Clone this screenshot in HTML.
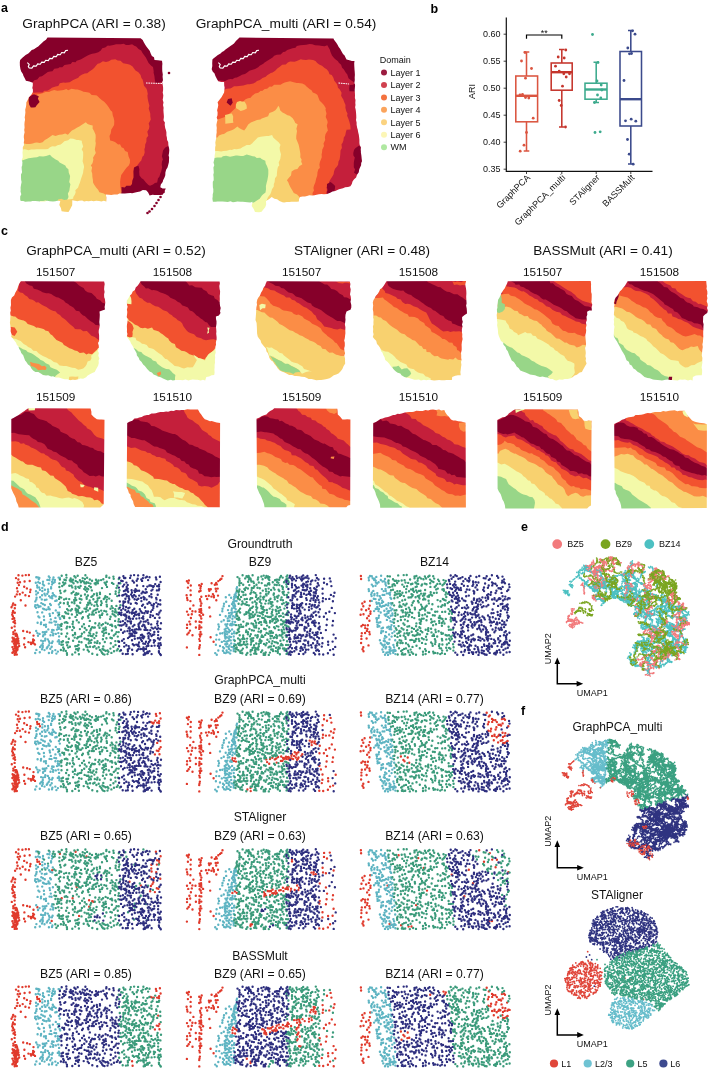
<!DOCTYPE html>
<html lang="en"><head><meta charset="utf-8"><title>Figure</title>
<style>html,body{margin:0;padding:0;background:#fff}svg{display:block}text{font-family:"Liberation Sans", Arial, Helvetica, sans-serif}</style></head>
<body>
<svg width="708" height="1069" viewBox="0 0 708 1069" font-family='"Liberation Sans", Arial, Helvetica, sans-serif'>
<rect width="708" height="1069" fill="#fff"/>
<defs>
<mask id="m1" maskUnits="userSpaceOnUse" x="0" y="0" width="708" height="1069"><polygon points="47.5,37.5 140.6,38.3 142.7,40 143.8,42.3 145.4,44.9 146.2,46.3 148.3,48.9 149.7,50.7 150.7,53.6 151.9,56 154,57.3 154.5,60 157.9,60.2 159.7,60.6 162,60.7 162.4,63.7 162.2,66.1 162.2,69 162.3,71.3 162.8,74.5 162.6,76.8 163,80.2 162.1,82.3 162.8,85.2 163.1,87.4 163.1,90.2 162.7,92.6 163.3,95.3 163.1,97.6 162.7,99.7 163.5,102.4 163,105 163.6,107.7 163.4,109.9 163.6,112.8 163.8,114.9 163.9,117 163.5,120.2 164.9,122.6 164.7,124.7 165.2,128 165.9,130 166.4,132.2 166.4,135.5 166.9,137.5 167.1,140 168.2,142 168.4,145.3 169,147.7 169.3,150 169.1,152.4 168.6,155.4 169.1,157.2 169,160 168.9,162.3 168.2,165.1 167.5,167.5 166.1,169.7 165.4,172.6 165.3,175.3 164.4,177.8 163.1,180.3 162.7,182.1 160.8,184.5 160.3,187.2 162.6,188.4 165.8,188.6 164.2,192 162.7,194.8 160.6,195 157.6,195 154.7,194.9 152.5,194.7 149.6,195.4 148,192.2 146.1,190.3 142.8,190.1 140.1,191.5 137.4,192.1 135.2,192.5 132.2,193.2 130.3,192.9 127.2,193.2 124.9,193.4 122.3,193.6 119.3,193.5 117.5,194.4 114.1,194.6 111.3,194.9 109,194.7 105.8,194.5 106.4,197.5 106.3,201.5 103.7,200.7 101.5,201.5 99,201 96.2,200.8 93.6,201.2 91.4,200.7 88.7,201.2 86.5,201 84.1,201.4 82.2,200.5 79.1,200.8 77.5,201.3 72.3,200.2 72.2,205.3 71.3,207 70,209.5 68.5,212 65,211.7 61.6,211.2 60.9,208 59.3,205.1 60.3,200.9 57.4,200.8 55.4,201.2 53,201.5 49.8,201.2 47.3,200.7 44.8,201.6 43,201.5 40.1,201.4 38.1,201.2 35.4,201 32.4,201.1 30.8,201.4 28.3,201.4 25.2,201.7 23.3,201 20.7,201.1 20.2,199.5 20.2,196.4 21.3,194.2 20.5,191.5 20.7,189.7 20.6,187.5 21,185.1 21.6,182 21.1,179.8 21,177.6 21,174.5 22.1,172.3 21.8,169.9 21.6,167.1 22.2,165.5 22.4,162.1 21.7,160.1 22.7,157.5 22.7,155.2 22.5,152.5 22.8,149.7 22.8,147.3 24,144.9 23.8,142.6 24.2,139.9 23.8,137.3 23.9,135.3 24.6,132.3 24.2,130 24.6,127.6 24.4,124.5 24.6,122.1 25.1,119.6 24.7,117.6 25.1,115.1 25.4,112.6 25.2,109.7 26,106.7 26.3,104.2 26.3,102.5 27.9,99.4 28.9,97.3 31.3,94.7 32.9,92.1 32.9,89.5 32.3,87.9 32.8,85.4 32.8,82.7 29.4,81.4 25.9,80.7 25,78.8 23.4,75.8 22.9,74.1 21.2,71.4 20.4,69 19.9,65.8 19.8,62.5 20.1,59.9 22.1,58 23.9,56.4 25.6,55 28.3,53.5 29.9,52.1 31.7,50.1 34,49.2 36.1,47.7 38.2,46.6 39.7,45 41.9,42.9 43.7,41.3 46,39.8" fill="#fff"/></mask>
<mask id="m2" maskUnits="userSpaceOnUse" x="0" y="0" width="708" height="1069"><polygon points="239.5,37.5 333.5,38.4 334,39.8 336.1,42.6 337.4,44.4 338.7,46.9 340.1,48.7 341.3,51.1 343,53.9 344.6,55.6 345.5,57.6 346.5,59.5 349.5,60.2 351.9,61.1 354.5,61.1 354.2,63.2 354.3,66 354.5,69.6 354.7,71.4 354.9,74.7 354.7,77.5 354.8,80.1 354.4,83 355.1,84.7 354.9,87.7 354.7,90 354.9,92.9 355,95.3 354.9,97.9 355.5,100 355.3,102.9 355.5,105 355.1,107.3 355.7,109.7 356,112.3 356.2,114.8 356.3,117.7 356,120 356.6,122.6 356.6,124.7 357.2,127.9 357.7,129.6 358.3,132.7 358.8,134.7 359.1,137.1 359.4,139.8 359.4,142.9 359.7,145 360.9,147.2 360.7,150.4 360.9,150.2 360.9,152.6 361.4,155.7 361.7,158.7 362,161.2 361.2,163.1 361.1,165.3 359.7,168.2 359.1,169.9 358.8,172.3 357,174.8 356.1,177.4 354.1,179.2 352.5,181.5 351.8,184 350.4,186.3 348,187 345.2,187.3 343,188.2 340,189.1 338.4,189.6 335.3,190.9 332.5,191.6 330.2,192.8 327.1,193.9 324,194.2 321.6,193.9 319,194.2 316.6,194.8 314.5,195.3 312.4,195.5 309.3,195.3 307,195.9 304.9,196.5 302.6,196.4 299.9,197 299,199 298.9,201.6 296.8,201.7 293.7,201.7 291.4,201.7 289.3,202 286.7,202.1 284.1,202.4 282.5,202.2 279.4,200.9 277.1,199.3 274.4,198.7 271.7,197.1 269.3,198.9 266,200.9 266.1,204.8 265.2,207.2 262.9,209.9 261.6,211.8 259.1,212.2 255,212 253.7,209 251.7,206.1 252.6,201.8 250.3,202.4 247.5,202.2 245.1,202 242.8,201.8 240.6,201.7 237.4,201.4 234.9,202.1 232.9,202.2 230.4,201.2 227.8,202 225.4,201.7 222.5,201.6 220.4,201.4 217.6,201.5 215.5,201.8 212.9,201.8 212.4,198.8 212.7,196.4 212.7,194.5 213.3,191.9 213.3,189.1 212.9,187.5 212.8,184.6 212.8,181.8 213.7,180.3 213.6,177 213.3,174.7 213.8,172.7 213.6,170 213.4,167.5 214.3,165.3 213.5,162.5 214.2,159.8 214.6,157.5 214.7,154.9 215.2,152.8 215.1,149.6 215.2,147 215.6,145.4 215.3,142.5 215.8,139.9 216.2,137.9 216.3,135 216.7,132.3 216.6,130.2 216.8,127.9 216.4,125.1 216.8,122.7 217.5,120.1 216.7,117.4 217.5,115.2 217.6,112.6 217.1,110.2 217.9,107.2 218.3,105 217.6,102.3 219.9,99.3 221.5,97.3 222.6,95.2 224.1,92.6 224.4,89.8 224.6,87.5 224.2,85.5 224.1,82 221.2,82.1 218.2,81.3 216.8,78.8 215.4,76 214.4,73.3 212.8,71.7 211.7,69.3 212.3,65.9 212.2,63.3 212.4,59.6 213.7,58.3 216,56.6 217.5,55.3 220.5,53.5 222,51.9 223.9,51 225.8,49.3 228,47.8 230.4,46 232.3,44.8 234,43.4 235.9,41.1 238,39" fill="#fff"/></mask>
<mask id="m3" maskUnits="userSpaceOnUse" x="0" y="0" width="708" height="1069"><polygon points="20.8,281.3 104.1,281.4 104.7,283.9 104.3,286.6 104.1,289.2 104.6,292.1 104.1,294.2 104.2,297.3 104.9,299.1 105.3,302.6 105,304.9 104.6,306.9 105,309.6 102.2,310.6 99.5,311.6 99.8,314.7 99.7,317.1 99.5,319.8 99.3,322.1 99.7,325.5 99.4,327.8 98.8,329.9 98.7,332.3 99.1,335.3 99.1,337.8 99.1,340.9 98,342.9 98.8,345.7 98.8,348.2 98,351 98.9,353.1 98.3,355.7 99.4,358.6 98.6,360.6 98.8,362.9 98.1,365.8 96.4,368.8 94.7,371.9 92.3,373.1 89.9,374.3 87.7,375.4 86.1,377.3 83.1,378.7 80.4,378.6 78.4,379.3 74.9,380 72.4,379.7 70.3,380.2 67.5,379.3 64.9,379.3 62.7,378.7 60.5,378 58.8,377.5 55.9,377.4 53,376.2 51.2,376.4 48.1,375.3 46.1,375.6 43,375.1 41.2,373.7 38.3,372.1 35.4,371.9 33.1,370.5 31.4,368.6 30.1,366 28,364.4 26.2,361.8 25.1,360.4 24,357.6 23.2,355.3 21.2,353.1 20.5,350.7 19.1,348.8 18.4,346.3 16.9,345.1 16.1,342.8 14.5,340.8 12.6,338.2 11.2,337.1 11.6,334.4 10.6,331.2 10.8,328.6 10.4,326.1 9.9,322.8 10.2,320.4 10.3,317.7 10.5,315.4 10.2,312.7 10.8,310.4 10.4,307.8 11,305.1 10.9,302.4 10.9,300.1 11.9,297.6 14.2,295.4 15.4,292.4 16.9,290.1 17.6,288.2 18.3,285.9 19.3,283.6" fill="#fff"/></mask>
<mask id="m4" maskUnits="userSpaceOnUse" x="0" y="0" width="708" height="1069"><polygon points="140.5,281.3 219.6,281.5 219.9,283.4 219.3,286.1 219.6,289 220.1,291.3 220,293.8 219.7,296 219.8,299 219.7,301.3 219.8,303.7 220.1,305.9 220.7,307.9 220,311.3 220.5,312.9 218.9,315.4 215.9,316.6 216,319 216.5,321.3 216.5,323.7 216,327 216.2,329.1 216.4,331.6 216.2,333.7 216.6,337.1 216.6,339.5 215.9,341.9 216,344.8 215.3,347.1 215.4,350 215.7,352.5 214.9,355.3 215.2,357.5 214.9,359.9 215,362.8 214.6,365 214.6,367.7 214.4,369.8 214.6,372.6 214.2,375 211.6,375.3 209.1,376.6 206.3,377.1 205.2,380.4 202.9,379.7 200.7,380.4 197.5,379.8 195.8,379.8 192.7,379.5 190,380.1 188.5,380.5 185.5,379.5 182.8,380.3 180.8,380.1 177.7,380 175.5,380.1 172.8,380.4 170.9,379.7 167.8,380.4 165.3,379.6 163,378.5 160.7,377.2 157.8,376.4 156.2,375.5 153.6,374.4 151.9,372.4 149.9,371.8 148.1,370.1 146.8,368.5 144.9,365.9 143.1,364.4 141.6,362.1 139.5,359.9 138.7,357.7 136.9,355.5 136.6,353.3 135.4,351.1 133.9,348.6 132.4,345.6 131,343.5 130.3,341.5 128.5,339.1 126.8,336.7 127.4,334.1 126.9,331.7 127,329.5 126.8,326.5 127,324.6 127.4,322.2 127.6,319.4 126.7,317.1 127.1,314.3 127.3,312.1 126.9,309.6 127.6,306.8 127,304.7 126.9,302.4 126.9,300.4 128.6,298.1 129.7,295.8 131.6,294.1 132.7,291.6 134.9,289.9 135.7,287.6 137.8,285.4 139.2,283.6" fill="#fff"/></mask>
<mask id="m5" maskUnits="userSpaceOnUse" x="0" y="0" width="708" height="1069"><polygon points="28.3,408.3 90.6,408.5 91.4,411.8 91.4,414.4 93.8,416.9 96.9,419.3 99.2,419.4 101.5,419.6 104.5,419.8 103.7,504.4 101.7,506.3 100.3,507.5 18.7,507.4 17.9,504.4 16.4,501.4 15.8,498.3 14.6,495.4 13.2,492.9 11.9,490.1 11.2,488.3 11.3,419 13.4,418 15.5,416.8 18.3,415.2 20,414.1 22.1,412.6 24.4,411.1 26,409.8" fill="#fff"/></mask>
<mask id="m6" maskUnits="userSpaceOnUse" x="0" y="0" width="708" height="1069"><polygon points="127.2,423 129.3,421.8 132.3,420.7 134.4,418.6 137.3,418.3 139.2,417.6 141.7,417 143.8,415.7 147,415.1 148.7,414.9 151.5,413.5 153.8,413.6 155.8,413.3 158.1,412.6 160.4,412.1 163.7,412 166.1,411.6 168.1,411.7 171,410.7 173.6,410.9 176,410.1 179.5,410.2 181.6,409.9 184.4,410 187.3,409.3 190.3,409.4 192.4,409.4 195.6,409.5 198,409.6 199.6,412.6 201.4,414.8 203,417.2 204.8,419.3 207.1,420 210,421.2 211.7,421 214.9,422 216.7,422.6 220.1,422.9 219.8,507.2 135.1,506.9 133.6,503.9 133.1,501.3 131.8,499 130.6,496.7 130.6,494.8 128.9,492.9 128,490 126.7,487.6" fill="#fff"/></mask>
<mask id="m7" maskUnits="userSpaceOnUse" x="0" y="0" width="708" height="1069"><polygon points="266.8,281.3 349.8,281.5 350.4,283.9 350,286.8 350.7,289.2 350.5,291.5 350,294.2 350.7,296.5 351,299.3 350.5,301.7 351.3,305 351.3,307.5 350.5,309.8 348.5,310.4 346.5,311.5 345.5,314.7 345.3,317.4 345.5,319.7 345.2,322.3 344.9,324.5 345.4,327.3 345.3,329.9 345.4,333.2 345.1,335.6 344.8,338.2 344.2,340.5 344.8,342.8 344.8,346.1 344.2,348.2 344.4,350.7 345.1,353.2 344.3,355.4 345.1,358.8 345,360.8 345.2,363.6 343.5,366.2 342.4,369 340.7,371.3 338.5,373.4 336.2,374.4 333.8,375.3 331.2,377.3 329.6,378.2 326.9,378.9 324.4,379.6 321.2,380 319.1,380 316.4,380.3 313.5,379.5 311.7,378.9 308.6,378.9 306.9,378 304.7,377.1 301.6,376.8 299.3,376.2 296.4,375.9 294.7,376.1 292.1,375.1 289.1,375.1 286.9,373.8 283.9,372.2 282.2,371.7 279.7,370.4 277.6,368.3 276.3,366 274.4,363.9 272.9,361.6 271.2,360.5 269.4,357.9 268.9,355.9 267.8,353.1 266.5,351.6 265.9,348.5 263.9,346.3 262.5,344.6 261.3,343 260.5,340.3 259,338.5 257.7,336.4 257.1,333.6 257,331.3 256.9,327.9 256.8,325.9 256.6,323.1 255.5,320 255.7,317.8 255.9,315.2 256.1,312.7 256.2,309.5 256.4,307.3 257,304.8 256.7,302.5 257.3,299.6 258.4,297.5 260,295.5 261,292.7 262.7,290.1 263.3,288.1 265.2,285.5 265.6,284" fill="#fff"/></mask>
<mask id="m8" maskUnits="userSpaceOnUse" x="0" y="0" width="708" height="1069"><polygon points="386.5,281.3 466.1,281 465.3,284.3 465.5,285.9 466,288.6 466.3,290.9 466.4,293.5 466.2,296.5 466.3,299 466.4,300.6 466.6,303.6 466.1,305.6 466.7,308.5 466.9,311.1 467,313.4 464.6,315.1 462.1,317.1 462.1,319.4 462.8,321.8 462,324.5 462.5,326.4 461.9,329.2 461.9,332.1 462.3,334.2 462.2,336.8 462.6,339.1 461.9,342.1 461.6,344.8 461.7,347.3 461.7,350 461,353 461.2,354.9 461.2,357.9 461.6,360 461,362.1 461.4,364.7 461,367.3 460.7,369.9 460.4,372 460.7,375.3 458,375.3 455.3,375.7 452.2,377 451.9,380 449.3,380 446.5,380.1 444.5,380.2 441.5,380.2 439.1,379.9 436.8,380.3 434.1,380.4 431,380 429.1,379.8 426.2,380.2 423.9,379.8 421,380.5 418.9,379.6 416.2,379.8 414.4,379.7 411.3,378.8 409,378 406.3,377.7 404.4,377 401.5,375.2 400.3,373.5 397.7,372.7 395.9,371.6 394.2,370 392.1,367.7 390.4,365.6 389.2,363.7 387.7,362.1 385.2,360 384.6,357.2 383.3,354.9 382.4,352.5 381.1,351.2 380.2,348.1 378.5,345.6 377,344 376.2,340.8 374.4,339.1 372.8,337 373.6,334.3 373,332.1 373.2,329 372.9,326.5 373.5,324.5 373.4,322.3 373.6,319.2 373.1,317.5 373.4,314.6 373.3,311.9 372.8,309.3 373,307.1 373.2,305.4 372.8,302.5 373.5,300.1 374.7,298.2 375.6,296.3 377.7,294.1 379.3,291.3 380.1,289.3 382,288 383.9,285.4 385.1,283.6" fill="#fff"/></mask>
<mask id="m9" maskUnits="userSpaceOnUse" x="0" y="0" width="708" height="1069"><polygon points="274.3,408.3 337.3,408.8 337.6,411.1 337.8,414.6 340.2,416.8 342.4,419.6 344.9,419.6 347.2,419.3 350.4,419.6 350.2,504.9 347.9,505.5 346.3,507.3 264.5,507.3 264,504 262.9,500.9 261.9,498.2 260.4,495.1 259.3,493.2 258.2,490.4 257,487.7 256.5,418.7 259.6,417.4 261.4,416.2 263.9,415.3 266.4,414.4 268.2,412.5 270.1,411 272.6,409.8" fill="#fff"/></mask>
<mask id="m10" maskUnits="userSpaceOnUse" x="0" y="0" width="708" height="1069"><polygon points="373.2,423 375.9,422 377.8,420.7 380.4,419 382.6,418.4 385.1,417.6 388,417 390.1,416.3 393.1,414.9 395,415 397.6,413.8 399.5,413.9 401.7,413.4 404.8,412.4 406.7,412.2 409.3,411.9 412,412.1 413.8,411.7 416.3,410.7 419.7,411.1 422.7,411 425.5,410 428.1,410.4 430.3,409.7 433,409.4 436,410 439.1,409.5 441.3,410.4 444.3,410 445.4,412.5 447.1,415 449.1,417.1 451,419.6 453.1,420.6 455.4,420.5 458.2,421.3 461,421.6 463,422 465.6,422.8 465.9,507.4 380.2,507.7 380,504.6 379,501.4 377.9,499 376.8,496.7 375.9,494.5 375.5,492.7 374.3,489.7 372.9,488" fill="#fff"/></mask>
<mask id="m11" maskUnits="userSpaceOnUse" x="0" y="0" width="708" height="1069"><polygon points="507.8,281.3 590.7,280.9 591.1,284.1 591,286.2 591.1,289.4 591.1,292 591.7,294 591.7,296.9 591.6,300.1 591.4,301.7 592.3,304.7 591.6,307.2 591.9,310.5 589.2,310.6 587.1,311.7 587.3,314.7 586.5,316.7 586.8,320.2 585.9,322.6 586.5,325.2 585.8,327.9 586.2,329.9 586,332.5 585.3,335.2 585.5,337.9 585.8,340.9 586,343.6 585.9,346 585.1,348 585.6,350.9 585.8,352.9 585.4,356.3 586,358.5 585.6,360.7 586.6,363.5 585.3,365.8 583.3,369.2 581.9,372 579.7,372.6 576.9,374.8 574.6,375.4 572.5,377.2 570.7,378.3 567.7,379 564.8,379 562.4,379.7 559.2,379.5 556.6,380.6 554.9,380.2 552.6,379 550.3,379.1 547.5,377.6 545.2,377.3 542.5,376.6 540,376.9 537.4,376.2 535,375.3 533.2,374.9 530,374.6 528,373.6 525.7,372.4 522.9,371.6 520.3,370.6 518.6,367.9 516.6,366.5 515.6,364.6 513.9,362.1 511.7,360.4 510.5,357.7 509.4,355.4 508.5,353.3 507.8,351.2 506.2,349.2 505.6,347 503.5,344.8 503.1,342.4 501,341 499.9,338.6 499,336.6 498.1,333.6 498,331.3 497.7,328.6 497.1,325.3 497.4,322.8 497,320.4 496.9,317.2 496.7,315 497.1,312.5 496.9,309.5 497.4,307.8 497.4,305.4 497.8,302.4 498.1,299.7 499.4,297.8 500.8,294.8 501.8,292.6 503.4,289.9 504.8,288.3 505.9,285.7 507.2,283.3" fill="#fff"/></mask>
<mask id="m12" maskUnits="userSpaceOnUse" x="0" y="0" width="708" height="1069"><polygon points="627.5,281.3 706.2,281 706.5,284.2 706.8,286.5 706.5,288.7 707.3,291.2 707.4,294 706.9,295.6 707.4,298.2 706.7,301.3 707.6,303.8 707.8,305.7 707,308 707.9,310.5 707.2,312.9 705,314.5 703.2,316.3 703.1,319.6 703,322 703.6,324.2 703.4,326.9 703.4,328.9 703.2,331.4 703.2,334.7 703.3,336.2 703.1,339.6 702.9,342.2 702.4,344.2 702.8,346.9 702.3,349.9 702.1,352 701.8,355.5 702.4,358 702.2,360.5 702.4,362.6 702,365 701.6,367.4 702.1,369.7 702.1,372.5 701.8,375.3 699,375.2 695.9,375.6 692.9,377.1 692.6,380.5 690.3,379.8 688,380.4 685,379.6 682.3,379.7 679.9,379.6 677.7,380.5 674.7,380.3 672.6,380 670.4,379.9 667.8,379.5 665.5,379.7 662,380.4 660.2,380.2 657.8,379.9 654.6,379.8 653,379.6 649.7,378.3 647.5,377.9 644.5,377 642.8,375.4 640.6,373.6 639.4,372.7 637.5,371.7 635.3,369.6 633.4,368.5 631.7,365.6 629.7,364.5 628.8,361.7 626.5,360.2 625.5,357.4 624.8,355.5 623,352.5 622,350.9 620.5,347.9 619.7,346.4 618,343.6 617,341.4 615.1,338.8 613.9,336.4 613.8,334.1 613.9,332.1 614,329.8 614.5,326.7 613.8,324.5 614.1,322 613.8,319.6 614.4,317.1 613.9,315.1 614,312.7 614.4,309.3 614.1,307 614.5,304.8 613.8,302.9 614.5,300.1 615.7,297.5 617.6,295.6 618.6,293.7 620,291.2 621.9,289.6 622.9,287.9 624.9,285.7 626.4,283.2" fill="#fff"/></mask>
<mask id="m13" maskUnits="userSpaceOnUse" x="0" y="0" width="708" height="1069"><polygon points="515.3,409.3 577.9,409.5 578.6,412.3 578.8,416.1 581.6,417.9 583.8,420.8 586.2,421.1 588.7,420.6 591.6,420.8 591,505.5 589.1,506.5 587.1,508.4 505.3,508.5 504.9,505.2 503.8,501.7 502.4,499.5 501.4,496.2 500.7,494.2 498.7,491.3 497.6,488.8 497.3,419.9 500.1,418.6 502.5,417.2 504.9,416.9 507.6,415.1 509,413.3 511,412 512.9,410.5" fill="#fff"/></mask>
<mask id="m14" maskUnits="userSpaceOnUse" x="0" y="0" width="708" height="1069"><polygon points="614.2,424 616.7,422.7 619.5,421.6 622,419.7 624.5,419 626.2,418 628.8,417.3 631,417.1 633.8,416.5 635.5,415.1 638.1,414.9 641.1,414.8 643.5,414.2 645.6,413.6 647.7,413.1 650.3,413.2 652.7,412.6 654.9,412.1 658.1,412.1 660.8,412.1 663.1,411.1 665.9,411.6 669.2,410.8 671.9,410.5 674.7,410.3 677.2,411.3 679.6,410.8 682,410.7 684.7,410.8 686.2,413.2 687.9,415.9 689.9,418 692.1,420.5 694.2,421.6 696.9,422.2 699.3,422.7 701.2,423.1 704,423.3 706.9,424.2 706.8,508 621.4,508.6 620.9,505 620,501.9 618.8,500.1 618.5,498.2 617.1,495.9 615.9,493.6 615.6,490.9 614.6,489.5" fill="#fff"/></mask>
</defs>
<g mask="url(#m1)">
<rect x="18" y="35.5" width="153" height="178" fill="#86002A"/>
<polygon points="32.5,82.5 34.2,80.2 37.3,79.5 39.4,76.8 42,76.3 44.4,74.6 47.8,71.9 50.1,71.4 52.4,71.3 54.3,68.7 58.2,68.3 59.5,67.2 62.3,67.3 64.5,65 67.6,64.6 70.8,64.1 72.3,62 75.6,62.3 76.7,60.8 80.6,59.6 82,58.8 85.4,56.7 87.7,55.6 89.2,54.8 92.2,53.8 95.2,53.3 98.3,52.2 100.8,50.6 102.2,48.3 105.2,47.6 107.8,45.6 109.5,45.7 113.5,45 116,44.2 120.7,44.3 123.8,43.7 125.9,44.9 128.9,45.1 132.1,44.2 134.3,45.8 136.2,46.4 138.5,49.1 141.2,50.6 142.5,53 143.8,54.8 146,57.7 146.7,59.3 148.6,62.9 151.2,65.8 153,67.1 153.7,71.3 153.6,72.7 154.4,76.1 154.7,78.7 155.4,83.1 158.5,82.7 162,82 165.7,82.2 167.3,82.4 170.9,82.5 173.8,82.3 175.9,82.9 178.5,82.9 181.2,81.9 183.3,83 187,83.3 189.6,82.6 191.4,83.1 194,82.4 196.7,82.3 199.7,82.4 200.4,230.1 -0.4,230.5 0.4,83.1 1.9,82.7 6.1,82.1 7.6,83 10.6,82.3 14.1,82.3 15.7,82 18.7,82.8 21.4,83 23.6,82.1 27.3,82.5 29.8,83.2" fill="#C41F3B"/>
<polygon points="42.5,92.5 44.3,90.8 47.2,90.8 50,89.2 51.8,87.7 55.6,86.5 58.3,85.9 59.8,83.2 63.4,82.6 65.2,82.8 69.6,82.2 72.8,80.3 74.3,79.4 78.3,77.8 79.4,76.2 81.7,74.7 84.8,73.4 87.2,73.2 89.4,71.5 92.4,69.4 94.1,68.1 96.1,65.4 97.7,63.8 99.8,63.3 102.9,61.3 106,62 108.9,61.3 111.3,59.8 115.3,59.2 117.7,60.6 120.5,60.8 123.2,63.2 127.3,64 130,64.8 132.6,66.4 134,68.4 135.5,70.4 138.4,72.3 140.6,75 141.4,78 142.6,79.4 143.2,81.7 144,85.8 146.2,88.3 147,90.1 147.8,94.1 147.4,95.5 147.7,98.6 148.3,101.4 149.4,105.8 148.7,108.5 149.5,111 150.3,113.8 150.3,116.2 150.8,119.5 148.7,123.6 149.4,126.3 149,128.8 147.3,131.7 148.3,135.8 146.5,137.9 146.4,141.7 145.2,144.6 145.1,147.1 144.4,149.3 144.7,152.5 143.8,155.6 142.4,156.8 141.2,160.8 140,161.8 137,165.8 135.8,167.1 134.7,230.4 0,229.5 0.8,93.2 2.4,92.2 5.3,93.4 7.4,92.2 11,93.6 13.1,92.8 16.2,92.8 18,92.4 20.8,92.2 23.2,92.5 26.1,93.3 28.9,93.4 32.4,92.2 33.9,92.7 37.1,92.6 39.2,92.6" fill="#F2522F"/>
<polygon points="26,99 28.8,98.2 31.9,96.6 34.3,96.7 37.5,94.3 39.9,93.9 42.5,93.3 45.5,92 49.1,91.9 50.9,90.9 54.2,90.1 57.3,90.8 59.9,90.6 63.7,89.9 66.3,88.9 68.2,90.2 71.6,88.7 75.7,89.4 77.5,89.6 80.8,90.4 83.5,91.7 87.2,92.3 89.5,92.7 91.7,94.9 95.4,95.2 96.9,95.4 99.4,97.9 101.7,100 104.5,102 107.1,104.9 108.7,107.3 110.7,110.5 112.2,111.8 112.8,115.4 113.7,118.1 114.3,121.1 114.1,124.9 112.2,128.2 111.3,129.4 110.7,133.5 109.5,136 110.2,140.4 112.4,141.1 115,142.1 118.1,144.5 120,144.2 121.7,147.4 123.5,148.1 125.1,151 127.7,152.1 128.5,156.3 130,159.7 129.9,163 128.8,165.6 126.7,167.6 124.4,170.6 122.7,172.9 121.2,175.1 120.4,179.3 120.1,182 120.3,186.6 120.9,189.9 123,192.6 123.3,195.5 121.7,198.6 122.4,201.2 123,202.6 121.7,205.1 123,209.1 122,210.6 122.3,214.4 122.9,217.2 123.3,219.7 123.1,221.1 121.7,225.3 122.7,227 121.9,229.7 -0.3,230 -0.1,98.5 1.9,98.5 4.6,98.3 7.7,98.4 10.9,99.1 12.9,99.2 15.1,98.2 17.5,98.7 20.6,98.6 23.1,99.6" fill="#FB8D46"/>
<polygon points="0,144 2.7,144.1 5.9,144.7 8.6,143.8 11.4,143.9 13,143.3 16,143.4 18.3,144.2 21.8,144.4 23.3,143.3 26.2,143.9 29.9,144.1 32.7,143.5 34.8,142.8 36.9,142.4 39.9,142.9 42.6,142.3 44.9,139.9 48,138.3 50.4,136.5 52.5,135 55.5,136 59.2,134.8 62.1,134.4 65.2,133.6 67.9,134.8 69.9,132.4 71.9,130.6 74.5,129.2 76.8,127.7 79.3,126.5 82.3,124.5 85.8,122.2 87.6,124 90.4,125 92.7,125.6 92.6,128.5 94,130.9 95.6,134.8 95.7,137.3 95.4,141.2 95.8,143.1 95.5,145.7 94.8,149.5 95.8,153.1 94.3,155.4 93,157.8 93.4,159.4 92.5,163.3 90.8,165.5 92.1,167.3 91.4,171 92.2,173.4 92.4,177 92.9,180 93.1,182.7 94.4,184.9 96.1,187.4 98.1,189.8 99.4,192.3 103.8,193.4 106.8,195.6 105.9,197.2 106.6,201.2 105.7,203.4 106.4,206 105.4,208 106.4,211.4 106.3,213.5 106.6,217 106,219.8 105.7,222 106,225.4 106.7,227 106.5,229.7 0.7,230.7" fill="#F8D16F"/>
<polygon points="0,150 2.7,150.4 5.7,150.6 7.6,150.8 10.7,150.4 13.7,150.7 15.6,149.8 19,150.1 21.7,149.8 24.7,149.2 26.9,149.8 28.4,150.3 31.1,149.5 34.2,149.4 36.6,149.3 40.4,149.3 41.9,149.3 45.7,149.2 48,149.1 50,147.2 52.3,146.2 55.2,146.5 57.5,145.3 60.7,144.6 62.8,142.8 64.3,141.3 68.1,140.2 70.3,138.6 73.3,138.8 76.7,140 78.6,140 81.8,140.8 81.9,142.5 83.2,146.4 81.7,149.3 83.1,151.9 83.2,155.1 83,158.3 82.6,161.3 83.7,164.7 84.1,166.9 83.4,170.1 83.1,172.8 82.1,175.8 80.9,179.2 79.9,182.8 79.2,184.2 78,187.8 75.3,190.3 75.7,192.3 74.9,194.4 73.3,197.1 73,199.7 72.1,203.6 72.4,205.4 72.8,207.6 73,211.2 72.5,214.1 73.1,215.7 73.3,219.1 73,222.1 73.3,225 72.1,226.7 72.3,229.6 -0.5,230.1" fill="#F3F9A8"/>
<polygon points="0,160 2.3,160.8 6,160.7 8.4,160.6 9.7,160.2 12.7,160.4 15.6,160.1 18.4,160.1 21.6,160.8 23.5,159.9 27.1,158.7 28.5,158.3 32.3,157.8 34,157.5 37,157.2 39.4,156.2 43.1,156.5 46.1,156 49.9,154.8 52,156.9 55.7,159.6 58.2,160.8 59.6,162.5 62.5,164 65.3,165.5 66.3,167.6 68.4,169.3 68.8,172.8 70.1,176.1 69.8,178.7 69.2,182.1 70.4,184.3 69.8,187.5 69.3,190.8 67.9,193.4 68.5,197.1 66.8,200.7 67.1,202.6 -0.8,202.7 0.1,201 -0.3,197.6 -0.7,195.3 -0.3,192 -0.4,190.1 0.8,186.3 -0.1,183.5 0.4,182.2 -0.6,179.1 -0.3,176 0.1,173.2 0.3,170.5 0,167.8 -0.1,164.8 -0.2,162" fill="#98D688"/>
<polygon points="58,199.5 61.3,198.8 64.2,200.1 67.6,199.5 70.2,199.3 73,198.8 73.3,202.4 72.6,204.7 73.4,207.5 73.8,211.1 73.6,212.3 69.3,212.6 66.8,213.3 64.6,213.1 61.2,213.1 57.2,213 57.5,210.2 57.2,207.9 58.7,204.2 58.1,201.4" fill="#F8D16F"/>
<polygon points="40,201 43.2,200.9 46.4,200.3 46.3,204.8 43.2,204.4 39.7,204.6" fill="#F3F9A8"/>
<polygon points="134,167.5 136,166.6 138.5,165.8 139.4,169.2 139.2,171.8 139.5,175.5 141.6,178.2 143.3,179.2 145.9,182.4 148.4,184.9 150,185.7 153,184.6 154.9,183 157.2,182.4 157.9,178.6 159.5,176.5 160.2,173.7 161.2,171.4 162.1,167.6 161.7,164.4 162,161.4 162.9,159.4 161.9,156.3 162.7,152.3 163,150.4 165,147.8 167.6,146.2 172,147.3 174.2,147.2 175.2,199.8 121.9,200.5 122.8,197 121.3,193.8 121.6,190.7 121.5,187 124.7,187.4 126.4,185.8 130.5,185.7 132,183.9 132.3,180.7 133.5,177.5 133.5,174.7 133.4,171.5" fill="#86002A"/>
<polygon points="29,97 32.9,94.6 34.7,94.6 38.8,96.3 37.9,98.7 39.6,101.9 36.7,105.2 35.4,107.2 33.2,107.4 30.8,107.5 29.2,104.8 28.8,102.4 28.5,100.6" fill="#86002A"/>
<polygon points="20,99 22.5,98.2 24.8,99 28.1,98.3 28.1,100.8 28.4,104.1 25.5,105.3 22.6,105.9 20.4,101.9" fill="#FB8D46"/>
</g>
<circle cx="169" cy="73" r="1.3" fill="#86002A"/>
<circle cx="160.5" cy="197" r="1.3" fill="#86002A"/>
<circle cx="158.5" cy="200" r="1.3" fill="#86002A"/>
<circle cx="156.5" cy="203" r="1.3" fill="#86002A"/>
<circle cx="154.5" cy="206" r="1.3" fill="#86002A"/>
<circle cx="152" cy="209" r="1.3" fill="#86002A"/>
<circle cx="149.5" cy="211.5" r="1.3" fill="#86002A"/>
<circle cx="147.5" cy="213" r="1.3" fill="#86002A"/>
<circle cx="157" cy="193" r="1.3" fill="#86002A"/>
<circle cx="160" cy="193" r="1.3" fill="#86002A"/>
<circle cx="163.5" cy="192" r="1.3" fill="#86002A"/>
<circle cx="153" cy="192.5" r="1.3" fill="#86002A"/>
<circle cx="150" cy="191" r="1.3" fill="#86002A"/>
<polyline points="27.3,62.7 29.2,64.3 28.3,66.7 29.2,67.9 31.9,68.1 33.5,65.9 36.2,66.1 37.7,63.9 40.3,64.2 41.7,62.1 44.3,62.4 45.7,60.3 48.3,60.6 49.7,58.4 52.3,58.6 53.7,56.4 56.3,56.6 57.7,54.4 60.3,54.7 61.7,52.5 64.3,52.8 65.7,50.6 68,50.3" fill="none" stroke="#fff" stroke-width="1.1"/>
<polyline points="146,83 162.5,83.5" fill="none" stroke="#fff" stroke-width="1" stroke-dasharray="1.6 0.8"/>
<g mask="url(#m2)">
<rect x="210" y="35.5" width="154.5" height="178.5" fill="#86002A"/>
<polygon points="225,81 228.2,79.6 230.8,78.9 232.4,79.2 234.8,77.7 236.9,77.6 240.8,75.4 241.9,74.7 245,74 247.2,72.5 249.4,70.7 251.8,70 255.1,68.9 258.2,67.2 259.7,65.8 263.3,63.8 264.6,62.4 267.8,60.5 269.4,59.6 272.6,57.6 274.2,55.8 276.8,54.7 280.7,54.4 283.1,52.1 285.1,51.7 287.2,50 290.4,49.1 292.5,48.3 295.5,47.7 296.8,46 300.2,45.3 303.4,45 306.3,44.7 309.6,43.9 312.3,44.3 315.1,45.2 319.3,45.6 322.2,46 324.6,46.2 327.3,45.3 329.9,49.7 330.4,51.8 332,55.4 333.6,57.6 335,59 338,61.2 338.6,62.5 341.1,64.7 342.1,67.7 343.7,69.2 346,72.9 347.2,74.3 348.5,78.3 350,79.6 353.2,81.7 355,83.4 352.9,84.8 349.6,85 349.2,88.4 349.5,91.2 400.4,92.4 399.2,229.4 190.4,229.7 189.4,81.3 193.5,80.8 195.5,81.1 198.2,81.2 201.5,81.6 204.1,81.3 206.6,81.4 209.3,81.3 212,80.2 213.7,81.3 216.8,80.5 219.9,80.5 222.7,80.7" fill="#C41F3B"/>
<polygon points="224,90 226.6,88.8 230.1,88.4 231.4,88 234.1,86.3 236.8,86.2 241.2,85.7 243.3,85.6 247.5,84.2 249.6,84.3 253.3,83.6 255.6,82.2 257,80.9 259.9,79.9 262.5,78.1 265.7,76.7 267.2,75.3 270.8,73.1 272.6,72.6 275.2,70.7 277.3,68.4 279.8,66.8 282.2,64.8 285.8,64.4 287.8,62.6 290.1,61.4 294.5,61.8 296.8,61 300.8,59.2 302.9,59.8 306,60.1 309,59.4 313.1,59.9 315.5,60.9 317.2,63 319.2,64.4 322,65.8 324.6,68 326.7,69.2 328.5,71.6 329.5,74.2 331.8,75 333.4,77.7 334.3,80.8 336.4,83.3 337.4,84.9 338,87.8 339.8,89.5 341.6,92.7 341.1,95.8 342.5,98.2 343.2,99.2 344.3,102.3 345.5,105 345.4,107.8 346.3,111.2 347.5,113.6 347.1,115.8 348.5,119.1 349.6,122.4 350.3,125.5 350.6,129.4 346.6,129.8 345.8,132.4 345.3,135.2 343.7,137.7 343.5,140.2 342.5,143 341.5,144.3 341.9,148.1 340.5,150.4 340.4,153 340.1,156.2 339.6,159.6 338.5,161.6 338.1,164.7 337,166.6 335,168.7 334,171.6 333.6,174.2 332.5,176.3 330.4,179.4 329,182 329.1,184.4 326.5,187.2 327,190.2 326.2,192.8 327,194.7 326.5,197.1 327.4,200.1 326.5,203.4 327,206 326.3,208.7 326.5,210.9 326.9,213.3 325.7,216.5 326.2,218.6 326.6,222.7 326.2,224.8 325.7,226.7 325.7,230.4 190.6,229.8 189.7,91.7 192.7,91.5 195.3,92.2 197.3,91.8 200.1,90.9 202.9,91.4 205.6,90.9 208.5,90.9 211.5,91.6 214.3,90.9 215.6,90.3 218.4,90.4 220.7,90.9" fill="#F2522F"/>
<polygon points="190,122 192.6,122 195.1,122.4 197.1,122.3 200.9,121.8 203.7,120.6 206.4,121.2 207.9,121.3 211,120.9 213,120.7 215.5,119.4 218.3,119.2 222,117.9 224.2,117.2 228,114.8 229.2,113.7 231.9,111.4 233.7,109.8 236.2,107.5 237.6,105.9 240.1,103.2 242.4,102.3 245.6,99.2 248,98.2 250.6,97.7 252.2,95.7 255.1,93.6 258.3,92.8 260.8,90.8 262.1,91 264.7,89 267.1,88.7 269.7,86.4 271.8,86.7 274.2,84.7 277.2,84.7 280.6,84.7 282.5,83.4 284.7,82.5 286.7,82.1 290.1,81.3 293.6,82.3 296.8,83 298.3,83.1 302.2,83.6 304.8,84.8 306.5,86.5 309.5,89.1 311.5,90.2 312.8,92.5 315.9,93.7 317.5,95.1 318.3,97.2 319.7,100.8 321.8,102.8 323.9,104.9 325.8,108.3 325.5,109.7 326.5,113.5 325.7,116.9 327.2,120.3 327.7,122.3 326.8,125.7 327.9,130.6 326.5,132.6 325.5,134.2 324.9,137.2 325.2,140 323.5,143.4 324,146 322.3,149.6 322,152.7 321.6,154.2 321.8,157.3 320.6,160.3 320,161.8 319.4,164.4 319.9,168 318.4,169.2 317.5,172.2 317.2,175.7 316.2,178.4 315.3,182.4 314,185.4 313.4,188 314,190.5 312.5,192.9 312.7,194.8 312.5,197.4 311.6,201 312.4,203.5 311.3,205.6 311.2,208.5 312.1,211 311.9,213.8 311.2,216.4 312.4,219.3 311.2,221.4 311.5,223.8 311.8,226.9 311.9,230.4 190.8,230.1" fill="#FB8D46"/>
<polygon points="190,138 192.6,137.5 196,137.7 198.1,137.8 200.5,137.8 204.2,136.8 206.3,137 209.2,137.5 210.8,136.5 214.3,137.7 217.5,137.6 218.9,135.5 222.1,134.3 224,134 227.2,131.8 229.5,131.1 232.4,130 234.2,129 237.4,126.6 239.1,127.9 241.9,129.6 244.2,130.5 246.1,128 248.2,124.4 250.8,122.4 253.3,121.4 254.6,120.9 257,120.1 260.4,119.4 261.7,118.6 264.6,117.4 268.1,116.2 269.4,113.1 272.9,111.8 275.4,110.2 277.1,108.1 278.3,105.7 279.3,107.3 280.3,110.6 282.5,112.5 284.6,113.5 287.5,115.2 289.7,115.7 292.7,118.3 294.3,120.8 295.3,123 297.6,124.2 296.4,128.7 297,131 296.3,135.7 296.2,138.4 296.7,140.1 298.5,144.2 299,146.3 299.6,149.3 300.2,152.7 300.4,154.2 300.3,157.2 301.6,159.6 301.2,161.8 302.4,164.2 299.3,166.2 297.4,168.9 294.8,169.6 291.6,171.6 291,175.4 289.1,177.5 286.9,180.2 288.3,182.3 289,184.2 290.3,186.9 292.4,190.5 293.8,193 297.1,194.4 299.4,197 299.3,200.2 299.7,202.6 298.5,205.5 299.3,208 298.8,211.6 299.8,213.9 299,216.5 298.5,218.2 298.6,221.9 299.8,224.9 299.2,226.6 299.6,229.2 189.5,230.1" fill="#F8D16F"/>
<polygon points="190,151 192,150.9 195.1,150.9 197.9,151.6 201.2,151.4 204.6,151 206.6,150.4 209.9,150.3 212,150.4 215.4,150.9 217.8,150.9 221.2,151.5 223.3,151.1 226.7,150.7 230,149.7 231.7,150 234.2,148.9 236.6,149.3 240.5,148.5 242.8,147 244.5,146.3 246.6,145.1 250,144.9 252.3,143.3 253.3,142 255.9,139.6 257.8,137.6 260.7,136.8 262.5,136.5 266.5,136.1 268.6,135.9 272.1,134.9 273.2,137.5 275.4,139.6 278.6,142.2 280.5,144.8 279.6,147.8 279.9,150.4 281,154.3 280.5,157.4 280.3,158.9 278.7,162.5 279.3,165.4 278,166.7 277.4,169.3 277,172.3 276.8,176 275,178.3 274.6,182.3 273.8,183.9 273.8,186.6 272,189.3 271.2,192 270.3,194.2 267.9,197.3 266.7,200.6 266.1,202.2 266.7,205.1 266,208.3 265.9,210.4 266.7,213 265.7,216.7 265.6,218.3 265.3,222.2 266,224.3 266.6,227.5 265.5,229.5 190.7,229.8" fill="#F3F9A8"/>
<polygon points="190,157.5 192.1,158 196.4,157.4 199.1,157.4 201.3,158.2 203.4,156.7 206.1,156.7 209.3,156.9 211.5,157.2 214.8,158.1 217,157.5 221.4,157.4 222.9,156.2 226.1,155.7 230,156.7 232.5,156.3 235.8,155.6 237.2,155.4 240.9,156 243.2,155.9 246.7,154.4 250.2,155.6 252.7,156.2 254.9,156.5 256.7,158.1 260.1,157.7 262,159.2 265.3,160.8 265.7,163.4 267,165.9 268.3,169.8 268.3,174 268.1,176.1 267.4,180 266.6,183 265.9,186.1 266,189.3 265.5,192.5 262.9,194.5 261.7,195.8 259.7,198.7 256.9,200.6 254.2,202.3 250.1,203.7 190.2,202.2" fill="#98D688"/>
<polygon points="226,202 229.4,202.7 232.4,202.7 234.3,202.1 234.9,206.6 232.6,206.7 229.8,206.8 226.1,207.5" fill="#98D688"/>
<polygon points="237,102 240,101 241.8,101.5 244.7,101.7 246.5,105.1 246.9,108.6 244.1,110.1 240.7,111.1 238.4,109.4 235.8,107.9 235.9,104.4" fill="#F8D16F"/>
<polygon points="225,115 229.2,114.1 231.9,113.4 233.2,116.4 233,120.2 233.4,122.8 229.3,123.3 225.3,123.7 225.3,121.5 225.2,117.3" fill="#F8D16F"/>
<polygon points="228,99 231.7,98.2 232.7,102.8 230.5,105.8 226.6,102.5" fill="#86002A"/>
<polygon points="354,150 355.3,148.2 358.8,145.7 361.1,146.8 364.4,148.3 364.2,151.6 364.3,153.2 363.8,156.5 364.3,158.5 364.5,161.7 364.5,163.8 363.7,166.4 363.9,169.6 361.7,171.2 360.6,173.6 357.7,175 354,172.8 355.1,169.4 353.8,167.3 353.8,163 354.1,160.8 354.8,157.6 353.4,155.4 353.3,153" fill="#86002A"/>
<polygon points="327,184 330.6,182 333.1,183.9 335.1,186 335,188.2 334.3,190.9 335.5,193.2 332.1,194.2 329.8,194.6 327.6,195.7 327.1,191.7 327.6,190.1 326.9,187.3" fill="#86002A"/>
</g>
<polyline points="218.3,62.7 220.2,64.3 219.3,66.7 220.2,67.9 222.9,68.1 224.5,65.9 227.2,66.1 228.7,63.9 231.3,64.2 232.7,62.1 235.3,62.4 236.7,60.3 239.3,60.6 240.7,58.4 243.3,58.6 244.7,56.4 247.3,56.6 248.7,54.4 251.3,54.7 252.7,52.5 255.3,52.8 256.7,50.6 259,50.3" fill="none" stroke="#fff" stroke-width="1.1"/>
<polyline points="338.5,83 349,84" fill="none" stroke="#fff" stroke-width="1" stroke-dasharray="1.6 0.8"/>
<text x="1" y="12" font-size="12.5" fill="#000" font-weight="bold">a</text>
<text x="22.3" y="27.6" font-size="13.7" fill="#111">GraphPCA (ARI = 0.38)</text>
<text x="195.7" y="27.6" font-size="13.7" fill="#111">GraphPCA_multi (ARI = 0.54)</text>
<text x="379.8" y="63.3" font-size="9" fill="#111">Domain</text>
<circle cx="384" cy="72.5" r="3" fill="#9B1C40"/>
<text x="390.4" y="75.7" font-size="9" fill="#111">Layer 1</text>
<circle cx="384" cy="85" r="3" fill="#D0414F"/>
<text x="390.4" y="88.2" font-size="9" fill="#111">Layer 2</text>
<circle cx="384" cy="97.4" r="3" fill="#F4723F"/>
<text x="390.4" y="100.6" font-size="9" fill="#111">Layer 3</text>
<circle cx="384" cy="109.8" r="3" fill="#FBA45C"/>
<text x="390.4" y="113" font-size="9" fill="#111">Layer 4</text>
<circle cx="384" cy="122.3" r="3" fill="#FBD380"/>
<text x="390.4" y="125.5" font-size="9" fill="#111">Layer 5</text>
<circle cx="384" cy="134.8" r="3" fill="#FCF6B6"/>
<text x="390.4" y="137.9" font-size="9" fill="#111">Layer 6</text>
<circle cx="384" cy="147.2" r="3" fill="#AFE8A1"/>
<text x="390.4" y="150.4" font-size="9" fill="#111">WM</text>
<g mask="url(#m3)">
<rect x="8" y="279.3" width="99" height="103" fill="#C41F3B"/>
<polygon points="73.3,263.3 73.5,266.4 72.7,268.6 73.9,271.9 72.6,275.7 73.2,279.1 72.9,280.6 76.5,282.9 78.8,285.3 81.1,286.8 83.6,288 85.1,290.5 87.6,292.3 91.5,293 94.1,295.4 95.5,296.7 96.8,298.7 100.5,300.6 102,302.5 104.8,303.4 107.1,305.2 108.6,306.3 111.1,306.4 113.9,308.4 117.3,308.2 119.8,310.8 122.4,311.3 124,312.9 126.3,313.3 2999.5,3000.7 -3000.5,2999.2 -3000.6,263.8" fill="#86002A"/>
<polygon points="25,263.3 24.4,266.5 24.3,269.3 25.4,273.1 25,276.2 24.2,278.4 25.1,281.8 26.4,283.6 29.8,285.4 32.3,286.1 33.8,288.7 37.2,289.4 40.6,291 42.5,292.3 46.1,293.3 48.8,293.2 51.2,294.1 53.7,295.7 56.5,297.3 58.3,297.4 61.4,299.2 63.8,300.6 65.4,302.5 68.2,304.1 69.4,305.3 71.7,306.6 73.7,307.7 76,310.8 79.3,311.3 80.9,313.4 83.1,315.6 84.8,315.9 87.8,318.9 89.4,320.2 90.7,321.2 93.6,323.1 95.7,325.1 99,325.3 101.4,326.2 105.4,325.4 107,325.5 110,326.7 113.3,325.8 116.3,325.7 117.9,327.1 120.4,325.9 123.4,326.7 126.7,326.3 3000.8,2999.7 -2999.5,2999.4 -2999.3,263.6" fill="#C41F3B"/>
<polygon points="20,263.3 19.6,266.8 21,269.3 19.7,272.4 20.4,274.9 20.1,277.8 21.2,280.8 19,283.9 18.7,287.1 18,290.5 20.2,292.5 22.8,293.1 25,295.2 27.3,296.4 29.3,299 32.5,299.7 34.6,301.1 36.2,302.4 38.3,302.2 41.8,304.7 44.2,305.9 46.5,307.1 48.8,308.7 50.5,309.8 53.4,311 55.4,311.3 57.6,313.7 60,315.1 61.8,317.2 64.5,319.1 66,320.2 68.2,322.4 70,324.2 73.5,326.9 75,329 77.2,329.2 80.5,329.2 83.2,331.3 86.9,330.9 89.8,334.1 91.4,335.8 94.8,337.1 97,338.8 98.8,340 101.2,339.8 103.9,339.5 106.8,339.6 110.8,339.8 113.7,340.8 115,340.4 117.8,341.2 121.8,339.9 123.9,341.5 127.1,340.2 3000.3,2999.2 -3000.1,3000.5 -3000.6,262.6" fill="#F2522F"/>
<polygon points="-10,314.2 -7.6,313.6 -4.1,315.1 -1.5,314.8 0.6,314.3 2.9,315 5.2,314.9 8.1,314.4 10.6,315.4 13.8,316.4 15.2,316.4 18.1,319.1 21.3,319.9 23.7,320.4 25.9,321.7 27.7,323.9 30.1,324.7 33.9,326.1 36.4,327.7 37.7,327.6 41.7,328.5 44,329.2 45.3,330.4 48.4,331.2 50.5,334.3 52.5,335.4 53.9,337.2 56.5,340 59.8,341.4 62.4,342.8 63.9,345 65.9,346.1 69.5,348.2 71.9,348.9 74.8,350.6 77.2,351 79.8,352.9 83.8,352.6 86.4,354.5 88.4,353.6 92.1,354.3 93.1,353.3 96.2,350.2 98.3,349 101.2,347.3 103.4,348.6 106.3,348.3 109.9,348 112.4,346.8 114.7,347.6 118.8,347.2 120.9,346.4 123.8,347 127.1,346 3000.3,3000.5 -3000.7,3000.3 -3000.5,313.5" fill="#F8D16F"/>
<polygon points="-10,335.8 -6.9,335.1 -3.9,335.4 -2.4,336.9 -0.2,335.9 3.3,336 5.9,335.9 8.7,336.3 10.6,337.1 13.3,338.4 16.1,339.1 18.5,340.2 20.7,340.9 23.7,343.9 26.5,345.4 28.1,347.1 31,348.3 33.3,350.8 36.4,351.1 38.8,353.6 40.8,354.8 42.9,356.1 46.4,357.6 48.9,359.1 50.7,359.4 53.8,361.9 56.9,362.7 59.6,365.4 63.5,366 66.3,366 69.6,367 72.2,367.8 75.1,368.1 78.2,369.7 80.7,369.2 83.2,368.5 85.1,366.8 86.5,364.7 87.6,361.5 90.4,360.5 91.5,358.2 91.1,355.8 94.7,352.4 96.7,351.1 98.1,347.9 100.8,348.2 104.2,347.5 107.1,347.7 109.6,347.9 112.3,346.7 115.3,347.7 118.5,347.2 120.3,347.2 124.6,346.6 126.6,346.5 2999.4,3000.3 -2999.2,2999.8 -3000.8,335.4" fill="#F3F9A8"/>
<polygon points="-10,345.8 -7.1,346.1 -3.6,345.3 -1,346.1 2.1,346.1 3.6,345.6 7.7,346.2 9.1,346.1 11.9,346.3 15.3,347.1 18.5,346.7 20.5,347.8 23,349.2 26.1,350.3 27.7,352.1 31.4,353.3 33.9,354.7 35.6,356.1 39.1,358.5 40.3,359.7 43.2,360.9 45.8,363.3 49.2,364.8 50.5,367.3 53.3,368.5 56.8,369.7 60.1,372.4 56.6,375.1 55.2,376.2 55,379.9 54.4,382.6 55.4,385.2 54.5,387.9 54.6,389.7 55,392.2 54.8,395.7 54.4,397.8 55.1,400.9 55.6,403.5 3000.2,3000.5 -2999.9,3000.1 -3000.2,345.7" fill="#98D688"/>
<polygon points="10.3,326.7 14.7,327.4 17.3,331.7 14.6,336 9.9,334.1 9.6,329.6" fill="#F2522F"/>
<polygon points="30,361.7 33.4,363.1 35,363.2 38.9,364 41.9,366.3 44.7,365.7 46.6,367.8 45.6,370 42.2,369.7 38.3,370.3 35.8,367.9 33.7,366.8 30.9,366.1" fill="#FB8D46"/>
<polygon points="69.2,376.7 72.1,376.5 75.7,376.8 78.5,376.4 77.5,380.2 73.9,379.7 71.6,380 68.8,380.5" fill="#F8D16F"/>
<polygon points="55,340.8 59,342.2 57.3,345.3 54.9,345" fill="#F8D16F"/>
</g>
<g mask="url(#m4)">
<rect x="125.2" y="279.3" width="97.3" height="102.7" fill="#C41F3B"/>
<polygon points="184.7,263.3 184,267.2 185.1,268.9 184.7,272.7 184.6,275.5 185.1,278.2 185.4,281 186.9,282.5 189.3,285.4 192.1,285.2 195.3,287.2 198.1,287.6 201.8,287.8 203.1,289.6 206.5,291.2 208.3,293.9 212,295.5 213.8,296.1 214.7,298.4 217.3,300 219,302.1 222.3,302.5 224.7,303.8 226.5,304.6 229.6,305.6 231.6,306.1 234.1,307.8 237,308.1 239.6,309 242.2,310.2 245.3,311.5 2999.9,2999.3 -2999.2,3000.8 -2999.8,263.6" fill="#86002A"/>
<polygon points="140.5,263.3 139.7,267 140.9,268.7 140,272.5 140.2,275.2 140.9,279.2 140.4,282.1 141.7,284.4 144.2,286.6 145.9,288.6 148.2,288.3 151.9,290.2 153.7,290.1 157.2,290.8 160.5,292.5 163,293.3 165.6,294.2 168.4,295.8 170.4,297.8 173.3,299.1 175.1,299.8 178,302 180,302.7 182.4,305.6 184.9,306.2 187.9,307.5 189.8,310.6 192.2,311.2 194.1,312.8 196.6,315.6 198.1,316.3 201,318.8 202.1,319.3 205.2,322 207.2,322.6 208.9,324.9 210.9,327 217.1,327 219.9,326.7 221.5,327 225.3,327 228.4,327.8 230.3,327.3 233.9,326.7 236.6,327.4 239.5,326.7 241.7,327.4 245.4,327.7 2999.6,3000.4 -2999.5,2999.2 -3000.4,263.4" fill="#C41F3B"/>
<polygon points="133.8,263.3 133.6,266.5 134.5,268.2 134.7,272 134.2,273.9 134.2,277.5 135,279.9 134.6,283.3 134.2,285 134.6,287.5 135.2,290.8 136.1,293.3 138.4,296.3 139.2,297.5 142.3,298.8 143.8,300.5 147.3,302.8 149.9,302.8 152.6,304.8 155.4,306.2 158.3,306.7 160.9,308.6 163.3,310.3 167.1,311.4 169.6,314.1 172,315.2 172.9,316.6 176.1,318.6 177.8,320.3 180.4,321.5 182.1,323.3 183.4,326.2 184.1,327.2 186.6,330.4 188.2,332 190.2,332.9 194.1,334.3 196.6,337.1 198.3,337.6 201.2,338.3 203.1,339.5 206,340.2 210.2,339.4 213.7,339.2 216,339.9 218.6,339.7 221.9,340.4 224.3,339.9 227.8,340.8 230.2,340.5 232.8,339.5 235.7,339.8 239,340.4 241.7,340.7 244.2,339.9 3000,2999.2 -2999.4,3000.3 -2999.3,263.9" fill="#F2522F"/>
<polygon points="108,317.5 110.3,317.2 113.4,318.2 115.8,317.9 119.8,318.2 122.3,317.9 124.7,318.6 127.8,318.2 129,320.5 131.8,322.1 134.7,324.5 137.8,325.8 140.3,327.7 142.8,328.2 145,327.7 147.9,328.7 152,327.6 153.7,330.1 155.8,330.5 158.8,331.4 160.8,333.2 162.6,334.2 166.2,337.2 168.3,338.5 169.2,340.4 171.9,342.9 174.9,344 175.9,347.3 179,348.9 181.3,350.7 184.7,351.2 187.1,352.6 189.5,354.3 192.8,355.2 196,356.8 198.3,358.1 202.1,359.1 204.8,359.6 205.9,357.6 208.1,355.2 209.2,354 213.4,350.7 214.8,348.4 217.8,347.4 221.3,347.6 222.7,347.9 225.6,348.2 229,347.4 231.9,347.9 234.6,346.9 236.7,347.7 239.3,346.6 242.2,346 244.6,346.7 3000.5,3000 -2999.6,2999.3 -3000.8,316.8" fill="#F8D16F"/>
<polygon points="108,335.8 111.1,336.3 113.5,335.4 116.4,336 118.6,335.4 121.6,336 124.9,336.8 126.7,336.4 129.5,336.6 132.5,337.2 135.6,337.8 136.3,340.3 139.7,341.7 142,343.8 144.1,344 146.7,345 148.7,347.7 151.9,348.5 153.8,349.3 156.5,351.4 158.5,352.9 162,355.2 162.9,356.5 165.3,358.9 167.1,359.2 169.7,361.7 172.3,363.8 174.7,365.9 178.5,366.6 182.1,368 184,368.4 187.5,367.3 189.9,367.4 192.8,367.3 194.8,363.9 196.9,359.9 194.9,357.6 193.2,354.4 196.7,356.8 198.4,357.9 201.5,358.8 205,360.6 206,358.3 208,354.8 209.4,353.4 212.3,351.5 216.1,348.5 218.1,347.8 221.2,348 223.1,348 226.9,348 229.2,348.1 231.4,347.6 234.9,347.8 236.1,347.5 240,346.7 242.7,347.5 243.8,347 3000.7,3000.2 -3000.2,2999.2 -3000.6,336.6" fill="#F3F9A8"/>
<polygon points="108,347.5 110.4,346.9 114.5,347 117.2,348.2 119.4,347.6 122.9,347.4 125.3,347.3 127.7,349 131.8,347.6 134,348.3 135.8,349 138.5,351.5 141.3,352 142.9,354.1 145.1,355.4 147.3,356.6 151.2,358.6 152.9,360.5 156.1,361.6 157.4,363.8 159.7,365.4 162.2,367.3 166.1,369.1 169.2,369.3 171.7,371.8 172.7,373 175.4,375 175,377.7 175,380 176.2,383.5 175.1,385.6 176,388.8 175.1,392.4 174.8,394.4 176.2,397.7 175,399.9 175.7,403.9 3000.1,2999.9 -2999.8,2999.2 -2999.9,347.2" fill="#98D688"/>
<polygon points="126.3,320 129.7,322 132.3,324.4 133.7,328.2 132.4,331.9 132.7,333.6 132.3,337 129.6,337.5 127,336.3 127.1,333.7 126.1,331.7 126.9,329 126.3,325.8 125.8,322.4" fill="#F2522F"/>
<polygon points="126.3,295 129.7,295.1 131.1,298.1 131.5,301.3 131.4,304.2 127.1,303.7 126.3,301.2 127.1,297.1" fill="#F3F9A8"/>
<polygon points="156.7,373 160.7,371.4 161.1,374.2 158.6,376.6" fill="#FB8D46"/>
<polygon points="207.3,327.5 209.6,327.8 208.7,330.8 209,332.8 207.1,333.8 207.9,330.2" fill="#F3F9A8"/>
</g>
<g mask="url(#m5)">
<rect x="8.8" y="406.3" width="97.3" height="102.8" fill="#F2522F"/>
<polygon points="66.7,391.3 66.2,393.9 67.2,397.7 67.5,400.2 66.6,403.5 67.3,406.1 67.1,409 68.5,410.6 71.5,412.5 73.3,414.8 74.1,415.5 77.1,418.8 79,420.7 81.5,422.4 83.9,425.1 86.4,426.8 86.9,428.3 90.5,430.1 91.9,431.6 94.2,434.7 96.9,437.1 98.5,437.5 102.3,438.4 104.9,439.8 106.7,440.9 109.1,442 111.8,442.9 113.5,442.8 115.9,444.6 119.9,445.6 122,446.2 124.5,446.9 126.6,448.7 3000.2,2999.8 -3000.3,2999.7 -3000,390.7" fill="#C41F3B"/>
<polygon points="-10,418 -8.1,417.9 -5.6,417.5 -2,418 0.2,417.7 3.7,418.8 5.6,418.7 7.7,418.9 11.3,418.3 12.7,417.7 15.2,416.5 17.9,414.7 20.6,415 23.4,412.9 25.1,411.7 29.2,411.8 31,413.1 33.9,414 36.3,416.9 38,418.4 40.5,419.5 42.9,420 46.7,421.3 47.9,422.6 50.8,424.2 52.6,426.1 55.8,427.2 59.2,429 60.7,431.8 63.5,433 66.1,434 67.8,435.1 69.6,437.1 72.4,438.4 74.5,439 77.6,442.2 79.9,442.6 82.3,445.1 84.5,445.3 87.8,446.3 90,447.5 93,448.1 94.4,449.5 97.9,451 100.7,451.2 103.5,453 107.4,453 110.1,453.2 112.6,454 115.2,453.5 118.2,454.3 121.7,453.4 123.8,453.5 126,453.7 3000.2,2999.8 -3000,2999.4 -2999.3,418.3" fill="#86002A"/>
<polygon points="-10,433 -8.2,433.8 -4.4,433.6 -1.6,433.2 0.7,432.3 2.9,433.2 5.2,432.5 7.9,432.2 10.9,433.1 14.2,432.8 18.8,434.2 21.4,434.4 25.1,434.9 29.2,435.3 31.1,437.3 33.2,438.7 36,440.1 37.9,442 41.1,442.6 44.2,444 45.9,446 47.6,448.7 51.7,450.2 53.1,451.5 56.3,452.2 58.5,454.1 60.1,455.2 64.2,457.3 65.5,457.8 68.2,460.1 71.9,460.5 73.4,462.2 77.3,464.8 78,466.9 79.7,468.6 82,470.1 83.7,472.3 86.4,473.7 89.6,476 93.7,475.7 95.7,476.4 99.1,475.2 102.1,476.6 104,476.5 107.6,475.5 109.7,475.5 112.2,476.8 115.3,477.1 117.6,476.2 120.9,476.1 123.7,475.6 125.9,476.2 3000.8,2999.9 -2999.7,3000.6 -3000.8,433.8" fill="#C41F3B"/>
<polygon points="-10,441.3 -7.5,441.2 -5,441 -2.8,440.5 -0.2,442 2.7,440.7 6.4,441.5 8.1,440.8 11.6,441.6 15.3,441.3 18.9,442.1 20.8,443.8 24,443.2 25.1,444.5 28.9,445.8 31.1,447.5 33.3,448.3 36,449.4 38.8,451.6 41.3,453.2 44.1,453.6 45.5,455 47.9,455.9 50.3,458.2 52.6,459.6 56.4,460.5 58.5,462.3 60.6,465.2 61.8,466.8 65.1,468.1 66,470.5 68.9,471.3 71.6,473.2 73.5,474.6 74.3,476.7 76.3,478.7 79.1,481.3 81.3,481.8 84.1,484.9 85,485.2 88.2,486.6 90,486.7 93,488.1 96.4,489.2 99.6,489.1 101.9,490 105,491.8 107.3,490.9 110.5,491.8 113.1,492.1 115.9,492.3 118.9,492.6 120.2,491.8 123.2,492.2 126.9,492.7 3000,2999.3 -2999.4,3000.3 -2999.6,441" fill="#F2522F"/>
<polygon points="-10,453.8 -7.1,453.3 -4.2,454.1 -2.4,454.6 0.7,454.3 2.3,454.5 6.1,455.2 8.9,454.6 10.8,454.2 12.8,456.2 15.3,457.6 18.8,459.8 21.4,461.2 22.9,461.6 25.6,464 27.7,464.8 32.4,464.7 34.6,465.7 37.8,467.1 41,467.4 42,470.2 45.4,471.1 47,472.3 50.3,475.4 53.4,475.8 54.9,478.2 57,479.4 60.1,481.5 61.1,482.3 63.3,484.2 65.7,486.5 67,489.3 67.7,491.1 70.8,492.3 72.1,493.8 76,495.1 78.5,496.3 82.1,496.1 84.3,496.4 86.4,497.3 90.5,497.5 92.7,498.6 94.2,500.2 97.4,499.8 99.6,500.9 101.9,503.7 104.3,504.1 106.5,505 109.4,505.9 112.6,505.6 114.9,505.9 118.7,505.6 121.8,506.1 123.9,505.3 125.9,506.9 3000.6,2999.6 -3000.2,3000.6 -3000.3,454" fill="#F8D16F"/>
<polygon points="-10,472.2 -6.9,472.2 -4,471.9 -2.1,472.4 0,471.9 3.5,472.7 5.8,473.3 8.7,472.5 11.2,473.7 15.3,473.1 17.8,474 20.1,475.4 23.5,476.8 25.8,478.3 28.9,478.9 29.7,481.7 32,482.2 35.5,485.1 36.3,487.6 38.4,488 40.2,491 42,492.7 44.5,493.3 46.5,495.7 50.5,495.6 52.6,496.3 56.3,497.1 59.2,497.9 62.2,498.6 66.4,497.7 68.9,497.4 72.5,498.8 74.4,498.1 77.5,498.9 79.3,499.9 82.4,502 84.1,505.2 83.7,507.7 83.1,510.3 82.7,511.9 83.8,515.6 82.9,518 83,520.9 82.6,523.6 82.7,525.6 83.7,528.6 83.2,531 2999.2,3000 -2999.2,3000 -2999.9,472" fill="#F3F9A8"/>
<polygon points="-10,479.7 -6.8,479.7 -5.4,480.4 -2,479.6 1.2,480.2 2.5,479 5.4,479.2 7.6,479.8 10.3,480.4 13.3,480.8 16,483.2 18.1,485.2 20.1,487.2 21.9,487.9 24.4,489.4 26,492 27.9,493.7 30.3,494.5 32.9,495.9 35.3,497.3 37.5,500.5 38.6,502 39.7,505.1 40.7,507.9 40.6,510 41.1,512.6 40.1,514.8 39.9,517.2 40.6,521.4 40.8,524.1 40.4,526.8 40.9,528.3 40.6,530.8 2999.5,3000.6 -2999.9,2999.6 -2999.3,480.1" fill="#98D688"/>
<polygon points="-10,484.7 -8,485.4 -5.6,484.4 -1.4,485 0.4,484.1 2.4,483.9 6.3,485.2 8.5,484 10.2,484.8 13.7,486.7 17.4,488.6 18.6,489.2 21.6,491.5 22.6,494.5 24.9,495.6 28.5,497.9 31.1,500.2 33.4,501.7 35.9,503.6 38.5,506.4 40.1,508.9 38.6,512.4 40,514.2 40.4,517.8 39.1,519.6 40.4,522.3 39,525 40,528.5 40.8,530.6 3000.8,3000.7 -3000.5,2999.6 -3000,484.1" fill="#FB8D46"/>
<polygon points="28.3,408 31.2,407.7 35.2,407.5 34.8,410.3 28.7,410.5" fill="#F3F9A8"/>
<polygon points="83.3,501.7 86,502 88.6,502.4 91.7,500.9 94.8,501.4 97.6,501.7 98.1,505.4 98.4,508.3 95,508.5 92.2,508.7 89.1,508.2 85.9,508.8 83.7,507.9 84.1,505.5" fill="#F8D16F"/>
<polygon points="80,484.3 84.7,484.9 83.3,487.3 80.7,487.3" fill="#F3F9A8"/>
<polygon points="94.2,487.2 98.2,487.7 98.3,491.7 93.9,490.1" fill="#F3F9A8"/>
</g>
<g mask="url(#m6)">
<rect x="125.2" y="407.7" width="96.8" height="101.5" fill="#F2522F"/>
<polygon points="183,391.3 182.8,394 182.8,397.2 182.2,399.3 182.9,401.4 183.1,405.2 182.2,406.6 183.3,409.3 184.7,412.4 186.6,415.4 187.2,417.3 189.2,418.9 192.7,420.6 194.9,422.5 198.7,425.1 199.9,426.8 202.1,429.9 204.6,431.6 207.3,433 208.7,435.1 210.8,435.9 212.6,438.1 216.6,440 220.1,441.8 222.6,441.9 225.6,442.6 228.2,443 231.1,444.4 234.3,444.5 236.6,445.7 239.5,446.6 241.1,448.1 243.9,448.5 3000.4,3000.5 -3000.7,2999.2 -3000.2,390.7" fill="#C41F3B"/>
<polygon points="108,423 111.6,423.6 113.5,423.6 115.5,423.2 119.6,423 121.8,423.1 123.7,423.1 126.7,422.9 129.9,421.4 132.2,420.3 135.4,419.6 138.3,419.6 140.6,421.3 144,421.8 147.3,422.3 149.8,423.8 151.4,425.9 154.4,426.2 157.5,427.7 160.4,429.3 162.1,430.6 165.1,431.6 166.9,431.9 168.8,432.7 172.9,434 174.9,434.1 177.6,435.6 179.7,437.5 182.7,439.7 185.1,440.7 187.3,442.4 189.3,444.6 192.3,444.9 195,446.5 198,447.3 199.2,448.5 202.5,449.7 205.2,450.7 207.6,452.6 209.2,453 212.6,454.4 215.2,456.6 217.1,457.3 220.1,458.8 223.2,457.4 225.8,458.8 227.5,459 230.5,459.2 233.5,459.2 237,458.8 239.8,459.3 242.6,459.4 244.1,458.3 3000,2999.2 -2999.6,3000.5 -2999.7,423.2" fill="#86002A"/>
<polygon points="108,436.3 110.5,436.8 113,436.9 115.8,436.6 118.7,436.4 122.2,436.6 124.3,435.5 127.2,435.5 131.5,438 134.6,438 137.5,439.1 142.1,440.2 144.6,440.3 148,442.6 149,443 152.1,445.3 154.1,446.4 157.3,446.7 159.6,448.1 162.9,449 165.3,450.1 167,452.6 170.1,453.7 172.5,455.1 174.8,455.7 177.7,457.8 179.6,458.2 181.6,460.9 184.3,461.3 186.3,463.7 188.7,464.4 190.2,467.1 193.3,468.5 195.4,469 197.9,470.5 199,473.4 201.9,473.9 204.5,476.3 208,476.4 211.2,477.2 214.5,476.7 216.5,477.1 220.7,476.8 223.1,477.5 225.1,476.5 228.7,476.3 231,477.9 234.3,476.6 237.2,476.8 239.8,477.8 241.7,477.3 244.2,477.3 3000.5,2999.9 -2999.7,3000.3 -2999.3,436.3" fill="#C41F3B"/>
<polygon points="108,446.3 110.8,445.7 112.7,445.5 117.1,446.2 119.4,446.3 121.5,446.6 124.1,446.2 127.7,446.6 131,448 135.2,447.4 136.3,448 139.9,449.7 141.4,450.5 145.4,451.2 147.3,452.8 150.1,453 152.5,454.9 154.4,455.5 156.6,457.1 159.6,457.1 161.8,458 165.3,458.8 166.4,461 169.9,462.4 173,464.8 174.2,466.8 177.2,467.5 179.4,469 181.6,472 185.3,473 186.7,474.4 188.1,477.2 190.2,478.8 192.2,479.4 194.3,480.7 197.3,482.5 198.5,485.5 201.7,486.5 204.5,486.1 208.5,486.6 211.5,487.8 214.6,486.2 217.8,484.5 219.5,482.1 222.8,481.4 225.2,481.4 228.4,481.1 230.3,479.8 233.4,481 235.8,479.4 239.5,480.1 241.2,479.7 244.8,478.8 3000.8,3000 -3000.6,3000.8 -2999.6,447.1" fill="#F2522F"/>
<polygon points="108,461.3 110.2,461.5 114.1,461.7 115.8,461.5 118.2,460.5 121.5,460.9 123.7,462 126.6,461.3 130.3,462.2 132.3,463.2 133.9,465.3 136.5,465.7 138.9,467.5 141.1,470.2 144.8,471.6 147.7,473.1 149.9,474.6 153.2,476.8 153.9,478.8 158.8,479 161.2,479.5 164.4,480.2 167,480.6 169.9,482.8 172.9,483.9 174.7,484.1 176.4,485.4 179.7,487.6 182.3,488.2 185.1,490.1 188.2,490.2 190.8,492.5 193.2,493.3 195,495.2 198.7,497.6 200.8,500.1 203.2,502.4 205,505 207.5,506.9 208.7,510.1 207.7,513.1 208.2,514.8 209,518.2 207.7,520.8 208.3,522.7 209.4,526.4 209.5,529.4 209.5,530.7 3000.5,2999.7 -3000.7,3000.7 -3000.5,460.6" fill="#F8D16F"/>
<polygon points="108,478 110.6,477.7 113.1,478.6 116.7,478.2 118.8,478 122.5,477.6 124.3,478.8 127.2,478.7 131.8,479.1 135,479.8 137.9,480.5 139.8,481.1 142.4,481.6 144.9,483.5 147.9,485.2 150,488.4 151.6,490.1 152.9,493.3 153.9,496.8 157.6,496.8 160.5,497.2 162.5,499.1 164.5,500.2 168.4,498.6 170.6,497.9 174.4,497.9 177.3,499.3 179.9,499.9 181.7,500 184.9,500.6 186.9,502.3 189.3,503.1 192.3,504.3 195.1,504.6 197.6,505.7 201.5,505.9 203.9,507.1 205,509.5 204.4,511.9 205.2,515.4 204.8,517.9 205.7,520.8 204.7,523.3 205.5,525.8 205.3,529.1 204.8,531.5 3000.7,2999.4 -3000,2999.6 -3000.5,478.3" fill="#F3F9A8"/>
<polygon points="108,483 110.1,482.3 113.1,482.7 115.7,482.3 119,483.1 121.9,483.2 124,482.8 126.5,482.6 129,483.8 132,485.8 135.1,486.8 136.6,487.9 138.5,490.5 141.7,491.4 143.3,492.8 145,494.4 146.5,497.9 149.6,499.6 150.5,501.9 154.7,503.3 155.9,506 155.7,509 156,512.5 156.6,515.3 155.9,517.1 157.1,520.6 157.3,523 155.8,526.5 157.5,529.3 156.1,530.9 2999.7,2999.5 -2999.7,2999.6 -2999.4,483.4" fill="#98D688"/>
<polygon points="108,486.3 110.2,486.8 113.8,486.5 116.2,486.9 118.9,487 121.3,486.9 124.3,485.6 126.9,486.7 129.1,487.4 131.6,488.9 134.7,489.7 136.2,492.8 139.3,493.1 140.8,496 143.7,497.5 144.4,498.5 148.3,501.6 149.7,503.4 152.4,504.4 153.4,506.3 153.1,509.9 153.6,512.4 154.1,515.2 153.4,517.2 154.1,520.4 153.4,523.7 154.8,525.2 153.4,529.2 154.3,531.8 3000.1,2999.5 -3000.3,2999.8 -2999.3,485.9" fill="#FB8D46"/>
<polygon points="173,491.3 175.7,491.7 178.7,492 181.7,492 185.1,493.1 184.2,495.2 182.3,498.6 179.5,498.1 177.5,497.5 173.9,497.4 174.1,494.3" fill="#F3F9A8"/>
</g>
<g mask="url(#m7)">
<rect x="254" y="279.3" width="99" height="103" fill="#C41F3B"/>
<polygon points="319.3,263.3 318.6,266.4 319.7,268.7 320,271.5 318.9,275 320.2,279.1 319.5,281.5 322.1,283.1 324.8,284.5 327.2,284.5 329.4,286.4 331.3,289 334.1,289.4 337,290.9 339.4,293.6 342.8,295.2 344,297.3 347,297.6 350.4,299.5 352.1,300.5 354.8,302.3 358,304.6 360.7,305.6 362,306.1 365.2,307 367,309.2 370.4,311.1 372.8,311.8 2999.2,2999.4 -2999.4,3000.5 -2999.5,262.9" fill="#86002A"/>
<polygon points="267.3,263.3 266.7,266.1 267.4,269.2 267.7,270.5 268,273.3 267.1,276.1 267.6,278.9 267,280.9 270.2,282.8 273,284 275.3,285.7 279.2,286.3 281.3,287.9 283.9,288.6 286.1,290.5 288.6,292.4 292.2,293.3 293.3,294.1 295.9,296.5 299.5,297.4 301.6,298.3 302.9,299.2 305,300.8 307.7,302.5 311.1,303.5 312,305.4 314.6,307.3 317.2,308.3 321,310.1 322.5,311.2 326,314 327.1,314.8 330.9,316.9 332.4,317.7 335.6,319.9 337.3,321.1 340.4,321 342.5,322 344.7,323.1 348.6,322.7 351.1,323.9 354.1,323.4 356.7,323.7 359.4,324 361.9,323.9 364.1,323.3 366.4,324.3 370.6,323.7 372.3,323.4 3000.6,3000.7 -2999.4,2999.7 -3000.1,262.9" fill="#C41F3B"/>
<polygon points="263.5,263.3 264,266.2 264.4,268.6 264.4,272 264.3,275.8 263.8,278.6 264.4,280.7 263.7,283.8 263.7,287.3 267.9,288.2 270.5,290 274.4,290.6 276.6,292 279.5,293.6 281.5,294.4 284,295.4 286.1,297.6 289.7,297.6 291.9,299.8 294.8,300.4 296.9,302.6 298.9,303.3 301.9,305.6 304.1,306.9 306.4,307.7 309.1,309.7 311.6,311.5 314,314.6 315.6,315.6 317.1,319.2 319.1,320.7 321.3,322.5 323,324.7 324.2,326.4 327.8,327.2 331.3,327.9 333.9,329 337.4,329.4 340.5,328.5 341.6,329.1 344.5,329.7 348.5,330.5 350.7,330 353.9,330.7 355.5,329.5 358.3,330.5 361.5,329.8 364.7,331 367.5,330.7 370.3,330.3 373.4,330.7 3000.4,3000 -2999.6,2999.6 -3000.3,264" fill="#F2522F"/>
<polygon points="236,297.5 239.1,297.2 241.3,297.5 245.2,297.4 247.2,297.8 250.4,297.6 252.5,297.5 255.3,297.1 259.1,296.1 261.7,296.3 264.4,296.6 266.2,298.1 269.6,301.8 270.3,303.2 273.2,305.8 275.9,306.5 279.4,307.7 281.6,309.5 283.6,310.5 286,310.8 289.8,311.6 291.8,312 293.9,314.1 296.6,314.9 298.5,314.6 302.5,316.4 304,318.6 306.4,319.7 309.5,321.2 312.2,323.7 315.6,325.2 317.2,326 320.6,328.2 322.3,331.2 324.1,332.9 326.4,334.8 327.4,336 329.9,337.7 333,340 335,342.5 336.7,343.2 338.6,345.9 340.6,349.1 344.7,350.7 346.9,350.5 349.3,349.5 353.1,349.9 355.8,349.9 357.9,349.8 361.6,350.1 364.2,351.3 367.3,350 369.3,351.3 372.5,351.5 2999.3,3000.7 -2999.7,2999.7 -3000.1,297.5" fill="#FB8D46"/>
<polygon points="236,310 239.1,309.5 240.4,310.8 243,309.5 245.6,310.3 249.1,309.7 252.3,310.7 253.5,310.1 257.4,310.1 259.8,311.2 261.9,312.3 264.4,312.6 267.7,315.8 270,317.4 272.4,317.7 274.3,319.2 277.6,321.8 279.5,323.9 282.3,325.2 284.3,326.5 287.9,328.9 289.7,330.3 292.8,331 295.3,332.8 297.6,333.7 299.7,335.3 302.3,336 305.4,338 308.5,339.5 309.6,340.4 313.4,341.8 315.6,343.1 317.5,344.8 320.6,346.1 322.3,348.8 325.7,349.2 327.1,351.1 329.4,352.7 332.5,352.6 336.2,354.8 337.8,354.9 340.9,356.1 344.2,355.9 347.1,356.5 349.6,356.6 352.9,357.6 356.2,356.9 357.9,356.3 361.2,357.9 364.6,356.8 367.7,358.1 370.1,357.8 372.3,357.6 2999.2,2999.8 -3000.4,2999.6 -3000.1,309.2" fill="#F8D16F"/>
<polygon points="266,346.7 269.1,347.8 271.7,347.6 274.3,349.2 276.9,350.4 279.4,352.7 282.4,353.5 283.7,355.2 286.9,357.8 289.6,359.8 291.2,361.5 293.7,362.6 297.7,363.6 300,364.9 302.3,366.2 304,368.9 306.7,369.7 309.5,370.8 312,372.1 309.4,371.3 306,372 302,373.7 300.7,372.2 298.4,369.8 296.5,368.2 293.3,366.7 291.4,365.7 289.2,364.4 285.3,364.4 283.4,362.5 281,361.1 279.1,360.3 276.1,358.8 273.1,356.6 269.4,356.2 268.5,353.1 267.4,348.9" fill="#F3F9A8"/>
<polygon points="269.3,355 272.8,357.2 275.7,358.6 278.4,360 281.6,361.2 283.5,362.8 285.2,363.8 288.1,363.8 291.3,365.9 293.2,366.7 296.5,368.5 299.1,370 300.6,372.3 298.2,372 295.2,372.6 293.4,374.1 289.9,372.4 285.5,372.1 282,370.9 280,369.9 278.1,367.3 276.5,365.7 274.9,362.7 272.9,360.4 270.9,357" fill="#98D688"/>
<polygon points="259.3,305 261.9,303.8 265.7,304.5 265.2,308.3 262.5,308.2 260,310.3" fill="#F3F9A8"/>
<polygon points="336,281.3 339.2,281.8 341.1,281.8 343.9,281.5 347.1,282.1 349.8,281.4 350.1,283.6 347,282.8 344.7,282.8 342.7,283.6 338.9,283.1 337.3,282.2" fill="#F2522F"/>
</g>
<g mask="url(#m8)">
<rect x="371.2" y="279.3" width="97.3" height="102.7" fill="#C41F3B"/>
<polygon points="427.3,263.3 427.4,265.8 426.6,269.6 427.8,272.9 427.3,275 426.9,278.2 427.5,282.1 430.3,283.2 432.9,284.5 434.1,285 438.1,286.9 440.6,287.2 441.9,288.4 444.7,290.4 447,291.7 449.6,292.1 451.9,293.3 454,294.2 457.4,294.3 460.1,296.3 462.8,297.8 465.4,300 468,300.3 470.9,302.3 473.9,302.9 475.3,303.7 478.6,304.6 480.5,306.2 482.7,306.3 486.1,308.2 487.7,308.8 490.7,310.6 3000,3000.7 -3000.5,3000.6 -2999.7,263.5" fill="#86002A"/>
<polygon points="386.5,263.3 386.3,267 385.7,268.8 387.3,271.6 385.7,275.4 387.1,278.6 387,281.1 387.7,284.3 388.6,286 391.4,287.9 393.3,288.9 396.7,289.9 401,290.7 403.3,290.5 405.2,292.6 408.3,294.3 411.1,294.9 412.6,296.5 415.7,298.6 418.6,299.9 421.4,302.2 423.4,303.4 425.1,304.9 428.4,307.1 430.9,308.1 433.2,310.3 435,310.8 438.2,313.3 440.2,315 443.3,315.9 445.1,318.6 448.5,320.5 451.4,321.3 452.2,323.6 454.9,324.3 458.1,325.8 462.6,326.9 466,327.6 467.6,327.3 470.4,326.9 472.9,327 476.1,327.7 478.9,326.8 481.5,327.5 485.1,327.3 488.2,326.7 491.1,326.8 3000,3000.4 -3000.3,3000 -2999.6,263.1" fill="#C41F3B"/>
<polygon points="381.5,263.3 381.4,266.3 382.4,269 381.7,271.3 382.1,274.3 381.9,277.6 381.7,279.4 381.7,283 381.6,284.7 381.8,288 384.8,291.1 385.4,293.1 388.6,293.8 390.9,294.7 393.5,295.9 395.9,296.9 397.4,298.7 400.8,299.6 402.3,302 405.3,304.1 407.8,303.8 410.2,304.2 413.5,306.2 415.1,306.8 417.5,307.6 420.2,309.6 423.9,311.5 426.2,312.5 428.1,316.1 429.1,318.2 430.5,320.9 431.8,323.4 434.4,325.1 436.7,326.7 437.9,327.6 440.9,330 443.3,331.4 447.9,330.9 450.3,331.9 453.4,331.3 455.8,331.4 459.4,331.2 462.2,332 464.5,332.3 468.8,330.8 470.6,331.5 473.7,331.1 476.2,330.9 478.8,332 481.9,331.2 485.2,331.4 488.5,331.2 490.6,331 2999.5,3000.5 -2999.9,2999.2 -3000.2,263.6" fill="#F2522F"/>
<polygon points="354,299.2 356.4,299.8 359,298.6 361.3,299.4 365,298.8 367.8,297.8 369.8,297.8 373.1,298.9 374.9,298 378.6,297.9 383,297.4 384.1,299.2 387.1,301.3 388.9,302.8 391.7,304.7 393.9,307.1 396.9,307.9 399.2,310.1 402.3,311.7 404.7,313.3 407.6,314.2 409,316.7 411.6,316.7 414.6,316.9 418.1,318.6 419.7,320.4 421.4,321.4 424.2,323 425.1,325.2 428.4,327.5 430.3,328.8 431.7,331.9 434.2,333 436.3,334.2 439.8,336.5 442.6,339.1 444.5,339.1 446.9,340.6 449,342.4 452.4,342.7 453.5,345.2 456.5,347.1 457.1,350.1 458.9,350.8 460.9,353 464.4,352.7 467.1,354.2 468.9,353.8 472.3,353.4 473.9,354.1 477.7,354.2 480,354.1 482.4,354.2 485.8,354.4 487.4,354.1 489.8,355.2 2999.3,3000.1 -2999.2,3000.5 -3000.4,299.9" fill="#FB8D46"/>
<polygon points="354,315 357.6,315 359.1,314.6 362.8,314.8 365.7,315.3 367.3,314.3 370.8,315 373.9,315.4 376.2,315.6 378.8,317.3 380.9,317.6 383,319.8 386,321.1 389,324.2 390.5,325.5 392.5,327.1 395,328.4 397.1,329.7 399.6,332.3 401.6,333.5 404.7,334.2 406.9,336.5 410.4,338.4 412.4,340.1 415.1,340.8 418.1,343.9 419.7,345.7 421.5,345.9 423.4,349 426.1,349.2 426.6,352.1 430.1,352.2 431.7,354.2 434.4,356.2 437.8,356 439.9,357.7 441.6,358.4 444.3,358.9 448.2,359.7 449.4,359.1 453.2,359.5 455.4,357.5 457.9,359.8 462,360.3 465,360.3 466.2,360.6 470.2,360.2 471.4,361 474.5,359.8 477.4,360 479.5,360.2 483.1,361.1 485.6,360 488.5,360.8 490.3,360.4 2999.7,3000 -3000.1,3000.1 -3000.1,315.5" fill="#F8D16F"/>
<polygon points="354,340.8 356.7,340.3 359.9,341.8 362.5,342 365.9,340.6 367.8,342.1 371,341.4 373.4,341 375.5,344.5 377.9,345.5 379.6,348.3 382.5,350.4 385.3,351.5 388.2,351.7 391.1,353.8 392,354.3 395,357.1 396,358.5 398.3,360.3 400.5,361.9 403.5,363.2 406.4,364.4 407.8,367.2 410.4,368.6 414,369.3 415,370.5 418,372.5 420.5,373.2 423.2,373.8 425.7,376.5 427.4,376.8 430.8,378.6 430.5,381.1 431.7,384.6 430.7,386.2 430.7,389.3 432.1,391.8 432,395.2 432.2,398.4 432.9,400.2 432,403.3 2999.7,3000.1 -3000.1,2999.3 -3000.6,340.8" fill="#F3F9A8"/>
<polygon points="392.3,366.7 396.2,366.6 398.6,365.8 400.2,367.8 401.7,369.5 404,368.5 407.3,368.3 410.2,371.2 411.2,373.8 409.1,376.1 406.5,377.6 403,377.6 399.6,377 396.4,374.5 394.3,372.7 393.4,369.8" fill="#98D688"/>
<polygon points="452.3,281.3 455.3,282 457,281.3 461.3,282.2 463.4,281.1 466.6,280.6 465.4,285.3 462.1,284.9 460.1,285.5 457,284.4 454,284.9" fill="#F2522F"/>
<polygon points="374.3,295 377,292.4 377.5,294.5 374.6,296.9" fill="#86002A"/>
</g>
<g mask="url(#m9)">
<rect x="254.8" y="406.3" width="97.3" height="102.8" fill="#F2522F"/>
<polygon points="296,391.3 295.8,393.8 296,396.8 295.3,400.6 295.9,402.4 296.3,405.8 296,407.6 298.7,411.3 299.9,411.8 302.1,414.7 305.2,415.1 307.4,417 310.9,417.7 312,419.9 315.4,420.6 317.7,422.8 321.6,424.4 323.5,426.4 325.4,427.2 326.5,429.1 329.2,430.6 331.2,433.3 332.9,434.1 336.4,436.7 337.8,438.7 340.5,439.4 343.7,440.6 346.3,443.3 347.9,444.5 350.1,446.7 352.2,446.9 355.9,447.6 356.9,449.3 359.6,449.4 362.1,449.4 364.5,450.4 368.5,452.1 369.6,452.5 372.1,453.3 2999.4,2999.5 -3000.3,3000.3 -3000.3,391.4" fill="#C41F3B"/>
<polygon points="236,419.7 239.1,418.9 240.9,419.3 244.3,420.3 247.2,419.8 248.3,419.1 251.9,420.5 254.5,420.2 256.7,419.8 258.5,419.3 262.2,416.6 264.8,416.2 267.3,416.4 270.3,418.2 272.7,418.4 275.9,419.3 278.2,419.2 279.6,421.3 281.8,420.8 285.7,423.4 288.5,424.4 289.4,425.6 291.9,425.7 295.3,427.5 297.1,429.5 300.8,429.9 301.9,430.6 304.9,433.4 307.6,434.6 310.6,435.9 313.2,438.4 314.5,439.5 318.4,441 320.6,442.5 323.3,443.7 324.5,443.4 328.2,445.8 329.9,446.8 332.9,447.3 334,450.1 336.3,450.8 338.1,453.6 340.7,454 343.6,455.3 347,456.4 350.1,457.9 353.1,458.3 355.4,458.7 358.4,458.9 362.1,458.8 364.9,458.2 367.6,458.2 370.2,459.2 372.2,459.1 3000.3,3000.6 -3000,3000.3 -2999.3,420.3" fill="#86002A"/>
<polygon points="236,431.3 238.6,430.7 241.7,430.6 244,431.1 246.9,431.7 248.9,431.5 251.7,432 254.3,431.5 256.2,432.2 261,431.4 264.9,432.2 266.3,432.3 269.3,432.8 273.4,433.5 275.2,435.1 277,435.8 280.4,438.6 282.1,439.1 284.7,441.9 287.7,443.3 289.6,444 293.2,446.4 295.5,447.5 297.9,449 300.4,449.3 302.8,451.8 305.1,453.2 307.7,453.9 309.6,455.6 312.1,457.8 314.1,459.1 316.6,461.1 319,463.5 320.9,465 322.7,466.5 325,467.4 327.8,469.5 329,471.4 332.5,472.1 334.6,474.1 337,474.8 340.2,476.4 342.4,475.9 344.4,476.2 346.7,476.5 350.9,477.1 353.3,476 355.7,476 357.8,477 361.4,476 364.3,476.6 367.4,476.2 369.5,475.8 373.3,476.8 3000.8,2999.2 -3000.3,3000.3 -3000.3,432.1" fill="#C41F3B"/>
<polygon points="236,438 238,438.4 240.8,438.7 244.5,438 246.6,438.1 249.2,438.6 250.9,437.2 254.4,438.7 257.3,437.4 260.4,438.8 265.1,439.2 266.9,440.6 270.6,441.2 272.1,442.1 274.6,442.8 277.4,444.8 280.5,446.1 282.6,448.5 284.7,450.1 288.4,451.1 290.9,452.6 291.8,455.2 295.7,455.5 297.3,456.5 300.4,458 301.9,458.9 305.2,461.9 308.2,463.4 309.8,465.5 313.4,465.9 315.2,469.2 317.3,469.8 319.1,472 321,474.1 322.9,475.7 325.5,477.8 328.1,480.4 328.7,482.1 332.5,482.3 333.6,483 337.1,484.3 340,486.1 342.7,487.9 345,488.6 346.7,489.3 349.5,490.4 353,489.1 356.3,490.1 358,489.7 361.8,489.4 363.4,489.8 367.8,489.5 369,489.6 372.7,491.1 3000.3,2999.5 -2999.3,2999.5 -3000.8,437.6" fill="#F2522F"/>
<polygon points="236,453 238.2,452.4 241.7,452.5 243.8,452.6 245.6,453.8 248.3,452.7 252,453.1 254.5,452.7 257.2,452.9 260.1,452.8 264.4,451.8 267.5,453.2 269.2,453.6 272.2,454.7 275.3,456.9 278.4,458.1 280.9,459 282.2,461.4 285.5,462.9 287.4,462.4 289.6,464.7 293.2,465 295.1,466 297.5,467.9 300.7,469.5 302,470.6 304.5,472.5 308.4,475.5 310.4,477 313,477.6 313.9,479.2 317.2,482.7 319.6,485 321.7,485.9 322.3,488.8 325.8,489.2 327.2,491 329.4,493.8 331,493.9 333.8,494.7 336.9,496.9 339.6,497.9 342.1,498.5 344.6,499.8 347.9,500.3 349.7,500.7 353.1,501.7 355,501.9 359.4,502.2 361.9,501.9 363.9,501.6 367.6,501.1 369.7,501.8 372.2,501.7 2999.4,3000.1 -2999.3,2999.7 -2999.9,452.8" fill="#FB8D46"/>
<polygon points="236,464.7 238.2,464.9 241.9,464.6 244.6,465 246.7,464.3 249.5,464.9 251.4,464.9 254.2,465 257.6,464.7 259.7,464.7 264.1,465.7 267.6,467.5 269.1,469.5 272.9,472.1 275.7,473.6 277,474.8 280.5,476.8 283.4,478.3 284.5,479.2 286.9,480.5 288.8,483.6 291.5,484.7 293.1,486.1 295.4,487.2 298.3,489.9 300.9,491.9 302.6,492.7 305.7,494.5 306.8,494.9 310.9,496 312.9,498.7 315.9,499.6 318.5,501.2 320.3,503.6 324.5,503.9 327.4,505.4 329.8,507.7 328.7,510 329.8,513.3 329.6,515.1 329,517.1 329.6,520.9 329.6,523 330.5,525.7 329.5,529.1 330.7,531.8 3000.1,3000.4 -3000.6,2999.2 -3000,465.3" fill="#F8D16F"/>
<polygon points="236,476.3 238.2,476.7 241.5,476.3 244.4,476.5 246.7,477 248.9,477 251.7,476.4 255,476.4 256.6,476.2 258.9,477.5 261,478.3 264.2,479.7 266.7,481.7 269.4,483.9 271.3,485.5 273.5,488.4 275.6,489.7 277.8,491.4 280,493.2 281.5,494.1 284.1,496.3 286.3,497.9 287.1,500.3 290.3,501.5 292.9,503 294.9,504.2 294.1,506.8 294.1,510.4 294.8,511.8 294.2,515 294.9,517.2 295.4,519.9 295.5,523.9 296.5,526.2 295.4,528.6 295.4,532.1 3000.5,2999.3 -2999.2,2999.7 -3000.7,476.4" fill="#F3F9A8"/>
<polygon points="236,484.7 239,484.1 241.6,485.3 243.7,484 245.6,484.8 248.9,484.9 251.3,484.3 255.1,485.2 256.4,485.2 259.3,485.7 262.3,487.5 263.5,487.4 266.5,489.8 268.9,491.9 270.8,494.3 273.3,496.4 276.2,497.2 279.8,499 281.2,501.3 284.5,502.9 286.5,504.8 286.3,507.5 286.6,510.6 285.6,512.6 286,514.9 286.8,518 287.3,520.2 286.2,523 286,526.7 286.2,528.1 286.3,530.6 3000.4,3000.1 -2999.4,3000.4 -2999.3,485.3" fill="#98D688"/>
<polygon points="326,408.3 328.1,408.2 331.9,408.1 334.9,408.2 336.8,409.1 336.9,412.5 334.1,413.9 332.3,413.2 329.8,412.8 326.9,410.3" fill="#FB8D46"/>
<polygon points="331,456.7 334.5,456.4 333.7,459.1 330.6,458.3" fill="#FB8D46"/>
</g>
<g mask="url(#m10)">
<rect x="371.2" y="407.7" width="96.8" height="101.5" fill="#F2522F"/>
<polygon points="404,391.3 403.9,394.1 404.1,396.1 403.8,399.1 404.4,401.6 404.7,404.3 404.9,407.7 406.2,410.6 405.6,413 407.7,414.1 410,415.8 411.7,418.7 415.7,418.9 417.5,421.2 420.7,422.8 423.3,425.3 425.1,425.9 428.2,427.4 431.3,429.4 433.2,430.6 435.6,432.9 439.1,433.9 442.6,436.8 444.8,437.5 447.2,439.4 449.9,440.2 452.8,442.3 454.3,444.2 458.1,444.8 460.1,445.7 462.8,447 465.6,447.7 468.1,449.4 471.8,448.6 473.9,449.7 477.2,451.2 480.2,451 482.4,453.2 484.8,453.5 487.9,453.2 490.6,454 2999.8,3000.5 -2999.6,2999.5 -3000.5,391.8" fill="#C41F3B"/>
<polygon points="354,423 356.3,423.3 359.2,423.7 361.4,423.1 364.8,422.9 367.9,423.1 371.2,423.8 373.5,423.4 375,422.2 378.2,420.4 380.6,419.2 382.6,421.3 386.3,420.5 388.3,421.4 390,423.4 393.7,424 395.6,424.4 398,426 401.1,425.8 404,427.8 406,428.8 408.7,429.8 410.1,431.2 412.8,433.8 415.5,434.5 418,436.3 420.2,437.8 423.6,440 425.2,440.2 428.9,442.1 430.4,442.8 432.5,445 436.4,445.1 438.6,446.6 440.5,447.6 443.2,449.9 445.4,450.2 448.5,452.5 450.1,452.7 453.3,453.7 455.1,455 458.7,457.1 460.9,458.4 464.1,459.9 465.7,462.1 469.1,462.1 470.8,461.5 473.5,462.1 477.7,461.6 480.5,462 483.1,462.7 484.5,462.6 488.4,462 490.8,463 3000.4,3000.4 -2999.8,3000 -3000,423.5" fill="#86002A"/>
<polygon points="354,436.3 356.6,435.8 360,436.4 362.6,437 365.2,436.7 368.4,435.9 369.9,436.6 372.9,436.2 377.3,436.9 380.8,437.2 384.4,437.4 388.1,439.1 391.3,439.9 393.6,441.5 396.3,443 397.8,443 401.2,444.6 402.8,446.5 405.5,447 408.6,448.7 410.1,449.8 412.8,451 415.2,452.1 418.2,453.7 419.9,455.4 422.4,456.7 425.5,458 428,459.9 430,460.5 432.7,462.5 435.1,464.1 437.7,467.1 438.2,468.7 441.5,469.6 445,470.6 447.7,473.8 449.7,473.6 451.6,475.2 454.5,474.8 456.6,477.1 460.4,477.2 462.9,477.4 465.5,477.7 468.7,477.7 471.5,477.9 474.4,476.8 476.8,476.4 479,477.2 482.6,476.3 485.4,477.7 487.9,476.3 491,477.9 3000.7,2999.9 -3000.1,3000.3 -3000,435.9" fill="#C41F3B"/>
<polygon points="354,443 356.4,443.2 360,442.6 362.2,442.9 365.3,443.3 368.5,443.6 370.3,442.6 372.9,442.8 377,442.6 380.6,444.1 383.4,444.5 386.5,445.3 390,446.8 393.4,447.4 394.9,448.1 397.6,450.1 400,450.6 402.7,453.4 405.9,455.5 407.6,456.6 410.8,458.8 412.6,459.3 416,459.8 418.7,462.4 421.2,462.7 423.8,464.3 426.1,465.7 427.7,468.3 431.1,470.5 433.2,472 435.6,473.6 436.2,475.4 438.5,476.9 442.5,477.9 444.6,479 446.8,481.9 449.6,481.8 452.6,482.9 454.2,484.4 456.7,483.8 460.3,484.7 462.7,485.3 465.6,485.2 468.8,484.3 472,484.3 473.8,484 477.5,484.1 480.1,484 483.2,484.2 485.9,485.1 488.1,483.9 490.2,485.5 3000.3,3000.6 -3000.2,2999.2 -3000.8,442.8" fill="#F2522F"/>
<polygon points="354,454.7 356,455.4 359.1,454.5 361.9,454.4 364.8,455.4 367.8,453.8 370.7,455 372.4,453.9 377.1,453.3 380.4,452.8 383,454.4 386.3,455.9 388,456.4 390.4,458 392.3,459.9 396,460.6 397.5,462.6 401.4,464.4 403.7,465.6 405.4,467.5 408,468.8 410,469 413,470.6 415.6,472.6 418.9,473.7 420.1,474.1 423.9,475.8 425.7,478.6 427.5,479.4 430.1,480.9 432.4,482.3 435,485.4 437.4,486.9 439.1,488 441.8,490 444.1,490.9 446.9,493.2 449,494.1 452.3,494.3 455.2,495.7 458.1,495.5 460.2,495.9 463.7,495.1 466.2,494.6 468.9,493.8 472.2,494.5 474.1,494.5 477.2,494.6 478.9,495 482.8,493.8 484.8,494.7 487.1,493.5 490.8,493.2 2999.8,3000.8 -3000.5,3000.8 -3000,454.1" fill="#FB8D46"/>
<polygon points="354,466.3 357.2,466.6 359.4,466.6 362.1,467.2 365.7,465.5 368.3,467.1 371.2,466.6 372.8,466.5 375.5,467.8 378.4,469.2 380.8,469.6 382.7,470.5 386.3,472.5 388.4,474.2 390.3,475.2 393.5,475.6 395,478.1 397.6,479.8 400.4,482 402.4,482.7 404.9,483.1 408.6,485.7 410.2,486.8 412.5,488.1 416.4,488.9 418.7,491.2 420.4,492.4 423,494 426,496.1 427.4,498.3 430.8,498.9 433.7,501.7 435.7,503.3 438.8,504.5 442.3,507.9 443.1,509.9 443.1,512.1 442.2,515.3 443.4,518.6 443,520.5 443.3,523.3 442.5,525.3 442.8,528.8 443.3,530.9 2999.6,2999.3 -3000.4,2999.4 -2999.4,466.8" fill="#F8D16F"/>
<polygon points="354,481.3 356.4,480.7 359,481.5 362.9,480.7 365.3,481.5 367.3,481.2 370.2,480.6 373.9,480.8 375.1,484.3 378.9,486.6 380.7,488.1 382,489 385,491.8 387.2,492.7 389.4,495.4 391,496.1 394.7,498.7 396.9,500.7 399.5,501.7 402.8,503.6 406.2,506.3 409.4,507.6 409.3,510.7 409.8,513 408.8,514.9 408.5,517.2 408.8,519.9 409.7,523.8 410,526.8 408.9,529.3 409.4,531.5 2999.9,3000.6 -2999.4,3000.2 -3000.3,480.6" fill="#F3F9A8"/>
<polygon points="354,485.5 357.2,485.5 360.3,485.2 362.1,486 364.7,485 368.4,486.1 371,486.1 373.7,484.9 375.2,487.9 378.3,489.1 380.5,491.3 383.4,492.4 385.4,494.7 387.7,496 388.2,498.5 391.2,499.9 395.1,502.4 397.6,503.2 399.9,505.7 402.2,506.8 401.2,509.2 401.9,513.4 400.9,514.7 401.9,517.5 400.9,521.2 402.2,523 401.7,525.1 402,528.7 402.5,531.5 2999.3,2999.9 -2999.3,3000 -2999.8,485.7" fill="#98D688"/>
<polygon points="435.7,409.3 438.6,409.8 442.3,409.2 443.7,410 446.9,409.1 447.5,412.7 448.1,416.7 444.9,416 442.1,416.3 440.3,416.3 436.5,415.4 437.3,412.4" fill="#FB8D46"/>
<polygon points="459,423 463,422.3 466.6,423.3 465.4,425.8 466.3,427.8 466.7,431.3 463.3,431.7 460.3,429.7 458.9,426.4" fill="#FB8D46"/>
</g>
<g mask="url(#m11)">
<rect x="495" y="279.3" width="99" height="103" fill="#F2522F"/>
<polygon points="553.7,263.3 553.9,266.4 553,270 553.2,271.7 553.4,274.7 553.5,279.1 553.8,281.2 557.2,283.5 559.6,284.7 561.4,285.9 564.7,288.3 568,290.2 571.1,291.7 572.9,293.3 575.2,295.1 576.3,296.6 577.9,297.9 582.4,300.8 586.2,302 589.1,302.8 591.1,303.8 594.3,304.3 597.1,304.5 599.8,304.5 602.8,305.8 605.1,305.2 608,306.7 609.8,306.2 613.4,307.4 616,308.6 617.9,307.8 2999.7,3000.6 -2999.6,3000.6 -2999.4,262.8" fill="#C41F3B"/>
<polygon points="548.7,263.3 548.2,266.6 548.6,268.7 548.2,273.1 549.1,276 549.5,277.5 549.5,280.6 550.4,283.3 552.9,283.3 555.6,286 558.9,287.5 560.6,288.8 563.1,290.1 564.7,291.1 566.3,293.8 568.6,295.1 571.9,295.9 573.7,298.6 575,299.8 578.1,300.9 580.7,303 584.3,305.8 585.7,306.3 588.4,306.6 591.5,307.4 593.9,307.7 597.7,308.1 600.5,308.2 602.5,309.6 606,310.1 607.8,310.2 609.8,309.6 613.8,311.4 615.5,310.9 618.4,311.2 2999.3,2999.8 -3000.5,2999.6 -3000.7,263.5" fill="#86002A"/>
<polygon points="507.8,263.3 508.8,266.9 507.8,268.8 509.1,271.5 508.7,274.9 507.9,278.6 509.4,281 511.4,281.6 514.4,282.9 515.6,284.7 519.2,284.5 520.6,286.5 523.7,287.3 526.3,288.9 528.4,289.8 530.6,291.8 534.3,293.8 536.7,294.4 539.2,296.1 541,298 543.3,299.4 545.8,299.6 549,301.4 550.6,302.4 553.7,304.8 555.6,305.4 558.7,306.8 561.8,308.6 564.3,310.5 566.8,311.2 569.3,313.7 571,315.1 573.1,316.3 575.7,318.3 579.4,319.1 581.9,319.5 586.9,319.5 589.7,320.2 592.3,320.2 594.1,320.6 597.7,320.5 600.4,319.6 602.3,319.4 604.9,319.8 608.1,319.3 611.4,320 613.9,320.6 615.2,320.6 618.6,319.2 3000.6,3000.7 -2999.4,3000 -3000.4,264.1" fill="#C41F3B"/>
<polygon points="506.2,263.3 506.8,266.3 506.5,269.9 506,272.8 506.1,275 507,277.9 506.1,280 506.9,283.8 506.4,286.5 510.3,286.9 514.4,287.5 516.8,288.5 518.8,290 522,291.5 523.7,291.3 527.5,293.7 529.3,295.6 532,296.7 534.8,298.7 537.5,299.5 539.1,301.4 542.6,302.7 545,304.9 546.2,306.3 549.7,307.2 552.7,310 553.8,310.5 556.3,311.8 560.1,312.5 562.1,315.1 565.1,316 567.9,317.6 571.2,318.9 574.3,320.6 575.9,321.5 579.3,322.1 581.9,323.7 583.7,323.9 586.6,324.7 589.4,324.5 592,325.1 594.3,325.8 597.1,324.7 600.5,325 602.6,325 605.7,326.2 607.4,325.7 610.9,325.7 613.4,325.4 616.7,326 617.9,326 3000,2999.4 -2999.4,2999.4 -2999.6,263.2" fill="#F2522F"/>
<polygon points="482,295.8 484.4,295.4 488,296 491,295.8 492.9,295.1 496.4,295.7 498.7,295.7 501.5,294.5 504.5,294 508.5,293.8 510.8,295.7 515,296.5 516.7,297.8 519.4,299.2 522.7,301.7 524.2,303.3 527,304.7 529.8,306.1 532.2,307.6 534.5,309.2 537,309.8 539.8,311.4 542.5,313.6 544.2,314.7 546.5,316.7 548.7,318.6 550.6,320 552.5,323.7 555.7,325.6 558.7,326.1 559.9,327.7 563,330.7 565.7,331.3 568.1,332.7 572.4,333.1 574.5,332.8 577.4,334.4 580.4,335.3 583.4,336.4 584.7,335.9 588.7,336.7 590.9,336.9 594.3,337 595.9,337 598.7,337.3 602,337.6 604.1,338.3 607.4,338.2 610.2,338.1 612.6,337.8 615.9,338.6 619.1,338.9 3000.1,3000.7 -3000.4,3000.6 -3000,295.6" fill="#FB8D46"/>
<polygon points="482,310.8 484,311 487.5,310.5 490,310.6 492.4,309.5 496.5,310 498,310.1 501.8,308.3 503.8,307.2 506.3,306.5 510.2,307.5 511.6,308.4 514.5,310.7 517.5,310.9 519.1,313.5 521.6,314.4 524.4,316.2 527.7,315.9 529.4,318.6 531.4,319.3 533.8,320.6 536.9,321 539.8,323.8 541.6,324.7 542.2,326.1 545.8,328.9 546.7,330.8 548.7,332 550.8,332.9 553.4,335.6 555.3,337.5 556.6,338.6 559.3,338.8 561.4,340.3 564.9,342.7 566.4,342.6 569.4,344.5 571.3,344.9 574.4,345.5 576.7,347.5 580,346.6 582.8,344.8 585.5,345.2 588.7,344.2 590.2,345.4 593.4,345.1 597,344.3 599.6,344.3 602.2,345.4 604,344.9 607.7,345.1 610.2,345.3 613.2,344.8 616.7,345.6 618.3,344.5 3000.4,2999.3 -2999.5,3000.3 -3000.8,311.7" fill="#F8D16F"/>
<polygon points="482,318.3 485.5,317.7 487.8,318.9 489.2,317.5 492.4,319.1 494.6,318.4 497.2,319 501.7,319.7 505.6,320.6 506.4,322.6 508.5,325 509.6,328.5 512.5,330.1 513.8,331.7 517.2,333.4 518.1,335.2 522.5,333.3 525.2,332 527.1,333.2 531,333.3 532.9,335.7 535.5,335.9 537.5,338.7 540.2,339.7 542.7,341.1 545.2,342.6 548.6,344.4 550.4,346.4 553.4,348.1 555,350.3 557.7,351.6 558.5,352.6 560.6,354.3 564.2,356.1 565.2,358.1 567.6,360.8 571.1,361.7 574.3,363.6 574.5,365.7 574.2,368.1 574.9,372.4 573.7,374.8 571.6,377.2 572.1,380.1 572,382.8 572,385.3 570.8,388 570.8,389.6 570.6,392.9 571.3,395.8 570.2,397.7 570,400.2 569.7,402.8 3000.7,3000.3 -3000.6,2999.2 -2999.6,318.5" fill="#F3F9A8"/>
<polygon points="482,340.8 485.4,340.6 488.6,341.7 489.8,341.8 493.3,341 496.4,340.8 498.9,341.4 502.8,342.4 504.6,343.4 506.9,345.4 509.7,346.9 512,347.8 515.2,350.5 517.4,352.5 519.3,353.1 521.8,355.2 524,356 526.7,357.3 529.2,358.6 531.8,360.7 534.3,361.8 536.3,363.2 539,364.8 541.7,365.9 543.6,366.4 546.6,367.4 549,369.1 552.9,372.1 551.2,374.3 547.9,376.5 549.2,379.2 548.2,381.8 548.6,384.8 548,387.4 548.1,390.1 548.1,392.8 549,395.9 548.1,398.1 548,400.1 549,403.3 2999.2,3000.4 -3000.4,2999.6 -2999.8,340.7" fill="#98D688"/>
<polygon points="497,295 501,295.3 501.7,299.2 501.7,302.8 504.9,304.3 504.9,309 502.7,311.6 499.2,312.9 496.8,312.3 496.3,309.5 497.4,306 497.1,302.8 497.5,299.8 496.6,297.8" fill="#98D688"/>
<polygon points="498.7,292.5 501.9,291.2 502.3,293.7 499.9,294.5" fill="#86002A"/>
</g>
<g mask="url(#m12)">
<rect x="612.2" y="279.3" width="97.3" height="102.7" fill="#F2522F"/>
<polygon points="662.5,263.9 663.4,266.5 663.2,270.3 662.2,273.2 663.1,275 661.9,278 661.9,280.2 664.8,282.9 667.9,284.6 670.5,285.4 672.1,287.9 675.4,288.6 677.1,291.2 679.4,292.7 681.5,294.1 685.4,296.7 688,297.8 690.6,298.2 693,301.3 695.7,301.7 698.3,304.1 700.4,303.8 704.4,305.5 707.7,306.8 711,306.5 712.8,307.2 716.8,309.1 718.8,308.7 722.8,309.2 3000.6,3000.3 -2999.3,3000.2 -2999.8,263.4" fill="#C41F3B"/>
<polygon points="658,263.9 657.2,266 658,269.8 657.5,273.1 657.8,275 658.2,278 657.6,281.5 659.5,282.4 662,284.8 664,287.1 667.4,287.6 669.6,290.2 671.4,291.8 674.6,293.2 677.1,294.9 678.2,296.1 680.7,298 683.5,298.7 685.2,301 687.2,302.4 689.3,302.9 692.9,305 693.7,306.5 697.8,307.3 700.1,308.4 703.4,308.9 707.6,311.4 710.4,312.5 713.7,311.6 716.7,312.3 719.4,313.9 721.4,314 3000.1,3000 -3000.1,2999.6 -2999.6,263.6" fill="#86002A"/>
<polygon points="626.7,263.9 627.6,267 627,269.9 627.8,271.5 627.2,273.7 627.7,277.8 627,278.9 628.3,282.7 629.6,284.2 631.9,284.4 634.7,286.7 637.9,287.7 640.4,289.3 644.2,290.7 647.4,291.6 649.7,292.4 653,294.1 655.5,296 657.7,297.7 661,300.5 663.5,302.4 664.7,304.6 667.5,305.8 670.5,307.7 673,309 674.1,311.2 677.5,312.4 679.4,314.6 681.9,317.9 685.4,319.3 688.4,320.9 691.5,321.6 694.2,323.2 697.7,323.6 701.2,324.8 703,328.3 706.6,327.6 709.3,327.4 711.4,327.7 714.5,328.2 717.3,329 719.4,329.2 721.2,328.6 2999.6,3000.7 -3000.5,2999.2 -3000.5,263.2" fill="#C41F3B"/>
<polygon points="622.1,263.9 621.7,266.4 622.8,269.2 622.3,271.8 622.7,275.8 622.3,278.5 623.1,280.6 623.4,284.2 623.5,287.4 627.2,287 630.7,287.7 633.9,290.1 636,291 640.4,291.2 643.1,292.4 646.1,293.7 649.5,295.8 650.3,297.2 653.4,299.2 656.4,301.9 658.4,304 660.1,305.9 661.8,307.3 664.2,309.6 666.3,310.4 668,313.4 671.5,313.6 672.5,316.5 676.4,317.8 678.3,319.1 681,319.5 684.4,321.5 687.8,322.8 690.7,325.1 692.9,326.7 696.8,328.2 698.6,328.7 704.4,330.7 706.5,331.7 709.1,330.4 710.9,331.2 714.5,331.7 717.1,331.6 719.2,331.8 721.4,330.9 3000,3000.2 -3000,3000.7 -2999.5,264" fill="#F2522F"/>
<polygon points="590.8,296.7 594.2,296.5 596.9,295.9 599.5,296.3 600.6,296.2 604.2,296.5 607.2,296 609.5,296.8 611.7,296.9 614.6,296.2 617.3,296 619.7,295.6 623.1,296.6 627.6,297.6 630.4,299.5 631.2,300.5 634.9,302.8 636.4,304.1 639.6,305.1 643.2,307.3 645.6,307.7 648.1,309.4 650.3,312.3 652.1,313.2 654.2,315.8 655.3,316.5 657.9,317.7 661.4,318.2 662.6,320.7 665.1,322.9 666.6,325.3 667.8,326.3 671.6,327.7 674.1,329.8 676.1,332.1 679.4,333.8 682.7,335.8 685.6,336.4 688.1,336.1 691.7,334.9 694.5,334.1 697.8,335.4 700.2,335.4 703.3,337.8 706.4,336.5 709.2,336.6 711,336.7 713.7,337.2 716.1,336.9 718.6,337.7 722.3,338.1 3000.2,3000.3 -3000.4,3000.1 -2999.4,297.5" fill="#FB8D46"/>
<polygon points="590.8,306.6 593.5,306.3 595.7,306.4 598.5,306.1 602.1,305.9 603.7,307 607.1,305.8 609.6,306.1 612.2,307.2 615.9,306.8 619.5,307.8 622.2,308.6 624.4,310.1 626.7,311.7 629.7,312.2 632,313.8 634,315.2 636,316.9 638.8,318.4 641.7,319.6 644,321.1 647,324.2 650.3,324.6 652.2,327.4 656.2,328.9 657.3,330.8 659,333.1 662,335.2 662.8,336.6 665.6,338.5 668.8,339.6 670.6,342.2 673.4,342.7 675.5,344.7 677.2,346.8 679.2,348.8 681.4,350 682.6,350.3 686.3,348.6 688,348.2 691,346.5 693.8,346.9 697.7,346.1 699.2,349.5 702.3,352.9 705.5,352.7 707,352.6 710.3,352.6 712.8,353.4 716.7,353.7 718.7,353.1 721.8,352.5 3000.3,2999.5 -3000.3,3000.2 -2999.4,307.1" fill="#F8D16F"/>
<polygon points="590.8,315.8 593.1,316.5 596.6,315.7 600.2,315.2 602.7,315.7 605.6,316.2 608.4,316.6 610.6,315.4 614.5,315.3 616.5,317.8 619.5,318.7 621,320.7 623.9,322.1 625.9,325.3 627,328.3 628.9,329.7 632.7,331.1 633.5,332.6 636.8,333.6 640.4,336 643.1,337 646.4,338.9 647.1,340.5 649.8,342.6 651.8,344.4 653.2,346.2 655.7,348 658.4,350.8 660.4,352.9 663.7,354.6 665.6,356 668.8,358.7 671,360 675.4,360.6 678.4,360.9 679.8,364.1 682.8,366.2 685.1,367.6 688,367.2 691.2,365.3 694.5,365 697.3,363 702.2,360.9 704.2,361.9 706.5,361.3 710.5,360.7 712.5,361.4 716.6,361.7 718.5,360.4 721.4,361.1 2999.8,2999.8 -2999.3,2999.7 -2999.4,315.7" fill="#F3F9A8"/>
<polygon points="590.8,333.3 594.2,332.7 597.2,333.6 599.4,333 602.8,333.4 605.6,334.4 607.3,334.7 610.3,333.6 613.8,334.4 614.8,337 617.6,338.2 618.5,340.2 619,342.7 623.2,345.3 624.4,347.6 626.9,350 629.8,351.6 632,352.7 634.7,353.3 636.9,355.4 639.3,356.9 640.5,359.8 643,361.6 645.4,363.1 647.3,365 650.3,365.4 653.3,367.7 654.4,368.7 657.7,370.2 659.5,371.8 661.3,373.9 664.7,375.9 668,376.8 670.2,380.3 670.4,383.3 671.2,384.7 670.3,388 671.1,390.4 670.9,394.7 670,396.8 671.4,400.4 3000.3,2999.6 -3000.7,3000.5 -3000.7,333.3" fill="#98D688"/>
<polygon points="614,297.5 616,295.5 616.4,292.6 618.6,294.5 618.7,296.4 617.5,299.4 616.5,301.7 616.1,304.3 614,303.5 614.8,300.9" fill="#86002A"/>
<polygon points="668.9,376.8 672.2,376.8 671.8,380.8 668.3,380.5" fill="#86002A"/>
</g>
<g mask="url(#m13)">
<rect x="495.8" y="407.3" width="97.3" height="102.8" fill="#FB8D46"/>
<polygon points="543.7,391.3 543.6,393.9 544.5,396.4 542.8,399.9 543.5,402.3 543.4,404.3 542.9,407.9 543.3,410.4 546,412 547.3,413.3 549.2,414.3 552.6,416.8 554.5,417.9 556.2,419.6 557.6,422 561.1,423.1 562.4,424.8 564.6,427 566.3,429.5 569.2,432 571.4,434.3 573.2,434.7 575.7,437.7 576.5,439.5 579.1,441.1 581.6,442.6 583.8,445.1 586.1,445.7 587.3,448.2 589.2,450 590.8,450.9 593.9,453.1 596.3,452.8 598.6,454.6 600.6,454.8 603.1,455.2 605.7,457.1 609,457 611.5,458.8 614.2,459.4 616.4,460.5 619.5,461.4 3000.5,2999.4 -3000.2,3000.1 -3000.4,390.8" fill="#F2522F"/>
<polygon points="520.3,391.3 521.1,394.2 520.6,397.6 521.7,399.2 521.3,403.5 521.9,406 521.6,409.3 522.4,412 524.6,412.7 525.6,415.5 528.6,418.2 530.1,420.5 533,420.1 534.6,422.6 537.1,423.2 540.1,425.3 542.2,426 543.9,428.7 546.2,430.3 548,431.9 550.5,433.3 553.8,435 556,435.5 559.2,438.7 560.3,440.8 562.2,441.9 564.9,444.4 567.1,446.8 569.7,448.8 573.3,449.5 574.7,451.5 577.6,452.5 581.2,454.1 584.5,456.6 585.9,457.8 588.9,460.3 591.3,460.9 594.8,462.7 597.4,463.5 599.1,463.9 602.9,464.4 605,464.8 608.5,466.8 611.2,467.7 612.5,467.6 616,469.1 618.9,469.7 3000,2999.4 -3000.5,2999.8 -3000.6,391.4" fill="#C41F3B"/>
<polygon points="482,421.3 484.1,420.6 487,420.9 490.2,421.1 492.2,422 494.6,421 497.1,420.7 500.4,419.4 502.9,418.2 505.7,416.5 508.1,415.5 510.5,414.7 513.4,415 516.7,416.2 520.7,418.3 523.6,419.9 525.1,421.2 529.5,422.2 531.8,424.4 532.8,426.7 536.6,427.7 538.8,429.3 540.7,430.9 544,433.5 546.3,433.9 548.3,437.1 550.7,438.6 552.9,439 556.7,441.6 559,443.2 561.4,445.3 562.7,445.8 564.3,448.1 566.9,450.5 569.6,450.7 573.3,453.8 574.7,455.1 578.2,456.1 581.1,458.2 584.2,460.2 586.1,461.4 589.7,462.4 591,464.6 593.6,464.9 596.3,466.9 600.3,467.6 603.1,467.6 604.2,469.3 608,469.1 610.2,471.2 613.8,471 616.5,471.6 619.4,473.1 2999.4,3000.1 -2999.3,2999.2 -2999.4,422.1" fill="#86002A"/>
<polygon points="482,430.5 483.8,430.6 487.1,430.4 490,430.8 492.9,430.7 495.3,431.2 497.2,431.5 500,433.1 503.2,433.9 505.9,433.8 507.3,434.4 511.5,433.5 514.3,432.4 516.1,433.7 518.5,435 521.9,437.2 523.5,437.6 526,439.6 528,441.3 530.8,443.4 533.3,444 536.3,445.8 539.5,446.4 541.3,448.9 543.1,449.6 545,451.7 546.9,453.5 549.7,454.3 551.3,457.1 552.9,457.5 556,459 557.1,461.5 560,462.2 561.6,465 563.6,466 565.7,467.3 568.2,469 570.2,470.9 573.5,471.1 576.7,472.1 578.4,473.7 582,473.3 583.7,474.3 587,474.4 589.3,476.2 591.3,476.5 594.9,477.3 596.7,476.4 599.6,476.6 602.5,476.5 604.9,476.6 607.4,478 611.3,477.6 613.2,477.2 615.8,477.8 619.1,478.7 3000.3,2999.8 -3000.6,3000.5 -2999.8,430.8" fill="#C41F3B"/>
<polygon points="482,433.8 483.8,434.7 487.3,434.8 490.5,434.2 491.7,434.6 495.5,435.2 497.9,433.9 500.9,434.7 503,436.5 505.8,437.4 507.9,436.5 510.9,435.9 514.4,435.6 516.3,438.1 517.9,438.9 521.3,439.8 523.6,441.1 526.1,442.8 528.8,443.9 531.6,446.4 534.3,447.4 537,450 538.7,449.9 541.1,451.7 544.5,453.5 545.5,455.3 547.9,455.8 550.3,458.4 550.9,460.3 554.3,462.1 556.1,462.3 557.8,464.7 559.9,466.6 561.2,468.4 563.3,469.5 566.1,470.7 568.5,472.6 570.1,474.6 573,475.4 575.1,476.5 578.9,475.6 581.2,477.1 583.3,478.2 586.2,477.7 589.4,479.4 591,480.4 594,479.3 597.8,480.3 600.1,480.3 602.4,480.5 604.5,480.4 607.8,481.2 610.1,480.7 613.8,481.1 615.1,481.2 619.4,481.3 3000.7,3000.8 -3000.3,3000.6 -3000.1,433.6" fill="#F2522F"/>
<polygon points="482,445.5 484.6,445.2 487.5,444.8 490.6,445 492.6,445.5 494.4,444.1 498.3,444.9 501.1,444.2 503.6,442.6 504.6,440.7 507.8,443.1 510.1,443 513.9,444.2 516.2,446.7 519.2,447.4 521,449.7 523,450.8 526.1,451.8 529.1,453.4 532,453.2 533.3,454.6 535.6,455.6 539.5,457.3 540.4,459 544,460.8 545.8,462.7 548.6,465.4 550.4,465.9 553.6,467.4 555.4,469.8 558.2,472.1 560.7,474.7 561.3,477 563,479.1 566,480.9 566.4,482.4 568.6,484.7 571.1,486.6 573.9,486.1 575.3,487.2 579.3,487.7 580.8,489.2 584.8,488.7 587.7,489.6 592.2,490.9 594.4,491.1 597.5,491.6 600.3,491.2 603,492.2 605.5,491 608,491.5 610.6,491.8 612.5,492 615.3,491.3 618.7,492.3 2999.2,3000 -3000.8,3000.3 -3000.1,445.8" fill="#FB8D46"/>
<polygon points="482,453.8 484.8,454 487.3,454 490,454 493.1,453.9 494.8,452.9 498.4,453.8 499.9,450.9 503.1,449.6 505.3,448.8 508.9,450.3 510.4,451.7 514.5,453.7 515.3,453.6 519.3,455.8 521.3,456.5 523.4,457.4 525.5,458.8 528,461.3 530.9,462.4 534.5,463.7 536.7,464.9 539.3,467 541.8,467.8 544.4,470.2 544.9,471.4 546.9,473.2 549.2,474.7 551.9,476.1 552.9,478.1 555.2,480.5 556.3,481.9 557.9,484.4 559.9,485.5 562.8,487.2 564.5,489.4 565.6,492.8 566.2,494.1 568.1,496.2 571.3,494.2 575.5,492.7 577.8,493.4 580.6,495.9 583.2,496.8 586.2,495.4 588.2,495.6 591.1,495.2 594.1,494.1 596.5,495.3 599.9,494 603.1,493.9 605.6,494.1 608.4,494.3 610,493.9 613.5,494.3 616.4,494.1 618.4,493.1 3000.4,3000.1 -3000.5,2999.4 -3000.2,453.1" fill="#F8D16F"/>
<polygon points="482,463 485.4,462.9 487.4,463.3 489.4,463.8 493.3,463 495.8,463.4 497.7,462.4 501.1,464.5 504.7,463.8 508.7,466 511.3,467.8 514,469.5 516.4,471.2 519.1,472.6 521.6,474.1 523.4,476.2 525.4,477.4 528.1,480.5 530.1,480.8 531.5,483.5 534.3,484 535.9,485.8 538.4,488.8 539.5,489.9 541.6,491 544.5,492.9 545.5,495.5 546.9,495.5 550,498.5 551.3,498.8 554.4,501.7 555.5,503.4 558.7,504.5 560.4,506.5 561.8,507.9 562.5,510.4 561.7,514 562.6,517.2 563.2,519.5 562.1,522.9 562.7,524.7 562.1,528.5 563.4,531 2999.3,2999.9 -2999.2,2999.3 -2999.6,463.7" fill="#F3F9A8"/>
<polygon points="482,476.3 485,476.4 488.1,476.9 489.6,475.6 493.1,476.1 495.7,476 498.3,476.3 501.1,476.7 503.5,478 506.1,479.1 507.5,482.1 508.7,484.2 512,486.7 514,488.2 515.4,489.1 518,491.4 521.1,493.4 523.5,494.4 526.7,495.2 529.4,496.8 532.6,497.2 534.5,500.1 535,502.7 534.6,505.2 534.2,507.4 533.2,510.9 534.1,513.4 533.7,516.7 533.9,519.1 533.8,522.9 533.2,525.3 534.4,528.1 533.4,531.1 2999.5,3000.3 -2999.3,3000.8 -3000.3,475.8" fill="#98D688"/>
<polygon points="568.7,409.7 571.5,409.7 575.3,409.4 577.8,410 577.5,412.3 578.1,415.3 579.7,419.4 578.4,418.6 575.4,419.2 572.5,418.4 570.5,415.5 569.7,413.2" fill="#F8D16F"/>
<polygon points="583.7,420.5 587.1,420 588.5,421.2 590.8,419.8 591.8,423.4 591.3,427 592,429.9 589.4,430 585.4,428.8 584.6,426.1 584.4,422.5" fill="#F8D16F"/>
<polygon points="515.3,409.3 519.2,409.6 521.3,409.1 524.9,409.1 523.7,410 520,411.1 515.8,412.9" fill="#F3F9A8"/>
</g>
<g mask="url(#m14)">
<rect x="612.2" y="408.7" width="96.8" height="101.5" fill="#FB8D46"/>
<polygon points="650.3,391.9 649.7,395.4 649.5,397.9 650.6,400.2 650.9,404.2 650.5,406.2 650.5,410.3 649.8,412.8 653.3,414.1 655.1,415.2 658,418.6 660.6,420.2 663.9,422.4 665.5,423.6 668.2,425.7 669.1,427.4 671.2,429.1 673.7,431.7 675.9,432.5 677.5,433.9 680.1,436.7 682.1,437.4 685.4,439 686.2,440 688.7,441.4 692.1,443.8 695.3,446.1 697.1,447.3 700.9,448.4 703,449.8 704.7,451 707.8,453 709.6,454.3 711.6,454.8 714.6,455.7 716.5,456.5 719.9,458.4 721.4,458.7 2999.3,3000.8 -3000.1,3000.8 -3000,391.7" fill="#F2522F"/>
<polygon points="624.4,391.9 623.9,394.4 624.8,396.9 624.8,400.6 625.5,403.3 625,405.8 625.6,408.8 625.5,411.3 626.3,413.3 626.2,416 625.7,420.2 628.4,421.3 630.8,422.8 632.9,423.8 636.2,425.9 640.1,427.8 642.7,428.9 645.1,430.7 648,432.3 650,432.9 652.2,435.4 654,436.2 655.7,438.1 658.3,439.3 660.5,441.5 664,442.1 666.7,443.9 669.5,445 672.7,446.4 674.9,448.1 677.1,449.4 679.5,451 682.3,453.6 685.7,455.1 688.7,455.3 690.9,457 695.3,458.7 697.3,460.6 699.6,462.1 703.4,462.8 705.1,463.4 707.2,465.6 711.2,466.7 712.7,467.6 716.2,467.3 719.4,468.3 722.1,470.1 3000.7,3000.7 -3000.2,3000.6 -2999.7,392.2" fill="#C41F3B"/>
<polygon points="590.8,426.2 592.8,426.8 596.6,426.9 598.5,426.7 602.1,426.1 604,426.5 605.9,426 608.6,426 612.6,425.4 614.4,425.4 616.4,423.2 620.5,422.6 623.2,422.7 624.7,423.4 626.8,425.4 630,426.8 633.6,426.8 637.3,427.7 638.6,429.9 641.6,431.1 644,433.5 646.3,433.8 648.4,436.9 651.7,436.9 654.5,438.8 657.7,441.6 659.4,442.3 661,443.8 664.3,446 667.1,447.4 669.7,449 673.6,449.7 676.3,451.2 677.9,452.1 680.1,453.8 683.1,455.1 685.1,457.4 688.3,458.2 691,460.5 694.9,462.7 698,463.7 701.5,465.7 704.9,466.7 707.5,469 711,468.7 713.8,469.9 716.3,471.4 719.6,471.9 721.7,472.9 2999.7,2999.2 -2999.2,2999.4 -2999.2,426.2" fill="#86002A"/>
<polygon points="590.8,436.1 594,436.2 595.5,435.9 598.3,436.3 600.9,435.9 603.3,436 606.9,436.6 609.3,435.8 611.4,435.4 613.8,435.7 618.4,436.2 620.7,438.2 624.8,439 628.2,439.3 630.7,439.7 634,441.2 637.4,442.2 639.6,443.9 642.5,445.8 644.9,446.9 646,448.8 649.4,449.5 651.3,451.2 655.1,452 658,453.2 660.6,454.6 663,456.6 665.4,456.9 667.3,458.7 669.9,460.6 672.3,461.5 673.7,464.1 675.8,465.4 679.3,466.1 680.7,468.8 683.1,469.9 686.1,471.2 688.2,471.7 691.8,473 694.6,473.5 697.4,474.6 698.9,474.6 701.9,475.6 704.9,474.9 706.9,476.1 710.5,475.6 713.2,475.8 716.9,475.5 719.8,475.9 722,476 3000.5,2999.7 -2999.9,3000.6 -2999.4,435.5" fill="#C41F3B"/>
<polygon points="590.8,439.9 593.1,439.3 596.7,440 598.7,439.4 600.6,439.3 604.8,439.2 606.7,440 609.2,439.4 612,439.9 614.9,440.6 618.3,439.9 621.4,441.4 624.2,442.2 627.5,442.8 629.9,442.2 633.2,444.9 636.7,446.1 639.3,447.8 642.7,449.5 644.6,451.3 646.5,452.4 648.5,453.6 651.1,454.3 655.6,455.9 657.8,457 659.4,459 662.2,460.2 665.2,462.6 666.5,463.1 669.6,465 671.6,467.4 674.4,467.4 676.5,470.3 678.4,470.5 681.4,472.7 682.6,474.7 685.7,475.2 688.7,477.1 691.9,477.5 693.9,478.6 698,479.8 699.8,479.9 702.8,480.3 705,479.6 707.5,480 711.1,480.5 713.4,480.6 716.8,481.1 719.5,481.6 722.4,480.6 2999.3,3000.4 -2999.8,2999.5 -2999.8,439.1" fill="#F2522F"/>
<polygon points="590.8,448.3 592.7,448.5 595.7,449 598.6,448.7 601.9,448.8 603.3,448.6 605.9,449.1 610,448.4 611.3,448.1 614.9,447.8 617.2,447.7 621.7,447.6 625.2,447.2 627.9,448.6 630.9,447.6 632.2,449.3 635.6,450.6 638.1,453.5 639.8,455 642.4,455.2 645.3,458.2 649.2,459.8 650.7,460.4 652.5,461.3 655.9,463.1 657.3,465.8 660.7,467 664.7,467.6 666.4,470.4 669.2,471 672.4,473.1 674.7,475.4 676,477.1 678.6,479.4 680.9,481 683.3,482.7 685.5,484.2 688.1,484 691.8,486.3 693.9,486.3 697.8,486.8 699.5,487.7 701.6,488.1 705.3,488.2 707.2,487.9 709.7,487.9 712.8,487.7 716,488.6 719,488.9 722.7,488.3 3000.4,2999.5 -3000.8,2999.5 -2999.7,448.2" fill="#FB8D46"/>
<polygon points="590.8,457.5 593,456.7 596.4,456.9 599.3,458 600.8,457.1 603.3,457.9 606.6,457.2 609.6,457.6 611.4,458 614,456.7 617.9,455.4 621.1,454.1 624.1,454.5 627.7,453.8 631,454.9 633.1,455.2 634.8,457.6 637.1,459.6 640.1,460.5 642.6,462.4 644.4,464.4 646.8,464.5 648.3,466 651.3,468.8 652.6,469.1 656.5,471.8 658.5,473.5 659.6,474.1 662.5,475.6 664.7,477.4 666.4,478.8 668.7,481 672.5,482.7 674.6,484.9 675.7,486 678.3,488.2 681.3,490 683.8,491.8 685.8,492 688.3,493.3 691.8,495 694,496.3 696.5,496.4 699.9,496.5 702.8,495.7 705.2,496.7 706.8,497.4 710.1,497.4 713.8,497.1 716.7,497 718.7,498.1 721.9,498.1 2999.7,3000.6 -3000.7,3000.8 -2999.6,458.1" fill="#F8D16F"/>
<polygon points="590.8,468.2 593.5,467.9 596.9,467.9 598.1,468 600.7,467.9 604.7,468.2 606.7,468.9 608.9,468.1 612.1,468.8 613.8,467.5 618.2,469.6 620.6,471.3 625.2,473 627.7,473.8 629.8,474.2 633.6,476.1 635.7,477.4 638,479.6 639.1,480.6 642.6,482 644.5,482.8 646.7,485.4 649.6,485.8 650.4,488.2 654.1,490.4 655.8,490.5 658,491.9 660.2,494.5 662.3,495.9 664.9,496.4 667.6,498 669.7,500.1 671.8,502.3 674.8,503.1 676.7,505.3 678.7,506.9 681.7,507.7 680.6,511.5 681.3,514.1 681.2,517.1 681,518.8 680.6,522 680.8,524.9 681.1,528.2 2999.8,3000.1 -2999.7,2999.4 -3000.8,467.9" fill="#F3F9A8"/>
<polygon points="590.8,483.4 592.8,483.2 596.5,484 597.9,483.4 600.6,484 603.3,482.7 606.4,483.2 609.8,483.5 611.6,483.7 615,482.8 617.1,484.2 621.9,486.2 623.1,488.5 625.6,489.8 628.5,490.7 630.4,492.1 632.2,494.5 635.9,497.2 637.4,498.6 639,499.8 643,502.1 645.4,503.5 646.8,504.2 650.9,507.7 650.9,510.6 650.2,513.4 650.4,515.5 650.9,520 651.3,521.8 651,525.1 650.4,527.8 2999.9,3000.5 -2999.4,3000 -2999.4,483.4" fill="#98D688"/>
<polygon points="693.1,423.2 695.4,424.2 698.9,424.2 702.2,424.4 704.8,424.6 707.1,424 707.2,428.3 708,430.5 704.3,430.7 701.3,430.4 698.2,430 695.3,426.2" fill="#F8D16F"/>
<polygon points="682.4,411.4 684.6,410.8 687.8,411.7 686.9,413.7 688.1,417.5 684.6,415.7 683.3,414.2" fill="#F3F9A8"/>
</g>
<text x="1" y="235" font-size="12.5" fill="#000" font-weight="bold">c</text>
<text x="116" y="254.5" font-size="13.6" fill="#111" text-anchor="middle">GraphPCA_multi (ARI = 0.52)</text>
<text x="55.7" y="275.7" font-size="11.8" fill="#111" text-anchor="middle">151507</text>
<text x="172.5" y="275.7" font-size="11.8" fill="#111" text-anchor="middle">151508</text>
<text x="55.7" y="400.7" font-size="11.8" fill="#111" text-anchor="middle">151509</text>
<text x="172.5" y="400.7" font-size="11.8" fill="#111" text-anchor="middle">151510</text>
<text x="362" y="254.5" font-size="13.6" fill="#111" text-anchor="middle">STAligner (ARI = 0.48)</text>
<text x="301.7" y="275.7" font-size="11.8" fill="#111" text-anchor="middle">151507</text>
<text x="418.5" y="275.7" font-size="11.8" fill="#111" text-anchor="middle">151508</text>
<text x="301.7" y="400.7" font-size="11.8" fill="#111" text-anchor="middle">151509</text>
<text x="418.5" y="400.7" font-size="11.8" fill="#111" text-anchor="middle">151510</text>
<text x="603" y="254.5" font-size="13.6" fill="#111" text-anchor="middle">BASSMult (ARI = 0.41)</text>
<text x="542.7" y="275.7" font-size="11.8" fill="#111" text-anchor="middle">151507</text>
<text x="659.5" y="275.7" font-size="11.8" fill="#111" text-anchor="middle">151508</text>
<text x="542.7" y="400.7" font-size="11.8" fill="#111" text-anchor="middle">151509</text>
<text x="659.5" y="400.7" font-size="11.8" fill="#111" text-anchor="middle">151510</text>
<text x="430.5" y="12.5" font-size="12.5" fill="#000" font-weight="bold">b</text>
<path d="M506.3 17.5V171.3H652.5" fill="none" stroke="#111" stroke-width="1.2"/>
<path d="M503.6 34.2H506.3" stroke="#111" stroke-width="0.8"/>
<text x="500.6" y="36.5" font-size="9" fill="#111" text-anchor="end">0.60</text>
<path d="M503.6 61.2H506.3" stroke="#111" stroke-width="0.8"/>
<text x="500.6" y="63.5" font-size="9" fill="#111" text-anchor="end">0.55</text>
<path d="M503.6 88.2H506.3" stroke="#111" stroke-width="0.8"/>
<text x="500.6" y="90.5" font-size="9" fill="#111" text-anchor="end">0.50</text>
<path d="M503.6 115.2H506.3" stroke="#111" stroke-width="0.8"/>
<text x="500.6" y="117.5" font-size="9" fill="#111" text-anchor="end">0.45</text>
<path d="M503.6 142.2H506.3" stroke="#111" stroke-width="0.8"/>
<text x="500.6" y="144.5" font-size="9" fill="#111" text-anchor="end">0.40</text>
<path d="M503.6 169.2H506.3" stroke="#111" stroke-width="0.8"/>
<text x="500.6" y="171.6" font-size="9" fill="#111" text-anchor="end">0.35</text>
<text x="475" y="91.5" font-size="9" fill="#111" text-anchor="middle" transform="rotate(-90 475 91.5)">ARI</text>
<path d="M526.5 171.3V174" stroke="#111" stroke-width="0.8"/>
<text x="530.7" y="178.2" font-size="9" fill="#111" text-anchor="end" transform="rotate(-45 530.7 178.2)">GraphPCA</text>
<path d="M561.8 171.3V174" stroke="#111" stroke-width="0.8"/>
<text x="566" y="178.2" font-size="9" fill="#111" text-anchor="end" transform="rotate(-45 566 178.2)">GraphPCA_multi</text>
<path d="M596.2 171.3V174" stroke="#111" stroke-width="0.8"/>
<text x="600.5" y="178.2" font-size="9" fill="#111" text-anchor="end" transform="rotate(-45 600.5 178.2)">STAligner</text>
<path d="M630.8 171.3V174" stroke="#111" stroke-width="0.8"/>
<text x="635" y="178.2" font-size="9" fill="#111" text-anchor="end" transform="rotate(-45 635 178.2)">BASSMult</text>
<g stroke="#DB5540" fill="none" stroke-width="1.55">
<path d="M526.5 52V76M526.5 121.8V151M523.7 52H529.3M523.7 151H529.3"/>
<rect x="515.8" y="76" width="21.8" height="45.8"/>
<path d="M515.8 95.8H537.5" stroke-width="2.4"/>
</g>
<g fill="#DB5540">
<circle cx="525" cy="52.5" r="1.4"/>
<circle cx="521.5" cy="61" r="1.4"/>
<circle cx="531.5" cy="68.5" r="1.4"/>
<circle cx="525.5" cy="78.2" r="1.4"/>
<circle cx="520" cy="95" r="1.4"/>
<circle cx="522.5" cy="94.5" r="1.4"/>
<circle cx="525.5" cy="97.5" r="1.4"/>
<circle cx="528.8" cy="98" r="1.4"/>
<circle cx="533.2" cy="118.2" r="1.4"/>
<circle cx="526.5" cy="132.5" r="1.4"/>
<circle cx="524" cy="145.2" r="1.4"/>
<circle cx="520.2" cy="151.2" r="1.4"/>
</g>
<g stroke="#C5352C" fill="none" stroke-width="1.55">
<path d="M561.8 49.5V63M561.8 90.2V127M559 49.5H564.5M559 127H564.5"/>
<rect x="551.2" y="63" width="21" height="27.2"/>
<path d="M551.2 72.2H572.2" stroke-width="2.4"/>
</g>
<g fill="#C5352C">
<circle cx="565.8" cy="50" r="1.4"/>
<circle cx="558.2" cy="57" r="1.4"/>
<circle cx="564.2" cy="58" r="1.4"/>
<circle cx="555.5" cy="66.2" r="1.4"/>
<circle cx="559.2" cy="71.2" r="1.4"/>
<circle cx="563.8" cy="73.8" r="1.4"/>
<circle cx="566.2" cy="77" r="1.4"/>
<circle cx="569.5" cy="73.8" r="1.4"/>
<circle cx="562.5" cy="86.2" r="1.4"/>
<circle cx="559.2" cy="100.5" r="1.4"/>
<circle cx="561.2" cy="105.5" r="1.4"/>
<circle cx="565.5" cy="127" r="1.4"/>
</g>
<g stroke="#3CAA8D" fill="none" stroke-width="1.55">
<path d="M596.2 62.2V83.2M596.2 99.2V102.5M593.5 62.2H599M593.5 102.5H599"/>
<rect x="585" y="83.2" width="22" height="16"/>
<path d="M585 89.5H607" stroke-width="2.4"/>
</g>
<g fill="#3CAA8D">
<circle cx="592.5" cy="34.5" r="1.4"/>
<circle cx="598" cy="62.5" r="1.4"/>
<circle cx="597" cy="81" r="1.4"/>
<circle cx="601.2" cy="85" r="1.4"/>
<circle cx="601.8" cy="90" r="1.4"/>
<circle cx="597.5" cy="95" r="1.4"/>
<circle cx="600.8" cy="98" r="1.4"/>
<circle cx="594.5" cy="102.5" r="1.4"/>
<circle cx="595" cy="132.5" r="1.4"/>
<circle cx="600.2" cy="131.8" r="1.4"/>
</g>
<g stroke="#3B4A8C" fill="none" stroke-width="1.55">
<path d="M630.8 30.5V51.5M630.8 126V164M628 30.5H633.5M628 164H633.5"/>
<rect x="620" y="51.5" width="21.5" height="74.5"/>
<path d="M620 99.2H641.5" stroke-width="2.4"/>
</g>
<g fill="#3B4A8C">
<circle cx="632.5" cy="30.8" r="1.4"/>
<circle cx="635" cy="34.2" r="1.4"/>
<circle cx="627.8" cy="48" r="1.4"/>
<circle cx="629.5" cy="53.8" r="1.4"/>
<circle cx="631.5" cy="53.5" r="1.4"/>
<circle cx="624" cy="80.5" r="1.4"/>
<circle cx="625.5" cy="120.8" r="1.4"/>
<circle cx="631.2" cy="119.2" r="1.4"/>
<circle cx="635.8" cy="121.2" r="1.4"/>
<circle cx="627.5" cy="139.5" r="1.4"/>
<circle cx="629.2" cy="154.2" r="1.4"/>
<circle cx="633.2" cy="164.2" r="1.4"/>
</g>
<path d="M526.5 38.8V35H561.8V38.8" fill="none" stroke="#000" stroke-width="1.2"/>
<text x="544.2" y="35.5" font-size="9" fill="#111" text-anchor="middle">**</text>
<text x="1" y="531" font-size="12.5" fill="#000" font-weight="bold">d</text>
<text x="260" y="548" font-size="12.2" fill="#111" text-anchor="middle">Groundtruth</text>
<text x="86" y="566" font-size="12.2" fill="#111" text-anchor="middle">BZ5</text>
<text x="260" y="566" font-size="12.2" fill="#111" text-anchor="middle">BZ9</text>
<text x="434.5" y="566" font-size="12.2" fill="#111" text-anchor="middle">BZ14</text>
<text x="260" y="683.5" font-size="12.2" fill="#111" text-anchor="middle">GraphPCA_multi</text>
<text x="86" y="702.5" font-size="12.2" fill="#111" text-anchor="middle">BZ5 (ARI = 0.86)</text>
<text x="260" y="702.5" font-size="12.2" fill="#111" text-anchor="middle">BZ9 (ARI = 0.69)</text>
<text x="434.5" y="702.5" font-size="12.2" fill="#111" text-anchor="middle">BZ14 (ARI = 0.77)</text>
<text x="260" y="821.4" font-size="12.2" fill="#111" text-anchor="middle">STAligner</text>
<text x="86" y="840.3" font-size="12.2" fill="#111" text-anchor="middle">BZ5 (ARI = 0.65)</text>
<text x="260" y="840.3" font-size="12.2" fill="#111" text-anchor="middle">BZ9 (ARI = 0.63)</text>
<text x="434.5" y="840.3" font-size="12.2" fill="#111" text-anchor="middle">BZ14 (ARI = 0.63)</text>
<text x="260" y="960" font-size="12.2" fill="#111" text-anchor="middle">BASSMult</text>
<text x="86" y="977.8" font-size="12.2" fill="#111" text-anchor="middle">BZ5 (ARI = 0.85)</text>
<text x="260" y="977.8" font-size="12.2" fill="#111" text-anchor="middle">BZ9 (ARI = 0.65)</text>
<text x="434.5" y="977.8" font-size="12.2" fill="#111" text-anchor="middle">BZ14 (ARI = 0.77)</text>
<text x="521" y="530.5" font-size="12.5" fill="#000" font-weight="bold">e</text>
<circle cx="557.2" cy="544.1" r="4.9" fill="#F27A7C"/>
<text x="567.3" y="547.1" font-size="9" fill="#111">BZ5</text>
<circle cx="605.5" cy="544.1" r="4.9" fill="#7AA520"/>
<text x="615.6" y="547.1" font-size="9" fill="#111">BZ9</text>
<circle cx="649.3" cy="544.1" r="4.9" fill="#4CC0C2"/>
<text x="659.1" y="547.1" font-size="9" fill="#111">BZ14</text>
<path d="M557.3 661.5V683.7H579.2" fill="none" stroke="#000" stroke-width="1.5"/>
<path d="M557.3 657.5l-2.8 6.6h5.6z" fill="#000"/>
<path d="M583.2 683.7l-6.6 -2.8v5.6z" fill="#000"/>
<text x="551.3" y="648.8" font-size="9" fill="#111" text-anchor="middle" transform="rotate(-90 551.3 648.8)">UMAP2</text>
<text x="576.8" y="696" font-size="9" fill="#111">UMAP1</text>
<text x="521" y="715" font-size="12.5" fill="#000" font-weight="bold">f</text>
<text x="617.5" y="731" font-size="12" fill="#111" text-anchor="middle">GraphPCA_multi</text>
<path d="M557.3 844.3V867.7H579.8" fill="none" stroke="#000" stroke-width="1.5"/>
<path d="M557.3 840.3l-2.8 6.6h5.6z" fill="#000"/>
<path d="M583.8 867.7l-6.6 -2.8v5.6z" fill="#000"/>
<text x="551.3" y="831.3" font-size="9" fill="#111" text-anchor="middle" transform="rotate(-90 551.3 831.3)">UMAP2</text>
<text x="576.8" y="879.6" font-size="9" fill="#111">UMAP1</text>
<text x="617" y="899.2" font-size="12" fill="#111" text-anchor="middle">STAligner</text>
<circle cx="586.4" cy="957" r="0.9" fill="#2F3380"/>
<circle cx="589.6" cy="954.9" r="0.9" fill="#2F3380"/>
<circle cx="591.7" cy="959.7" r="0.9" fill="#2F3380"/>
<circle cx="587.7" cy="951.7" r="0.9" fill="#E0453A"/>
<circle cx="594.3" cy="986.2" r="0.9" fill="#2F3380"/>
<circle cx="631.5" cy="979.6" r="0.9" fill="#E0453A"/>
<circle cx="624.9" cy="978.2" r="0.9" fill="#E0453A"/>
<circle cx="643.5" cy="999.5" r="0.9" fill="#E0453A"/>
<circle cx="650.1" cy="959.7" r="0.9" fill="#2F3380"/>
<circle cx="648.8" cy="962.3" r="0.9" fill="#E0453A"/>
<circle cx="597" cy="959.7" r="0.9" fill="#3AA081"/>
<circle cx="605" cy="964.4" r="0.9" fill="#3AA081"/>
<path d="M557.3 1012.3V1034.9H579.8" fill="none" stroke="#000" stroke-width="1.5"/>
<path d="M557.3 1008.3l-2.8 6.6h5.6z" fill="#000"/>
<path d="M583.8 1034.9l-6.6 -2.8v5.6z" fill="#000"/>
<text x="551.3" y="1000" font-size="9" fill="#111" text-anchor="middle" transform="rotate(-90 551.3 1000)">UMAP2</text>
<text x="576.8" y="1047.3" font-size="9" fill="#111">UMAP1</text>
<circle cx="554" cy="1063.5" r="4.1" fill="#E0463A"/>
<text x="561.2" y="1066.7" font-size="9" fill="#111">L1</text>
<circle cx="587.7" cy="1063.5" r="4.1" fill="#6FC3D3"/>
<text x="595.1" y="1066.7" font-size="9" fill="#111">L2/3</text>
<circle cx="630.2" cy="1063.5" r="4.1" fill="#3DA283"/>
<text x="637.6" y="1066.7" font-size="9" fill="#111">L5</text>
<circle cx="663.4" cy="1063.5" r="4.1" fill="#3D4A8F"/>
<text x="670.3" y="1066.7" font-size="9" fill="#111">L6</text>
<g transform="scale(0.1)" fill="none" stroke-linecap="round">
<path d="M289 5750h0m-31 1h0m-34 5h0m-39-3h0m-25 28h0m24 14h0m62 20h0m51-5h0m-55 57h0m-42-44h0m-11 28h0m-12-23h0m-7 55h0m6 32h0m51 11h0m42-42h0m32 37h0m4-23h0m-15 63h0m-36-8h0m-56-11h0m-30 2h0m-17 22h0m-25 86h0m6-17h0m20 15h0m56-47h0m47 52h0m-107 27h0m-17 27h0m-16-36h0m7 74h0m4-19h0m3 34h0m19-35h0m3 105h0m-3-24h0m-6-26h0m-7 38h0m-10-31h0m-7 88h0m28-13h0m189 92h0m-37-30h0m-27-8h0m-39-8h0m-63 39h0m-6-11h0m-7 20h0m-4-21h0m-3-33h0m-16 17h0m0 20h0m-9 74h0m2-38h0m7 16h0m2 10h0m7-19h0m9 11h0m3 21h0m5-17h0m8-10h0m2 21h0m2-50h0m3 11h0m6 28h0m2-13h0m2 24h0m60-28h0m86 32h0m1-20h0m9 8h0m10 42h0m-15-11h0m-11-6h0m-13 13h0m-4-13h0m-23-6h0m-33 51h0m-10-27h0m-49 15h0m-4-25h0m-11 39h0m-4-44h0m-9 37h0m-2-21h0m-10-11h0m-2 43h0m-3-26h0m0 14h0m-1-42h0m-7 12h0m-15 35h0m0 56h0m9-35h0m1 26h0m4-15h0m9 34h0m0-26h0m11-8h0m2 19h0m10-38h0m2 19h0m3-9h0m-7 51h0m-21 2h0" stroke="#E03A2C" stroke-width="24"/>
<path d="M363 5772h0m16 2h0m9 19h0m5-13h0m37 37h0m44-18h0m14-35h0m6 36h0m3-24h0m23 42h0m8-23h0m7-21h0m14 25h0m37-23h0m12 4h0m-51 40h0m-14 9h0m-13 15h0m-9 27h0m-23-35h0m-47 18h0m-12-11h0m-6 36h0m-24-48h0m-8 43h0m-9-51h0m-8 52h0m-3-21h0m-13-26h0m2 84h0m20 16h0m19-31h0m24 13h0m22 28h0m4-40h0m24 40h0m7-44h0m2 23h0m29-33h0m17 49h0m29 31h0m-16-11h0m-19 30h0m0-23h0m-18 15h0m-13-14h0m-26 35h0m-11-42h0m-33-1h0m-3 41h0m-17-22h0m-35 6h0m-3-33h0m0 50h0m-10 19h0m0 37h0m22-2h0m10 10h0m28-28h0m17 10h0m18 9h0m0-50h0m53 40h0m8 11h0m44-42h0m14-4h0m22 40h0m9 26h0m-40 33h0m-61-11h0m-12-21h0m0 18h0m-22 7h0m-21-4h0m-12-7h0m-25-22h0m-19 7h0m-25 7h0m-10-13h0m24 57h0m9 42h0m10 10h0m28-50h0m17 41h0m57-26h0m4 20h0m29-28h0m25 48h0m23-53h0m5 29h0m9-28h0m6 49h0m5 13h0m-41 29h0m-17-4h0m-29 12h0m-7-32h0m-12 30h0m-55-24h0m-30 25h0m-35 2h0m33 13h0m31 10h0m19-4h0m1 21h0m23 27h0m71-46h0m16 48h0m9-24h0m0-24h0m11 40h0m3-14h0m-10 57h0m-25 8h0m-22-37h0m-3 34h0m-2 17h0m-9-53h0m-5 21h0m-12 31h0m-41-34h0m-13 24h0m-6-20h0m-11 29h0m-6-29h0m-32 17h0m-16 19h0m-6-27h0m-12-21h0m49 96h0m19 5h0m1-48h0m19 43h0m3-18h0m25 6h0m12 21h0m36 0h0m52-1h0m10-12h0m3-38h0m4 54h0m-1 20h0m-75-8h0m-2 37h0m-21-36h0m-8 21h0m-13 17h0m-47-34h0m0 24h0m-1 15h0m-13-20h0m-13 16h0m-49 60h0m12-31h0m34 24h0m22-30h0m25 8h0m23-19h0m21 48h0m14-43h0m17 41h0m4-16h0m29-11h0m11 35h0m15-20h0" stroke="#5EB4C2" stroke-width="24"/>
<path d="M1064 5757h0m-210-4h0m-77 5h0m-114-8h0m-46 8h0m-18 37h0m45 3h0m14 4h0m7-26h0m33 26h0m7 11h0m2-29h0m10 18h0m13-5h0m14-34h0m12 12h0m1 34h0m42-6h0m25 6h0m3-28h0m11 36h0m11-27h0m22-13h0m27 18h0m22 12h0m40-10h0m15 18h0m11-10h0m25-4h0m22-9h0m30-23h0m5 49h0m25-40h0m41-12h0m3 21h0m51 3h0m15 42h0m-30 25h0m-39-18h0m-14-10h0m-50 40h0m-10-21h0m-5-11h0m-9-11h0m-67 6h0m-17-6h0m-5 18h0m-10-10h0m-38 38h0m-4-36h0m-13 25h0m-8-34h0m-19-5h0m-5 12h0m-8 35h0m-6-36h0m-37-10h0m-3 37h0m-12 19h0m-11-10h0m-7-46h0m-21 43h0m-19-33h0m-11-12h0m-2 53h0m-8-17h0m-22 0h0m-40-24h0m-13 13h0m-9-22h0m-9 36h0m-28-26h0m0 36h0m7 37h0m6 24h0m37-17h0m9-8h0m63 27h0m18-16h0m22-32h0m7 48h0m20 4h0m60-48h0m11 9h0m15 18h0m2-31h0m11 7h0m36 12h0m50 30h0m31-8h0m21-45h0m136 58h0m1-24h0m8-35h0m24 45h0m6-22h0m-23 58h0m-72-20h0m-8 45h0m-20-15h0m-4 25h0m-14-33h0m-6 14h0m-10 13h0m-38-50h0m-6 38h0m-17 7h0m-6-31h0m-31-11h0m-6 49h0m-9-32h0m-11 9h0m-35-14h0m-12 33h0m-1-15h0m-16-28h0m-35 50h0m-5-38h0m-13 30h0m-28-42h0m-16 33h0m-1-31h0m-10 52h0m-50-8h0m-30-4h0m-21 7h0m-29-18h0m-16-7h0m-5 20h0m12 38h0m36 5h0m39-8h0m0 16h0m41-16h0m25-12h0m0 21h0m18-33h0m7 56h0m33-28h0m70 22h0m10-23h0m2 18h0m13-40h0m5 22h0m14 19h0m27 11h0m11-38h0m12 2h0m3 23h0m5-38h0m36 44h0m2-38h0m5 19h0m46-14h0m4 31h0m50-41h0m47 52h0m40-6h0m-16 35h0m-34 17h0m-2-14h0m-24-10h0m-2 31h0m-9-50h0m-12 25h0m-36-23h0m-7 51h0m-19-6h0m-31-3h0m-23 12h0m-12-57h0m-5 29h0m-17 8h0m-20 9h0m-35-22h0m-20 19h0m-13-32h0m-6 19h0m-1 25h0m-15-30h0m-20 31h0m-32-40h0m-8-13h0m-4 49h0m-3-15h0m-12 16h0m-9-27h0m0 13h0m-38-8h0m-12 13h0m-15-44h0m-9 43h0m-12-13h0m-80 55h0m32 17h0m18 2h0m12-42h0m9 10h0m20 5h0m37 6h0m36 25h0m11-43h0m5 23h0m21-18h0m16 2h0m21 40h0m50-12h0m5 17h0m10-33h0m26 0h0m5-22h0m13 22h0m22-19h0m37 28h0m4 21h0m18-26h0m5-14h0m48 9h0m34 24h0m20-28h0m18 13h0m5-30h0m6 39h0m13-37h0m14 21h0m6 45h0m-4 24h0m-33-6h0m-51-18h0m-22 47h0m-22-11h0m-63 7h0m-40-1h0m-55-24h0m-77-24h0m-33 39h0m-20-22h0m-38 16h0m-35-38h0m-21 49h0m-12-8h0m-14 5h0m-7-46h0m-38 70h0m9 9h0m2 36h0m3-55h0m49 43h0m6-17h0m26 4h0m28-30h0m5 26h0m9 11h0m59 14h0m22-26h0m18-23h0m9 38h0m43-19h0m20 27h0m11-17h0m14 5h0m12-1h0m36-21h0m11 24h0m20-25h0m15-12h0m3 43h0m14 10h0m9-20h0m3 22h0m44-47h0m14-3h0m5 14h0m31 3h0m6 11h0m25-24h0m3 71h0m-21 0h0m-11 19h0m-17 15h0m-19-50h0m-30 35h0m-28-12h0m-21 6h0m-2-28h0m-4 52h0m-11-40h0m-57 9h0m-4 30h0m-27-15h0m-28 15h0m-3-52h0m-3 30h0m-9-9h0m-8 30h0m-19-56h0m-23 23h0m-23 15h0m-68 5h0m-1-14h0m-21 24h0m-6-52h0m-51 34h0m-57 2h0m15 76h0m31-48h0m27 22h0m43 21h0m16-32h0m25 6h0m8-9h0m11 44h0m6-51h0m15-3h0m34 21h0m22 9h0m15-1h0m11 17h0m21-10h0m9-36h0m20 18h0m31 32h0m54-20h0m35-10h0m40-6h0m15 5h0m34 29h0m25-45h0m3 47h0m-26 36h0m-21 19h0m-26-35h0m-60-13h0m-15 44h0m-36-32h0m-10 40h0m-17-41h0m-22-6h0m-2 37h0m-14 8h0m-23-42h0m-8 39h0m-14-35h0m-11 40h0m-14-6h0m-2-15h0m-45-29h0m-30 27h0m-12 10h0m-20 3h0m-54 6h0m-17 8h0m-1-53h0m-9 29h0m-8-27h0m-32 49h0m-3-28h0m-12-26h0m-3 27h0m-5 53h0m25 6h0m5-16h0m19 19h0m11 22h0m83-7h0m9-31h0m13-3h0m8 15h0m8-20h0m47 11h0m40 5h0m12 15h0m34 22h0m41-53h0m35 14h0m14 15h0m9 16h0m3-40h0m12 8h0m18 9h0m21-2h0m8 12h0m20-31h0m10 43h0m26-16h0m28-9h0m10-15h0m20 21h0m-123 31h0m-30 5h0m-14-5h0m-59 7h0m-183-5h0m-66 2h0m-53 3h0" stroke="#3B9B7B" stroke-width="24"/>
<path d="M1434 5752h0m-53 2h0m-40-3h0m-33 5h0m-114 22h0m18 30h0m15 3h0m7-49h0m7 19h0m12-1h0m48-1h0m25 29h0m41-1h0m10-20h0m36 8h0m8 14h0m8-28h0m27-5h0m13-8h0m12 33h0m14-29h0m64 3h0m5 19h0m35-26h0m7 52h0m-15 28h0m-1 18h0m-19-5h0m-19-20h0m-14 20h0m-6 10h0m-11-10h0m-14-6h0m-13 0h0m-21 11h0m-40-5h0m-63-6h0m-30-30h0m-63 25h0m-10 20h0m-3-44h0m-22 20h0m-13 18h0m-40 12h0m-1-43h0m51 78h0m13-6h0m13-14h0m9 15h0m3-19h0m4 31h0m35-16h0m4 23h0m24-19h0m7 13h0m4-27h0m4 13h0m11 3h0m21 0h0m25 26h0m12-16h0m14 8h0m13 1h0m3-35h0m9 30h0m47-16h0m11-10h0m44 8h0m19-1h0m4-12h0m-15 57h0m-12 46h0m-3-14h0m-46-7h0m-3-30h0m-19 20h0m-28 33h0m-20-16h0m-5 12h0m-5-23h0m-24 11h0m-20-24h0m-9 32h0m-14 10h0m-12-34h0m-11 28h0m-4-42h0m-14 23h0m-6-11h0m-11-17h0m-18 50h0m-4-12h0m-1-21h0m-20 1h0m-3-17h0m-10-6h0m-1 48h0m-19-38h0m-12 5h0m-32-1h0m7 61h0m31 36h0m5-37h0m1 16h0m16-12h0m32-5h0m1 13h0m24 11h0m49-8h0m11 7h0m46-25h0m7 47h0m10-12h0m44-9h0m17-15h0m11 9h0m13 20h0m23-11h0m23-14h0m20 15h0m20-38h0m1 42h0m4 61h0m-35-42h0m-38-4h0m-1 20h0m-9 19h0m-15 19h0m-29-3h0m-22-3h0m-8-37h0m-42 37h0m-10-19h0m-37 24h0m-18-29h0m-16 13h0m-32-25h0m-12 35h0m0-28h0m-22-13h0m-7 30h0m-20-38h0m-2 24h0m-20 15h0m-14-25h0m-7 51h0m3 11h0m18 12h0m2-24h0m23 22h0m12 8h0m4-12h0m10 12h0m2 19h0m5-54h0m20 47h0m6-42h0m24-4h0m0 13h0m20 28h0m0-36h0m10 16h0m11 4h0m15-3h0m14 9h0m2-15h0m30-11h0m10 38h0m12-32h0m30-4h0m28 42h0m3-22h0m24 8h0m20 22h0m19-38h0m16 5h0m10-21h0m1 52h0m15 55h0m-34-17h0m-5 21h0m-86 2h0m-3-12h0m-6-26h0m-19 15h0m-20 1h0m-4-28h0m-11-8h0m-15 35h0m-12 18h0m-1-51h0m-30 4h0m-35 1h0m-19 27h0m-1 20h0m-6-47h0m-5 27h0m-7-31h0m-14 29h0m-21-18h0m-6 36h0m-21-19h0m-25 7h0m-3 36h0m9 43h0m6-42h0m20-9h0m28 15h0m1-14h0m20 37h0m8-9h0m5 11h0m30-22h0m16-14h0m2 46h0m17-3h0m21 1h0m1-52h0m1 17h0m5 16h0m14 19h0m17-33h0m11-14h0m11 8h0m1 42h0m5-26h0m6 11h0m2 17h0m54-55h0m4 32h0m16 10h0m21-11h0m17 16h0m8-35h0m5 26h0m21 7h0m-22 29h0m-1 33h0m-38-32h0m-1 25h0m-11 4h0m-27-6h0m-1-39h0m-14 27h0m-11 6h0m-3-35h0m-48 57h0m-7-12h0m-11 5h0m-45-23h0m-14-12h0m-4 18h0m-13-17h0m-7 41h0m-5-58h0m-2 40h0m-12-3h0m-1 22h0m-8-52h0m-3 28h0m-21-24h0m-28 3h0m-16 14h0m-39 90h0m30-10h0m17-17h0m42-10h0m15-13h0m25 35h0m26-42h0m2 27h0m30-6h0m20-5h0m11 19h0m11 15h0m2-35h0m11 6h0m9-14h0m18 49h0m25-55h0m1 20h0m5 35h0m11-15h0m14-41h0m23 41h0m11 6h0m30-25h0m16 12h0m12-19h0m0 74h0m-4-18h0m-14 32h0m-4-29h0m-7 22h0m-33-1h0m-7-30h0m-23 33h0m-32-2h0m-3-22h0m-8 21h0m-8 10h0m-14-28h0m-16 36h0m-2-39h0m-42 30h0m0-41h0m-8 21h0m-3 13h0m-18-12h0m-22 7h0m-12-11h0m-41 19h0m-24-8h0m-20-24h0m-1 37h0m-51-4h0m19 40h0m17 36h0m51 0h0m0-44h0m1 16h0m14-27h0m28 15h0m48 9h0m14-14h0m23-3h0m20 0h0m11 18h0m4-18h0m6 42h0m13-43h0m3 44h0m11-17h0m5 15h0m16-19h0m94 0h0m1 14h0m3-44h0m8 57h0m7 11h0m-92-9h0m-67 4h0m-12 3h0m-111-6h0m-67-1h0" stroke="#2E2F7F" stroke-width="24"/>
<path d="M1869 5813h0m20-8h0m294 6h0m18-14h0m13-10h0m11-26h0m-57 83h0m-6-14h0m-14 17h0m-32-14h0m-99 6h0m-8 24h0m-17-10h0m-84 2h0m-25-24h0m-4 45h0m27 28h0m86 11h0m12-32h0m2 25h0m83-15h0m4 15h0m15-15h0m49-5h0m5 25h0m15-27h0m3 70h0m-41 17h0m-1-16h0m-9-16h0m-15 25h0m-26-8h0m-16 32h0m-12-29h0m-47 6h0m-13 25h0m-93-42h0m-36 29h0m-5-27h0m9 48h0m29 11h0m30 43h0m71-42h0m3 45h0m6-23h0m149-31h0m-69 72h0m-82 33h0m-1-18h0m-16 29h0m-1-24h0m-39 20h0m-31-3h0m-23-24h0m-31 28h0m13 31h0m35-5h0m78 9h0m11 12h0m7-34h0m17 18h0m71 17h0m-89 21h0m0 37h0m-18-4h0m-37-3h0m-49-35h0m-15 36h0m-24 63h0m1-31h0m31-5h0m57 32h0m34 14h0m1-17h0m1-18h0m18 20h0m0 68h0m-8-22h0m-9 25h0m-71 8h0m-25-47h0m-13 22h0m-14 16h0m120 47h0m5 18h0m3-44h0m105 8h0m30 45h0m-137 33h0m-4 19h0m-126 4h0m123 12h0m1 63h0" stroke="#E03A2C" stroke-width="24"/>
<path d="M2370 5872h0m-13 63h0m7-12h0m2-36h0m-3 83h0m-5-13h0m-11-10h0m-4 35h0m-1-14h0m-5 28h0m-26-19h0m-18-27h0m-35 22h0m-18 65h0m22-20h0m58 24h0m7-10h0m5-12h0m1 38h0m9-25h0m7 21h0m2-44h0m15 1h0m-9 82h0m-6-27h0m-3 54h0m-7-42h0m-21 8h0m-4 16h0m-25-41h0m-11 41h0m-43-39h0m-12 25h0m-2 25h0m-23 37h0m57 13h0m32 0h0m1-30h0m10 42h0m4-17h0m7-31h0m5 15h0m8-17h0m7 37h0m18 11h0m10-18h0m1-33h0m-9 99h0m-25-4h0m-2-29h0m-3 49h0m-27-28h0m-16 3h0m-1-26h0m-39 18h0m-24 13h0m-30 76h0m0-48h0m6 23h0m57 27h0m7-50h0m4 42h0m7-27h0m9-18h0m2 38h0m13 17h0m13-45h0m4-11h0m12 13h0m3 41h0m19-48h0m2 70h0m-1 16h0m-22 5h0m-18-28h0m-12 13h0m-18 21h0m-2-25h0m-14-8h0m-5 26h0m-1 14h0m-3-29h0m-22 12h0m-23 2h0m-35 15h0m-4 46h0m30 0h0m26 23h0m23-8h0m9-44h0m4 18h0m7 31h0m7-44h0m10 39h0m10-26h0m5-21h0m1 39h0m13 1h0m2-34h0m28-5h0m1 33h0m6 41h0m-9 34h0m-19-4h0m-4-35h0m-18 21h0m-9 14h0m-13-31h0m-7 26h0m-12-22h0m-23 31h0m-30-13h0m-41-12h0m-7 83h0m31-26h0m46 3h0m11-26h0m2 46h0m15 3h0m9-27h0m2 17h0m18 3h0m3-36h0m13 48h0m5-32h0m30-14h0m0 20h0m-169 38h0" stroke="#5EB4C2" stroke-width="24"/>
<path d="M2874 5754h0m-237 2h0m-111-4h0m-40 7h0m-60-7h0m-51 19h0m19 16h0m2 23h0m56-26h0m13-21h0m9 8h0m7 47h0m9-24h0m2-19h0m13 13h0m6 16h0m3 12h0m19 0h0m45-21h0m4-21h0m32-9h0m12 28h0m28-15h0m10-18h0m13 16h0m4-12h0m5 26h0m7 11h0m1-28h0m56 30h0m14-6h0m14-1h0m14 2h0m8-24h0m10-14h0m17 16h0m27 28h0m10-12h0m1-26h0m12 20h0m4 23h0m6 14h0m-20 45h0m-3-26h0m-24-19h0m-11 50h0m-10-10h0m-26-12h0m-9-23h0m-13-7h0m-3 29h0m-21-3h0m-11 30h0m-8-54h0m-34 22h0m-3-14h0m-11 7h0m-13 18h0m-17-2h0m-33-23h0m-29-6h0m-13 52h0m-10-30h0m-22 16h0m-4-32h0m-3 46h0m-43-26h0m-34 25h0m-27-28h0m-20-17h0m-18-1h0m0 22h0m-25 55h0m17 18h0m4-13h0m5-17h0m24 21h0m14 7h0m11-33h0m6 10h0m29-15h0m25 52h0m8-13h0m4-23h0m2-21h0m19 42h0m17 9h0m44-48h0m6 50h0m24-27h0m30-15h0m4 22h0m21 23h0m3-50h0m2 34h0m23-20h0m28 34h0m7-38h0m40 2h0m7 12h0m33 13h0m2-33h0m3 45h0m7-18h0m46 9h0m-14 47h0m0-23h0m-26-1h0m-28 25h0m-8 24h0m-22-42h0m-10 22h0m-6-11h0m-22 25h0m-2-21h0m-10-24h0m-31 41h0m-40-34h0m-5-12h0m-18 25h0m-7 25h0m-4-17h0m-26 22h0m0-32h0m-20 17h0m-13 13h0m-8-42h0m-4 16h0m-38 12h0m-14 0h0m-7 13h0m-32-5h0m-13-41h0m-9 45h0m-13-42h0m-23 18h0m-13 26h0m-9-45h0m-9 20h0m0 15h0m6 53h0m30 7h0m7-31h0m9 20h0m21 8h0m13-21h0m4 28h0m19 5h0m36-29h0m25-10h0m13 30h0m3-12h0m33-15h0m12 41h0m2-25h0m40 2h0m8-29h0m25 27h0m4-30h0m16 15h0m5 19h0m12-16h0m4 32h0m47-41h0m48 27h0m7-37h0m9 28h0m17 25h0m8-33h0m20 10h0m-5 79h0m-34-26h0m-38 14h0m-8-28h0m-12 38h0m-9-29h0m-9-15h0m-6 46h0m-5-13h0m-31-2h0m-6 22h0m-5-53h0m-18 20h0m-29 13h0m-24 3h0m-9 15h0m-2-47h0m-5 21h0m-13-9h0m-43-4h0m-8 19h0m-1-28h0m-33-3h0m-10 11h0m-18 8h0m-1 15h0m-11 5h0m-89-19h0m-13 18h0m-11 12h0m-11 24h0m7 19h0m16 18h0m12-52h0m44 20h0m18-23h0m0 15h0m19-15h0m12 12h0m1 23h0m13 17h0m4-32h0m17 13h0m0 15h0m0-47h0m10 40h0m12-19h0m16-21h0m11 35h0m16-32h0m4 35h0m14-29h0m10 46h0m0-56h0m7 24h0m26 15h0m15-34h0m7 41h0m16 2h0m17-2h0m6-32h0m10 17h0m31 15h0m10-26h0m21-13h0m4 33h0m16-3h0m21-24h0m5 34h0m20-23h0m17-17h0m9 22h0m-20 50h0m-7 12h0m-14 12h0m-8-11h0m-19-14h0m-31 5h0m-12-16h0m-6 31h0m-5-25h0m-10 34h0m-6-42h0m-10 11h0m-9 15h0m0-22h0m-22 19h0m-1 15h0m-37 4h0m-3-15h0m-9-17h0m-7 24h0m0-12h0m-6-28h0m-28 40h0m-12 0h0m-9 9h0m-7-37h0m-21 34h0m-11-20h0m-18 32h0m-17-5h0m-19-51h0m-15 54h0m-13-3h0m-34-18h0m-38-21h0m-13 2h0m-15-10h0m-8 64h0m18 46h0m8-44h0m1 34h0m9-14h0m13-27h0m8 22h0m15 0h0m30-14h0m33 36h0m42-34h0m7 16h0m17 3h0m1-20h0m27 31h0m25-39h0m27 41h0m16 4h0m14-36h0m21 17h0m49-1h0m9 10h0m17-21h0m17 5h0m3 33h0m22-55h0m7 55h0m8-57h0m9 31h0m8 21h0m10-43h0m14 7h0m20 9h0m-9 52h0m-18 35h0m-14-27h0m-18-1h0m-2 16h0m-4-29h0m-10 43h0m-14-4h0m-34-2h0m-33-22h0m-9 31h0m-8-48h0m-4 18h0m-4 29h0m-7-44h0m-12 23h0m-19-8h0m-14 20h0m-33 5h0m-8-44h0m-4 13h0m-22-7h0m-8 36h0m-23 2h0m-15-48h0m-20-4h0m-11 40h0m-28-19h0m-1 19h0m-16-37h0m-2 15h0m-29 34h0m-35-2h0m-6-36h0m-17 10h0m-10 7h0m-16 75h0m33-24h0m17 13h0m7 16h0m18-23h0m9-15h0m12 14h0m22 26h0m5-29h0m28-23h0m9 29h0m6 15h0m4-22h0m13 22h0m2-26h0m39-5h0m5-12h0m18 48h0m5-17h0m15-26h0m0 41h0m18-43h0m41 30h0m18 21h0m14-34h0m19 27h0m11-31h0m10-7h0m22 7h0m4-17h0m32 45h0m21-33h0m11 26h0m29-32h0m6 44h0m10 37h0m-20-1h0m-35 4h0m-13-13h0m-7 14h0m-21 18h0m-7-40h0m-13-8h0m-5 53h0m-13-56h0m-9 38h0m-20-24h0m-8 30h0m-16 1h0m-9 8h0m-19-41h0m-10 19h0m-16-13h0m-33-12h0m-19 13h0m0 22h0m-7 15h0m-19-42h0m-6 44h0m-15-26h0m-3 21h0m-25-52h0m-4 23h0m-35-2h0m-6 30h0m-13-25h0m-16-28h0m-2 20h0m-21 10h0m-15 2h0m-4-23h0m-10 18h0m-7-11h0m-13 39h0m-9-25h0m-17 10h0m13 25h0m1 30h0m11-25h0m18 12h0m18 14h0m2 12h0m12-24h0m7 29h0m6-47h0m45 44h0m31-14h0m2-13h0m12-3h0m7-20h0m16 56h0m7-31h0m6 15h0m0-27h0m8 46h0m5-45h0m16 2h0m27 25h0m11-16h0m15 30h0m20-10h0m42 1h0m13-31h0m15-1h0m3 16h0m27 1h0m21 16h0m0-13h0m2-19h0m18-13h0m32 3h0m14-1h0m2 20h0m18-13h0m2 48h0m10-11h0m-77 15h0m-111 6h0m-37-2h0m-14 2h0m-130-3h0m-44 1h0" stroke="#3B9B7B" stroke-width="24"/>
<path d="M3158 5751h0m-84 8h0m-42-5h0m-131 3h0m-35 51h0m29-33h0m20 13h0m7 16h0m3-32h0m15 19h0m19 15h0m5-43h0m6 18h0m23-5h0m18 17h0m6-25h0m1 37h0m7-13h0m11-7h0m18-10h0m12 1h0m13 38h0m7-29h0m24 30h0m13-11h0m32 2h0m14-26h0m16 15h0m56-8h0m57-3h0m8 30h0m8 47h0m-44-18h0m-30-16h0m-53 27h0m-9-22h0m-10 36h0m-63-25h0m-31 28h0m0-21h0m-11-27h0m-2 37h0m-16-16h0m-12-6h0m-1 34h0m-3-23h0m-14 7h0m-28 18h0m-18 5h0m-9-13h0m-10-15h0m-30 21h0m0-34h0m0 13h0m-38-12h0m-18-19h0m20 70h0m55 17h0m15-9h0m4 38h0m7-14h0m20-10h0m25 14h0m17-27h0m13 38h0m6-34h0m14 0h0m9-8h0m17 44h0m5-21h0m8 19h0m3-55h0m9 26h0m27 17h0m4-42h0m11 8h0m5 26h0m0 17h0m7-34h0m61 36h0m0-48h0m119 39h0m-9 36h0m-27-14h0m-16 40h0m-34 2h0m-29-9h0m-46 17h0m-5-38h0m-8 16h0m-21-17h0m-13-5h0m0 24h0m-23 5h0m-9-34h0m-38 49h0m-3-50h0m-2 33h0m-46-15h0m-5-22h0m-7 23h0m-32 27h0m-20-29h0m-13-13h0m-12-2h0m-1 31h0m0-13h0m-43 4h0m-11 71h0m32-42h0m15 2h0m2 55h0m4-28h0m3 16h0m13 1h0m28-2h0m24 3h0m17-9h0m1 14h0m11-22h0m39 11h0m36-2h0m6-33h0m20 42h0m12-49h0m13 49h0m6-31h0m4-18h0m29 53h0m5-29h0m35-13h0m102 1h0m-11 66h0m-24 39h0m-96-26h0m-23-22h0m-12 6h0m-8 40h0m-10-51h0m-28 21h0m-2-26h0m-25 12h0m0 29h0m-43-5h0m-22-20h0m-22 37h0m-4-50h0m-4 36h0m-3-19h0m-15-1h0m-6 34h0m-2-48h0m-5 21h0m-24 0h0m-20-6h0m-49-4h0m-4 70h0m20-22h0m22 45h0m2-24h0m8 31h0m29-18h0m18 10h0m18-10h0m7-23h0m17 0h0m15 43h0m26-24h0m28 13h0m28-5h0m11-15h0m12 20h0m8-40h0m25 26h0m24-30h0m10 44h0m44 0h0m20-35h0m90-1h0m-19 79h0m-59-16h0m-82 38h0m-32-6h0m-11-20h0m-5 27h0m-13-18h0m-7 10h0m-14-35h0m-21 3h0m-5 45h0m-12-32h0m-10 17h0m-5-43h0m-28 22h0m-12-10h0m-29 17h0m-5 13h0m-9 11h0m-7-52h0m-6 29h0m-17-16h0m-10 32h0m-14-6h0m-3-27h0m-12 42h0m-7-21h0m-9 14h0m-1-23h0m-14 1h0m-8 19h0m2 56h0m3 13h0m25 3h0m3-13h0m58-5h0m11-24h0m3 34h0m8-12h0m22-27h0m21 0h0m25 39h0m3-19h0m18 7h0m20-19h0m20 34h0m39-42h0m8 11h0m33 21h0m9 11h0m3-26h0m69-17h0m59 4h0m11 92h0m-77-45h0m-50 28h0m-33-6h0m-2 18h0m-14-15h0m-1 23h0m-15 1h0m-17-23h0m-27-18h0m-4 46h0m-1-19h0m-22-16h0m-5 38h0m-1-12h0m-20-40h0m-16 47h0m-25-3h0m-14-2h0m-36-44h0m-4 46h0m-17-44h0m-14 9h0m-13-10h0m-16 44h0m-2-29h0m-20 34h0m21 39h0m6-17h0m2 41h0m5-26h0m30 25h0m11-31h0m0-16h0m12 45h0m8-34h0m10-14h0m5 11h0m5 33h0m17 1h0m5-27h0m9-21h0m29 42h0m12-1h0m0-38h0m25 51h0m22-44h0m12-1h0m21 12h0m10 12h0m26-27h0m0 44h0m17-31h0m35-2h0m56 38h0m45-2h0m31-34h0m-5 87h0m-70-21h0m-58-16h0m-6 34h0m-26-21h0m-18-16h0m-8 25h0m-10 24h0m-1-20h0m-25-26h0m-13 42h0m-6-23h0m-25 3h0m-5-24h0m-29 23h0m-6 21h0m-13-33h0m-21 29h0m-46-40h0m-3 40h0m-56-23h0m-7 21h0m-36 42h0m20-26h0m12 40h0m8-10h0m16 7h0m0-39h0m23 30h0m9-32h0m12 14h0m25 45h0m15-30h0m1-27h0m14 0h0m10 15h0m24 25h0m7-25h0m23-1h0m55 33h0m24-24h0m15-8h0m12 13h0m90 22h0m22-31h0m30-10h0m6 56h0m-105-2h0m-39-3h0m-42 2h0m-117-4h0m-128 8h0m-20-5h0" stroke="#2E2F7F" stroke-width="24"/>
<path d="M3609 5760h0m2 30h0m12 245h0m23-17h0m52 38h0m4-46h0m3 105h0m-17-28h0m-27 15h0m-28-40h0m-18 33h0m-9 52h0m29-5h0m52 17h0m17-22h0m-10 71h0m-23-26h0m-57 81h0m15-14h0m22 6h0m1 26h0m22 8h0m5-37h0m18 90h0m-4-23h0m-24-10h0m-18 21h0m-33 2h0m-4 29h0m0 28h0m52-4h0m19 69h0m-52 19h0m-22-43h0m14 63h0m10 20h0" stroke="#E03A2C" stroke-width="24"/>
<path d="M3811 5758h0m-124 20h0m2 25h0m11-43h0m18 2h0m9 20h0m15 18h0m4-13h0m11 19h0m6-37h0m45 31h0m18 15h0m16-4h0m8-21h0m32 28h0m1 55h0m-23-17h0m-5-29h0m0 14h0m-69-19h0m-15 13h0m-12-9h0m-4 32h0m-25 5h0m-12-17h0m-31 46h0m2 18h0m29 18h0m15-19h0m12 30h0m28-8h0m46-40h0m17 20h0m19-21h0m3 19h0m10 25h0m21 1h0m12-9h0m11 61h0m-8-11h0m-4-28h0m-57 1h0m-17 0h0m-18 33h0m-10-19h0m-7 34h0m-17-42h0m-19 36h0m-12-39h0m-5 35h0m-22-27h0m-4-15h0m5 64h0m47 16h0m4 12h0m20-7h0m9 13h0m21-14h0m4-21h0m9 11h0m14 39h0m16-10h0m21 6h0m3-22h0m24 1h0m7 12h0m9 46h0m-14 13h0m-7-27h0m-15 33h0m-13 4h0m-10-26h0m-23 20h0m-14-48h0m-14 8h0m-14-8h0m-12 29h0m-4 22h0m-9-22h0m-3-20h0m-16 21h0m-16 21h0m45 66h0m4-21h0m17-31h0m40 21h0m10 12h0m9-19h0m13 28h0m7-39h0m21 29h0m17-22h0m1 17h0m6 44h0m-6 25h0m-20-9h0m-11-31h0m-25 18h0m-65 24h0m-15 3h0m-20-5h0m0-24h0m-5-14h0m11 64h0m1 20h0m17-5h0m23 22h0m14-7h0m42-2h0m15-7h0m8 22h0m13-20h0m4 22h0m3-41h0m27 12h0m2 52h0m-21 16h0m-32 14h0m-31-24h0m-9 38h0m-20-46h0m-17 0h0m-3 17h0m-12 73h0m39 4h0m7-22h0m4 28h0m15-43h0m31 24h0m21-28h0m36 37h0m-11 68h0m-7-21h0m-39 19h0m-5-36h0m-11 6h0m-10-11h0m-7 41h0m-15-21h0m-11 20h0m-13-21h0m-15-15h0m16 63h0m9 24h0m23-35h0m8 44h0m14-4h0m18-27h0m1 21h0m6 18h0m2-54h0m10 24h0m14-2h0m3 24h0m4-13h0m8-18h0m12 10h0m-2 34h0m-74 8h0m-30-2h0" stroke="#5EB4C2" stroke-width="24"/>
<path d="M4295 5758h0m-228-8h0m-30 1h0m-55 3h0m-106 9h0m10 41h0m13-40h0m31 29h0m16 14h0m17 0h0m23 3h0m31-5h0m29-2h0m55-8h0m44-13h0m0-17h0m19-5h0m12 47h0m3-23h0m17-10h0m16 12h0m23 7h0m14-28h0m12 20h0m21-17h0m18 28h0m15 14h0m17-47h0m10 23h0m39 10h0m10 15h0m44-10h0m23 9h0m-11 20h0m-9 11h0m-13 12h0m-24-15h0m-27 1h0m-14 17h0m-13 14h0m-13-50h0m-30 49h0m-2-36h0m-37 10h0m-17-7h0m-27 9h0m-6 10h0m-33-16h0m-14 26h0m-2-30h0m-10 36h0m-2-46h0m-30 13h0m-14 4h0m-28-13h0m-11 33h0m-16-36h0m-14 41h0m-18-21h0m-52-16h0m-21 24h0m-10-11h0m-14 5h0m-3 16h0m-25 7h0m-12-36h0m24 67h0m20-5h0m20 28h0m23-12h0m13 23h0m12 2h0m1-27h0m25 17h0m37-4h0m1-33h0m28 21h0m20-18h0m21-8h0m0 18h0m9 13h0m21-13h0m10 20h0m17-15h0m17-2h0m6 29h0m27 1h0m13-1h0m0-36h0m56 22h0m32 8h0m23-36h0m5 33h0m11-41h0m46 9h0m13-2h0m2 15h0m21 17h0m20 13h0m-17 32h0m-8-24h0m-14 52h0m-12-8h0m-108-35h0m-14-10h0m-16 9h0m-2 13h0m-13-2h0m-24 29h0m-9-42h0m-4 33h0m-8 11h0m-2-38h0m-34 27h0m-1-30h0m-6 16h0m-10-10h0m-22 11h0m-29-23h0m-4 12h0m-8-20h0m-2 31h0m-13 2h0m-15 1h0m-34 23h0m-12-37h0m-26-12h0m-14 10h0m-23 15h0m-9-31h0m-20 9h0m-4 30h0m-19 49h0m17 23h0m54-31h0m3 32h0m25-50h0m11 37h0m19 12h0m13-16h0m52 15h0m9-25h0m11-17h0m42-2h0m7 15h0m23 22h0m57 12h0m19-50h0m3 26h0m35 9h0m52-42h0m28 12h0m21 39h0m24-10h0m0 12h0m7-50h0m21 27h0m15-12h0m8 91h0m-15-19h0m-33 27h0m-30 1h0m-10-52h0m-29-1h0m-10 50h0m-21 1h0m-36-24h0m-59-26h0m-5 37h0m-4-14h0m-10-6h0m-18-16h0m-4 22h0m-17 11h0m-49-8h0m-2-16h0m-49 21h0m-11-22h0m-27 14h0m-32 14h0m-13 0h0m-1-37h0m-21 1h0m-30 35h0m-18 1h0m7 28h0m0 25h0m24-11h0m31 24h0m20-47h0m3 42h0m23-41h0m1 35h0m7-17h0m15-16h0m7 40h0m8-17h0m9-29h0m19 51h0m2-41h0m66-2h0m2 31h0m3-15h0m31 9h0m26-9h0m20 20h0m8-38h0m17 3h0m34 23h0m19 3h0m40 22h0m9-17h0m93-23h0m19 38h0m10-51h0m0 13h0m-9 75h0m-4-15h0m-48-8h0m-13 46h0m-12-23h0m-9-23h0m-5 41h0m-12-48h0m-14 47h0m-1-19h0m-47 4h0m-23 3h0m-9 9h0m-2-34h0m-46 11h0m-28-17h0m-18 2h0m-9 27h0m-1-12h0m-4 36h0m-7-10h0m-3-34h0m-31 39h0m-21-53h0m-66 29h0m-28-14h0m-15 38h0m-25-34h0m-31 11h0m-34-18h0m-4 35h0m18 55h0m8 15h0m20-37h0m30 21h0m19 13h0m10-48h0m29 19h0m18-4h0m27 18h0m21 9h0m21-27h0m16 36h0m17-26h0m9 9h0m54 17h0m24-4h0m2-12h0m28 5h0m20-34h0m23 44h0m6-54h0m59 14h0m67 11h0m3 29h0m20 0h0m20-3h0m-2 60h0m-37-1h0m-20 2h0m-14-5h0m-26-16h0m-13 5h0m-5-13h0m-26-14h0m-28 9h0m-18 38h0m-3-15h0m-12 15h0m-10-35h0m-32-15h0m-11 31h0m-49-18h0m-15-13h0m-9 36h0m-17-1h0m-7-14h0m-9 20h0m-5-41h0m-14 49h0m-19-5h0m-11-36h0m-25 15h0m-9 18h0m-12-48h0m-1 30h0m-25 2h0m-8 22h0m-31-40h0m-4 41h0m-8-48h0m-3 18h0m-17 9h0m-25 22h0m26 11h0m21 33h0m16 5h0m42-35h0m2 17h0m47 12h0m15-2h0m22 7h0m2 13h0m12-9h0m7-20h0m26 0h0m6 20h0m26-27h0m18 9h0m23-25h0m6 31h0m83-7h0m5 15h0m1 13h0m17-54h0m47 25h0m3 14h0m41-10h0m29-7h0m10 19h0m6-40h0m10 21h0m18 85h0m-5-29h0m-40 36h0m-2-48h0m-20 14h0m-7 32h0m-38-32h0m-30-2h0m-4 16h0m-39-18h0m-24 16h0m-5-21h0m-11-12h0m-55 15h0m-36-10h0m-55 28h0m-40 12h0m-35-6h0m-9-17h0m-21-14h0m-34-2h0m-22 0h0m-28-5h0m-4 30h0m-1-18h0m19 46h0m21 28h0m13-10h0m0 31h0m17-43h0m19-5h0m21 23h0m5 17h0m20-28h0m9 27h0m16 15h0m67-55h0m32 35h0m21-27h0m8 16h0m31 13h0m42-2h0m5 15h0m14-4h0m25 3h0m20-51h0m15 3h0m8 47h0m3-25h0m27 33h0m21-35h0m33-16h0m31 18h0m-132 35h0m-146-1h0m-26 5h0m-70 2h0m-62 2h0m-46-6h0m-17 3h0m-16-3h0m-42 2h0" stroke="#3B9B7B" stroke-width="24"/>
<path d="M4971 5759h0m-52-7h0m-214 7h0m-152-7h0m-46 3h0m-18 45h0m4 12h0m23-25h0m18-18h0m18 47h0m16-55h0m16 26h0m20-5h0m21-11h0m8 42h0m21-24h0m19 17h0m16 10h0m2-37h0m4 23h0m36 12h0m33-44h0m28-10h0m45 21h0m18 3h0m12-22h0m21 37h0m10-10h0m84-11h0m41 29h0m2-41h0m16 28h0m54 77h0m-4-27h0m-41-11h0m-10-10h0m-14 46h0m-7-43h0m-50 30h0m-15-19h0m-22-3h0m-10 20h0m-2-30h0m-33 31h0m-8 23h0m-28-43h0m-11 40h0m-56-50h0m-15 28h0m-11-30h0m-3 51h0m-23-28h0m0-20h0m-7 33h0m-48 2h0m-38-3h0m-21-19h0m-11 40h0m-29 0h0m-12-4h0m-10-26h0m-11-9h0m-1 32h0m-13-19h0m-30-14h0m-27 39h0m-3-34h0m20 78h0m14-39h0m15 7h0m11 37h0m21-18h0m11-16h0m7 37h0m21-32h0m19 3h0m47 19h0m12-25h0m25 2h0m42 12h0m5 26h0m1-16h0m32-21h0m58-1h0m9 14h0m70 11h0m45 8h0m8-23h0m21-24h0m16 0h0m10 7h0m5 39h0m55-18h0m12-13h0m13 86h0m-12-3h0m-10 12h0m-21-27h0m-5 26h0m-22-29h0m-22 25h0m-12-6h0m-7 10h0m-40-10h0m0 12h0m-24 1h0m-15-48h0m-23-4h0m-2 29h0m0 15h0m-10-34h0m-16 24h0m-31-3h0m-30 12h0m-22 8h0m-32-9h0m-1 13h0m-51-42h0m-26 6h0m-41 23h0m-33-7h0m-4 12h0m-4-35h0m-12 33h0m-8-21h0m-12 20h0m-10-34h0m-17 18h0m-5-14h0m-17-10h0m18 57h0m8 10h0m36 14h0m15 0h0m4-26h0m7 52h0m9-44h0m42-6h0m16 6h0m15 43h0m48-36h0m6 21h0m2-12h0m34 3h0m10-22h0m11 37h0m13-30h0m13 32h0m5-45h0m16 22h0m35-17h0m21 44h0m55-12h0m29-31h0m14 52h0m26-16h0m17-6h0m6-32h0m34 50h0m12-11h0m5 38h0m-4 17h0m-7-31h0m-20 26h0m-4-29h0m-15 2h0m-3 16h0m-20 25h0m-82-13h0m-62-31h0m-28-2h0m-17 10h0m-41 16h0m0-26h0m-13 37h0m0 20h0m-1-49h0m-9 42h0m-14-38h0m-11 17h0m-4 13h0m-44-29h0m-19 11h0m-12 33h0m-5-44h0m-25 4h0m-54-6h0m-14 13h0m-21 33h0m-6-11h0m-6-11h0m-9-29h0m36 111h0m1-57h0m36 30h0m6-28h0m26 24h0m23 22h0m2-33h0m11 26h0m23-35h0m4 17h0m24-13h0m9 9h0m9 35h0m6-32h0m21-9h0m7 14h0m4 24h0m18-16h0m8-9h0m10 30h0m30-13h0m16 12h0m39-22h0m17 18h0m18-40h0m13 39h0m8-41h0m40-11h0m3 30h0m22 12h0m3-19h0m67-19h0m6 30h0m4 23h0m7-12h0m-19 39h0m-26 17h0m-21-14h0m-25 22h0m-8-39h0m-19 35h0m-13-38h0m-18 31h0m-20 7h0m-12-11h0m-8 10h0m-3-29h0m-48-1h0m-34 28h0m-3-20h0m-17 5h0m-14 7h0m-13 9h0m-24-1h0m-36-2h0m-5-24h0m-15 3h0m-32-7h0m-11 28h0m-9 12h0m-8-45h0m-10 10h0m-11 10h0m-42 10h0m-16-17h0m-15 0h0m-8-19h0m9 96h0m14-32h0m61 5h0m7 34h0m11-12h0m8-29h0m34 16h0m12 15h0m1-25h0m35 11h0m6-18h0m3 34h0m18-21h0m8-12h0m21 47h0m19-15h0m0-21h0m11 40h0m14-43h0m14 44h0m8-33h0m17 12h0m3 11h0m50-29h0m17 39h0m32-18h0m3-36h0m12 2h0m13 41h0m10 13h0m16-19h0m6 19h0m1-51h0m20-3h0m2 28h0m15-23h0m38 80h0m-24 16h0m-9 15h0m-3-47h0m-13 12h0m-6 29h0m-84-48h0m-11 17h0m-43 33h0m-20-32h0m-14-23h0m-6 17h0m-1 12h0m0 19h0m-47-33h0m-81 30h0m-19 9h0m-32-50h0m-44 14h0m-10-8h0m-7 32h0m-7-11h0m-3-14h0m-9 35h0m-23-9h0m-21-19h0m-13 17h0m-13-15h0m12 34h0m2 56h0m7-44h0m42 39h0m5-46h0m17 11h0m33-16h0m11 22h0m1 36h0m19-40h0m5 20h0m2-30h0m24 49h0m4-19h0m19-11h0m8 16h0m7-9h0m35 5h0m1-29h0m17 8h0m3 28h0m20-17h0m18 16h0m22-30h0m5 16h0m8 15h0m2-44h0m5 24h0m28 3h0m27 7h0m11 15h0m31-29h0m1 12h0m18-33h0m2 48h0m48 9h0m10-41h0m2 17h0m35 14h0m-6 44h0m-11-6h0m-3 31h0m-6-45h0m-4-11h0m-20 17h0m-9-8h0m-2 15h0m-16-1h0m-5 24h0m-24-43h0m-17 36h0m-23-30h0m-16 2h0m-16 35h0m-5-11h0m-21 12h0m-2-31h0m-6 19h0m-6 16h0m-10-14h0m-26 0h0m-3-15h0m-22 28h0m-42 0h0m-22-15h0m-44-1h0m-15-8h0m-7 17h0m-13 7h0m-5-43h0m-25 31h0m-10-8h0m-8-26h0m-13 40h0m-9-19h0m-18-1h0m-35 80h0m60-6h0m32-5h0m5-15h0m33 0h0m3-16h0m3 45h0m9-28h0m20 22h0m12 16h0m3-15h0m12-34h0m17 33h0m20-30h0m2 15h0m9 17h0m25-21h0m1 26h0m17 6h0m2-26h0m29-17h0m15 18h0m11-20h0m4 38h0m44 6h0m13-8h0m15-17h0m1 15h0m23-26h0m10 26h0m31-26h0m21-13h0m11 38h0m30-4h0m-62 28h0m-77-4h0m-91 3h0m-16-2h0m-65 4h0m-153 1h0m-59-2h0" stroke="#2E2F7F" stroke-width="24"/>
<path d="M185 7118h0m39 3h0m34-5h0m31-1h0m1310 18h0m7 52h0m-42-26h0m-5-19h0m-1262 35h0m-51 5h0m-46 8h0m-16-28h0m-7 33h0m-17-47h0m10 102h0m19-32h0m53 16h0m27 17h0m102-30h0m3 21h0m17-1h0m1116-19h0m14 6h0m11 10h0m6-10h0m14-20h0m19 20h0m19 5h0m1-18h0m-1192 49h0m-94 1h0m-4 23h0m-47 32h0m-27-27h0m-29 16h0m-22-27h0m-8 29h0m-17 22h0m57 37h0m82-42h0m1313 84h0m-31 19h0m-1317-9h0m-103-5h0m-20-15h0m-6 17h0m-11 21h0m11 55h0m5-19h0m17-27h0m0 45h0m1446-2h0m13-19h0m-12 71h0m-11-31h0m-16-5h0m-19 38h0m-1407 3h0m-13-20h0m-4 27h0m-3-42h0m13 73h0m13-12h0m3 24h0m81 78h0m-83-6h0m-3-40h0m-28 13h0m15 44h0m0 20h0m19-4h0m4 21h0m7-20h0m6 11h0m2 11h0m3 11h0m97-53h0m27 8h0m37 30h0m5 46h0m-5 31h0m-4-39h0m-1 20h0m-6 13h0m-17 0h0m-23-6h0m-40-39h0m-60 28h0m-2-24h0m-2 13h0m-7 31h0m-4-20h0m-2-21h0m-8 10h0m-5 17h0m-3-21h0m-5 29h0m-4-40h0m-7 19h0m-2-10h0m-7-16h0m-2 38h0m0 56h0m9 21h0m6-56h0m8 16h0m0 14h0m3 12h0m2-43h0m10 11h0m2 21h0m6 17h0m5 10h0m2-20h0m11-39h0m4 25h0m49-15h0m10 27h0m60-32h0m39 4h0m-178 59h0m-4 42h0m-8-23h0m-2-19h0m-11 34h0m0-26h0m0 36h0m-9-44h0m-4 15h0m-10 9h0" stroke="#E03A2C" stroke-width="24"/>
<path d="M363 7137h0m16 2h0m109-10h0m47 10h0m63 6h0m-12-4h0m-37 23h0m-2 21h0m-14 9h0m-5-34h0m-8 23h0m-23-42h0m-3 24h0m-20-1h0m-44 18h0m-31 14h0m-6-51h0m-5 13h0m-6 30h0m-24 5h0m65 51h0m6-36h0m12 11h0m39 40h0m8-58h0m23 35h0m0 13h0m9-40h0m21 109h0m-13-20h0m-46-16h0m-9 21h0m-19 16h0m-5-56h0m-4 40h0m-22-28h0m-2 43h0m-41-25h0m-17 17h0m-3-33h0m-7 102h0m10-19h0m3-17h0m35-6h0m17 22h0m30 6h0m17-4h0m26-35h0m13 14h0m18 8h0m0-23h0m31 49h0m4-45h0m10 41h0m31 66h0m-9-26h0m-80 6h0m-8-11h0m-16 32h0m-37-22h0m-18-9h0m-17-10h0m-8 33h0m-19 7h0m-1-12h0m-10-10h0m-22 2h0m-2 14h0m10 13h0m14 44h0m47 2h0m8-38h0m12 7h0m21 4h0m22-7h0m12 3h0m32 38h0m29-27h0m19 22h0m14 1h0m11 62h0m-5-13h0m-15-21h0m-28 24h0m-46 15h0m-8-35h0m-4-20h0m-57 26h0m-45 9h0m-10-10h0m-8 63h0m33 13h0m2-15h0m29 25h0m1-50h0m18 46h0m37-22h0m19 2h0m29-12h0m10 34h0m7-30h0m18 30h0m14 26h0m-3 14h0m-11-16h0m-9 24h0m-34 6h0m-14-2h0m-39-6h0m-23-27h0m-98 43h0m12 21h0m6 27h0m16-19h0m32-17h0m3 41h0m3-12h0m11-29h0m6 20h0m13-24h0m41 34h0m12-31h0m14 32h0m2-17h0m25 3h0m25-8h0m8 33h0m4 54h0m-7-16h0m-10 12h0m-52 1h0m-7 15h0m-23 1h0m-6-16h0m-12-21h0m-25-6h0m-3 18h0m-20 5h0m-19-5h0m-10 64h0m13-16h0m6 39h0m7-19h0m1-39h0m0 24h0m40 23h0m7-13h0m13-17h0m15 35h0m14-20h0m77-29h0m-15 78h0m-15 20h0m-11-35h0m-29 11h0m-4 16h0m-31 2h0m-44-29h0m-47 22h0m-34-24h0m-12 31h0" stroke="#5EB4C2" stroke-width="24"/>
<path d="M617 7123h0m46-8h0m81 13h0m33-5h0m77-5h0m209 16h0m1-12h0m70 9h0m69 66h0m-15-42h0m-51-3h0m-17 42h0m-27-51h0m-25 40h0m-22 8h0m-13-34h0m-22 9h0m-25 4h0m-7 27h0m-4-17h0m-13 11h0m-2-29h0m-13 37h0m-27-27h0m-22-12h0m-14 32h0m-13-50h0m-6 45h0m-5 12h0m-11-44h0m-3 43h0m-8-16h0m-11-36h0m-3 28h0m-15 14h0m-10-20h0m-23 20h0m-19-14h0m-1-34h0m-20 58h0m-6-36h0m-5 24h0m-8-19h0m-10-18h0m-2 29h0m-7-11h0m-33-26h0m-7 26h0m-5 31h0m-9-35h0m-13 26h0m-32-29h0m-5 39h0m0 36h0m28-10h0m18-14h0m53 11h0m22 0h0m8 17h0m32-8h0m1 19h0m27-16h0m11 10h0m12-19h0m37 29h0m9-20h0m19 16h0m11 7h0m10-31h0m13-25h0m4 36h0m48-28h0m63 37h0m35-44h0m5 11h0m10 21h0m64-30h0m31 41h0m8-23h0m22 46h0m-6 22h0m-32-10h0m-1 24h0m-56 2h0m-100-1h0m-1-14h0m-28 28h0m-3-20h0m-28 9h0m-22-39h0m-49 12h0m-15-18h0m-4 47h0m-67-8h0m-14 8h0m-6-12h0m-11 14h0m-18-30h0m-18 16h0m-63-27h0m-9 8h0m-37 17h0m-6-24h0m-10 82h0m5-20h0m16 7h0m29 18h0m21-7h0m30 4h0m50 8h0m2 13h0m9-34h0m9 22h0m35-13h0m13-30h0m5 38h0m51-22h0m1 15h0m12-33h0m18 50h0m17-36h0m11-9h0m9 32h0m40 14h0m3-21h0m17-7h0m18 34h0m26-22h0m10-13h0m6-14h0m14 33h0m4-25h0m20 15h0m25 21h0m55-46h0m32 92h0m-40 6h0m-47 3h0m-48 2h0m-2-16h0m-4-31h0m-46 14h0m-7 19h0m-33 11h0m-8-17h0m-3-23h0m-12-2h0m-11 38h0m-27-11h0m-14-19h0m-18 18h0m-2-18h0m-10 23h0m-5 22h0m-65-44h0m-17 36h0m-16-8h0m-25-23h0m-25-9h0m-27 37h0m-14-37h0m0 16h0m-39-8h0m-36-5h0m50 96h0m9 10h0m9-42h0m12 13h0m24 1h0m12-13h0m38-5h0m0 13h0m9 26h0m0-12h0m12-16h0m3 15h0m11 18h0m1-54h0m15 56h0m17-16h0m20-31h0m15 30h0m1-25h0m19 13h0m20-19h0m25 38h0m10-16h0m20-9h0m5 28h0m12-36h0m17 28h0m23-12h0m31 3h0m19 6h0m43-28h0m21 25h0m2-31h0m21 42h0m3-32h0m2 14h0m14 20h0m20-37h0m0 103h0m-6-45h0m-27 16h0m-11-9h0m-18-13h0m-20 28h0m-6 23h0m-28-47h0m-48-9h0m-5 14h0m-18 26h0m-4-21h0m-59-9h0m-18 0h0m-26 0h0m-10 33h0m-5-17h0m-50 12h0m-8 12h0m-50-36h0m-16 20h0m-36-25h0m-24 36h0m-13-42h0m-41 42h0m0-15h0m-18-2h0m-32-17h0m12 104h0m14-10h0m31-14h0m14-5h0m12 8h0m52 11h0m4-22h0m38-16h0m20 22h0m51 18h0m59-33h0m55 24h0m31 21h0m9-20h0m22 19h0m15-12h0m26-14h0m22 11h0m25 11h0m14-3h0m34-37h0m33 41h0m0-35h0m-25 59h0m-6-11h0m-31-3h0m-3 45h0m-60-9h0m-3-22h0m-9 20h0m-9 12h0m-5-22h0m-38-6h0m-47-3h0m-12 1h0m-14-5h0m-11 17h0m-7 17h0m-13-44h0m-26 39h0m-17-20h0m-27-15h0m-22 26h0m-59-14h0m-9-11h0m-8 35h0m-25-31h0m-26-4h0m-6 17h0m-52 12h0m-2-36h0m3 78h0m46 28h0m11-30h0m57 18h0m21-24h0m1 14h0m29 30h0m17-7h0m15-3h0m7-25h0m23-15h0m42 33h0m8-30h0m9 9h0m6 22h0m17 6h0m11-21h0m27 15h0m4-30h0m57-9h0m11 40h0m6-24h0m21-6h0m28 12h0m49 15h0m17-15h0m11-19h0m12 45h0m9-45h0m-6 92h0m-28-2h0m-34-29h0m-11 51h0m-4-56h0m-40 6h0m-16 37h0m-19-27h0m-32 39h0m-22-19h0m-5 18h0m-22-6h0m-4-44h0m-29 18h0m-6 29h0m-15-19h0m-7 23h0m-4-40h0m-15 1h0m-22-9h0m-31 38h0m-24-5h0m-19-35h0m-25-6h0m-16 32h0m-43-21h0m-7 36h0m-17 2h0m-34-12h0m-13 7h0m-3 27h0m15-1h0m3 28h0m7 16h0m33-38h0m10 24h0m17-8h0m54-6h0m8 31h0m12-34h0m1 31h0m11-41h0m5 36h0m70-34h0m2 15h0m14 6h0m25-5h0m31 3h0m14-8h0m18 23h0m23-13h0m38 18h0m8-26h0m71 22h0m30-18h0m21-19h0m23 40h0m20 21h0m-30-6h0m-28 9h0m-26 16h0m-30-12h0m-8-12h0m-1 36h0m-20-34h0m-10 39h0m-8-48h0m-6 43h0m-9-11h0m-9-16h0m-14-15h0m-27 49h0m-49-10h0m-34-22h0m-12-15h0m-40-5h0m-48 47h0m-7-38h0m-30 19h0m-29 21h0m-53 3h0m-1-17h0m-11-22h0m-24-3h0m-25-6h0" stroke="#3B9B7B" stroke-width="24"/>
<path d="M1234 7127h0m74-6h0m33-5h0m40 3h0m53-2h0m35 16h0m26 4h0m-14 29h0m-25-25h0m-27 5h0m-8 28h0m-8-14h0m-36-8h0m-10 20h0m-27 18h0m-14-17h0m-25-29h0m-37 47h0m-11-46h0m-12 1h0m-14 30h0m-15-3h0m-18-30h0m-6 55h0m1 43h0m40-12h0m13-18h0m23 45h0m2-21h0m10 17h0m0-37h0m78 42h0m15-37h0m63 6h0m25 31h0m15-26h0m21-11h0m98 36h0m-4 12h0m-11 45h0m-8-44h0m-44-8h0m-11 10h0m-1 37h0m-46-21h0m-12 5h0m-13-1h0m-14-8h0m-12 16h0m-25-26h0m-21 0h0m-11-3h0m-8 14h0m-7-13h0m-2 44h0m-22-25h0m-4-23h0m-5 43h0m-30-27h0m-7-12h0m-9 40h0m-10-6h0m-3-35h0m-13 6h0m-4 39h0m-44 4h0m32 1h0m11 59h0m20-26h0m14-25h0m15 50h0m5-51h0m1 21h0m4 12h0m29-33h0m6 11h0m18 19h0m11-28h0m12 34h0m14-10h0m9-32h0m20 24h0m2 31h0m22-42h0m5 23h0m5-12h0m20 16h0m28-33h0m22 10h0m46 7h0m3 14h0m37 9h0m-20 38h0m-20-15h0m-23 14h0m-5 20h0m-18-9h0m-13-20h0m-11-9h0m-17 15h0m-44 9h0m-10 12h0m-53-22h0m-11-7h0m-49 8h0m-24-11h0m-23 44h0m-10-52h0m-16 12h0m-1 32h0m-5-11h0m-31-36h0m-7 112h0m7-51h0m14 25h0m2 25h0m18-40h0m22 14h0m16 21h0m13-10h0m0-28h0m12-7h0m1 50h0m24-4h0m7-21h0m13 26h0m3-39h0m18 29h0m37-24h0m10 19h0m14 15h0m22 6h0m6-58h0m8 37h0m16 17h0m6-14h0m29 3h0m15-19h0m9-19h0m-4 77h0m-24-8h0m-3 22h0m-69 17h0m-1-23h0m-10 15h0m-28 2h0m-2-44h0m-2 15h0m-14-9h0m-12 42h0m-3-39h0m-11-4h0m-10 20h0m-11 24h0m-9-52h0m-17 52h0m-12-4h0m-1-15h0m-25 7h0m-2-19h0m-7 38h0m-3-50h0m-4 12h0m-12-8h0m-25 2h0m-18-12h0m7 116h0m3-36h0m25-7h0m7 35h0m14-16h0m15 17h0m12-35h0m21 2h0m11 20h0m1-20h0m34 36h0m41-8h0m10-9h0m12-18h0m26 32h0m4-31h0m20-1h0m19-15h0m6 26h0m3 12h0m27 6h0m59-8h0m5-21h0m34 17h0m-6 57h0m-21-7h0m-5-26h0m-8 35h0m-17-16h0m-21 11h0m-16-10h0m-13 27h0m-28-2h0m-17-2h0m-2-17h0m-6-11h0m-5 26h0m-1-42h0m-22 6h0m-17 33h0m-14-19h0m-5-16h0m-2 35h0m-21-1h0m-17 3h0m-18-32h0m-7 36h0m-23 7h0m0-21h0m-5-11h0m-8 9h0m-11 27h0m-10-50h0m-18 53h0m-30-59h0m-6 42h0m20 31h0m65 40h0m0-33h0m11 24h0m1-22h0m12 3h0m7 18h0m7-41h0m13 44h0m0-27h0m4-18h0m14 12h0m45 23h0m11-5h0m7 12h0m15 10h0m36-32h0m7 26h0m4-32h0m15 12h0m12 19h0m15-13h0m11-4h0m1-25h0m38 32h0m1-33h0m26 58h0m-4 56h0m-8-37h0m-16-12h0m-30 25h0m-11-6h0m0 24h0m-37-24h0m-11 15h0m-5-35h0m-26 35h0m-27-35h0m-11-6h0m-2 35h0m-11-15h0m-11-19h0m-7 47h0m-13-42h0m-30 6h0m-28 15h0m-40-22h0m-37 48h0m-5-38h0m-17 17h0m-30 10h0m0 44h0m51 4h0m21-13h0m15 41h0m9-33h0m6 22h0m35-41h0m12 11h0m22-7h0m18 12h0m3 35h0m0-48h0m8 20h0m15 25h0m20 0h0m7-55h0m2 39h0m6 16h0m10-52h0m9 51h0m5-23h0m8-10h0m8-21h0m3 22h0m32 2h0m30-3h0m33 1h0m7-22h0m4 29h0m3 18h0m15-32h0m0 100h0m-7-11h0m-11-13h0m-1-14h0m-73 29h0m-21-29h0m-16 19h0m-5-15h0m-11 17h0m-14 12h0m-2-13h0m-10-24h0m0 40h0m-68-41h0m-43 35h0m-5-44h0m-42 12h0m-1 28h0m-19 3h0m-32-3h0m-17-36h0" stroke="#2E2F7F" stroke-width="24"/>
<path d="M2225 7126h0m1081 53h0m-65-27h0m-1 40h0m-1026-40h0m-13 10h0m-18 14h0m-21 19h0m-46 3h0m-227-28h0m-6 26h0m-14-18h0m10 63h0m29-21h0m84-2h0m12 30h0m5-20h0m8-24h0m72 54h0m19 0h0m40-46h0m9 41h0m11-44h0m9 42h0m1049 2h0m44-45h0m44 18h0m31 66h0m-36 22h0m-1147-36h0m-33 28h0m-36-33h0m-87 0h0m-14 7h0m-85 35h0m-1-46h0m-40 48h0m5 27h0m4 21h0m29 11h0m96-19h0m5 20h0m8-45h0m47-6h0m12 29h0m16-32h0m26 8h0m24-9h0m1 16h0m24 30h0m17-47h0m1047 56h0m3-30h0m29 9h0m34-2h0m36 24h0m7-50h0m-188 87h0m-3 15h0m-22-15h0m-8 10h0m-18-19h0m-1083-7h0m-6 23h0m-74-3h0m-64 62h0m31-28h0m23 24h0m31 3h0m39-20h0m1 24h0m16-29h0m1 18h0m2 21h0m80-54h0m1023 11h0m46-10h0m35 16h0m61 40h0m35-14h0m24-39h0m31 52h0m-78 63h0m-32-27h0m-44 0h0m-172 11h0m-9 14h0m-30-34h0m-18 10h0m-2 13h0m-16-23h0m-7 36h0m-22-18h0m-5 17h0m-812-29h0m-71-17h0m-18 38h0m-6-22h0m-11-12h0m-78-9h0m-9 38h0m-26-33h0m-12 101h0m23-32h0m8 27h0m56-28h0m37 39h0m0-36h0m18 4h0m308 14h0m5-20h0m14 30h0m11-26h0m9 31h0m303-22h0m37-4h0m23-12h0m25 16h0m15-9h0m18-15h0m28 39h0m3-44h0m12 42h0m7-28h0m8 11h0m14-12h0m7-12h0m3 24h0m8-19h0m14-1h0m1 23h0m9-14h0m22 6h0m14 6h0m27-16h0m13 23h0m9-11h0m5-13h0m281 41h0m59 4h0m5-44h0m-71 91h0m-65-8h0m-427-32h0m-75 12h0m-21-17h0m-658 18h0m-19-2h0m-1 17h0m-34-14h0m-59 31h0m-30-27h0m3 65h0m14-16h0m38 25h0m71-8h0m5 20h0m4-45h0m8 22h0m93 31h0m1103-44h0m148 53h0m-76 36h0m-56-38h0m-1 52h0m-1088-14h0m-138-9h0m-5-18h0m-124 83h0m123 12h0m3-16h0m4-19h0m1219 15h0m64-18h0m49 43h0m-30 10h0m-22 31h0m-47 13h0m-39-3h0m-686 4h0m-2-30h0m-31 14h0m-481 19h0" stroke="#E03A2C" stroke-width="24"/>
<path d="M2366 7252h0m4-15h0m-6 51h0m-7 12h0m-10 12h0m-54 3h0m-35 22h0m53 5h0m26 19h0m5-28h0m1 14h0m8 27h0m7-52h0m5 13h0m3 40h0m-15 55h0m-2-12h0m-7-21h0m-9 25h0m-1-38h0m-5 12h0m-7 10h0m-29 19h0m-29-43h0m-22 20h0m-3 25h0m-14 50h0m2-25h0m55 14h0m10 31h0m21-6h0m5-25h0m4-16h0m4 39h0m17-47h0m7 42h0m9-27h0m3 29h0m-1 33h0m-10 18h0m-18-11h0m-7 26h0m-8-46h0m-12 16h0m-4 17h0m-11-12h0m-12 23h0m-20-23h0m-57-13h0m-16 95h0m30-28h0m24-13h0m16 41h0m20-3h0m4-30h0m16-3h0m8 43h0m4-11h0m12 13h0m3 41h0m-20 15h0m-12-13h0m-13-17h0m-11-20h0m-7 27h0m-3 24h0m-8-16h0m-57-27h0m-6 25h0m-18 58h0m35-15h0m23-2h0m22-12h0m3 29h0m1-14h0m0 31h0m18 5h0m1-54h0m2 25h0m18-21h0m4 42h0m16 6h0m10-33h0m18 28h0m4-33h0m1-16h0m-4 82h0m-26 36h0m-5-30h0m-13-1h0m-6-18h0m-10 26h0m-17 5h0m-7-31h0m-13 26h0m-23 8h0m-26-23h0m-30 0h0m-3 52h0m41 12h0m30 13h0m10 9h0m13-40h0m12 22h0m7-26h0m13 31h0m4 19h0m5-33h0m22 14h0m19 4h0m2 17h0m7-51h0m-7 71h0m-30-6h0m-5 32h0m-16-12h0m-18-3h0m-2-17h0m-9 27h0m-15-3h0m-13-20h0m-46-3h0m-15 43h0m-16-17h0" stroke="#5EB4C2" stroke-width="24"/>
<path d="M2375 7136h0m51-19h0m39 11h0m9 8h0m12-12h0m40-7h0m56 22h0m32-9h0m23-9h0m27 4h0m17 4h0m13 9h0m106 1h0m10-14h0m55 6h0m9-12h0m13 69h0m-6-14h0m-4-23h0m-13 6h0m-10 12h0m-14 19h0m-13-47h0m-35 22h0m-8 30h0m-6-32h0m-7 25h0m-7-24h0m-14 6h0m-22 20h0m-35-22h0m-2 30h0m-5-41h0m-9-14h0m-23 2h0m-28 15h0m-9 38h0m-29-6h0m-10-30h0m-39 36h0m-6-15h0m-19 0h0m-3-12h0m-6-16h0m-13-13h0m-2 19h0m-9 24h0m-29-34h0m-40 47h0m-16-21h0m-2 20h0m0-43h0m0 65h0m38-4h0m12 42h0m15-14h0m20 9h0m14-34h0m25 29h0m18-3h0m7-14h0m22-16h0m10 30h0m23 6h0m52-29h0m8 37h0m9-35h0m13-18h0m6 48h0m8-41h0m42 32h0m11-30h0m21 3h0m25 1h0m26 12h0m9 27h0m1-17h0m35-31h0m3 26h0m17 58h0m-14 24h0m-26-1h0m-6-32h0m-7 18h0m-5-12h0m-33-13h0m-7-12h0m-40-2h0m-7 38h0m-3 13h0m-25-47h0m-23 20h0m-5 16h0m-18 18h0m-3-41h0m-2 29h0m-32-36h0m-24 27h0m-40 20h0m-10-22h0m-17-9h0m-21-21h0m-4 23h0m-8 13h0m-48 11h0m-6-48h0m-16 51h0m-1-28h0m-14-7h0m-24-21h0m-5 17h0m-1 38h0m-3-25h0m-17-18h0m11 63h0m0 15h0m18 10h0m13-26h0m12 45h0m24-21h0m22-4h0m32 5h0m7-13h0m14 0h0m38-12h0m12 26h0m13-13h0m20 15h0m0-32h0m26 10h0m4 17h0m7-25h0m19 40h0m29-3h0m15-16h0m41-17h0m2 21h0m22-25h0m4 46h0m2-35h0m10-22h0m22 42h0m8-24h0m13 29h0m41-30h0m13 60h0m-20-10h0m-8 33h0m-17-25h0m-16 9h0m-24 32h0m-30-6h0m-41-12h0m-4-32h0m-8 44h0m-4-28h0m-5-19h0m-20 15h0m-33 2h0m-20 34h0m-20-36h0m-2 25h0m-12-41h0m-33 15h0m-3 12h0m0 24h0m-13-54h0m-20 51h0m-5-41h0m-36 29h0m-19-5h0m-4-28h0m-13 21h0m-21-8h0m-16 11h0m-30-7h0m-9 78h0m11-12h0m13-18h0m0 39h0m62-3h0m19 0h0m8-17h0m4 29h0m7-34h0m1-15h0m18-8h0m9 46h0m35-26h0m3 26h0m5-45h0m22 48h0m18 6h0m3-50h0m7 40h0m6-31h0m7 26h0m9-15h0m24-3h0m2 28h0m27-41h0m23 33h0m6-22h0m31 2h0m5 13h0m15-31h0m9 29h0m2 19h0m18-29h0m38-14h0m27 43h0m7-17h0m2 39h0m-26-5h0m-20 23h0m-5-34h0m-21 24h0m-16 3h0m-23 27h0m-2-47h0m-10 26h0m-15 19h0m-16-34h0m-3 38h0m-7-55h0m-6 32h0m-17 2h0m-16-2h0m-22-7h0m-17 20h0m-9-35h0m-7 32h0m-24-17h0m-16 32h0m-4-35h0m-27-14h0m-12 19h0m-10-8h0m0 15h0m-17-28h0m-4 32h0m-12 9h0m-1-26h0m-32-20h0m-18 8h0m-56 32h0m-16-18h0m-5 28h0m-2-47h0m17 57h0m3 56h0m10-58h0m13 51h0m25-30h0m28 38h0m6-20h0m13 3h0m34-3h0m17 5h0m18-32h0m11 20h0m28 3h0m9-9h0m12 0h0m4 26h0m30-26h0m0-12h0m7-12h0m9 17h0m41-4h0m31-12h0m26-3h0m93 56h0m34 16h0m-20-9h0m-24 36h0m-8-21h0m-13 40h0m-4-14h0m-29 0h0m-3-33h0m-34 16h0m-9-10h0m-29 39h0m-15 3h0m-40-22h0m-16-4h0m-30 22h0m-22-24h0m-27-31h0m-1 20h0m-17-3h0m-5 34h0m-2-50h0m-18 46h0m-24-12h0m-32 15h0m-31-37h0m-15 0h0m-21 5h0m-9 14h0m-9 10h0m-14 36h0m10-7h0m17-10h0m6 36h0m35 2h0m29-34h0m18 22h0m1-19h0m19 40h0m9-21h0m46 12h0m23-2h0m0 12h0m8-48h0m22 7h0m8 46h0m4-15h0m14 13h0m19-18h0m14-20h0m19 8h0m19 21h0m4-29h0m12 30h0m9-31h0m17 45h0m16-23h0m10 13h0m24-11h0m14 4h0m14-14h0m2-16h0m18 1h0m14 27h0m7 15h0m11-50h0m-5 94h0m-35-12h0m-11-26h0m-21 33h0m-26 24h0m-10-52h0m-3 44h0m-18-3h0m-11-41h0m-11 31h0m-19-27h0m-14 34h0m-18-21h0m-8 36h0m-51-23h0m-8 17h0m-7-32h0m-5 17h0m-23-36h0m-39 5h0m-2 26h0m-13-22h0m-4 22h0m-1 15h0m-5-30h0m-37-6h0m-5 29h0m-22-26h0m-5 31h0m-7-45h0m-9 15h0m-18 23h0m-7-16h0m-1 32h0m-16-45h0m-33 24h0m-7 52h0m13 25h0m4-35h0m8 40h0m1-15h0m13-39h0m7 11h0m14 5h0m15-2h0m13 36h0m8-46h0m18 8h0m13 25h0m6-30h0m35 2h0m17 35h0m12-6h0m3-21h0m14 40h0m1-14h0m6-44h0m6 59h0m13-17h0m7-37h0m0 22h0m52-23h0m16 13h0m29 22h0m9-8h0m16-1h0m8-30h0m9 59h0m11-35h0m22 18h0m25-5h0m13 10h0m8-28h0m7-14h0m13 13h0m4 32h0m14-1h0m17-35h0m3 42h0m17-41h0m-5 78h0m-10 11h0m-20-35h0m-47 39h0m-19-48h0m-2 32h0m0-13h0m-21-3h0m-27-1h0m-18-15h0m-13 31h0m-11 23h0m-31-24h0m-6 22h0m-14-12h0m0 14h0m-15-44h0m-11 16h0m-27-25h0m-21 43h0m-8-19h0m-6-15h0m-7 31h0m-23-36h0m-12 3h0m-44 44h0m-40-14h0m-7-29h0m-12 24h0m-2-12h0m-18-14h0m-29 13h0" stroke="#3B9B7B" stroke-width="24"/>
<path d="M2901 7122h0m24 15h0m39-9h0m53 5h0m15-14h0m42 5h0m84-8h0m140 33h0m-113 11h0m-7 37h0m-9-52h0m-14 26h0m-32-2h0m-13 11h0m-24-30h0m-7 29h0m-13-38h0m-3 47h0m-9-48h0m-18 10h0m-11 7h0m-7 13h0m-7-12h0m-18-17h0m-23 5h0m-11 25h0m-19-15h0m-18 13h0m-7-16h0m-20-13h0m-29 33h0m-2 12h0m18 19h0m2 51h0m36-18h0m0-34h0m0 13h0m30 0h0m10 15h0m9 13h0m18-5h0m28-18h0m14-7h0m3 23h0m1-34h0m12 6h0m16 16h0m13 11h0m0-21h0m28 32h0m3-39h0m37 40h0m11 8h0m15-23h0m19-14h0m39 82h0m-61-36h0m-7 17h0m0 17h0m-20-9h0m-27-17h0m-6 42h0m-6-13h0m-8-19h0m-5 21h0m-17-44h0m-5 54h0m-4-46h0m-14 0h0m-6 34h0m-13-38h0m-16 46h0m-1-19h0m-25-14h0m-20 10h0m-7 14h0m-4-38h0m-15 9h0m0 46h0m-12-2h0m-44 22h0m21 29h0m15 2h0m7-22h0m0-13h0m26-3h0m20 29h0m32-27h0m12-1h0m46 15h0m5 17h0m36 9h0m11-24h0m21 17h0m2-46h0m0 24h0m13-19h0m8 41h0m13-24h0m8-16h0m5 38h0m8 26h0m-5 29h0m-12 16h0m-21-51h0m-64 53h0m-29-29h0m-39-11h0m-11 22h0m-1-14h0m-11 23h0m-6-14h0m-24 16h0m0-19h0m-28 2h0m-13-1h0m-3-16h0m-4 28h0m-49-15h0m-1 32h0m16 48h0m33-44h0m20 6h0m24 0h0m7 27h0m6-34h0m15 1h0m3 19h0m8 14h0m22-37h0m22 20h0m43 5h0m46 26h0m19-11h0m30 7h0m-24 30h0m-33 14h0m-12-20h0m-9 43h0m-2-28h0m-19 31h0m-9-26h0m-23 13h0m-5-26h0m-41-19h0m-17 0h0m-80 10h0m-2 24h0m-42-23h0m35 89h0m96 15h0m21 0h0m7-48h0m33 21h0m10-17h0m12 32h0m40-13h0m7-10h0m13 18h0m3 17h0m2-44h0m11 20h0m32 6h0m8 35h0m-12 15h0m-33-21h0m-47 31h0m-5 17h0m-15-51h0m-20 19h0m-18-7h0m0 36h0m-3-17h0m-68-12h0m-8 12h0m-3-34h0m-9 49h0m-2-25h0m-19 27h0m-27-1h0m-12-21h0m-3 13h0m-25-3h0m-3-13h0m5 73h0m20-34h0m2 29h0m29-34h0m24 54h0m7-19h0m23 16h0m17-18h0m14 2h0m10 13h0m15-10h0m26 13h0m10-20h0m1 12h0m5-38h0m22 16h0m1 19h0m8 18h0m12-1h0m11-45h0m17 23h0m15-1h0m1-23h0m13 43h0m1-28h0m2-18h0m160 23h0m-10 70h0m-136-34h0m-16 47h0m-1-16h0m-26-17h0m-10-12h0m-7 48h0m-48-15h0m-1 13h0m-24-26h0m-12 1h0m-38-21h0m-5 27h0m-17-1h0m-5-33h0m-14 53h0m-1-50h0m-8 34h0m-12-29h0m-11 31h0m-30-25h0m-5 26h0m-2-41h0m-6 17h0m-7 91h0m16-16h0m7-21h0m13 35h0m32-2h0m11-10h0m1 24h0m41-12h0m7-12h0m7 12h0m14-41h0m13 33h0m6-21h0m34 1h0m25-3h0m6 23h0m38-16h0m1 20h0m10-24h0m26-9h0m160 24h0m-15 78h0m-148-37h0m-12-13h0m-15 8h0m-11 39h0m-13-15h0m-55-33h0m-23 1h0m-7 25h0m-19 18h0m-5-43h0m-25 12h0m-15 30h0m-46-27h0m-23 9h0m-14 27h0m-2-34h0m-8 10h0m-10 19h0m-22-33h0" stroke="#2E2F7F" stroke-width="24"/>
<path d="M3609 7125h0m1258 2h0m183 71h0m-10-10h0m-21 3h0m-87 8h0m-12-10h0m-22-35h0m-10 10h0m-1277-9h0m1268 88h0m8-23h0m35-1h0m32-17h0m15 19h0m16 27h0m16 0h0m10 7h0m15-21h0m57 29h0m-119 9h0m-8 23h0m-45-8h0m-5 25h0m-23-4h0m-1181 67h0m1219-15h0m24-13h0m0 12h0m22 13h0m18-15h0m7-10h0m34-19h0m4 42h0m18-13h0m5-26h0m31 15h0m-8 63h0m-12 11h0m-18 10h0m-15 2h0m-7-30h0m-17 6h0m-26 16h0m-43-21h0m-1240 18h0m-52-38h0m-13 44h0m-10-27h0m-8 60h0m46 7h0m27-15h0m17 28h0m-1 22h0m-17 22h0m-16 23h0m-36-40h0m-29 5h0m23 102h0m50 3h0m15-44h0m315-8h0m25 34h0m11 13h0m32-37h0m15 52h0m-418 27h0m-5 20h0m-17-28h0m-1-26h0m-37 8h0m0 98h0m4-29h0m33-2h0m42-11h0m4 23h0m-31 43h0m-52 4h0m-3 41h0m14 63h0m8-20h0m52-19h0m-50 59h0" stroke="#E03A2C" stroke-width="24"/>
<path d="M3700 7125h0m18 2h0m45 7h0m48-11h0m71 60h0m-27 9h0m-5-37h0m-8 21h0m-16 4h0m-18-15h0m-22 22h0m-27 4h0m-2-20h0m-11-19h0m-4 13h0m-15-18h0m-38 21h0m-2-25h0m0 114h0m31-46h0m12 17h0m25-5h0m16-23h0m48 56h0m36-1h0m0-49h0m5 15h0m23 17h0m18 53h0m-1 22h0m-11-13h0m-21-1h0m-10-25h0m-15 40h0m-7-38h0m-10 38h0m-53-18h0m-28 8h0m-2 13h0m-10-43h0m-15 19h0m-6 17h0m-23-35h0m27 50h0m1 49h0m21-22h0m17 4h0m19-36h0m17 42h0m7-34h0m10 19h0m14 26h0m82-32h0m8 11h0m4 58h0m-7-12h0m-24-1h0m-3 22h0m-21-6h0m-16 10h0m-14-39h0m-2 41h0m-11-31h0m-3 39h0m-14-8h0m-4-17h0m-9-13h0m-15 39h0m-5-32h0m-4-12h0m-23 86h0m16-21h0m19-1h0m9 22h0m4-22h0m18 36h0m36-17h0m23-20h0m10 26h0m10 14h0m3-18h0m15-33h0m7 27h0m14-13h0m0 61h0m-1-17h0m-17 22h0m-13 24h0m-15-14h0m-13-28h0m-9 19h0m-10-12h0m-57 10h0m-4 21h0m-22 6h0m5 38h0m0-24h0m6 50h0m14-21h0m15-3h0m65-24h0m36 13h0m10 39h0m10-30h0m6-25h0m11 67h0m-30 29h0m-4-22h0m-13 20h0m-8-22h0m-15 7h0m-41 38h0m-1-36h0m-14 7h0m-2 29h0m-21-51h0m-17 5h0m35 63h0m40 29h0m9-38h0m4 49h0m27-25h0m25 21h0m7-35h0m21-16h0m8 88h0m-57-9h0m-5 39h0m-21-5h0m-20-15h0m-4-28h0m-7 22h0m-30 25h0m-9-29h0m24 44h0m13 21h0m11-20h0m9 36h0m6-15h0m17-30h0m16 30h0m10 13h0m29-32h0m7 21h0m15 36h0m-2 34h0m-10-44h0m-8 18h0m-4 13h0m-3-24h0m-14 2h0m-12 30h0m-6-18h0m-1-21h0m-16 52h0m-2-25h0m-14 4h0m-14 19h0m-17-28h0m-9-24h0" stroke="#5EB4C2" stroke-width="24"/>
<path d="M3876 7128h0m23 1h0m83-10h0m55-3h0m30-1h0m78 15h0m19-5h0m32 14h0m53-9h0m33 3h0m13-10h0m37 5h0m126 47h0m-11 20h0m-12-29h0m-44 10h0m-10-15h0m-39-10h0m-8 34h0m-19-10h0m-13 23h0m-2-37h0m-39-11h0m-26 8h0m-23-7h0m-33-2h0m-3 23h0m-22 18h0m-9-43h0m-44 13h0m-19 34h0m-27-3h0m-9-23h0m-29 2h0m-31 5h0m-15 20h0m-8-23h0m-17 0h0m-16-14h0m-44 11h0m0 31h0m12 36h0m25-7h0m3-16h0m14-5h0m10 11h0m73-8h0m18 21h0m21 24h0m9-29h0m39-20h0m0 52h0m14-56h0m7 48h0m25-15h0m10-36h0m2 30h0m14-26h0m33 16h0m6-10h0m27-9h0m17 7h0m39 26h0m43 1h0m13-14h0m2 38h0m12-55h0m4 47h0m23-48h0m24 15h0m12 40h0m1-52h0m42 97h0m-20-13h0m-5 21h0m-16-38h0m-15-13h0m-57 32h0m-28 3h0m-32-8h0m0 23h0m-16 9h0m-40-18h0m0-36h0m-8 52h0m-5-15h0m-27-1h0m-6-29h0m-17 2h0m-17 15h0m-10-20h0m-21 13h0m-9-13h0m-4 45h0m-12-8h0m-25-29h0m-29 12h0m-37 4h0m-11 21h0m-14-38h0m-1 27h0m-12-2h0m-13-23h0m-6 30h0m-17-18h0m-3 27h0m-17-55h0m-20 5h0m33 80h0m33-8h0m23-15h0m24 46h0m16-44h0m12 37h0m34-23h0m15-1h0m13-2h0m10-11h0m15 50h0m18-39h0m22-11h0m2 48h0m8-38h0m6-16h0m1 30h0m34-27h0m2 38h0m8-11h0m13 9h0m24-29h0m10 43h0m3-41h0m32-12h0m55 46h0m28 12h0m25-23h0m12 8h0m15 6h0m7-34h0m29 49h0m-15 12h0m-28 11h0m0 12h0m-24-2h0m-13 15h0m-29-1h0m-59-23h0m-35-9h0m-22 24h0m-10 9h0m-37 1h0m-10-22h0m-23-22h0m-60 4h0m-9 25h0m-52-15h0m-13 16h0m-19-12h0m-19 25h0m-17-12h0m-3-32h0m-1 45h0m-53-14h0m-17-23h0m22 73h0m7 28h0m11-29h0m52 1h0m12 19h0m1-19h0m25 20h0m7-34h0m16 36h0m11-50h0m11 22h0m2 22h0m21 10h0m26-53h0m2 16h0m38 35h0m11-27h0m17-11h0m22-6h0m10 6h0m4 14h0m26 22h0m17 3h0m21-36h0m36 24h0m21-1h0m49 3h0m30-1h0m33-27h0m15 19h0m19 14h0m0 13h0m-10 38h0m-19-38h0m-32 52h0m-34 0h0m-17-7h0m-10-22h0m-9 17h0m-40-22h0m-19-3h0m-18 40h0m-41-28h0m-20-20h0m-13 42h0m-13-33h0m-5 35h0m-26-44h0m-3 15h0m-47 22h0m-23-10h0m-28-22h0m-8 17h0m-22-24h0m-7 17h0m-24 6h0m-23 5h0m-31-24h0m-24 11h0m-9 36h0m-4 35h0m38-17h0m71-15h0m115 38h0m31-39h0m3 34h0m7 10h0m4-36h0m1 12h0m55-12h0m48 23h0m9-9h0m9 36h0m14-39h0m15 29h0m32-33h0m1 19h0m26 1h0m14-18h0m12 23h0m61-38h0m4 15h0m19 82h0m-20 3h0m-20 0h0m-3-29h0m-67-11h0m-33 55h0m-32-15h0m-43-10h0m-28-5h0m0 27h0m-2-15h0m-24 4h0m-49 11h0m-5-28h0m-9-9h0m-17 26h0m-16-36h0m0 47h0m-21-20h0m-21-9h0m-45-14h0m-3 36h0m-36-7h0m-19-13h0m-22 27h0m-8-48h0m-20 37h0m-8-15h0m-9 75h0m25-22h0m1 33h0m16-42h0m11 30h0m4-41h0m31 40h0m8-22h0m9 38h0m16-40h0m13 18h0m9-18h0m25-15h0m11 36h0m19 5h0m19-8h0m9-20h0m7 14h0m17 1h0m24-23h0m37 45h0m12-27h0m43-16h0m10 35h0m12-15h0m3 15h0m18-38h0m14 44h0m40-39h0m5 13h0m13-5h0m26 16h0m14 5h0m20-2h0m18 13h0m19-12h0m-9 33h0m-16 19h0m-10-19h0m-3 44h0m-26-37h0m-41 10h0m-3-14h0m-64 29h0m-1-13h0m-5-15h0m-38 33h0m-45-26h0m-29-6h0m-17 37h0m-1-46h0m-26 27h0m-6-20h0m-26 0h0m-7 20h0m-12 9h0m-2-13h0m-22-7h0m-15 2h0m-43 31h0m-4-43h0m-30 41h0m-14-23h0m-8 23h0m-8-28h0m-20 23h0m-5 12h0m1 18h0m18 28h0m51 6h0m19-5h0m21-38h0m9 17h0m35 6h0m40-12h0m33 26h0m53 8h0m5-52h0m66-3h0m5 21h0m24-16h0m39 18h0m4-16h0m2 38h0m15 3h0m13-39h0m38 32h0m7-32h0m22 34h0m12 9h0m28-45h0m5 29h0m-2 34h0m-64-2h0m-21 35h0m-27-33h0m-3 25h0m-17 10h0m-26-9h0m-25-3h0m-14 4h0m-5-15h0m-42 2h0m-31-13h0m-3 33h0m-26-22h0m0 27h0m-70 2h0m-29-9h0m-16-15h0m-9-27h0m-8 53h0m-12-25h0m-5-17h0m-29 36h0m-17 3h0m-11-45h0m0 31h0m-5 11h0m-8-32h0m-34 34h0" stroke="#3B9B7B" stroke-width="24"/>
<path d="M4507 7120h0m27 14h0m19-17h0m15 9h0m57 10h0m80-12h0m59 11h0m28-10h0m127-8h0m52 7h0m54 7h0m16 28h0m-18 13h0m-41-29h0m-127 6h0m-18-3h0m-53 44h0m-26-2h0m-26 3h0m-1-12h0m-36-12h0m-4-23h0m-2 37h0m-16-10h0m-19-17h0m-21 24h0m-29-31h0m-20 5h0m-32 29h0m-36-29h0m-23 25h0m-4-12h0m-18 44h0m3 34h0m27-39h0m4 44h0m15 7h0m11-37h0m13 19h0m1-32h0m11 9h0m7 44h0m3-18h0m12 4h0m29 0h0m11-40h0m21 19h0m38 3h0m48-2h0m7-13h0m23 28h0m14-21h0m71 22h0m11-40h0m240 9h0m4 27h0m-24 40h0m-55 18h0m-145 24h0m-30-42h0m-9-14h0m-58 1h0m-32 21h0m-1 16h0m-5-26h0m-42-12h0m-25-2h0m-12 25h0m-47-19h0m-19-3h0m-21 32h0m-18-21h0m-14 44h0m-7-26h0m-32 20h0m-8-25h0m25 35h0m1 47h0m4-33h0m4 43h0m23-27h0m12-20h0m8 21h0m12 14h0m0-47h0m4 35h0m4-12h0m8 32h0m25-25h0m17 19h0m16 6h0m8-48h0m26-6h0m51 42h0m1-13h0m29 22h0m3-13h0m21 20h0m1-28h0m17 15h0m13-27h0m31 3h0m7 29h0m19-34h0m0 15h0m123 1h0m70 5h0m22-9h0m-26 84h0m-187-18h0m-19 14h0m-28-2h0m-9-39h0m-8 49h0m-13-26h0m-26-2h0m-2 18h0m-14 8h0m-5-41h0m-18 45h0m-16-48h0m-2 12h0m-6-21h0m-48 36h0m-82 1h0m-11-26h0m-9 45h0m-6-45h0m-50 40h0m9 29h0m6 11h0m6 11h0m16 3h0m5-36h0m37 38h0m31-45h0m25-4h0m5 44h0m12-33h0m12 42h0m7-53h0m21 57h0m23-28h0m4-13h0m25 21h0m10-13h0m0 20h0m13-31h0m137 45h0m11-38h0m10 36h0m40-11h0m32-12h0m20-25h0m22 11h0m21 30h0m6-25h0m4-17h0m7 83h0m-7 12h0m-4-23h0m-73-11h0m-3 19h0m-12 28h0m-10-40h0m-22 37h0m-29-15h0m-31 1h0m-17-18h0m-32 39h0m-7-17h0m-16-12h0m-30 13h0m-10-30h0m-8 9h0m-18 16h0m-4-24h0m-7-14h0m-21 9h0m-6 32h0m-9-35h0m-33 4h0m-24 47h0m-3-29h0m-11-26h0m-2 33h0m-12 17h0m-11-39h0m-32 4h0m-37 27h0m-22 2h0m8 19h0m15 0h0m0 45h0m16-28h0m42-10h0m3 43h0m8-53h0m18 46h0m0-11h0m9-12h0m38 29h0m5-50h0m15-3h0m5 24h0m16 22h0m20-20h0m9 21h0m15-20h0m13-9h0m12 40h0m2-47h0m17-5h0m3 20h0m3 29h0m79-56h0m3 29h0m8-10h0m12 11h0m20-7h0m22 23h0m9-16h0m3 18h0m24-14h0m22 17h0m3-39h0m17 36h0m4-22h0m13 27h0m13-44h0m-11 108h0m-17-41h0m-23 26h0m-6-19h0m-16 19h0m-10-13h0m-28-7h0m-3 28h0m-29-10h0m-17-39h0m-42 44h0m-8-15h0m-3-11h0m-17-12h0m-8 33h0m-28-1h0m-11-19h0m-19 15h0m-29-35h0m-18 21h0m-9-16h0m-36 14h0m0 30h0m-12-45h0m-42 51h0m0-38h0m-11 12h0m-82-7h0m-3 49h0m12 34h0m1-19h0m8 31h0m5-48h0m21 19h0m21 22h0m2-13h0m9-35h0m3 14h0m7 11h0m17-24h0m12 42h0m38 8h0m26-14h0m19-9h0m53 25h0m28-55h0m47 14h0m0 19h0m1-31h0m19 45h0m1-39h0m20 32h0m43-33h0m57 39h0m38-8h0m6-29h0m16 35h0m9-15h0m24-16h0m4 80h0m-26 24h0m-4-11h0m-5-27h0m-2-17h0m-10 41h0m-12 12h0m-36-21h0m-11 16h0m-9-31h0m-1-12h0m-30 49h0m-1-20h0m-11-15h0m-4 37h0m-23-44h0m-28-3h0m-7 20h0m-8-15h0m-5-16h0m-22 30h0m-18-16h0m-20 17h0m-3-28h0m-18 21h0m-35-5h0m-7 9h0m-8-16h0m-19 11h0m-4 19h0m-26-19h0m-5-20h0m-9 51h0m-10-11h0m-1-36h0m-32 44h0m-12-50h0m-22 35h0m-49 5h0m43 30h0m18 1h0m9 19h0m21-14h0m10 8h0m30 12h0m10 12h0m3-19h0m7-17h0m15 8h0m34 34h0m10-33h0m22 15h0m5 21h0m37-21h0m22-28h0m3 15h0m23 34h0m3-34h0m10 14h0m6-16h0m6-19h0m1 53h0m1-22h0m21-12h0m5 11h0m55-7h0m41 7h0m5-24h0m16 1h0m11-7h0m7 48h0m23-9h0m3-31h0m11 6h0m4 68h0m-30 4h0m-32-25h0m0 49h0m-31-23h0m-10-26h0m-23 26h0m-1-15h0m-12 34h0m-3-17h0m-13 8h0m-44-6h0m-15-18h0m-16 36h0m-16-2h0m-12-35h0m-2 26h0m-17-6h0m-1-26h0m-25 21h0m-8 24h0m-1-41h0m-22 15h0m-29 1h0m-3 15h0m-12-16h0m-20-22h0m-9 28h0m-6-29h0m-33 0h0m-5 15h0m-13 35h0m-19-30h0m-40 28h0m-20-22h0" stroke="#2E2F7F" stroke-width="24"/>
<path d="M1559 8517h0m-803 0h0m-467-25h0m-31 1h0m-34 5h0m-39-3h0m-25 28h0m17 47h0m7-33h0m16 28h0m46-8h0m51-5h0m302-15h0m266 27h0m741-2h0m-14 71h0m-2-25h0m-19-5h0m-1172 36h0m-8-23h0m-17 1h0m-3-21h0m-102 30h0m-27-17h0m-53-16h0m-19 32h0m-2 61h0m8-29h0m22 27h0m29-16h0m27 27h0m47-32h0m4-23h0m1208 45h0m1-37h0m55-2h0m-7 76h0m-46-7h0m-994-13h0m-232 1h0m-82 42h0m-57-37h0m-36 107h0m11-21h0m6-17h0m20 15h0m103 5h0m1040 21h0m208-45h0m36 9h0m64 5h0m-70 35h0m-9 19h0m-15 19h0m-101-6h0m-642 14h0m-618-44h0m0 45h0m-17-18h0m-5 19h0m-4 19h0m3 42h0m4-27h0m13 20h0m1360-11h0m47 8h0m19-38h0m16 5h0m-858 94h0m-109 0h0m-466-8h0m-3-24h0m-13 12h0m-17 57h0m28-13h0m3 40h0m83 6h0m659-49h0m31 10h0m14 5h0m-44 50h0m-518 5h0m-39 25h0m-37-30h0m-27-8h0m-97 53h0m-3-11h0m-2-11h0m-6-11h0m-7 20h0m-4-21h0m-19-16h0m0 20h0m-7 36h0m-2 38h0m9-22h0m2 10h0m4 33h0m3-52h0m4 40h0m5-29h0m1 40h0m2-19h0m5-17h0m8-10h0m2 21h0m4 20h0m7-31h0m2-13h0m2 24h0m4 25h0m56-53h0m40 39h0m23 6h0m17 0h0m6-13h0m1-20h0m4 39h0m5-31h0m451 15h0m-274 50h0m-167-23h0m-39-4h0m-60 32h0m-10-27h0m-49 15h0m-15 14h0m-2 20h0m-5-10h0m-6-17h0m-2-21h0m-12 32h0m-3-26h0m0 14h0m-14 26h0m-9-21h0m0 56h0m10-9h0m4-15h0m9 34h0m0-26h0m0 36h0m11-44h0m2 19h0m8 23h0m4-42h0" stroke="#E03A2C" stroke-width="24"/>
<path d="M497 8518h0m-134-4h0m-5 56h0m24-5h0m11-43h0m6 51h0m31-14h0m44-18h0m14 37h0m6-36h0m26 18h0m0 26h0m-9 27h0m0 13h0m-82-41h0m-6 36h0m-63 33h0m3 33h0m17-17h0m43-18h0m22 28h0m4-40h0m24 40h0m9-21h0m46 16h0m-6 50h0m-18-8h0m-13-14h0m-26 35h0m-17 4h0m-30-6h0m-17-22h0m-35 6h0m-3 17h0m-10 19h0m-2 51h0m2-14h0m22-2h0m10 10h0m1 12h0m19-7h0m8-33h0m17 10h0m18 9h0m37 22h0m16-32h0m8 11h0m20 80h0m-32-38h0m-12-3h0m-22 7h0m-21-4h0m-12-7h0m-8 38h0m-47-2h0m-14-44h0m23 86h0m10 10h0m45-9h0m57-26h0m4 20h0m8 35h0m7 32h0m-19-2h0m-37 22h0m-18-46h0m-1 50h0m-29-25h0m-2 15h0m-33-13h0m-14 83h0m98-43h0m23 27h0m39 6h0m11 36h0m-2 17h0m-14-32h0m-12 31h0m-41-34h0m-13 24h0m-6-20h0m-11 29h0m-3 12h0m-3-41h0m-32 17h0m-16 19h0m31 48h0m17 29h0m2-24h0m20-5h0m3-18h0m25 6h0m12 21h0m6 16h0m23-1h0m7-15h0m-23 72h0m-15-35h0m-13 17h0m-7 13h0m-40-23h0m-1 15h0m-7 19h0m-6-39h0m-13 16h0m-49 60h0m12-31h0m34 24h0m47-22h0m44 29h0m31-2h0m4-16h0" stroke="#5EB4C2" stroke-width="24"/>
<path d="M1434 8494h0m-300 14h0m-70-9h0m-1 12h0m-192 8h0m-17-24h0m-77 5h0m-33 5h0m-79 13h0m-2-26h0m-46 8h0m-31 18h0m-51-2h0m-47-10h0m-109 10h0m9 19h0m140 2h0m5 34h0m14-9h0m2-21h0m45 35h0m4-54h0m33 44h0m13-26h0m9 35h0m5-31h0m40 0h0m7 11h0m2-29h0m10 18h0m8 19h0m5-24h0m6 36h0m21-24h0m19 14h0m23-20h0m10 20h0m15-14h0m3-28h0m11 36h0m8 16h0m3-43h0m11 44h0m24-7h0m14-32h0m7 41h0m15-29h0m27 27h0m13-37h0m2 29h0m13-11h0m4 17h0m7-27h0m25-4h0m22-9h0m13 34h0m9 11h0m13-19h0m25-40h0m27 51h0m17-42h0m51 3h0m15 42h0m50-52h0m11 46h0m-91 31h0m-8 23h0m-31-41h0m-64 30h0m-10-21h0m-40 33h0m-63-37h0m-48 28h0m-17-11h0m-10 31h0m-11-7h0m-19-16h0m-9 20h0m-37-29h0m-12 19h0m-11-10h0m-27 16h0m-1-19h0m-32 8h0m-8-17h0m-22 0h0m-53-11h0m-18 14h0m-28 10h0m-114 24h0m-39-40h0m-20 99h0m33 1h0m87-1h0m60-46h0m6 24h0m37-17h0m9-8h0m63 27h0m18-16h0m18 30h0m11-14h0m6 12h0m14-8h0m27 20h0m40-12h0m4-47h0m15 18h0m10 39h0m39-51h0m22 39h0m28-9h0m3 20h0m28-28h0m1 14h0m100 1h0m56-2h0m1-24h0m32 10h0m2 29h0m4-51h0m149 3h0m244-3h0m-416 58h0m-55 46h0m-25-21h0m-20-15h0m-4 25h0m-5 21h0m-9-54h0m-6 14h0m-10 13h0m-44-12h0m-17 7h0m-43 7h0m-9-32h0m-11 9h0m-17 36h0m-30-17h0m-1-15h0m-51 22h0m-18-8h0m-35 13h0m-9-22h0m-9 34h0m-2-13h0m-50-8h0m-30-4h0m-21 7h0m-29-18h0m-16-7h0m-5 20h0m-24 16h0m-10-41h0m-4 45h0m36 36h0m9 26h0m5-44h0m36 5h0m39-8h0m0 16h0m14 21h0m27-37h0m25 9h0m25 23h0m16 8h0m8 13h0m9-49h0m65 44h0m5-22h0m10-23h0m2 18h0m18-18h0m14 19h0m27 11h0m34 4h0m40-30h0m50 17h0m2 16h0m48-2h0m47-3h0m40-6h0m276 62h0m-82-22h0m-37 24h0m-173-29h0m-20 37h0m-14-20h0m-2-14h0m-3 32h0m-21-42h0m-2 31h0m-21-25h0m-43 28h0m-19-6h0m-19 26h0m-12-29h0m-23 12h0m-17-28h0m-12 36h0m-5-28h0m-20 9h0m-10 16h0m-25-38h0m-20 19h0m-19-13h0m-1 25h0m-15-30h0m-20 31h0m-17 16h0m-16-2h0m-11-18h0m-3-15h0m-12 16h0m-9-27h0m0 13h0m-38-8h0m-12 13h0m-24-1h0m-12-13h0m-9 42h0m-9-10h0m-62 4h0m-14-1h0m-19-22h0m-4 75h0m28-24h0m9-9h0m6 30h0m5 13h0m21-26h0m18 17h0m0-15h0m41-27h0m13 42h0m24-36h0m36 25h0m16-20h0m50 36h0m8-12h0m50-12h0m5 17h0m10-33h0m26 0h0m18 0h0m59 9h0m4 21h0m18-26h0m53-5h0m28 47h0m6-23h0m20-28h0m18 13h0m11 9h0m27-16h0m6 45h0m162-48h0m179 14h0m-122 58h0m-223 35h0m0-35h0m-33-6h0m-34 37h0m-14 3h0m-25-11h0m-22-11h0m-26 14h0m-15 12h0m-22-19h0m-9 20h0m-31-21h0m-55-24h0m-59 33h0m-51-18h0m-20-22h0m-38 16h0m-56 11h0m-12-8h0m-14 5h0m-45 24h0m-24-2h0m-18-30h0m-7 30h0m-10-34h0m-8 88h0m34-6h0m9-24h0m11 16h0m3-14h0m19-15h0m2 36h0m52-12h0m6-17h0m26 4h0m25 31h0m8-35h0m9 11h0m59 14h0m22-26h0m27 15h0m17 20h0m39 5h0m7-17h0m37-13h0m47 3h0m38 6h0m5 22h0m9-12h0m9-20h0m3 22h0m60 9h0m3-45h0m31 3h0m6 11h0m187 22h0m112 3h0m-112 35h0m-159-13h0m-9 45h0m-12-45h0m-11 19h0m-17 15h0m-34 22h0m-15-37h0m-28-12h0m-21 6h0m-6 24h0m-11-40h0m-57 9h0m-4 30h0m-27-15h0m-11 21h0m-17-6h0m-6-22h0m-17 21h0m-42-33h0m-23 15h0m-7 25h0m-15 3h0m-17 7h0m-29-30h0m-1-14h0m-3 47h0m-18-23h0m-57-18h0m-11 30h0m-46-28h0m-24 27h0m-8-33h0m-25 8h0m20 75h0m10-12h0m7 16h0m22 2h0m13-7h0m34 12h0m17-2h0m7-36h0m43 21h0m41-26h0m43 40h0m31-38h0m22 9h0m15-1h0m4 40h0m7-23h0m15 19h0m6-29h0m29-18h0m104 39h0m16-37h0m44 50h0m11-51h0m34 29h0m28 2h0m99-32h0m193 75h0m-133-3h0m-162 36h0m-23-40h0m-21 19h0m-30 18h0m-79 4h0m-38-18h0m-23 13h0m-32-15h0m-31-3h0m-25 5h0m-14-6h0m-2-15h0m-23 45h0m-47-11h0m-5-36h0m-11 41h0m-1-31h0m-12 34h0m-8-31h0m-54 6h0m-17 8h0m-10-24h0m-33 38h0m-7-16h0m-3-28h0m-15 1h0m-20-9h0m-41 63h0m11 35h0m15-20h0m30-16h0m25 6h0m24 3h0m11 22h0m1 17h0m53-3h0m29-21h0m30-19h0m7 38h0m88-42h0m12 15h0m34 22h0m49 10h0m27-49h0m14 15h0m9 16h0m9 11h0m6-43h0m8 48h0m10-39h0m20 34h0m1-36h0m8 12h0m30 12h0m26-16h0m28-9h0m30 6h0" stroke="#3B9B7B" stroke-width="24"/>
<path d="M1599 8510h0m-104 4h0m-26-4h0m-13 8h0m-75-22h0m-40-3h0m-33 5h0m-74 6h0m-46 71h0m6-55h0m18 30h0m15 3h0m14-30h0m60-2h0m25 29h0m14 17h0m27-18h0m10-20h0m36 8h0m8 14h0m8-28h0m52 20h0m83-7h0m27 54h0m-39-7h0m-14 20h0m-6 10h0m-7 25h0m-4-35h0m-14-6h0m-13 0h0m-21 11h0m-15 26h0m-25-31h0m-63-6h0m-15 37h0m-78-5h0m0-37h0m-10 20h0m-2 21h0m-23-45h0m-13 18h0m-40 12h0m34 79h0m12-5h0m4-39h0m13-6h0m3 35h0m10 6h0m9-40h0m7 12h0m30 27h0m5-43h0m4 23h0m22 25h0m9-31h0m8-14h0m11 3h0m21 0h0m1 48h0m24-22h0m12-16h0m14 8h0m13 1h0m12-5h0m110 26h0m25 55h0m-37-9h0m-71-31h0m-28 33h0m-20-16h0m-5 12h0m-5-23h0m-22 42h0m-2-31h0m-29 8h0m-14 10h0m-12-34h0m-11 28h0m-18-19h0m-6-11h0m-29 33h0m-4-12h0m-1-21h0m-5 51h0m-15-50h0m-14 25h0m-20 26h0m-36 1h0m-186-3h0m-38-6h0m-20 13h0m12 2h0m3 23h0m41 6h0m188 26h0m31-25h0m5 11h0m1-32h0m16-12h0m10 52h0m23-44h0m24 11h0m49-8h0m11 7h0m53 22h0m10-12h0m19 29h0m25-38h0m17-15h0m24 29h0m18 9h0m28-34h0m10 38h0m10-23h0m25 65h0m-13 19h0m-120 4h0m-16-17h0m-14 21h0m-22-6h0m-79-39h0m-3 39h0m-13-26h0m-7 21h0m0 13h0m-24-9h0m-13-15h0m0-28h0m-13 38h0m-16-21h0m-22-14h0m-18 40h0m-2-25h0m-21 26h0m3 11h0m18 12h0m25-2h0m12 8h0m4-12h0m3 50h0m7-38h0m2 19h0m25-7h0m1 15h0m12 4h0m26 0h0m11-24h0m21-16h0m3 39h0m12-42h0m14 9h0m2-15h0m2 44h0m28-2h0m10-15h0m1 23h0m72-39h0m90 28h0m15 55h0m-32 24h0m-2-41h0m-5 21h0m-59 8h0m-27-6h0m-3-12h0m-6-26h0m-19 15h0m-13 40h0m-7-39h0m-4 31h0m-38-14h0m-10 9h0m-41 8h0m-34-36h0m-1 20h0m-11-20h0m-21-2h0m-12 35h0m-15-17h0m-14 16h0m-7-35h0m-13 44h0m-12-37h0m-3 36h0m9 43h0m36 17h0m18-53h0m10 50h0m11-27h0m8-9h0m5 32h0m0-21h0m23 14h0m7-36h0m5 53h0m17-1h0m13-23h0m21 1h0m2-35h0m5 16h0m14 19h0m17-33h0m23 36h0m5-26h0m6 11h0m19 19h0m28 2h0m13-27h0m16 10h0m21-11h0m17 16h0m13-9h0m21 7h0m4 87h0m-26-58h0m-1 33h0m-38-32h0m-1 25h0m-11 4h0m-15 13h0m-12-19h0m-15-12h0m-4 32h0m-7-26h0m-36 32h0m-15-10h0m-5 18h0m-2-30h0m-11 5h0m-11 26h0m-34-49h0m-18 33h0m-20-3h0m-7-18h0m-12-3h0m-1 22h0m-11 9h0m0-33h0m-65-7h0m-282 97h0m22 6h0m5-18h0m22 19h0m32-39h0m162 25h0m30-10h0m17-17h0m5 38h0m77-26h0m28-15h0m30-6h0m13 42h0m18-28h0m11 15h0m13-29h0m0 53h0m27-18h0m21 18h0m5-53h0m5 35h0m11-15h0m37 0h0m0 24h0m11-18h0m30-25h0m6 52h0m10-40h0m8 37h0m4 18h0m-15 32h0m-3-18h0m-11-7h0m-33-1h0m-30 3h0m-32-2h0m-19 9h0m-5 23h0m-9-51h0m-10 52h0m-6-16h0m-9 16h0m-20 0h0m-15-25h0m-8 28h0m0-48h0m-3 13h0m-18-12h0m-34-4h0m-35 41h0m-6-22h0m-9 33h0m-15-41h0m-21 13h0m-51-4h0m-158 2h0m-87-2h0m264 40h0m17 36h0m32 3h0m19-3h0m1-28h0m42-12h0m5 44h0m43-35h0m68 1h0m0 40h0m10-16h0m2 13h0m14-12h0m11-17h0m5 15h0m16-19h0m21 29h0m73-29h0m1 14h0m11 13h0m7 11h0" stroke="#2E2F7F" stroke-width="24"/>
<path d="M2225 8503h0m-356 52h0m14 18h0m6-26h0m227 28h0m46-3h0m21-19h0m18-14h0m13-10h0m1026 40h0m1-40h0m57-3h0m-28 59h0m-350 29h0m0-21h0m-743 35h0m-9-42h0m-11 44h0m-9-41h0m-40 46h0m-19 0h0m-72-54h0m-8 24h0m-5 20h0m-12-30h0m-84 2h0m-29 21h0m-13 76h0m40-48h0m1 46h0m85-35h0m14-7h0m87 0h0m36 33h0m9 16h0m24-44h0m18 43h0m1046-20h0m110 27h0m-77 28h0m-29-9h0m-72 19h0m-21-22h0m-2 22h0m-21-17h0m-951 19h0m-24-30h0m-25-7h0m-26-8h0m-16 32h0m-12-29h0m-47 6h0m-8 45h0m-5-20h0m-96 19h0m-29-11h0m-4-21h0m63 75h0m74 3h0m6-23h0m80 41h0m1165 57h0m-61-40h0m-207 43h0m-20-22h0m-84 11h0m-16 5h0m-42 6h0m-815-6h0m-2-21h0m-1-18h0m-16 29h0m-1-24h0m-39 20h0m-31-3h0m-23-24h0m-31 28h0m13 31h0m26 33h0m9-38h0m78 9h0m11 12h0m6 22h0m18-38h0m71 17h0m222 23h0m25-15h0m19 15h0m270-6h0m13 16h0m26-29h0m16 2h0m17-2h0m13 23h0m3-38h0m16 34h0m15-19h0m1 27h0m11-6h0m23-27h0m16-3h0m26 10h0m20-23h0m13 0h0m13 5h0m29 18h0m2-24h0m37 13h0m36 0h0m287 36h0m59 16h0m-5 44h0m-59-4h0m-534-52h0m-31 12h0m-41 4h0m-16 7h0m0-12h0m-631 13h0m-18 32h0m0-36h0m-37-3h0m-56 28h0m-8-27h0m-23 32h0m-1 31h0m30 27h0m59-31h0m34 14h0m1-17h0m19 2h0m1181 19h0m3-26h0m62 34h0m77 45h0m-1230 27h0m-93-31h0m-8-22h0m-4 45h0m-5-20h0m-71 8h0m-38-25h0m-14 16h0m120 47h0m5 18h0m138 9h0m1088 14h0m1-52h0m56 38h0m45-2h0m-1327 35h0m-4 19h0m-3 16h0m-123-12h0m124 75h0m512-33h0m2-13h0m12-3h0m674 42h0m39 3h0m47-13h0m22-31h0" stroke="#E03A2C" stroke-width="24"/>
<path d="M2293 8692h0m54-3h0m11 10h0m8 53h0m-3-40h0m-12 39h0m-8-27h0m-1-14h0m-5 28h0m-26-19h0m-49 40h0m-4-45h0m-21 90h0m3-25h0m51 23h0m29-19h0m7-10h0m5-12h0m1 38h0m8 20h0m1-45h0m7 21h0m2 12h0m9 56h0m-3-29h0m-9 27h0m-24 5h0m-4-39h0m-4 16h0m-5 25h0m-21 6h0m-10-31h0m-55-14h0m-2 25h0m-23 37h0m57 13h0m20 23h0m12-23h0m11 12h0m4-17h0m12-16h0m15 20h0m28-7h0m-8 66h0m-11 26h0m-14-30h0m-5 20h0m-3 17h0m-12-13h0m-4 11h0m-8-43h0m-16 3h0m-4 30h0m-20 3h0m-16-41h0m-24 13h0m-30 28h0m0 48h0m6-25h0m57 27h0m8 16h0m3-24h0m7-27h0m11 20h0m13 17h0m12 13h0m20-15h0m21 22h0m-1 16h0m-4 33h0m-18-28h0m-10 33h0m-16-6h0m-4-42h0m-18 21h0m-2-25h0m-1 54h0m-18-36h0m0 31h0m-1-17h0m-3-29h0m-22 12h0m-23 2h0m-35 15h0m-4 46h0m30 0h0m26 23h0m23-8h0m13-26h0m7 31h0m17-5h0m10-26h0m6 18h0m13 1h0m5 30h0m26-36h0m6 41h0m-7 51h0m-2-17h0m-19-4h0m-22-14h0m-5 33h0m-4-19h0m-13-31h0m-7 26h0m-12-22h0m-13 40h0m-10-9h0m-30-13h0m-41-12h0m-7 83h0m16 17h0m15-43h0m46 3h0m13 20h0m15 3h0m9-27h0m2 17h0m18 3h0m16 12h0m5-32h0m30 6h0" stroke="#5EB4C2" stroke-width="24"/>
<path d="M2874 8496h0m-9 12h0m-38 10h0m-17-16h0m-10 14h0m-106-1h0m-13-9h0m-4 12h0m-13-16h0m-27-4h0m-23 9h0m-32 9h0m-56-22h0m-34 23h0m-6-16h0m-12 12h0m-9-8h0m-39-11h0m-51 19h0m19 59h0m0-43h0m2 23h0m16 21h0m40-47h0m29 34h0m9-24h0m15-6h0m6 16h0m3 12h0m19 0h0m6 15h0m39-36h0m10 30h0m29 6h0m9-38h0m28-15h0m32 12h0m5 41h0m2-30h0m35 22h0m22-20h0m14-6h0m7 24h0m7-25h0m6 32h0m8-30h0m48 25h0m14-19h0m10-12h0m13-6h0m4 23h0m6 14h0m-20 45h0m-3-26h0m-35 31h0m-1 17h0m-9-27h0m-26-12h0m-25-1h0m-21-3h0m-1 49h0m-10-19h0m-42-32h0m-8 41h0m-6-48h0m-13 18h0m-9 35h0m-8-37h0m-52 29h0m-23-6h0m-10-30h0m-22 16h0m-7 14h0m-18 3h0m-25-29h0m-14 34h0m-20-9h0m-15 14h0m-12-42h0m-37 47h0m-1-43h0m-24 20h0m-4 15h0m-9 48h0m7-12h0m5-16h0m17 18h0m3 25h0m1-38h0m29 4h0m14 7h0m1 28h0m16-51h0m6 48h0m48-11h0m8-13h0m4-23h0m21 21h0m17 9h0m10 22h0m40-20h0m24-27h0m32 36h0m2-29h0m3 41h0m18-18h0m5-16h0m23-20h0m25 47h0m3-13h0m47-36h0m0 58h0m7-46h0m33 13h0m5 12h0m7-18h0m6 32h0m26 1h0m14-24h0m-14 47h0m-41 30h0m-13-29h0m-8 24h0m-32-20h0m-2 35h0m-4-46h0m-22 25h0m-2-21h0m-41 17h0m-15 16h0m-29 3h0m-19-40h0m-7 25h0m-4-17h0m-26 22h0m0-32h0m-20 17h0m-13 13h0m-12-26h0m-10 46h0m-28-34h0m-14 0h0m-7 13h0m-32-5h0m-22 4h0m-24 21h0m-12-45h0m-13 26h0m-18-25h0m0 15h0m6 53h0m30 7h0m16-11h0m21 8h0m13-21h0m4 28h0m19 5h0m31 23h0m5-52h0m5 41h0m33-21h0m0 24h0m3-36h0m33-15h0m12 41h0m2-25h0m20 36h0m20-34h0m33-2h0m20-15h0m5 19h0m4 28h0m8-44h0m4 32h0m41 12h0m30 6h0m24-32h0m16-9h0m17 25h0m8-33h0m20 10h0m-5 79h0m-34-26h0m-38 14h0m-18 29h0m-2-19h0m-9-29h0m-15 31h0m-5-13h0m-31-2h0m-6 22h0m-4 17h0m-19-50h0m-27 41h0m-2-28h0m-24 3h0m-9 15h0m-7-26h0m-6 31h0m-7-40h0m-3 50h0m-18-6h0m-22-48h0m-5 45h0m-3-26h0m-35 26h0m-27-38h0m-1 15h0m-7 34h0m-4-29h0m-8 17h0m-19 0h0m0 15h0m-62-51h0m0 39h0m-13-21h0m-11 12h0m-11 24h0m7 19h0m10 38h0m6-20h0m7 18h0m49-50h0m50 12h0m1 26h0m12-9h0m4-32h0m17 13h0m0 15h0m10-7h0m12-19h0m27 14h0m4 35h0m16-32h0m24 17h0m7-32h0m26 15h0m112-19h0m93 59h0m-7 12h0m-2 38h0m-12-26h0m-8-11h0m-7 28h0m-12-42h0m-3 44h0m-28-39h0m-18 15h0m-15 9h0m-25-16h0m-23 12h0m-29 31h0m-8-27h0m-49 18h0m-4-26h0m-12 0h0m-9 9h0m-27 25h0m-1-28h0m-11-20h0m-13 49h0m-5-17h0m-17-5h0m-34 3h0m-13-3h0m-6 20h0m-28-38h0m-25 30h0m-23 7h0m-26-2h0m18 46h0m9-10h0m4 29h0m5-43h0m21-5h0m15 0h0m31 37h0m32-15h0m24 12h0m20 4h0m5-34h0m17 3h0m24 41h0m4-30h0m22 24h0m30-22h0m16 4h0m35-19h0m5 41h0m15-3h0m29-39h0m9 10h0m17-21h0m17 5h0m3 33h0m29 0h0m4 14h0m13-40h0m8 21h0m24-36h0m20 9h0m-9 52h0m-11 50h0m-7-15h0m-14-27h0m-18-1h0m-1 49h0m-1-33h0m-14 14h0m-14-4h0m-24 11h0m-10-13h0m-16 23h0m-17-45h0m-9 31h0m-12-30h0m-4 29h0m-19-21h0m-19-8h0m-59-6h0m-30 29h0m0 12h0m-5 12h0m-18-22h0m-46-12h0m-9 21h0m-19-40h0m-1 19h0m-18-22h0m-29 34h0m0 21h0m-35-23h0m-23-26h0m-10 7h0m-16 75h0m32 28h0m1-52h0m16 45h0m1-32h0m7 16h0m18-23h0m16 30h0m5-31h0m22 26h0m5-29h0m37 6h0m5 30h0m1-15h0m4-22h0m13 22h0m2-26h0m29 54h0m33-23h0m5-17h0m7 32h0m8-17h0m51 23h0m8-36h0m18 21h0m14-34h0m12 51h0m7-24h0m11-31h0m11 41h0m18 3h0m3-44h0m10 52h0m26-24h0m32-7h0m35 12h0m10 37h0m-17 41h0m-3-42h0m-17 35h0m-14 1h0m-4-32h0m-13-13h0m-7 14h0m-8 28h0m-13-10h0m-5 23h0m-20-18h0m-22-18h0m-11 35h0m-15 1h0m-2-30h0m-16 1h0m-9 8h0m-29-22h0m-16-13h0m-52 1h0m0 22h0m-4 34h0m-3-19h0m-13 17h0m-12-15h0m-1 14h0m-14-40h0m-3 21h0m-12 6h0m-17-35h0m-35-2h0m-6 30h0m-13-25h0m-18-8h0m-8 46h0m-13-36h0m-15 2h0m-14-5h0m-20 28h0m-1 15h0m-8-40h0m-4 35h0m-13-25h0m14 55h0m29-13h0m18 14h0m2 12h0m12-24h0m7 29h0m40 14h0m11-17h0m33 16h0m35-10h0m7-31h0m6 15h0m8 19h0m48-18h0m11-16h0m15 30h0m0 14h0m14-2h0m6-22h0m31 24h0m69-38h0m21 16h0m0-13h0m21 29h0m47-39h0m20 35h0m10-11h0" stroke="#3B9B7B" stroke-width="24"/>
<path d="M3158 8493h0m-84 8h0m-8 17h0m-12-1h0m-22-21h0m-15 14h0m-24 8h0m-29-13h0m-39 9h0m-24-15h0m-6 18h0m-31 45h0m2-12h0m49-20h0m7 16h0m18-13h0m19 15h0m11-25h0m41 12h0m7 12h0m7-13h0m11-7h0m27 38h0m16-9h0m7-29h0m24 30h0m13-11h0m32 2h0m14-26h0m9 52h0m7-37h0m121 19h0m8 47h0m-88 27h0m-39-34h0m-19 14h0m-15 23h0m-11-8h0m-37-40h0m-3 39h0m-28-11h0m0-21h0m-5 45h0m-8-35h0m-16-16h0m-12-6h0m-1 34h0m-3-23h0m-14 7h0m-28 18h0m-18 5h0m-9-13h0m-10-15h0m-30-13h0m-36 52h0m-2-51h0m45 112h0m12-44h0m0 46h0m15-55h0m4 38h0m7-14h0m20-10h0m25 14h0m1 19h0m16-46h0m13 38h0m6-34h0m14 0h0m4 46h0m22-10h0m5-21h0m8 19h0m6 13h0m6-42h0m26 47h0m1-30h0m20-8h0m0 17h0m7-34h0m144 49h0m36-22h0m-16 86h0m-36-24h0m-66 23h0m-43-13h0m-5-38h0m-8 16h0m-21-17h0m-47 48h0m-36-9h0m-5-17h0m-46-15h0m-12 1h0m-32 27h0m-20-29h0m-26 16h0m0-13h0m-7 35h0m-15-2h0m-21-29h0m-12 103h0m1-32h0m49 15h0m4-28h0m3 16h0m13 1h0m28 17h0m0-19h0m24 3h0m6 14h0m11-23h0m1 14h0m11-22h0m3 44h0m36-33h0m29 29h0m7-31h0m18 19h0m8-10h0m22 15h0m3-15h0m6-31h0m9 57h0m12-6h0m12-16h0m5-29h0m157 106h0m-31-52h0m-24 39h0m-109 5h0m-30-7h0m-19 11h0m-19-41h0m-27 15h0m-43-5h0m-39 39h0m-5-22h0m-8-14h0m-3-19h0m-15-1h0m-13 7h0m-24 0h0m-20-6h0m-6 113h0m5-17h0m22 18h0m23-13h0m2-13h0m48 24h0m9-14h0m26-24h0m5 26h0m23-13h0m9 26h0m19-31h0m2 28h0m9-43h0m12 20h0m33-14h0m34 14h0m44 0h0m-50 65h0m-32-6h0m-11-20h0m-2 44h0m-3-17h0m-13-18h0m-7 10h0m-40 13h0m-12-32h0m-10 17h0m-33-21h0m-7 48h0m-21 0h0m-13-41h0m-5 13h0m-9 11h0m-6 22h0m-7-45h0m-27 16h0m-14-6h0m-15 15h0m-7-21h0m-9 14h0m-1-23h0m-14 1h0m-8 19h0m2 56h0m3 13h0m25 3h0m3-13h0m12 21h0m13 10h0m14-9h0m19-27h0m2 25h0m12-15h0m8-12h0m68 12h0m3-19h0m0 36h0m18-29h0m20-19h0m15 51h0m5-17h0m47-31h0m33 21h0m24 47h0m-33-6h0m-2 18h0m-1 28h0m-13-43h0m-1 23h0m-15 1h0m-17-23h0m-11 45h0m-12 1h0m-8-18h0m-1-19h0m-22-16h0m-5 38h0m-1-12h0m-10 20h0m-26-13h0m-15 10h0m-10-13h0m-14-2h0m-12 29h0m-5-11h0m-23-16h0m-7 19h0m-48 7h0m-5-27h0m-2-29h0m-20 34h0m-218-5h0m-19 18h0m-14-13h0m-4 15h0m276 24h0m8 24h0m5-26h0m30 25h0m11-31h0m12 29h0m8-34h0m1 50h0m19-20h0m17 1h0m5-27h0m38 21h0m12-1h0m24 26h0m1-13h0m48 15h0m7-48h0m10 12h0m26 17h0m1 16h0m16-47h0m167 0h0m-5 87h0m-21 22h0m-49-43h0m-64 18h0m-26-21h0m-15 52h0m-11-43h0m-10 24h0m-1-20h0m-38 16h0m-6-23h0m-25 3h0m-3 42h0m-23 1h0m-8-44h0m-6 21h0m-13-33h0m-4 56h0m-10-15h0m-7-12h0m-7 12h0m-41 12h0m-1-24h0m-11 10h0m-32 2h0m-13-35h0m-7 21h0m-16 16h0m-185 42h0m31-16h0m134 0h0m22 33h0m10-19h0m8-10h0m2 34h0m14-27h0m23-9h0m46 27h0m15-30h0m30 31h0m19-18h0m85 7h0m13 15h0m11-39h0m27 5h0m148 37h0" stroke="#2E2F7F" stroke-width="24"/>
<path d="M4792 8502h0m-1183 0h0m2 30h0m375 20h0m912-21h0m71 67h0m-47-2h0m-82 21h0m-658-36h0m56 98h0m450 19h0m268-26h0m128 51h0m-567 23h0m-815 6h0m-79 25h0m10 27h0m13-44h0m52 38h0m1032 35h0m-854 23h0m-171 1h0m-1 22h0m-16-50h0m-27 15h0m-46-7h0m-9 52h0m29-5h0m36 40h0m16-23h0m583 5h0m374 56h0m-950-12h0m-15 44h0m-28 3h0m-22-6h0m-15 14h0m38 18h0m17 28h0m5-20h0m487 20h0m-464 33h0m-4-23h0m-42 11h0m-33 2h0m-4 29h0m-3 69h0m3-41h0m52-4h0m1254 83h0m-26 1h0m-998 28h0m-211-43h0m-52 19h0m-8 20h0m10 20h0m376-2h0m75 13h0m29-1h0" stroke="#E03A2C" stroke-width="24"/>
<path d="M3811 8500h0m-48 11h0m-45-7h0m-18-2h0m-13 18h0m2 25h0m38-21h0m15 18h0m4-13h0m11 19h0m2 20h0m12 9h0m15-13h0m22-22h0m18 15h0m16-4h0m8-21h0m5 37h0m27-9h0m1 55h0m-23-17h0m-5 34h0m0-49h0m-36 50h0m-64-33h0m-25 5h0m-12-17h0m-31 46h0m2 18h0m23 35h0m6-17h0m15-19h0m10 43h0m2-13h0m28-8h0m1 24h0m52-6h0m10-38h0m7 38h0m15-40h0m10 25h0m21 1h0m11 13h0m1-22h0m11 61h0m-8-11h0m-82 32h0m-14-26h0m-10-19h0m-7 34h0m-36-6h0m-17-4h0m-21 22h0m-1-49h0m48 65h0m4 12h0m5 32h0m15-39h0m9 13h0m4 17h0m14 8h0m3-39h0m11 31h0m2-41h0m14 39h0m16-10h0m21 6h0m3-22h0m19 45h0m5-44h0m7 12h0m9 46h0m-1 44h0m-13-31h0m-22 6h0m-3 18h0m-20-40h0m-23 20h0m-36 17h0m-18-36h0m-4 22h0m-9-22h0m-19 1h0m-16 21h0m23 72h0m5 14h0m17-20h0m4-21h0m57-10h0m10 12h0m9-19h0m13 28h0m15 14h0m13-24h0m18-5h0m6 44h0m-6 25h0m-10 30h0m-10-39h0m-36-13h0m-65 24h0m-15 3h0m-14 21h0m-6-26h0m7 46h0m17-5h0m21 51h0m2-29h0m14-7h0m1 36h0m41-38h0m15-7h0m8 22h0m13-20h0m4 22h0m30-29h0m2 52h0m-21 16h0m-7 35h0m-25-21h0m-27 25h0m-4-49h0m-9 38h0m-40-29h0m-12 73h0m9 29h0m30-25h0m7-22h0m4 28h0m20 15h0m21 5h0m5-39h0m57 9h0m-8 94h0m-3-26h0m-7-21h0m-29 32h0m-10-13h0m-16-30h0m-17 30h0m-6 15h0m-9-36h0m-11 20h0m-12 27h0m-1-48h0m10 72h0m17 28h0m14-19h0m14-4h0m2 25h0m17-31h0m6 18h0m12-30h0m14-2h0m3 24h0m4-13h0m18 26h0m2-34h0" stroke="#5EB4C2" stroke-width="24"/>
<path d="M5025 8508h0m-54-7h0m-207 11h0m-432-7h0m-37-5h0m-13 10h0m-33-3h0m-53 9h0m-32-14h0m-19 5h0m-78-15h0m-30 1h0m-55 3h0m-83 10h0m-23-1h0m10 41h0m0 31h0m44-42h0m16 14h0m17 0h0m8 23h0m46-25h0m29-2h0m9 23h0m27 3h0m19-34h0m44-13h0m9 43h0m12 10h0m10-28h0m3-23h0m33 2h0m23 7h0m13 43h0m13-51h0m39 11h0m2 37h0m13-23h0m19 10h0m8-34h0m39 10h0m10 15h0m44-10h0m12 29h0m11-20h0m273 4h0m27 9h0m26 2h0m53-44h0m14 54h0m4-51h0m33 15h0m32 25h0m12 10h0m50-56h0m37 48h0m21-3h0m1-29h0m9 39h0m45 38h0m-4-27h0m-65 25h0m-15 21h0m-10-7h0m-114-28h0m-8 23h0m-47 19h0m-63-44h0m-331-12h0m-1 52h0m-12-40h0m-1 42h0m-23-57h0m-23 48h0m-4-47h0m-12 55h0m-2-38h0m-13 14h0m-43-1h0m-39-26h0m-44 2h0m-6 10h0m-47 10h0m-12 6h0m-25 15h0m-7-48h0m-14 4h0m0 52h0m-39-32h0m-9 29h0m-21-24h0m-18-21h0m-73 8h0m-10-11h0m-10 54h0m-4-49h0m-3 16h0m-25 7h0m12 31h0m37 50h0m3-27h0m17 18h0m6-30h0m13 23h0m12 2h0m1-27h0m14 38h0m11-21h0m37-4h0m29-12h0m25 29h0m12 8h0m4-45h0m9 13h0m21-13h0m10 20h0m17-15h0m6 46h0m11-48h0m6 29h0m32 16h0m8-16h0m0-36h0m40 54h0m16-32h0m0 23h0m14 10h0m18-25h0m28-3h0m72-19h0m16 38h0m5-21h0m20 13h0m361-27h0m30 42h0m12-10h0m23 4h0m5-25h0m53-15h0m52 22h0m55-18h0m12-13h0m13 86h0m-43-18h0m-5 26h0m-18 13h0m-26-17h0m-12-6h0m-7 10h0m-18 15h0m-46-12h0m-40-23h0m-418-2h0m-7 34h0m-15-6h0m-12-8h0m-25 23h0m-28-12h0m-87-34h0m-3 41h0m-10-43h0m-24 29h0m-13-9h0m-8 11h0m-2-38h0m-34 27h0m-7-14h0m-8 38h0m-2-48h0m-22 11h0m-18 39h0m-15-50h0m-10 11h0m-13 2h0m-15 1h0m-34 23h0m-12-37h0m-16 44h0m-24-46h0m-23 15h0m-33 8h0m-19 49h0m17 23h0m53 14h0m1-45h0m3 32h0m17 12h0m19-25h0m19 12h0m13-16h0m22 38h0m30-23h0m9-25h0m21 49h0m39-53h0m23 22h0m10 22h0m37-1h0m10-9h0m22-24h0m35 9h0m59 23h0m29 1h0m13-15h0m24-10h0m0 12h0m28-23h0m15-12h0m489 40h0m26-16h0m24 24h0m15-2h0m18-10h0m12-11h0m5 38h0m-31 12h0m-22-11h0m-20 25h0m-489 16h0m0 13h0m-19-27h0m-10 27h0m-5-46h0m-33 27h0m-30 1h0m-49-3h0m-21 1h0m-36-24h0m-21 36h0m-17-3h0m-26-22h0m-4-14h0m-10-6h0m-22 6h0m-17 11h0m-11 27h0m-38-35h0m-28 37h0m-21-10h0m-2-22h0m-22 28h0m-16-36h0m-7 34h0m-25-20h0m-1 19h0m-12-19h0m-52-1h0m-11 29h0m-7-28h0m-2 89h0m9-36h0m24-11h0m31 24h0m23-5h0m18 31h0m6-37h0m7-17h0m22 24h0m8-17h0m28 22h0m23 10h0m47-22h0m3-15h0m2 51h0m24-7h0m5-35h0m13 33h0m13-42h0m61 48h0m18-40h0m19 3h0m40 22h0m9-17h0m10 22h0m17 7h0m34 0h0m48 8h0m3-22h0m572 2h0m7-12h0m-19 39h0m-13 44h0m-34-41h0m-512 5h0m-65 23h0m-12-23h0m-14 18h0m0 27h0m-26-28h0m-1-19h0m-32 33h0m-15-29h0m-14 39h0m-9-36h0m-9 9h0m-48-23h0m-55 12h0m-1-12h0m-4 36h0m-7-10h0m-34 5h0m-87-24h0m-32 37h0m-11-13h0m-25-34h0m-31 11h0m-38 17h0m18 55h0m8 15h0m20-37h0m8 48h0m12 7h0m10-34h0m19 13h0m36 7h0m3-36h0m18-4h0m25 55h0m2-37h0m21 9h0m21-27h0m16 36h0m17-26h0m9 9h0m5 28h0m49-11h0m24-4h0m2-12h0m0 27h0m28-22h0m43 10h0m32 15h0m100-44h0m3 29h0m20 0h0m20-3h0m529 18h0m-531 42h0m-19 12h0m-18-13h0m-20 2h0m-14-5h0m-26-16h0m-13 5h0m-5-13h0m-40 39h0m-14-44h0m-18 38h0m-3-15h0m-12 15h0m-10-35h0m-43 16h0m-12 27h0m-37-45h0m-24 23h0m-17-1h0m-7-14h0m-9 20h0m-19 8h0m-19-5h0m-36-21h0m-9 18h0m-13-18h0m-16 40h0m-9-38h0m-8 22h0m-35 1h0m-11-30h0m-16 42h0m-1-33h0m-25 22h0m22 79h0m5-12h0m20-23h0m8 28h0m8-23h0m14 23h0m30-41h0m4 43h0m43-31h0m15-2h0m22 7h0m2 13h0m12-9h0m7-20h0m26 0h0m6 20h0m26-27h0m1 46h0m17-37h0m29 6h0m45 26h0m11 12h0m27-45h0m5 15h0m1 13h0m64-29h0m3 14h0m41-10h0m26 37h0m3-44h0m10 19h0m16-19h0m18 85h0m-5-29h0m-28 45h0m-12-9h0m-22-34h0m-7 32h0m-38-32h0m-13 39h0m-15-3h0m-2-38h0m-4 16h0m-39-18h0m-24 16h0m-71-18h0m-5 52h0m-53-8h0m-33-26h0m-40 12h0m-19 27h0m-16-33h0m-9-17h0m-21 38h0m-19 5h0m-51-6h0m-18-28h0m5 90h0m42-2h0m5-42h0m0 31h0m11 14h0m17-3h0m29-36h0m17 42h0m33-11h0m29 9h0m70-29h0m0 27h0m26-5h0m3-33h0m31 13h0m42-2h0m5 15h0m14-4h0m25 3h0m26 9h0m17-10h0m3-25h0m27 33h0m21-35h0m64 2h0" stroke="#3B9B7B" stroke-width="24"/>
<path d="M4919 8494h0m-52 10h0m-162-3h0m-80 12h0m-57-10h0m-15-9h0m-19 17h0m-27-14h0m-18 45h0m4 12h0m23-25h0m36 29h0m32-29h0m20-5h0m29 31h0m21-24h0m19 17h0m16 10h0m2-37h0m4 23h0m37 24h0m222 11h0m69-30h0m-38 76h0m-230-9h0m-23-28h0m-7 13h0m-31 38h0m-17-36h0m-8 34h0m-30-37h0m-21-19h0m-11 40h0m-29 0h0m-12-4h0m-3 18h0m-7-44h0m-11-9h0m-1 32h0m-13-19h0m-11 37h0m-15-7h0m-4-44h0m-27 39h0m-3-34h0m20 78h0m8 25h0m17 10h0m15-30h0m7 26h0m14-44h0m18 21h0m10 25h0m11-57h0m19 3h0m47 19h0m79-11h0m5 26h0m1-16h0m32-21h0m300 95h0m-48-30h0m-81 19h0m0 12h0m-64-7h0m-19 19h0m-7-29h0m-31-3h0m-13 27h0m-17-15h0m-1 28h0m-21-20h0m-3 13h0m-29-22h0m-1 13h0m-22 19h0m-55-55h0m-8 48h0m-16-6h0m-17-19h0m-25 25h0m-8-32h0m-4 12h0m-4 12h0m-12-14h0m-8-21h0m-12 20h0m-23 27h0m-4-43h0m-10 97h0m50-40h0m6 45h0m9-45h0m11 26h0m59 21h0m23-22h0m13 22h0m41-37h0m2-12h0m16 48h0m18-45h0m5 41h0m14-8h0m2-18h0m26 2h0m13 26h0m8-49h0m9 39h0m28 2h0m19-14h0m55-12h0m86-1h0m46 31h0m7 31h0m-6 25h0m-95-4h0m-40 11h0m-10-36h0m-11 38h0m-137-45h0m-13 11h0m0 20h0m-10-7h0m-7 23h0m-22-31h0m-23 28h0m-28-4h0m-12-42h0m-12 33h0m-10 18h0m-20-58h0m-31 45h0m-37-38h0m-5 36h0m-16-3h0m-6-11h0m-6-11h0m5 84h0m22-2h0m37-27h0m32-4h0m1 49h0m10-10h0m12-17h0m13-7h0m3 29h0m24-47h0m23 51h0m10-55h0m9 35h0m6-32h0m28 5h0m4 24h0m18-16h0m8-9h0m10 30h0m30-13h0m16 12h0m7 17h0m32-39h0m16 40h0m1-22h0m31-1h0m29 15h0m22-37h0m10 40h0m12-28h0m3-19h0m73 11h0m-34 67h0m-4 22h0m-20 3h0m-22-17h0m-24 14h0m-3-18h0m-9 16h0m-22-23h0m-20 7h0m-10 31h0m-2-42h0m-8 10h0m-82 27h0m-3-29h0m-3-20h0m-17 5h0m-2 47h0m-12-40h0m-13 9h0m-15 20h0m-8 12h0m-1-33h0m-20 20h0m-16-22h0m-20-21h0m-5 50h0m-47-6h0m0-11h0m-26 18h0m-3-43h0m-42 10h0m-16-17h0m0 45h0m-15-45h0m1 77h0m76 40h0m6-33h0m11 26h0m0-38h0m42-13h0m12 15h0m0 30h0m36-44h0m9 16h0m47 14h0m19-15h0m11 19h0m10 21h0m18-20h0m8-33h0m17 12h0m3 11h0m2 32h0m6-17h0m59-5h0m29 10h0m3-28h0m28 7h0m10 13h0m16-19h0m6 19h0m23-26h0m53 57h0m-24 16h0m-9 15h0m0 18h0m-16-53h0m-6 29h0m-38 8h0m-57-39h0m-43 33h0m-20-32h0m-1 39h0m-15 13h0m-5-46h0m0 19h0m-75 22h0m-53-25h0m-19 9h0m-26 14h0m-38-8h0m-12-42h0m-17 24h0m-4 34h0m-3-45h0m-12 21h0m-2 13h0m-21-22h0m-21-19h0m-5 48h0m-8-31h0m-1 19h0m-12-34h0m14 90h0m49-5h0m34 15h0m32-44h0m1 36h0m10 11h0m9-51h0m5 20h0m26 19h0m4-19h0m19-11h0m8 16h0m7-9h0m35 5h0m18-21h0m3 28h0m20-17h0m18 16h0m27-14h0m8 15h0m7-20h0m28 3h0m23 44h0m4-37h0m11 15h0m1 20h0m30-49h0m1 12h0m9 31h0m11-16h0m36 21h0m12-12h0m12-24h0m5 27h0m4 11h0m26-24h0m-6 44h0m-11-6h0m-3 31h0m-23 9h0m-7-48h0m-11 7h0m-16-1h0m-5 24h0m-41-7h0m-60-4h0m-22 34h0m-1-53h0m-6 19h0m-6 16h0m-10-14h0m-3 34h0m-23-34h0m-3-15h0m-22 28h0m-37 21h0m-5-21h0m-22-15h0m-10 33h0m-34-34h0m-15-8h0m-7 17h0m-3 19h0m-10-12h0m-30-12h0m-10-8h0m-21 14h0m-9-19h0m-18-1h0m-35 80h0m20 22h0m40-28h0m19 30h0m13-35h0m5-15h0m33 0h0m6 29h0m9-28h0m20 22h0m12 16h0m3-15h0m29-1h0m22-15h0m1 41h0m8-24h0m25-21h0m1 26h0m17 6h0m2-26h0m12 35h0m16 2h0m16-36h0m15 18h0m44 6h0m13-8h0m3 17h0m12-34h0m1 15h0m23-26h0m10 26h0m31-26h0m0 49h0m32-24h0m30-4h0" stroke="#2E2F7F" stroke-width="24"/>
<path d="M160 9896h0m25-28h0m39 3h0m34-5h0m31-1h0m1270 25h0m40-7h0m7 52h0m-42-26h0m-1267 16h0m-51 5h0m-46 8h0m-16-28h0m-7 33h0m-7 55h0m19-32h0m53 16h0m27 17h0m36 14h0m66-44h0m3 21h0m17-1h0m8 23h0m1108-42h0m14 6h0m17 0h0m33 0h0m19 5h0m1-18h0m-1290 73h0m-11 40h0m-36-8h0m-27-27h0m-29 16h0m-22-27h0m-8 29h0m-17 22h0m57 37h0m1374 38h0m-1327 14h0m-103-5h0m-4 32h0m-16-47h0m-6 17h0m-11 21h0m11 55h0m5-19h0m17 18h0m1420 14h0m26-16h0m1 52h0m-11-31h0m-35 33h0m-1407 3h0m-13-20h0m-4 27h0m-3-42h0m13 73h0m11 44h0m2-56h0m3 24h0m120 86h0m-39-8h0m-83-6h0m-16 17h0m-15-44h0m8 100h0m7-36h0m9 43h0m10-47h0m4 21h0m7-20h0m6 11h0m2 11h0m3 11h0m70 11h0m54-56h0m37 30h0m15 88h0m-10-42h0m-5 31h0m-4-39h0m-1 20h0m-6 13h0m-13 13h0m-4-13h0m-23-6h0m-96 14h0m-4-25h0m-2-24h0m-2 13h0m-7 31h0m-4-20h0m-2-21h0m-8 10h0m-5 17h0m-2 19h0m-1-40h0m-5 29h0m-7 12h0m-4-33h0m-2-10h0m-9 22h0m0 56h0m9 21h0m5 11h0m9-51h0m0 14h0m3 12h0m8 25h0m4-57h0m2 21h0m6 17h0m2 19h0m3-9h0m2-20h0m15-14h0m49-15h0m10 27h0m1070 26h0m5 44h0m-1158 3h0m-8-23h0m-13 15h0m0-26h0m0 36h0m-13-29h0m-10 9h0" stroke="#E03A2C" stroke-width="24"/>
<path d="M363 9887h0m16 2h0m14 6h0m95-16h0m9 12h0m38-2h0m51 2h0m12 4h0m-49 19h0m-2 21h0m-14 9h0m-5-34h0m-8 23h0m0 26h0m-26-44h0m-6 36h0m-14-37h0m-44 18h0m-1 26h0m-30-12h0m-11-38h0m-6 30h0m-24 5h0m65 51h0m18-25h0m8 44h0m31-4h0m31-23h0m0 13h0m46 80h0m-16-11h0m-13-20h0m-6 27h0m-31 1h0m-9-44h0m-9 21h0m-19 16h0m-9-16h0m-22-28h0m-2 43h0m-41-25h0m-17 17h0m-3-33h0m-7 102h0m10-19h0m3-17h0m35-6h0m17 22h0m30 6h0m17-4h0m39-21h0m18 8h0m31 26h0m14-4h0m31 66h0m-9-26h0m-80 6h0m-8-11h0m-16 32h0m-37-22h0m-18-9h0m-17-10h0m-8 33h0m-19 7h0m-1-12h0m-10-10h0m-14 29h0m-8-27h0m-2 14h0m24 57h0m47 2h0m8-38h0m12 7h0m21 4h0m22-7h0m11 49h0m1-46h0m32 38h0m29-27h0m19 22h0m14 1h0m11 62h0m-5-13h0m-15-21h0m-28 24h0m-46 15h0m-8-35h0m-59 41h0m-2-35h0m-45 9h0m-10-10h0m-8 63h0m33 13h0m2-15h0m29 25h0m19-4h0m37-22h0m19 2h0m29-12h0m10 34h0m7-30h0m18 30h0m14 26h0m-3 14h0m-11-16h0m-9 24h0m-34 6h0m-14-2h0m-5 21h0m-34-27h0m-19 24h0m-4-51h0m-15 55h0m-17 0h0m-66-12h0m12 21h0m6 27h0m16-19h0m35 24h0m3-12h0m17-9h0m54 10h0m26 1h0m2-17h0m25 3h0m25-8h0m8 33h0m4 54h0m-1 20h0m-6-36h0m-10 12h0m-52 1h0m-7 15h0m-23 1h0m-6-16h0m-12-21h0m-25-6h0m-3 18h0m-20 5h0m-2 24h0m-17-29h0m-47 93h0m37-29h0m13-16h0m6 39h0m7-19h0m1-15h0m17 42h0m23-19h0m7-13h0m13-17h0m15 35h0m14-20h0m36 34h0m26 15h0m-15 20h0m-40-24h0m-4 16h0m-31 2h0m-91-7h0m-46 7h0" stroke="#5EB4C2" stroke-width="24"/>
<path d="M1194 9893h0m40-16h0m7 19h0m12-1h0m48-1h0m7-23h0m33-5h0m40 3h0m48 27h0m5-29h0m22 24h0m13-8h0m26 4h0m57 69h0m-71-40h0m-60 8h0m-8-14h0m-36-8h0m-10 20h0m-27 18h0m-14-17h0m-62 18h0m-37-15h0m-15-3h0m-24 25h0m1 43h0m40-12h0m13-18h0m23 45h0m2-21h0m10 17h0m0-37h0m39 52h0m39-10h0m15-37h0m63 6h0m25 31h0m15-26h0m21-11h0m31 41h0m7-25h0m37 33h0m19-1h0m4-12h0m-15 57h0m-63-42h0m-1 37h0m-19 20h0m-27-41h0m-12 5h0m-13-1h0m-14-8h0m-12 16h0m-24 22h0m-1-48h0m-21 0h0m-11-3h0m-2 59h0m-6-45h0m-7-13h0m-2 44h0m-20 12h0m-2-37h0m-9 20h0m-23 17h0m-7-44h0m-7-12h0m-6 57h0m-3-17h0m-10-6h0m-3-35h0m-13 6h0m-4 39h0m-12 5h0m-32-1h0m7 61h0m36-1h0m17 4h0m3-30h0m29 25h0m6-30h0m4 12h0m35-22h0m18 19h0m23 6h0m14-10h0m29-8h0m2 31h0m22-42h0m5 23h0m5-12h0m20 16h0m26 26h0m24-49h0m46 7h0m3 14h0m37 9h0m1 42h0m-31 19h0m-10-38h0m-23 14h0m-5 20h0m-1 20h0m-17-29h0m-13-20h0m-28 6h0m-25 38h0m-19-29h0m-10 12h0m-53-22h0m-11-7h0m-49 8h0m-13 39h0m-11-50h0m-1 57h0m-22-13h0m-26-40h0m-1 32h0m-5-11h0m-31 25h0m-7 51h0m3 11h0m18-37h0m2 25h0m18-40h0m21 58h0m1-44h0m16 21h0m13-10h0m13 15h0m24-4h0m0 13h0m7-34h0m13 26h0m3-39h0m7 55h0m11-26h0m15 27h0m16-6h0m6-45h0m10 19h0m14 15h0m22 6h0m14-21h0m16 17h0m6-14h0m29 3h0m15-19h0m83 7h0m-78 51h0m-24-8h0m-3 22h0m-26 29h0m-43-12h0m-1-23h0m-10 15h0m-28 2h0m-4-29h0m-26 33h0m-3-39h0m-21 16h0m-11 24h0m-26 0h0m-12-4h0m-1-15h0m-25 7h0m-2-19h0m-7 38h0m-7-38h0m-12-8h0m-25 2h0m-11 104h0m3-36h0m12 37h0m13-44h0m7 35h0m14-16h0m14 31h0m1-14h0m12-35h0m21 2h0m11 20h0m1-20h0m18 50h0m16-14h0m41-8h0m1 17h0m9-26h0m12-18h0m15 46h0m11-14h0m4-31h0m7 39h0m13-40h0m25 11h0m3 12h0m27 6h0m59-8h0m5-21h0m2 41h0m32-24h0m-6 57h0m-21-7h0m-1 36h0m-12-27h0m-17-16h0m-10 44h0m-11-33h0m-16-10h0m-13 27h0m-28-2h0m-17-2h0m-2-17h0m-6-11h0m-5 26h0m-40-3h0m-14-19h0m-7 19h0m-21-1h0m-13 23h0m-4-20h0m-13 21h0m-12-17h0m-23 7h0m0-21h0m-5-11h0m-8 9h0m-11 27h0m-28 3h0m-36-17h0m20 31h0m50 53h0m15-13h0m0-33h0m11 24h0m1-22h0m12 3h0m7 18h0m20 3h0m0-27h0m18-6h0m14 54h0m20-5h0m11-26h0m11-5h0m2 30h0m5-18h0m6 24h0m9-14h0m36-32h0m7 26h0m1 20h0m3-52h0m15 12h0m12 19h0m15-13h0m11-4h0m38 39h0m1-32h0m27 25h0m-4 56h0m-8-37h0m-10 40h0m-36-27h0m-11-6h0m0 24h0m-37-24h0m-11 15h0m-10 18h0m-21-18h0m-9 21h0m-18-3h0m-13-24h0m-11-15h0m-18 28h0m-43-36h0m-20 54h0m-8-39h0m-77 26h0m-5-38h0m-17 17h0m-30 10h0m0 44h0m19 40h0m32-36h0m21-13h0m15 41h0m9-33h0m6 22h0m47-30h0m22-7h0m18 12h0m3 35h0m0-48h0m8 20h0m15 25h0m20 0h0m9-16h0m6 16h0m19-1h0m5-23h0m8-10h0m11 1h0m32 2h0m30-3h0m33 1h0m11 7h0m3 18h0m15-32h0m0 100h0m-7-11h0m-11-13h0m-1-14h0m-73 29h0m-21-29h0m-16 19h0m-5-15h0m-11 17h0m-14 12h0m-2-13h0m-10-24h0m0 40h0m-68-41h0m-90 3h0m-1 28h0m-19 3h0m-32-3h0" stroke="#3B9B7B" stroke-width="24"/>
<path d="M617 9873h0m46-8h0m2 26h0m42 8h0m37-21h0m12 12h0m21-17h0m50 23h0m27-28h0m17 24h0m192-8h0m1-12h0m29 21h0m41-12h0m69 66h0m-15-42h0m-51-3h0m-3 52h0m-14-10h0m-52-11h0m-13 19h0m-9-11h0m-13-34h0m-22 9h0m-25 4h0m-7 27h0m-4-17h0m-13 11h0m-2-29h0m-3 47h0m-10-10h0m-27-27h0m-15 29h0m-7-41h0m-14 32h0m-19-5h0m-5 12h0m-11-44h0m-3 43h0m-8-16h0m-14-8h0m-15 14h0m-10-20h0m-23 20h0m-19-14h0m-21 24h0m-6-36h0m-5 24h0m-8-19h0m-12 11h0m-7-11h0m-40 0h0m-5 31h0m-9-35h0m-13 26h0m-32-29h0m-5 39h0m0 36h0m28-10h0m18-14h0m53 11h0m22 0h0m8 17h0m32-8h0m1 19h0m27-16h0m11 10h0m12-19h0m37 29h0m9-20h0m2 29h0m17-13h0m11 7h0m10-31h0m17 11h0m9 32h0m102-23h0m40-33h0m10 21h0m95 11h0m8-23h0m22 46h0m-6 22h0m-17 36h0m-15-46h0m-1 24h0m-56 2h0m-46 22h0m-54-23h0m-1-14h0m-28 28h0m-3-20h0m-28 9h0m-15 17h0m-46-5h0m-10-39h0m-19 29h0m-40 12h0m-27-20h0m-14 8h0m-6-12h0m-11 14h0m-18-30h0m-18 16h0m-63-27h0m-9 8h0m-37 17h0m-6-24h0m-10 82h0m5-20h0m16 7h0m29 18h0m21-7h0m16 37h0m14-33h0m27 33h0m23-25h0m2 13h0m9-34h0m9 22h0m35-13h0m18 8h0m51-22h0m1 15h0m30 17h0m17-36h0m20 23h0m20 27h0m12 2h0m8-15h0m3-21h0m17-7h0m18 34h0m26-22h0m10-13h0m15 40h0m5-21h0m4-25h0m20 15h0m25 21h0m87 46h0m-40 6h0m-36 22h0m-11-19h0m-48 2h0m-2-16h0m-50-17h0m-7 19h0m-33 11h0m-8-17h0m-26 13h0m-27-11h0m-14-19h0m-18 18h0m-2-18h0m-10 23h0m-5 22h0m-65-44h0m-9 49h0m-8-13h0m-16-8h0m-25-23h0m-52 28h0m-14-21h0m-39-8h0m-36-5h0m50 96h0m9 10h0m9-42h0m11 47h0m1-34h0m24 1h0m12-13h0m0 52h0m38-57h0m0 13h0m9 26h0m0-12h0m12-16h0m3 15h0m11 18h0m16 2h0m17-16h0m20-31h0m15 30h0m1-25h0m19 13h0m20-19h0m25 38h0m10-16h0m20-9h0m5 28h0m12-36h0m17 28h0m23-12h0m12 29h0m19-26h0m19 6h0m10 29h0m33-57h0m21 25h0m0 28h0m23-17h0m3-32h0m2 14h0m14 20h0m20-37h0m0 103h0m-6-45h0m-27 16h0m-11-9h0m-38 15h0m-6 23h0m-81-42h0m-18 26h0m-4-21h0m-59-9h0m-18 0h0m-26 0h0m-10 33h0m-5-17h0m-50 12h0m-8 12h0m-50-36h0m-3 53h0m-13-33h0m-60 11h0m-54 0h0m0-15h0m-18-2h0m-32-17h0m12 104h0m9 9h0m5-19h0m31-14h0m14-5h0m12 8h0m52 11h0m4-22h0m58 6h0m51 18h0m52 19h0m7-52h0m55 24h0m31 21h0m9-20h0m22 19h0m15-12h0m26-14h0m22 11h0m25 11h0m14-3h0m5 14h0m29-51h0m2 54h0m31-13h0m0-35h0m3 106h0m-21 0h0m-7-47h0m-40 31h0m-60-9h0m-3-22h0m-9 20h0m-9 12h0m-5-22h0m-10 34h0m-28-40h0m-47-3h0m-12 1h0m-14-5h0m-11 17h0m-7 17h0m-39-5h0m-17-20h0m-6 43h0m-21-58h0m-22 26h0m-59-14h0m-9-11h0m-8 35h0m-25-31h0m-26-4h0m-6 17h0m-52 12h0m1 42h0m46 28h0m11-30h0m57 18h0m18 23h0m3-47h0m1 14h0m21 39h0m8-9h0m17-7h0m15-3h0m7-25h0m27 46h0m38-28h0m8-30h0m9 9h0m6 22h0m17 6h0m11-21h0m9 39h0m18-24h0m4-30h0m68 31h0m6-24h0m21-6h0m3 55h0m25-43h0m15 37h0m15 5h0m19-27h0m17-15h0m23 26h0m3 47h0m-28-2h0m-45 22h0m-60-13h0m-19-27h0m-32 39h0m-22-19h0m-5 18h0m-22-6h0m-33-26h0m-6 29h0m-15-19h0m-7 23h0m-4-40h0m-15 1h0m-53 29h0m-24-5h0m-60-9h0m-43-21h0m-7 36h0m-17 2h0m-34-12h0m-13 7h0m-8 80h0m5-53h0m15-1h0m3 28h0m7 16h0m33-38h0m10 24h0m17-8h0m54-6h0m8 31h0m12-34h0m1 31h0m11-41h0m5 36h0m47 11h0m23-45h0m2 15h0m14 6h0m1 29h0m24-34h0m31 3h0m14-8h0m18 23h0m23-13h0m12 27h0m26-9h0m8-26h0m4 34h0m67-12h0m30-18h0m21-19h0m13 55h0m10-15h0m20 21h0m-58 3h0m-26 16h0m-30-12h0m-8-12h0m-1 36h0m-20-34h0m-10 39h0m-14-5h0m-9-11h0m-9-16h0m-41 34h0m-49-10h0m-34-22h0m-100 27h0m-7-38h0m-30 19h0m-29 21h0m-53 3h0m-1-17h0m-11-22h0m-24-3h0" stroke="#2E2F7F" stroke-width="24"/>
<path d="M2225 9876h0m1081 53h0m-36 29h0m-1056-56h0m-13 10h0m-18 14h0m-15 33h0m-6-14h0m-46 3h0m-99 6h0m-128-34h0m-6 26h0m-14-18h0m10 63h0m27 28h0m2-49h0m84-2h0m12 30h0m5-20h0m80 30h0m19 0h0m40-46h0m9 41h0m20-2h0m1137-25h0m31 66h0m-9 36h0m-110-27h0m-76 24h0m-13-5h0m-957 1h0m-18-43h0m-24 44h0m-9-16h0m-36-33h0m-5 50h0m-28 3h0m-54-53h0m-14 7h0m-85 35h0m-41 2h0m5 27h0m4 21h0m29 11h0m96-19h0m5 20h0m8-45h0m59 23h0m42-24h0m25 7h0m24 30h0m940 5h0m11-24h0m21 17h0m2-22h0m17 40h0m4-18h0m69 11h0m3-30h0m63 7h0m25 90h0m-203-19h0m-25 12h0m-65 4h0m-33 4h0m-15-1h0m-883-4h0m-80-41h0m-6 23h0m-74-3h0m-64 62h0m31-28h0m17 54h0m6-30h0m31 3h0m39-20h0m1 24h0m16-29h0m1 18h0m2 21h0m753 13h0m21-13h0m41 6h0m42-6h0m7-17h0m9 12h0m53-38h0m24 0h0m7 27h0m20 22h0m4-36h0m8 14h0m44-17h0m43 5h0m27-15h0m142 46h0m35-14h0m55 13h0m-110 36h0m-255-9h0m-18 10h0m-2 13h0m-53-36h0m-31 6h0m-13-5h0m-13 0h0m-20 23h0m-26-10h0m-16 3h0m-23 27h0m-11 6h0m-1-27h0m-15 19h0m-10 11h0m-6-45h0m-3 38h0m-13-23h0m-17 2h0m-16-2h0m-26 29h0m-13-16h0m-16-3h0m-254 9h0m-19-15h0m-18-11h0m-7 26h0m-222-23h0m-71-17h0m-18 38h0m-6-22h0m-11-12h0m-87 29h0m-26-33h0m-12 101h0m23-32h0m8 27h0m56-28h0m37 39h0m0-36h0m18 4h0m313-6h0m25 4h0m293 1h0m0-12h0m16 5h0m3 15h0m38-19h0m270 23h0m9-11h0m5-13h0m13 41h0m268 0h0m-7 51h0m-62-34h0m-221 10h0m-8 12h0m-955-15h0m-8 46h0m-11-48h0m-1 17h0m-34-14h0m-59 31h0m-30-27h0m3 65h0m14-16h0m38 25h0m71-8h0m5 20h0m12-23h0m93 31h0m886-25h0m14 2h0m203-21h0m127 17h0m21 36h0m-31 34h0m-45 2h0m-1145 0h0m-138-9h0m-5-18h0m-124 83h0m123 12h0m3-16h0m4-19h0m469 22h0m39 30h0m711-37h0m64-18h0m19 53h0m51-32h0m-15 78h0m-58-15h0m-47 13h0m-39-3h0m-688-26h0m-512 33h0" stroke="#E03A2C" stroke-width="24"/>
<path d="M2366 10002h0m4-15h0m-6 51h0m-6 34h0m-1-22h0m-10 12h0m-54 3h0m-35 22h0m4 45h0m49-40h0m21 42h0m5-23h0m5-28h0m1 14h0m8 27h0m12-39h0m3 40h0m-15 55h0m-2-12h0m-7-21h0m-1 45h0m-8-20h0m-6-26h0m-7 10h0m-29 19h0m-51-23h0m-3 25h0m-14 50h0m2-25h0m55 14h0m10 31h0m21-6h0m5 15h0m0-40h0m4-16h0m4 39h0m24-5h0m9-27h0m3 29h0m-1 33h0m-55 3h0m-4 17h0m-11-12h0m-12 23h0m-20-23h0m-19 41h0m-38-54h0m-16 95h0m30-28h0m40 28h0m11 15h0m9-18h0m4-30h0m16-3h0m8 43h0m4-11h0m12 13h0m3-17h0m19 10h0m2 70h0m-21-22h0m-20 15h0m-12-13h0m0 26h0m-13-43h0m-7 39h0m-11-32h0m-3 24h0m-8-16h0m-1 27h0m-56-54h0m-6 25h0m-18 58h0m35-15h0m23-2h0m25 17h0m1-14h0m0 31h0m18 5h0m3-29h0m22 21h0m16 6h0m10-33h0m18 28h0m4-33h0m3 107h0m-6-41h0m-26 36h0m-5-30h0m-13-1h0m-6-18h0m-10 26h0m-6 27h0m-11-22h0m-7-31h0m-1 57h0m-12-31h0m-23 8h0m-26-23h0m-30 0h0m-3 52h0m41 12h0m30 13h0m10 9h0m25-18h0m1 40h0m19-35h0m4 19h0m5-33h0m13 49h0m9-35h0m19 4h0m2 17h0m0 20h0m-35 26h0m-16-12h0m-18-3h0m-11 10h0m-15-3h0m-13-20h0m-46-3h0m-15 43h0m-16-17h0" stroke="#5EB4C2" stroke-width="24"/>
<path d="M2895 9890h0m6-18h0m24 15h0m39-9h0m6 18h0m23-5h0m24-8h0m15-14h0m22 21h0m12 1h0m8-17h0m84-8h0m11 29h0m129 4h0m-57 3h0m-1 40h0m-55-32h0m-7 37h0m-23-26h0m-32-2h0m-13 11h0m-5 28h0m-19-58h0m-7 29h0m-16 9h0m-18 21h0m-9-59h0m-3 53h0m-8-46h0m-7 13h0m-7-12h0m-52 13h0m-19-15h0m-18 13h0m-2 34h0m-5-50h0m-33 51h0m-16-31h0m-2 12h0m20 70h0m36-18h0m0-21h0m30 0h0m4 47h0m6-32h0m9 13h0m18-5h0m28-18h0m12 43h0m2-50h0m3 23h0m14 31h0m14 0h0m1-43h0m8 35h0m5-24h0m0-21h0m28 32h0m40 1h0m11 8h0m12 9h0m3-32h0m19-14h0m39 34h0m83 61h0m-130 12h0m-21-44h0m0 17h0m-20-9h0m-27-17h0m-6 42h0m-6-13h0m-8-19h0m-5 21h0m-22 10h0m-24-12h0m-29 8h0m-1-19h0m-25-14h0m-20 10h0m-7 14h0m-19-29h0m0 46h0m-12-2h0m-44 22h0m21 29h0m15 2h0m7-22h0m0-13h0m26-3h0m20 29h0m32-27h0m12-1h0m46 15h0m5 17h0m104-22h0m13 22h0m75-8h0m70 22h0m-137 12h0m-5 29h0m-12 16h0m-12 6h0m-15-26h0m-3 15h0m-22-15h0m-26-9h0m-36 2h0m-39-11h0m-11 22h0m-1-14h0m-11 23h0m-6-14h0m-24 16h0m0-19h0m-28 2h0m-13-1h0m-3-16h0m-4 28h0m-1 21h0m-48-36h0m-1 32h0m137 59h0m128-8h0m19-11h0m30 7h0m13-31h0m73 102h0m-76-27h0m-34-14h0m-33 14h0m-12-20h0m-9 43h0m-2-28h0m-19 31h0m-9-26h0m-23 13h0m-5-26h0m-23 48h0m-3-24h0m-9 14h0m-66-34h0m-7 36h0m-22-18h0m-5 17h0m-5-24h0m-46 56h0m8-19h0m14-1h0m1 23h0m9-14h0m7 21h0m15-15h0m14 6h0m27-16h0m7 45h0m54-5h0m40-27h0m10-17h0m12 32h0m4 20h0m36-33h0m7-10h0m13 18h0m3 17h0m2-44h0m6 55h0m5-35h0m32 6h0m136 22h0m5-44h0m-136 83h0m-9-11h0m-9 41h0m-71-31h0m-5 17h0m-27 11h0m-8-43h0m-18-7h0m0 36h0m-3-17h0m-88 15h0m-2-25h0m-19 27h0m-14 9h0m-13-10h0m-12-21h0m-3 13h0m-3 23h0m-22-26h0m-3-13h0m5 73h0m22-5h0m5 27h0m48-7h0m7-19h0m13 30h0m10-14h0m5 11h0m27 7h0m9-21h0m15-10h0m26 13h0m10-20h0m1 12h0m27-22h0m1 19h0m8 18h0m12-1h0m11-45h0m10 57h0m7-34h0m15-1h0m1-23h0m13 43h0m1-28h0m16 41h0m35-2h0m-1 52h0m-50-3h0m-1-16h0m-26-17h0m-17 36h0m-48-15h0m-1 13h0m-24-26h0m-12 1h0m-12 36h0m-31-30h0m-17-1h0m-19 20h0m-9-16h0m-12-29h0m-11 31h0m-30-25h0m-5 26h0m-8-24h0m-179 102h0m15-1h0m157-10h0m16-16h0m7-21h0m13 35h0m32-2h0m11-10h0m1 24h0m41-12h0m7-12h0m7 12h0m10 15h0m17-23h0m6-21h0m8 44h0m23-1h0m3-42h0m25-3h0m6 23h0m38-16h0m1 20h0m10-24h0m11 43h0m15-52h0m139 46h0m-142 19h0m-27-5h0m-11 39h0m-13-15h0m-85-7h0m-19 18h0m-30-31h0m-15 30h0m-46-27h0m-23 9h0m-14 27h0m-2-34h0m-8 10h0m-10 19h0m-22-33h0m-134 0h0m-31 16h0m-11 23h0" stroke="#3B9B7B" stroke-width="24"/>
<path d="M2375 9886h0m51-19h0m26 32h0m13-21h0m9 8h0m12-12h0m6 16h0m34-23h0m56 22h0m32-9h0m23-9h0m17 22h0m10-18h0m13 16h0m4-12h0m13 9h0m106 1h0m10-14h0m17 16h0m38-10h0m9-12h0m13 69h0m-6-14h0m-4-23h0m-13 56h0m0-50h0m-10 12h0m-14 19h0m-48-25h0m-8 30h0m-6-32h0m-7 25h0m-7-24h0m-14 6h0m-22 20h0m-35-22h0m-2 30h0m-5-41h0m-6 48h0m-54-45h0m-9 38h0m-29-6h0m-10-30h0m-39 36h0m-6-15h0m-19 0h0m-3-12h0m-6-16h0m-15 6h0m-9 24h0m-69 13h0m-16-21h0m-2 20h0m0-43h0m0 65h0m1 43h0m37-47h0m12 42h0m6 10h0m9-24h0m20 9h0m14-34h0m23 50h0m2-21h0m18-3h0m7-14h0m22-16h0m10 30h0m23 6h0m52-29h0m8 37h0m9-35h0m19 30h0m8-41h0m17 55h0m25-23h0m10 19h0m1-49h0m21 3h0m18 48h0m7-47h0m26 12h0m9 27h0m1-17h0m38-5h0m17 58h0m-14 24h0m-26-1h0m-6-32h0m-7 18h0m-5-12h0m-33-13h0m-7 46h0m-47-22h0m-3 13h0m-48-27h0m-5 16h0m-18 18h0m-3-41h0m-2 29h0m-32-36h0m-24 27h0m-40 20h0m-10-22h0m-17-9h0m-25 2h0m-8 13h0m-48 11h0m-22 3h0m-1-28h0m-14-7h0m-29-4h0m-1 38h0m-3-25h0m-17-18h0m11 63h0m0 15h0m18 10h0m13-26h0m12 45h0m24-21h0m19 28h0m3-32h0m32 5h0m7-13h0m14 0h0m28 34h0m10-46h0m12 26h0m13-13h0m14 36h0m6-21h0m0-32h0m26 10h0m4 17h0m7-25h0m19 40h0m29-3h0m15-16h0m1 31h0m17 3h0m23-51h0m2 21h0m22-25h0m4 46h0m2-35h0m32 20h0m8-24h0m13 29h0m34 20h0m7-50h0m13 60h0m-28 23h0m-17-25h0m-16 9h0m-24 32h0m-21 9h0m-9-15h0m-41-12h0m-12 12h0m-4-28h0m-25-4h0m-33 2h0m-20 34h0m-18 12h0m-2-48h0m-2 25h0m-39 19h0m-6-45h0m-3 12h0m0 24h0m-33-3h0m-5-41h0m-5 52h0m-31-23h0m-19-5h0m-17-7h0m-21-8h0m-16 11h0m-30-7h0m-20 102h0m11-24h0m11-12h0m13-18h0m0 39h0m62-3h0m0 15h0m19-15h0m8-17h0m4 29h0m7-34h0m1-15h0m10 57h0m17-19h0m22 21h0m13-47h0m3 26h0m27 3h0m18 6h0m10-10h0m6-31h0m7 26h0m9-15h0m24-3h0m2 28h0m27-41h0m19 50h0m4-17h0m6-22h0m31 2h0m5 13h0m24-2h0m20-10h0m38-14h0m16 115h0m-48-1h0m-157-39h0m-26-15h0m-31 15h0m-16 32h0m-4-35h0m-39 5h0m-10-8h0m0 15h0m-21 4h0m-12 9h0m-1-26h0m-50-12h0m-49 50h0m-7-18h0m-6 20h0m-10-38h0m-13 92h0m26 2h0m23-7h0m25-30h0m28 38h0m6-20h0m13 3h0m34-3h0m17 5h0m5 17h0m13-49h0m11 20h0m1 28h0m27-25h0m9-9h0m12 0h0m4 26h0m57 9h0m29-31h0m23-12h0m25 16h0m15-9h0m4 41h0m14-56h0m28 39h0m15-2h0m7-28h0m8 11h0m12 26h0m2-38h0m12 45h0m20 9h0m-9 52h0m-35-25h0m-8-21h0m-13 40h0m-4-14h0m-29 0h0m-3-33h0m-34 16h0m-9-10h0m-29 39h0m-15 3h0m-5-41h0m-35 19h0m-16-4h0m-30 22h0m-4 13h0m-18-37h0m-4 30h0m-24-41h0m-17-3h0m-5 34h0m-20-4h0m-24-12h0m-15 33h0m-17-18h0m-2 15h0m-29-52h0m-15 0h0m-21 5h0m-5 43h0m-4-29h0m-9 10h0m-14 36h0m10-7h0m7 58h0m16-32h0m35 2h0m0 21h0m47-33h0m20 21h0m9-21h0m25 39h0m21-27h0m18 22h0m5-24h0m0 12h0m38 5h0m4-15h0m14 13h0m19-18h0m14-20h0m19 8h0m19 21h0m2 26h0m2-55h0m12 30h0m9-31h0m7 52h0m10-7h0m16-23h0m6 30h0m4-17h0m24-11h0m14 4h0m14-14h0m1 33h0m1-49h0m18 1h0m14 27h0m7 15h0m6 44h0m-35-12h0m-23 39h0m-9-32h0m-26 24h0m-13-8h0m-18-3h0m-22-10h0m-7 24h0m-26-17h0m-18-21h0m-8 36h0m-26 6h0m-25-29h0m-8 17h0m-7-32h0m-5 17h0m-7 28h0m-26-5h0m-31-28h0m-13-22h0m-4 22h0m-1 15h0m-5-30h0m-34 51h0m-3-57h0m-5 29h0m-22-26h0m-5 31h0m-2 20h0m-14-50h0m-18 23h0m-7-16h0m-1 32h0m-17 7h0m-32-28h0m-7 52h0m13 25h0m4-35h0m8 40h0m1-15h0m17 27h0m3-55h0m14 5h0m15 52h0m0-54h0m13 36h0m26-38h0m54-3h0m10 55h0m7-20h0m12-6h0m3-21h0m14 40h0m1-14h0m12 15h0m13-17h0m3 19h0m4-34h0m68-10h0m29 22h0m9-8h0m16-1h0m28-6h0m22 18h0m20 18h0m5-23h0m13 10h0m8-28h0m20-1h0m4 32h0m14-1h0m2 20h0m15-55h0m3 42h0m17-41h0m-5 78h0m-10 11h0m-67 4h0m-21-16h0m0-13h0m-21-3h0m-100 14h0m-6 22h0m-14-12h0m0 14h0m-15-44h0m-11 16h0m-48 18h0m-8-19h0m-6-15h0m-7 31h0m-35 10h0m-33-16h0m-11 17h0m-40-14h0m-19-5h0m-2-12h0m-47-1h0" stroke="#2E2F7F" stroke-width="24"/>
<path d="M3609 9875h0m1258 2h0m183 71h0m-10-10h0m-21 3h0m-65 11h0m-22-3h0m-12-10h0m-32-25h0m-430 11h0m-11 20h0m-12-29h0m-133 32h0m-691-43h0m1268 88h0m8-23h0m35-1h0m47 2h0m16 27h0m16 0h0m10 7h0m15-21h0m45 42h0m-45 52h0m-10-34h0m-52-22h0m-8 23h0m-45-8h0m-5 25h0m-23-4h0m-1237 75h0m56-8h0m1219-15h0m24-13h0m0 12h0m22 13h0m18-15h0m7-10h0m12 6h0m26 17h0m18-13h0m5-26h0m21 27h0m10-12h0m12 3h0m-20 60h0m-12 11h0m-18 10h0m-15 2h0m-7-30h0m-43 22h0m-43-21h0m-1240 18h0m-65 6h0m-10-27h0m-8 60h0m20 47h0m26-40h0m27-15h0m16 50h0m1-22h0m304 85h0m-322-41h0m-16 23h0m-65-35h0m8 116h0m15-14h0m22 6h0m28-3h0m15-44h0m340 26h0m11 13h0m32-37h0m15 52h0m-18 4h0m-58 16h0m-323 37h0m-19-30h0m-5 20h0m-17-28h0m-38 80h0m4-29h0m33-2h0m46 12h0m-31 43h0m-52 4h0m-3 41h0m14 63h0m8-20h0m52-19h0m-50 59h0" stroke="#E03A2C" stroke-width="24"/>
<path d="M3687 9893h0m13-18h0m18 2h0m9 20h0m36-13h0m48-11h0m71 60h0m-27 9h0m0 14h0m-5-51h0m-8 21h0m-16 4h0m-18-15h0m-22 22h0m-15 13h0m-12-9h0m-2-20h0m-11-19h0m-4 13h0m-53 3h0m-2 89h0m31-46h0m12 17h0m25-5h0m64 33h0m36-1h0m5-34h0m23 17h0m18 53h0m-1 22h0m-11-13h0m-21-1h0m-10-25h0m-15 40h0m-7-38h0m-10 38h0m-28 14h0m-24-8h0m-1-24h0m-28 8h0m-2 13h0m-10-43h0m-15 19h0m-2 32h0m-4-15h0m-23-35h0m28 99h0m21-22h0m17 4h0m36 6h0m17-15h0m14 26h0m9 11h0m73-43h0m8 11h0m4 58h0m-7-12h0m-5 44h0m-19-45h0m-3 22h0m-21-6h0m-16 10h0m-16 2h0m-11-31h0m-3 39h0m-14-8h0m-4-17h0m-9-13h0m-15 39h0m-5-32h0m-4-12h0m-23 86h0m16-21h0m19-1h0m9 22h0m4-22h0m18 36h0m36-17h0m23-20h0m0 51h0m10-25h0m10 14h0m3-18h0m22-6h0m13 31h0m1-44h0m6 105h0m-6-44h0m-18 5h0m-13 24h0m-15-14h0m-10 32h0m-12-41h0m-10-12h0m-57 10h0m-4 21h0m-17 20h0m-5-14h0m5 38h0m6 26h0m14-21h0m4 36h0m11-39h0m101-11h0m10 39h0m10-30h0m17 42h0m2 52h0m-32-23h0m-4-22h0m-13 20h0m-8-22h0m-15 7h0m-12 46h0m-29-8h0m-1-36h0m-14 7h0m-2 29h0m-38-46h0m35 63h0m40 29h0m13 11h0m27-25h0m25 21h0m7-35h0m29 72h0m-57-9h0m-5 39h0m-11 6h0m-10-11h0m-20-15h0m-4-28h0m-7 22h0m-30 25h0m-9-29h0m24 44h0m1 48h0m12-27h0m11-20h0m9 36h0m6-15h0m33 0h0m1 28h0m9-15h0m24 22h0m5-54h0m7 21h0m3 26h0m12 10h0m-2 34h0m-18-26h0m-4 13h0m-17-22h0m-12 30h0m-6-18h0m-17 31h0m-2-25h0m-14 4h0m-14 19h0m-17-28h0" stroke="#5EB4C2" stroke-width="24"/>
<path d="M4507 9870h0m27 14h0m19-17h0m15 9h0m36 21h0m21-11h0m66 8h0m14-20h0m59 11h0m28-10h0m45 21h0m18 3h0m64-32h0m52 7h0m11 19h0m43-12h0m66 78h0m-50-50h0m-18 13h0m-125-18h0m-47 46h0m-67-10h0m-26-2h0m-26 3h0m-1-12h0m-36-12h0m-6 14h0m-16-10h0m-19-17h0m-21 24h0m-15 26h0m-34-52h0m-32 29h0m-7 24h0m-29-53h0m-15 52h0m-8-27h0m-4-12h0m-18 44h0m3 34h0m31 5h0m15 7h0m11-37h0m13 19h0m12-23h0m7 44h0m3-18h0m12 4h0m13 19h0m16-19h0m3 22h0m29-43h0m30 37h0m8-34h0m17 36h0m31-38h0m7-13h0m23 28h0m14-21h0m5 45h0m58-1h0m8-22h0m243 23h0m12-27h0m-224 82h0m-30-42h0m-99 8h0m-1 16h0m-5-26h0m-48 47h0m-26 6h0m-5-42h0m-77 35h0m-10-25h0m-18-21h0m-14 44h0m-7-26h0m-15 30h0m-17-10h0m-8-25h0m26 82h0m4-33h0m4 43h0m23-27h0m12-20h0m8 21h0m12 14h0m4-12h0m4-12h0m8 32h0m25-25h0m17 19h0m16 6h0m63 7h0m22-19h0m1-13h0m29 22h0m3-13h0m21 20h0m1-28h0m17 15h0m13-27h0m3 49h0m28-46h0m7 29h0m19-34h0m0 15h0m200 95h0m-11-14h0m-42 15h0m-21-40h0m-124 7h0m-19 14h0m-28-2h0m-17 10h0m-13-26h0m-26-2h0m-2 18h0m-14 8h0m-5-41h0m-18 45h0m-16-48h0m-2 12h0m-41 37h0m-13-22h0m-23 22h0m-25 4h0m-34-25h0m-11-26h0m-9 45h0m-6-45h0m-50 40h0m9 29h0m6 11h0m6 11h0m16 3h0m5-36h0m37 38h0m51 13h0m10-18h0m12-33h0m12 42h0m28 4h0m9 9h0m14-37h0m1 40h0m3-53h0m18 44h0m7-23h0m10-13h0m0 20h0m13-31h0m137 45h0m11-38h0m10 36h0m40-11h0m28 23h0m4-35h0m42-14h0m21 30h0m6-25h0m11 66h0m-7 12h0m-4-23h0m-8 50h0m-68-42h0m-12 28h0m-10-40h0m-22 37h0m-29-15h0m-31 1h0m-1 22h0m-16-40h0m-32 39h0m-7-17h0m-16-12h0m-14 37h0m-16-24h0m-10-30h0m-8 9h0m-18 16h0m-4-24h0m-34 27h0m-19 20h0m-15 3h0m-8-54h0m-24 47h0m-3-29h0m-13 7h0m-12 17h0m-10 10h0m-1-49h0m-32 4h0m-36 48h0m-1-21h0m-14 21h0m-8-19h0m23 64h0m16-28h0m42-10h0m3 43h0m26-7h0m0-11h0m9-12h0m25 39h0m13-10h0m25-29h0m10 40h0m6-18h0m20-20h0m1 33h0m8-12h0m15-20h0m13-9h0m12 40h0m2-47h0m20 15h0m3 29h0m22 11h0m60-38h0m8-10h0m2 42h0m10-31h0m20-7h0m22 23h0m9-16h0m3 18h0m24-14h0m22 17h0m3-39h0m17 36h0m4-22h0m13 27h0m2 64h0m-13 12h0m-4-53h0m-23 26h0m-6-19h0m-16 19h0m-10-13h0m-28-7h0m-3 28h0m-11 17h0m-18-27h0m-45 28h0m-14-23h0m-6 17h0m-2-32h0m-3-11h0m-25 21h0m-18 20h0m-10-21h0m-11-19h0m-19 15h0m-47-14h0m-45-2h0m0 30h0m-44 14h0m-10-8h0m0-38h0m-11 12h0m-6 33h0m-53 7h0m-23-47h0m-3 49h0m12 34h0m1-19h0m8 31h0m26-29h0m21 22h0m2-13h0m12-21h0m3 45h0m4-34h0m29 18h0m11 22h0m20-4h0m7-10h0m26-14h0m19-9h0m53 25h0m17 8h0m58-49h0m0 19h0m5 27h0m15-13h0m21-7h0m81 27h0m19-21h0m38-8h0m22 6h0m0 18h0m9-33h0m24-16h0m4 80h0m-26 24h0m-4-11h0m-5-27h0m-12 24h0m-3 20h0m-9-8h0m-18 14h0m-18-35h0m-11 16h0m-9-31h0m-31 37h0m-1-20h0m-11-15h0m-4 37h0m-23-44h0m-21 49h0m-7-52h0m-7 20h0m-8-15h0m-27 14h0m-2 39h0m-16-55h0m-20 17h0m-21-7h0m-35-5h0m-7 9h0m-8-16h0m-19 11h0m-4 19h0m-26-19h0m-14 31h0m-10-11h0m-33 8h0m-34-15h0m-49 5h0m43 30h0m18 1h0m9 19h0m21-14h0m10 8h0m4 40h0m26-28h0m7 28h0m3-16h0m3-19h0m7-17h0m2 53h0m13-45h0m34 34h0m10-33h0m22 15h0m5 21h0m36 11h0m1-32h0m25-13h0m23 34h0m3-34h0m10 14h0m6-16h0m7 34h0m1-22h0m21-12h0m5 11h0m55-7h0m18 38h0m23-31h0m18 31h0m3-54h0m18 41h0m23-9h0m3-31h0m11 6h0m4 68h0m-30 4h0m-32 24h0m-31-23h0m-33 0h0m-1-15h0m-12 34h0m-3-17h0m-13 8h0m-44-6h0m-15-18h0m-16 36h0m-16-2h0m-12-35h0m-2 26h0m-17-6h0m-26-5h0m-8 24h0m-1-41h0m-22 15h0m-29 1h0m-3 15h0m-12-16h0m-29 6h0m-44-14h0m-13 35h0m-19-30h0m-40 28h0m-20-22h0" stroke="#3B9B7B" stroke-width="24"/>
<path d="M3876 9878h0m23 1h0m83-10h0m55-3h0m30-1h0m78 32h0m0-17h0m19-5h0m15 24h0m17-10h0m53-9h0m33 3h0m13-10h0m37 5h0m106 78h0m-37-3h0m-10-27h0m-10-15h0m-7 43h0m-32-53h0m-8 34h0m-19-10h0m-15-14h0m-35 47h0m-4-58h0m-13 51h0m-13-43h0m-23-7h0m-30 53h0m-6-32h0m-10 28h0m-12-10h0m-30 13h0m-14 4h0m-9-47h0m-19 34h0m-27-3h0m-9-23h0m-29 2h0m-31 5h0m-15 20h0m-8-23h0m-17 0h0m-6 36h0m-10-50h0m-44 11h0m0 31h0m12 36h0m12 31h0m13-38h0m3-16h0m4 49h0m20-43h0m73-8h0m18 21h0m21 24h0m9-29h0m39 32h0m21-8h0m0 18h0m25-33h0m5 33h0m7-39h0m47-10h0m6-10h0m30 55h0m53-31h0m43 1h0m13-14h0m2 38h0m16-8h0m46 9h0m1-42h0m12 40h0m43 45h0m-20-13h0m-5 21h0m-16-38h0m-72 19h0m-28 3h0m-18 25h0m-14-33h0m0 23h0m-16 9h0m-40-18h0m-8 16h0m-5-15h0m-9 21h0m-18-22h0m-6-29h0m-11 48h0m-6-46h0m-10 52h0m-7-37h0m-31-7h0m-13 32h0m-4 12h0m-8-20h0m-25-29h0m-29 12h0m-22 37h0m-15-33h0m-11 21h0m-14 10h0m0-48h0m-1 27h0m-12-2h0m-13-23h0m-6 30h0m-17-18h0m-3 27h0m-4 30h0m33-8h0m19 49h0m28-18h0m28-7h0m34-23h0m15-1h0m13-2h0m25 39h0m18-39h0m24 37h0m7 15h0m1-53h0m7 14h0m36 11h0m8-11h0m13 9h0m24-29h0m10 43h0m3-41h0m87 34h0m28 12h0m25-23h0m12 8h0m15 6h0m7-34h0m29 49h0m-15 12h0m-28 11h0m0 12h0m-24-2h0m-13 15h0m-29-1h0m-59-23h0m-35-9h0m-22 24h0m-10 9h0m-19 17h0m-18-16h0m-10-22h0m-62 31h0m-21-49h0m-9 25h0m-30 23h0m-22-38h0m-13 16h0m-19-12h0m-19 25h0m-17-12h0m-4 13h0m-53-14h0m-17-23h0m22 73h0m7 28h0m11-29h0m52 1h0m12 19h0m1-19h0m25 20h0m7-34h0m1 52h0m15-16h0m22-28h0m2 22h0m21 10h0m28-37h0m38 35h0m5 16h0m6-43h0m17-11h0m32 0h0m2 54h0m2-40h0m26 22h0m17 3h0m21-36h0m36 24h0m21-1h0m49 3h0m30-1h0m33-27h0m5 46h0m10-27h0m19 14h0m0 13h0m-10 38h0m-3 22h0m-48-8h0m-34 0h0m-17-7h0m-10-22h0m-9 17h0m-40-22h0m-19-3h0m-18 40h0m-41-28h0m-5 39h0m-28-17h0m-13-33h0m-5 35h0m-10 15h0m-14-8h0m-5-36h0m-47 22h0m-23-10h0m-28-22h0m-8 17h0m-29-7h0m-6 37h0m-18-31h0m-23 5h0m-31-24h0m-24 11h0m-9 36h0m-4 35h0m38-17h0m8 50h0m175 1h0m3-28h0m34-5h0m7 10h0m5-24h0m103 11h0m9-9h0m9 36h0m14-39h0m15 29h0m32-33h0m1 19h0m26 1h0m0 27h0m14-45h0m12 23h0m65-23h0m19 82h0m-20 3h0m-20 0h0m-3-29h0m-100 44h0m-28 9h0m-4-24h0m-39 27h0m-4-37h0m-28-5h0m0 27h0m-2-15h0m-24 4h0m-34 24h0m-15-13h0m-5-28h0m-9-9h0m-17 26h0m-16 11h0m-21-20h0m-21-9h0m-2 37h0m-46-15h0m-36-7h0m-29 21h0m-12-7h0m-28-11h0m-8-15h0m-9 75h0m25-22h0m1 33h0m16-42h0m11 30h0m35-1h0m8-22h0m9 38h0m16-40h0m13 18h0m9-18h0m36 21h0m19 5h0m19-8h0m9-20h0m7 14h0m17 1h0m20 38h0m41-16h0m12-27h0m53 19h0m12-15h0m3 15h0m32 6h0m40-39h0m5 13h0m13-5h0m26 16h0m14 5h0m20-2h0m18 13h0m19-12h0m4 89h0m-13-56h0m-16 19h0m-10-19h0m-3 44h0m-26-37h0m-41 10h0m-3-14h0m-25 53h0m-39-24h0m-1-13h0m-3 35h0m-2-50h0m-27 45h0m-11-12h0m-45-26h0m-10 41h0m-19-47h0m-17 37h0m-27-19h0m-6-20h0m-26 0h0m-7 20h0m-12 9h0m-2-13h0m-22-7h0m-15 2h0m-43 31h0m-4-43h0m-30 41h0m-14-23h0m-8 23h0m-8-28h0m-20 23h0m-5 12h0m1 18h0m18 28h0m34 18h0m17-12h0m19-5h0m21-38h0m9 17h0m16 33h0m19-27h0m40-12h0m33 26h0m53 8h0m76-34h0m63 2h0m6 22h0m15 3h0m13-39h0m38 32h0m7-32h0m1 59h0m21-25h0m12 9h0m33-16h0m-2 34h0m-85 33h0m-27-33h0m-3 25h0m-17 10h0m-26-9h0m-25-3h0m-14 4h0m-5-15h0m-42 2h0m-31-13h0m-3 33h0m-26-22h0m0 27h0m-70 2h0m-29-9h0m-16-15h0m-17 26h0m-12-25h0m-5-17h0m-29 36h0m-17 3h0m-11-14h0m-5 11h0m-8-32h0m-34 34h0" stroke="#2E2F7F" stroke-width="24"/>
<path d="M6323 5620h0m-2 2h0m-520 74h0m19-11h0m18 5h0m0 5h0m1-10h0m7 1h0m4-17h0m1 5h0m0-15h0m9-7h0m4 11h0m2 2h0m14 9h0m5 17h0m21 0h0m3-35h0m1 4h0m0 26h0m5-12h0m79 15h0m296-7h0m5-9h0m18-26h0m182 32h0m25-3h0m3-6h0m7 41h0m-90 4h0m-27 41h0m-1-10h0m-64-19h0m-11-5h0m0 31h0m-2-19h0m-4-11h0m-1 22h0m0-17h0m-6 14h0m-22-14h0m-5 24h0m-3 5h0m0-50h0m-3 41h0m-1-39h0m-5 43h0m-15-16h0m-10-26h0m-4 17h0m-1 24h0m-2-46h0m-9 26h0m-4 7h0m-11 11h0m-43 1h0m-16 8h0m-156-20h0m-2 4h0m-3-12h0m-9-6h0m-5-4h0m-39 18h0m-21-9h0m-2 8h0m-7-9h0m-10-4h0m-8-12h0m-49-12h0m-4 1h0m-13 21h0m-16-20h0m-8 0h0m-3 35h0m-15-8h0m-1-22h0m-10 48h0m-4-31h0m-5 34h0m-12-34h0m-60 89h0m13-1h0m40-43h0m4 5h0m5-4h0m48 23h0m17 11h0m30 14h0m135-56h0m6 20h0m2-13h0m20 10h0m2 16h0m6 15h0m6 5h0m34-14h0m12-7h0m4 4h0m12-3h0m9-8h0m1 11h0m17-5h0m10 0h0m2-33h0m1 3h0m3 48h0m1-7h0m15-4h0m68-3h0m1-7h0m0-26h0m1 50h0m12-5h0m11-13h0m3-34h0m3 48h0m1-48h0m2 30h0m10 0h0m5 2h0m3 5h0m4-28h0m8 34h0m27-31h0m11 1h0m6 5h0m10 7h0m1-17h0m14 23h0m1 17h0m10-4h0m1 8h0m13-13h0m17-24h0m173 32h0m32 17h0m-34 23h0m-3-5h0m-12 19h0m-109-1h0m-1-2h0m-38-21h0m-41 27h0m-5-28h0m-12 11h0m-6 28h0m-6-36h0m-3-4h0m-3 36h0m-19-37h0m-5 9h0m-14 17h0m-3-5h0m-1 16h0m-7-4h0m-3 3h0m-2-2h0m-3 1h0m-2-43h0m-1 8h0m0 16h0m-2 3h0m-3 13h0m-5-9h0m-4 2h0m-1-14h0m-4 2h0m-1-23h0m-8 37h0m-2-4h0m-1-27h0m-6 41h0m-1 2h0m-18-11h0m-7-4h0m-9 18h0m-2-6h0m-42-11h0m-2 14h0m-35-48h0m-5 52h0m-6-17h0m-18-2h0m-4-30h0m-5 46h0m-1-50h0m-1-6h0m-1 42h0m-12 3h0m-4 9h0m-7-45h0m-5 22h0m-8 14h0m0-39h0m-6 29h0m-4-34h0m-1 2h0m-4 7h0m0 23h0m-8-5h0m-1 24h0m-1-24h0m-5-9h0m-9 14h0m-2-14h0m-6 36h0m-1-39h0m-6 27h0m-6-17h0m-1 25h0m-1-41h0m-1-7h0m-6 21h0m-9 17h0m-1-24h0m-3-12h0m-7 54h0m-7 0h0m-4-14h0m-4-15h0m0-23h0m0 4h0m0 35h0m-3-23h0m0 9h0m-1 6h0m-1 17h0m-2-4h0m-1-10h0m0-16h0m-16 22h0m-2 4h0m-6 2h0m-8 1h0m-25-53h0m-9 30h0m-1-9h0m-10-6h0m-1-12h0m-5 16h0m-5 22h0m-1-14h0m-4 23h0m-1-6h0m-123 6h0m-1-19h0m-16 3h0m-69 48h0m8 23h0m5-13h0m1-7h0m3-3h0m5 5h0m1 26h0m3-17h0m5-6h0m4 12h0m6 7h0m2-13h0m4 11h0m163-45h0m63-2h0m16 16h0m10 1h0m3 15h0m12 5h0m4-11h0m4-8h0m17-3h0m7 21h0m3-31h0m1 42h0m13 6h0m69-53h0m31 7h0m3-7h0m15 57h0m2-51h0m2 23h0m2 9h0m1-20h0m13 35h0m0-2h0m7-15h0m8 7h0m8-34h0m3-1h0m4 2h0m3 2h0m10 19h0m1-14h0m1 30h0m15-17h0m5-7h0m0-23h0m8 32h0m7 1h0m29-25h0m4-9h0m5 55h0m10-6h0m7-45h0m4 37h0m3-15h0m1-23h0m3 12h0m3-11h0m8 18h0m7-21h0m0 9h0m6-10h0m3 27h0m1 9h0m1-20h0m9 17h0m6-24h0m18 42h0m2 8h0m15-58h0m2 47h0m4-2h0m0-9h0m0-24h0m24 34h0m1-8h0m2 16h0m4-11h0m41-10h0m0-5h0m7 0h0m9-17h0m2 46h0m5-17h0m2-7h0m4 5h0m3 5h0m6-7h0m10 21h0m2-19h0m0 17h0m12-28h0m150 78h0m-1 3h0m-13-20h0m-5 15h0m-19-13h0m-20 4h0m-6 16h0m-21-37h0m-66-13h0m-5 6h0m-7 24h0m-1-25h0m-4-6h0m0 30h0m-9-26h0m-7 52h0m-4-56h0m-17 22h0m-14 10h0m-10-1h0m-3 14h0m-4-1h0m-8 7h0m-3 7h0m-2-42h0m-19 12h0m-2-26h0m-10 1h0m-2 22h0m-2-18h0m-6 51h0m-2-19h0m0-36h0m-19 42h0m-1 10h0m-1-23h0m-1-17h0m-6 11h0m-4 24h0m-1-2h0m-10-25h0m-1 8h0m-3 24h0m-9-43h0m-20 31h0m-10-1h0m0 14h0m-2-2h0m-2-53h0m-2 8h0m-1 1h0m0 16h0m0-20h0m-8 29h0m-3-5h0m-7-29h0m-7 7h0m0 14h0m-1 28h0m-3-10h0m-1-16h0m-3 12h0m-1 22h0m-1-24h0m-1 15h0m-4-14h0m-15 17h0m-7 3h0m0-16h0m-1 15h0m-3-11h0m-4 9h0m-5-7h0m-3-3h0m-7-16h0m-7 10h0m-1-24h0m-2-8h0m-5-3h0m-3 27h0m-10 1h0m-2 12h0m-15-1h0m-16-39h0m-4 3h0m0 10h0m-4 3h0m-7 8h0m-10 12h0m-18-9h0m-11-2h0m-10-1h0m-12 0h0m-6 17h0m-1-28h0m-6 44h0m-19-45h0m-17 10h0m-2-4h0m0 0h0m-18-9h0m-8 45h0m-4-46h0m-1 6h0m-3 15h0m-3 14h0m-6-6h0m-259-21h0m-13-9h0m334 58h0m3 48h0m8-16h0m1-29h0m9 13h0m0-8h0m5 19h0m2-11h0m1-13h0m169-6h0m6 1h0m31-1h0m6 22h0m4-20h0m3 10h0m4-2h0m1-5h0m6-8h0m2 19h0m4-3h0m3-9h0m1 22h0m4-20h0m4-9h0m4 4h0m2 2h0m5 1h0m1 25h0m2-24h0m14-2h0m13 29h0m1-16h0m1 4h0m60-18h0m8 29h0m3-14h0m3 22h0m5-14h0m0 10h0m3 10h0m17-21h0m3 0h0m1-15h0m6 20h0m2 27h0m3-37h0m4 14h0m4 17h0m11 2h0m12-19h0m10-14h0m2 8h0m2-6h0m1-12h0m4 5h0m1-17h0m2 21h0m3 5h0m12 29h0m68 1h0m32-8h0m4-46h0m0-1h0m6 44h0m1-2h0m9-31h0m7-10h0m3 6h0m6 11h0m10 35h0m6-2h0m5-14h0m3 1h0m4 4h0m1-11h0m7-11h0m2 2h0m0 32h0m3-24h0m4-2h0m7 1h0m4 7h0m1 13h0m3-18h0m8 8h0m5 10h0m132 66h0m-1-9h0m-28-1h0m-3 11h0m-15-18h0m-7-36h0m-3 29h0m-4-23h0m-5 8h0m-2 0h0m-5-15h0m-14 3h0m-14 8h0m-1 29h0m-1 6h0m-6-39h0m-7 14h0m-18 28h0m-7-25h0m-4 7h0m-8 9h0m-4 10h0m0-46h0m-3 35h0m-5-23h0m-4 39h0m-7-12h0m-2 11h0m-3-1h0m-5 3h0m-6-30h0m-1-1h0m-3-14h0m-16 22h0m0 0h0m-19-28h0m-4 19h0m-2 27h0m-3 1h0m-2-24h0m-2-23h0m0 3h0m-1 32h0m-10 1h0m-18-34h0m-9 46h0m-6 0h0m-2 4h0m-1-35h0m-6 9h0m-10-2h0m0 21h0m-13-7h0m-14-45h0m-2 49h0m-14 9h0m-25-3h0m-39 1h0m-6-38h0m-1-13h0m-8 48h0m-1-21h0m-2-6h0m-8 31h0m-5-42h0m-2-9h0m-2 35h0m-5-23h0m-2 13h0m-1-10h0m-3-12h0m-2-4h0m-2 18h0m-4 24h0m-2 6h0m-28-48h0m-1 2h0m-2 32h0m-12 39h0m2-3h0m8 1h0m7-7h0m2-2h0m17 48h0m3-47h0m2-6h0m10 22h0m4-1h0m6-6h0m0-2h0m5-9h0m0 1h0m3-6h0m1 15h0m4 25h0m1-39h0m5 45h0m1-26h0m14 29h0m7-29h0m4 33h0m4-25h0m7-8h0m9-10h0m1 31h0m1 0h0m1-31h0m1 41h0m2-11h0m1-14h0m7 14h0m0-26h0m1 22h0m3-4h0m2-1h0m12 15h0m5 10h0m2-48h0m4 35h0m1-42h0m5 27h0m30-28h0m22 24h0m3-22h0m23 11h0m2 27h0m10-28h0m0-5h0m0 10h0m9-10h0m12-8h0m1 17h0m4-17h0m3 57h0m19-49h0m8 3h0m18 31h0m8-9h0m9 8h0m8 3h0m15-31h0m14 37h0m6-48h0m48 55h0m37-44h0m2-12h0m5 57h0m0-24h0m5 0h0m1 11h0m3-1h0m3-5h0m3 11h0m4-4h0m7-18h0m2 13h0m9-11h0m1-27h0m22 26h0m-23 63h0m-3-28h0m0 5h0m-28 25h0m-9-22h0m-16 23h0m-8-31h0m-3 12h0m-2-16h0m-75 58h0m-25-12h0m-2 11h0m-53-44h0m-7-7h0m-4 8h0m-2 44h0m-6-46h0m-2 1h0m-2 31h0m-8 13h0m-3-17h0m-7-28h0m-7-1h0m-9 1h0m-4 43h0m-2-38h0m-1-7h0m-4 32h0m-3 9h0m-7-9h0m-40-25h0m-10-4h0m-10-7h0m-3 9h0m-14-7h0m-23-1h0m-11 23h0m-1 23h0m-3-19h0m-7 20h0m-30 0h0m-4 38h0m1 9h0m14 11h0m0-48h0m1 36h0m3-21h0m8 25h0m8 8h0m3 1h0m9 3h0m1-28h0m1 9h0m1 6h0m5-26h0m4 12h0m2 11h0m2-22h0m3-4h0m12 14h0m8-10h0m3 20h0m2-23h0m3 43h0m3-41h0m0-7h0m6 8h0m6 41h0m5-40h0m17 14h0m1-18h0m20 7h0m1 28h0m13-42h0m9 4h0m8 44h0m32-38h0m6-14h0m10 24h0m31-11h0m2-15h0m2 19h0m1 16h0m5-4h0m2 7h0m2-12h0m7-13h0m1 25h0m1-27h0m0 2h0m2 11h0m3 28h0m4 0h0m12-9h0m1-13h0m1-15h0m1 40h0m2-31h0m1 25h0m1-30h0m3 33h0m1-30h0m3 28h0m3-12h0m1 0h0m1-10h0m1 18h0m15-31h0m1 29h0m3-8h0m2 15h0m2 5h0m1-33h0m1 15h0m9-1h0m48 56h0m-5 1h0m-5-27h0m-6 30h0m-29-36h0m-5 2h0m-11 2h0m-4-1h0m-11 1h0m-19 52h0m-7-18h0m-2-33h0m-3 12h0m-5 20h0m-2 14h0m-2-15h0m-12-9h0m0 28h0m-8-1h0m-3-15h0m0-28h0m-1 28h0m-1 9h0m-3-20h0m-3-14h0m-3 0h0m-2 28h0m0-35h0m-10 3h0m-48 14h0m-5 6h0m0 16h0m-37-39h0m0-1h0m-10 1h0m-14 12h0m-14-20h0m-2 57h0m-5-58h0m-9 17h0m-9 36h0m-116-2h0m-11 59h0m27 1h0m6 2h0m10-6h0m1-37h0m8 0h0m4 23h0m3-17h0m4 41h0m1-37h0m2 15h0m6 13h0m2 8h0m4 1h0m2-5h0m7-5h0m2-19h0m3 16h0m4-24h0m64-8h0m10 8h0m20-5h0m3 31h0m0-21h0m0-2h0m1 13h0m2 8h0m24-33h0m7 20h0m15 20h0m3-18h0m4 4h0m5 16h0m15-32h0m5 8h0m4 24h0m3-22h0m37-26h0m20-6h0m16 17h0m2-2h0m4 22h0m3-13h0m20 35h0m3-3h0m2-15h0m1 9h0m3-12h0m1-5h0m2 13h0m3 3h0m11-14h0m5-8h0m35-14h0m8 6h0m3 8h0m11 32h0m28 56h0m-9-4h0m-10-10h0m-1-29h0m-8 42h0m-9-7h0m-7-3h0m-6 3h0m-1-1h0m-3-30h0m-1 21h0m-1 5h0m-1-20h0m-23 6h0m-8 4h0m-9-13h0m0-18h0m-3 32h0m0-10h0m-4 26h0m-6-26h0m-5-16h0m-12 36h0m-7 14h0m-2-7h0m0-38h0m-2 10h0m-7-4h0m-6 36h0m-5-16h0m-4-14h0m-2 24h0m-1-37h0m-6-4h0m0 39h0m-3-10h0m-1-20h0m-8 20h0m-2-30h0m-2 24h0m-2-9h0m-16-8h0m-3 31h0m-2-31h0m-1 9h0m-17 37h0m-2-1h0m-8-35h0m-10 1h0m-3 26h0m-25 3h0m-8-42h0m-6 47h0m0 0h0m-13-50h0m-3-2h0m-3-5h0m-16 5h0m-10-5h0m-14 21h0m-11 29h0m-6-1h0m-11-37h0m-17-3h0m-1 11h0m-3 12h0m-4-1h0m-1 11h0m-2-16h0m0-25h0m-1 37h0m-7-2h0m-2-21h0m-14 29h0m-3-32h0m-1 38h0m-1-34h0m-2 40h0m-1-3h0m0-50h0m-3 49h0m-12-6h0m-6-2h0m-2-23h0m-6-4h0m-17 14h0m0-13h0m-2-10h0m-8 3h0m-8 11h0m-1 13h0m-1 7h0m-2-10h0m-3-7h0m-2 12h0m-2 19h0m0-31h0m-4 12h0m-3-9h0m-3-6h0m-1 12h0m-2 3h0m-10-1h0m-1 1h0m1 63h0m10-33h0m3 7h0m5-11h0m2 2h0m5 0h0m1 8h0m4-12h0m45 32h0m12 7h0m0-9h0m1 13h0m3-22h0m3 15h0m9-31h0m7 35h0m11-29h0m2 4h0m2 33h0m18-31h0m6-14h0m13 53h0m3-31h0m7 10h0m1-14h0m2-13h0m7 28h0m1-37h0m12 51h0m23-13h0m0-4h0m42-29h0m4 35h0m6 10h0m7-33h0m7 1h0m5 22h0m2-33h0m18 22h0m21 9h0m8 15h0m4-10h0m14-28h0m4-5h0m7-4h0m0 7h0m11 44h0m9-50h0m5 23h0m4-8h0m0 10h0m13 2h0m38-30h0m24-3h0m3-2h0m4 15h0m21 10h0m7-7h0m10-4h0m2-13h0m-139 76h0m-14-13h0m-8 2h0m-7-5h0m-12 9h0m-11 2h0m-49 34h0m-20-10h0m-91-13h0m-7-11h0m0 26h0m-2-29h0m-11 31h0m-1 0h0m-3 8h0m-30-8h0m-7-35h0m-12 9h0m-125-13h0m-4 57h0m-9-6h0m-21-12h0m-2 3h0m27 25h0m19 26h0m9-25h0m1 29h0m2-15h0m2-1h0m0 24h0m0 2h0m4-24h0m0-3h0m1 5h0m5 5h0m6-3h0m0 28h0m6 2h0m25-2h0m91-47h0m4 3h0m2 25h0m1-22h0m1 21h0m15-4h0m3-30h0m7-2h0m21 55h0m10-2h0m70 3h0m1-42h0m47 23h0m3-5h0m3-5h0m27-13h0m1-1h0m29 3h0m-119 48h0m-47-3h0m-62 40h0m-6 8h0m-4 8h0m0-44h0m-10 35h0m-11-10h0m-19 0h0m-1-7h0m-10-9h0m-16-13h0m-43-5h0m120 82h0" stroke="#4CC0C2" stroke-width="16"/>
<path d="M6126 5574h0m62 52h0m-1 8h0m0-20h0m-5-7h0m-31-24h0m-1 0h0m-14 8h0m-9 31h0m-6 5h0m-2-18h0m-9-13h0m-20 18h0m-1-14h0m-5 33h0m-11-23h0m-4-13h0m-4-17h0m0 24h0m-28-3h0m-31 1h0m-27 25h0m-7-17h0m-4-10h0m-54 63h0m1 19h0m33-31h0m3-10h0m65 23h0m14 16h0m0 16h0m2-1h0m5-50h0m14 47h0m31-28h0m7-10h0m1 9h0m7 4h0m33-7h0m1 15h0m11 11h0m32-42h0m140 53h0m65-17h0m10 14h0m4-8h0m7 11h0m16 2h0m21-52h0m4 28h0m5-22h0m127 45h0m68 42h0m-1-7h0m-3-20h0m-2 7h0m-1 15h0m-1 17h0m0-17h0m-2 8h0m-4-26h0m-3-11h0m-5 26h0m-1 7h0m-27 5h0m-1-38h0m-1 13h0m-6 0h0m-6 7h0m-8 27h0m-8-32h0m-1 38h0m-1-29h0m0 28h0m-6-20h0m-5 16h0m-6-13h0m-6 16h0m-4-32h0m-13 25h0m-1-6h0m0 12h0m-18-3h0m-72 3h0m-8-40h0m-9 13h0m-8-15h0m0 8h0m-39-13h0m-5-9h0m-13 5h0m-13 1h0m-6 34h0m-2-39h0m-3 41h0m-23-26h0m-4 1h0m-16-5h0m-31 40h0m-44-32h0m-53 5h0m-1 0h0m-8-21h0m0 12h0m-49 37h0m-12-9h0m-20 5h0m-7 7h0m-5-20h0m-1 5h0m-3-16h0m-3-5h0m-9 20h0m-123 13h0m-72 2h0m13 13h0m11-8h0m8 4h0m51-1h0m12 54h0m1-35h0m40 37h0m3-22h0m75 16h0m1-52h0m7 3h0m3 7h0m9 5h0m8 38h0m21 4h0m3-21h0m0 9h0m8 7h0m2-40h0m7 13h0m8-14h0m1-3h0m14 41h0m4 4h0m2-3h0m4-7h0m1-30h0m4 17h0m10 16h0m6 12h0m1-19h0m3 9h0m72-32h0m16 18h0m6 14h0m1 5h0m156-46h0m0-8h0m54 29h0m0 0h0m22 9h0m25-13h0m9 6h0m4 3h0m1-27h0m2-7h0m2 18h0m1 33h0m0-18h0m1-4h0m4 10h0m7-39h0m5 51h0m2-10h0m7 17h0m0-53h0m5 24h0m2 29h0m1-12h0m13-10h0m1-30h0m0 39h0m1-41h0m1 44h0m2 9h0m7-36h0m0-14h0m2 17h0m18 13h0m1 21h0m2 1h0m12-44h0m3 3h0m43 26h0m1 2h0m17-12h0m4 9h0m14-2h0m18 11h0m26 48h0m-4 12h0m-3-4h0m-1-32h0m-2 15h0m-2 7h0m-4 15h0m-4-14h0m-2-16h0m-1 6h0m-1 6h0m0 5h0m-4-17h0m-13 12h0m0-7h0m-2 7h0m-1-7h0m-1-7h0m-2 25h0m-3-35h0m-5-8h0m-6 22h0m-6 5h0m-5-15h0m-2-3h0m-2 37h0m-7-41h0m-2 5h0m0-9h0m-1 10h0m0 10h0m-8-17h0m0 8h0m-4 1h0m-2 41h0m-3-23h0m-2-15h0m-2 3h0m-1 13h0m0 5h0m-3-3h0m-1-37h0m0 32h0m-3 0h0m0 24h0m0-46h0m-1 37h0m-2 4h0m0-47h0m-3 17h0m-2 0h0m-3 37h0m-4-20h0m-3 7h0m0-37h0m-1 18h0m-1 12h0m-11-21h0m0 23h0m-1 15h0m-9-25h0m-6 1h0m-6-5h0m-2-26h0m-1 58h0m-1-35h0m-1-15h0m-3 9h0m-1-16h0m-2 15h0m-3 1h0m-3-7h0m-10 13h0m-11-19h0m-7 6h0m-3-9h0m-2 12h0m-3-5h0m-6 23h0m-383-21h0m-2 19h0m-3 28h0m-6-13h0m-4-20h0m-2 27h0m-1-4h0m-2-42h0m0 15h0m-6-19h0m-4 13h0m-1 32h0m-1-45h0m-4 3h0m-4 10h0m-10 25h0m-15-19h0m-13 6h0m-9 11h0m-5-36h0m-76 2h0m-3 56h0m-6-53h0m-26 23h0m-3-5h0m-12-18h0m-23-5h0m56 109h0m15-18h0m2 2h0m5-16h0m4 11h0m5 7h0m1 0h0m1 4h0m11 16h0m30-16h0m7-37h0m6 42h0m1-45h0m49 9h0m51 3h0m3-8h0m1 4h0m45 0h0m101 35h0m110-25h0m8 2h0m6 5h0m22 1h0m4 5h0m12 18h0m11 6h0m0-6h0m34-30h0m21-7h0m14 2h0m5-4h0m9-9h0m24 37h0m2-37h0m2 32h0m9 10h0m11-21h0m2 19h0m2-32h0m13 41h0m4-50h0m3 21h0m2 6h0m2 0h0m2 0h0m4-12h0m5 30h0m15-34h0m7 10h0m9 7h0m6 19h0m1-23h0m2 14h0m3 19h0m4-26h0m1 20h0m4 0h0m9-4h0m6-15h0m1 23h0m4-6h0m4-30h0m2 6h0m4-8h0m1 13h0m7 13h0m0-26h0m0-10h0m1-1h0m0 9h0m1 21h0m2 13h0m3-24h0m6 25h0m3-45h0m4-3h0m36 109h0m-10-7h0m-5-4h0m0 2h0m-4 9h0m-16-5h0m-7-29h0m-5-3h0m-6 15h0m-8-21h0m-1 9h0m-1 7h0m-3-12h0m-5 11h0m-8 0h0m-4 1h0m-33 29h0m-11-21h0m-2 16h0m-4-36h0m-7 7h0m-17 6h0m-16 8h0m-13 5h0m-19 16h0m-5-15h0m-15-4h0m0-4h0m-3 15h0m-11-34h0m0 25h0m0 15h0m-10-12h0m-16 6h0m-9-6h0m-3 3h0m-16-5h0m-9-18h0m-1-3h0m-7-6h0m-5 48h0m-1-3h0m-13-42h0m-25-6h0m-21 39h0m-4-7h0m-1-13h0m-8 0h0m-27-8h0m-14-9h0m-23 33h0m-12 2h0m-4-36h0m-11 17h0m-2 4h0m-10 22h0m-5-2h0m-8 3h0m-2-10h0m-1-39h0m-1 8h0m-9 23h0m-17 8h0m-3 5h0m-13-16h0m-18 7h0m-20-15h0m-3 3h0m-21 6h0m-5-23h0m-8 17h0m0 9h0m-5-32h0m-2 24h0m-70-3h0m-2 6h0m-2 9h0m-2-25h0m-4 32h0m0-11h0m0 14h0m-14 8h0m-1-11h0m-5-21h0m-2 27h0m-2 0h0m-8-5h0m-4-39h0m-4 40h0m-11-3h0m-5-44h0m-2 25h0m-5-16h0m-9 11h0m-1-9h0m-18 5h0m-1-10h0m-4 4h0m-3-1h0m-2-5h0m-1 4h0m-17 13h0m-19-9h0m-132 80h0m14-9h0m29-7h0m10 8h0m19 7h0m2 7h0m9 9h0m170-43h0m212 50h0m1-26h0m0 23h0m12 0h0m0 0h0m3-20h0m10 8h0m1 10h0m1-12h0m10-10h0m3 24h0m6-35h0m4 3h0m4-19h0m7 9h0m11-10h0m52 32h0m3-11h0m5 35h0m1-21h0m2-34h0m19 34h0m9 10h0m2-43h0m29 28h0m12 19h0m2 3h0m15 4h0m28-1h0m25-49h0m1 37h0m6-40h0m46 43h0m1-28h0m1 27h0m4 8h0m9-36h0m39-17h0m8-1h0m6 6h0m3 8h0m2-1h0m0-4h0m6 41h0m0-32h0m35 41h0m15-35h0m1 11h0m6-32h0m3 21h0m6-1h0m99 69h0m-12 5h0m-5-5h0m-15-31h0m-27 31h0m-19-1h0m-1 5h0m-8-6h0m-7-2h0m-3 3h0m-4-19h0m-6 32h0m-16-9h0m-9-1h0m-5-14h0m-1 34h0m-4-39h0m-1 12h0m-3-8h0m-28-12h0m-29 41h0m-22 4h0m-15-7h0m-8 0h0m-33-16h0m0-1h0m-78-14h0m-12 1h0m-22 11h0m-10 2h0m-7-15h0m-1 7h0m-30-6h0m-3-1h0m-4 10h0m-2-17h0m-6 45h0m-9-51h0m-83 3h0m-396 3h0m-12 45h0m-7-21h0m-2 12h0m-3-12h0m-67 11h0m-4-9h0m-11-18h0m-6 41h0m-8-36h0m-17 21h0m-6 4h0m-7 7h0m-6 3h0m-8 11h0m6 2h0m76-2h0m2 8h0m43 24h0m15-20h0m1 15h0m20 5h0m0-8h0m7 9h0m5-12h0m0 0h0m423 17h0m7-4h0m1 4h0m23-23h0m14-6h0m217 41h0m47-3h0m6-50h0m3 16h0m0-17h0m55 34h0m5 21h0m1-46h0m70 44h0m16-1h0m46 54h0m-8-20h0m-3-4h0m-9 33h0m-1-37h0m-11-6h0m-1 36h0m-26 9h0m-1-58h0m-85 0h0m-45 10h0m-23 44h0m-2-11h0m-8 12h0m-3-15h0m-7-6h0m-6-17h0m-151 41h0m-8-14h0m-11 14h0m-29-13h0m-4-4h0m-9 7h0m-4 3h0m-14 3h0m64 8h0m12 4h0m9 18h0m13-19h0m4 25h0m2 7h0m1-7h0m2 8h0m23 12h0m82-1h0m15-17h0m7-26h0m8 48h0m98-12h0m46 11h0m21-33h0m16-20h0m39 2h0m-35 96h0m-12-35h0m-141 39h0m-5 6h0m-7 9h0m-1-33h0m-3 34h0m0-17h0m-1 18h0m-7-50h0m-2 47h0m-6-37h0m-2 39h0m-14 1h0m-8-47h0m-8 42h0m-15-23h0m-3 7h0m-6 4h0m-4 2h0m-3-10h0m-3-4h0m-2-7h0m0-7h0m-3-1h0m-25-1h0m-10-11h0m-52 41h0m-31-6h0m-50 16h0m-4-13h0m-10 5h0m103 60h0m52 5h0m7-28h0m3 35h0m1-27h0m14-9h0m8-22h0m2 34h0m5-33h0m3 21h0m4 34h0m4-55h0m5 47h0m1-22h0m25-16h0m0 17h0m19-5h0m26 28h0m9-9h0m19 12h0m17 4h0m21-1h0m113-15h0m7 6h0m25-13h0m10 51h0m-4-15h0m-32-4h0m-5 7h0m-9-1h0m-82 37h0m-14 4h0m-29-52h0m-3 54h0m-34-13h0m-6-3h0m-11-18h0m-20-2h0m-6 29h0m-15-38h0m-21-8h0m-2 47h0m-6 3h0m-17-48h0m-18 40h0m0 7h0m-4-47h0m0 53h0m-7-12h0m-7-5h0m0 15h0m-3-14h0m-5 17h0m-12-17h0m-1-15h0m-1 16h0m-11-19h0m-18 8h0m-5-6h0m-7 9h0m-16-31h0m-2 31h0m-10-2h0m-6 22h0m-5-27h0m-6-4h0m-8-18h0m-37 24h0m0 24h0m-4-39h0m-3 45h0m-1-44h0m-7-8h0m-17 110h0m9-35h0m14 6h0m5-21h0m66 9h0m17-12h0m1-3h0m0 3h0m1 7h0m11-7h0m10 2h0m9 7h0m5 9h0m4-5h0m28 18h0m1 5h0m9 8h0m44-21h0m0 19h0m6-16h0m4 21h0m2-39h0m2 25h0m4 16h0m2-20h0m2-25h0m3 0h0m1 47h0m3-8h0m1-27h0m1 3h0m0-8h0m4 26h0m0-18h0m0 35h0m2-31h0m0 15h0m1 1h0m4 16h0m5-40h0m2 3h0m1 7h0m7-1h0m10-6h0m0 21h0m7-23h0m0 13h0m1-16h0m8 40h0m0-51h0m1 25h0m0-30h0m1 23h0m2 14h0m0 11h0m3 5h0m0-27h0m2 13h0m2-7h0m0 12h0m7-12h0m0-28h0m1 20h0m10-8h0m4 1h0m3-5h0m1-9h0m5 31h0m8-12h0m2-4h0m11 5h0m0-11h0m3-11h0m3 16h0m1 34h0m13-2h0m2-6h0m6 9h0m5-3h0m11-6h0m3-7h0m30 8h0m5-24h0m2-5h0m-37 85h0m-5-34h0m-10 16h0m-102 12h0m-2-33h0m-5 13h0m-1 34h0m-8-40h0m0 31h0m-11-36h0m-13 33h0m-6 17h0m-5-29h0m-4 6h0m0 17h0m-7-13h0m-23 3h0m-3-8h0m0 12h0m-3 12h0m-3-23h0m-6 27h0m-11-40h0m-1 33h0m-30-47h0m-13 9h0m-33-6h0m-5 7h0m-6 33h0m-5-3h0m-3-6h0m-4-19h0m-18-19h0m-74 55h0m-9-35h0m-20 36h0m-18 39h0m0 0h0m0-9h0m1-14h0m10 12h0m39-8h0m79 38h0m7-38h0m5-2h0m92-5h0m15 4h0m4 37h0m0-31h0m9-11h0m8 50h0m23 3h0m-9 0h0m-151 4h0m-1 29h0" stroke="#7AA520" stroke-width="16"/>
<path d="M6128 5577h0m75 53h0m-31-10h0m-2 5h0m-3-22h0m-15-7h0m-8 1h0m-4-15h0m-8 0h0m0 6h0m-1 9h0m-2 35h0m-1-11h0m-3-39h0m-2 44h0m-7-18h0m-8-19h0m-7 14h0m0-18h0m-1 2h0m-2 14h0m-19 6h0m-7 10h0m-3 17h0m-18-8h0m-17 1h0m-2-19h0m0 31h0m-3-30h0m-6 13h0m-8-15h0m-1 7h0m-3 0h0m-1-17h0m0 24h0m-4-30h0m-2 15h0m-1-11h0m-6 23h0m-2-24h0m-60 23h0m-4 8h0m-15 7h0m-60 39h0m3 11h0m16-22h0m8 36h0m2 0h0m2-8h0m27-21h0m33 27h0m1-6h0m0-10h0m3 5h0m1 13h0m12-7h0m3-18h0m4-1h0m11-2h0m11-3h0m16-8h0m11 21h0m15-3h0m1-33h0m1 37h0m1-30h0m6 39h0m6-1h0m37 12h0m42-2h0m4-8h0m5-45h0m2 40h0m6-10h0m134-4h0m18 1h0m18 27h0m2-15h0m10-34h0m2 6h0m0 37h0m4-43h0m3-7h0m4 2h0m7 2h0m7 0h0m16-5h0m6 38h0m7-11h0m4-7h0m22-13h0m13 15h0m8 36h0m9-3h0m122-16h0m69 63h0m-19-14h0m-1 5h0m-17-16h0m-1-7h0m-4 8h0m-7 15h0m-5-17h0m-1 10h0m-11-7h0m-2-6h0m-1 16h0m-7-24h0m-3 45h0m-2-30h0m-1-3h0m-5-14h0m0 33h0m-5-7h0m-14 21h0m-2-1h0m-16-2h0m-6 6h0m-77-41h0m-94-8h0m-5 31h0m-6-1h0m-2 7h0m-7-22h0m-2-20h0m-2 44h0m-3-8h0m-2-30h0m-12-6h0m-49 40h0m-12 3h0m-107-30h0m-28-10h0m-32 1h0m-24 6h0m-21-3h0m0-4h0m-21 6h0m-11 49h0m-4-3h0m-4-30h0m-6 9h0m-1 18h0m-6-15h0m-7 11h0m-4-20h0m-4-20h0m0-4h0m-4 18h0m-2 35h0m-1-20h0m-2-32h0m-3 22h0m-1-11h0m-2 22h0m-6-18h0m-15-9h0m-16 4h0m0-12h0m-11 77h0m4 1h0m19 11h0m8 7h0m28-8h0m5-29h0m26 24h0m2 15h0m7 3h0m16 1h0m2-12h0m1-6h0m14-15h0m20 17h0m13-6h0m15-16h0m8 0h0m241 3h0m2-8h0m166 39h0m6-9h0m18 3h0m4-29h0m3 5h0m10 10h0m2-9h0m2 25h0m19-36h0m0 8h0m10 28h0m40-24h0m39 18h0m15-12h0m3-7h0m-149 77h0m-11 5h0m-4-24h0m-9 19h0m-3 7h0m-14 15h0m0 5h0m-8-13h0m0-5h0m-6 2h0m-8-18h0m-10 1h0m-101 24h0m0 12h0m-17-34h0m-4 28h0m-1-32h0m-9-6h0m-2 43h0m-19-18h0m-12-22h0m-2 41h0m-3-5h0m-207-53h0m-5 9h0m-14 24h0m-13-23h0m-14 31h0m-2 9h0m-22-6h0m0-21h0m-5-13h0m0-4h0m-3-4h0m-3 27h0m-1 5h0m-18 11h0m-12-11h0m-17-6h0m-4-20h0m-91 22h0m-6-15h0m11 64h0m6 1h0m2 34h0m114-47h0m12-3h0m294 10h0m10 4h0m28-9h0m15 17h0m8-10h0m4 2h0m2-14h0m117 45h0m5 7h0m5-54h0m17 0h0m23 0h0m11 5h0m199 30h0m31 6h0m31 45h0m-16-23h0m-21 26h0m0-11h0m-6 32h0m-7 6h0m-8-1h0m-2-57h0m-12 58h0m-16 0h0m-142-32h0m-6-10h0m0 8h0m-5 21h0m-13-11h0m-25 14h0m-11-6h0m-1-8h0m-6 13h0m-5-14h0m-22-2h0m-61-8h0m-5 11h0m-4-12h0m-1-17h0m-121 34h0m-2-25h0m0 8h0m-1-14h0m-223 40h0m-10 2h0m-8-6h0m-5-8h0m-21-27h0m-21-4h0m-21 46h0m-2 6h0m0-20h0m-3 7h0m-4-18h0m-2-11h0m-7 3h0m0 18h0m349 33h0m8 20h0m63-20h0m26-5h0m67 6h0m47-10h0m173 25h0m7-20h0m9-3h0m2 3h0m0 7h0m6 13h0m14 6h0m9 3h0m7 10h0m3-44h0m4 14h0m6-6h0m6 19h0m54-5h0m6 27h0m14 9h0m13-14h0m12-13h0m37 45h0m-9 1h0m-16 12h0m-15 7h0m-2-28h0m-1 2h0m0 5h0m-1 17h0m-2 9h0m-2-26h0m-10-8h0m-18 33h0m-2 7h0m-299-25h0m-19 32h0m-3-12h0m-9-3h0m-7-6h0m-44 24h0m-33-32h0m-17-9h0m-3-3h0m-1-10h0m-611 25h0m-3 11h0m-15-13h0m-3 28h0m-4-8h0m-3-16h0m-19 70h0m27-28h0m4 10h0m626 18h0m16-28h0m11 21h0m14-20h0m10 7h0m5 6h0m55 28h0m0 2h0m3-23h0m2-27h0m0 24h0m1-13h0m47 11h0m5-1h0m4-3h0m207 8h0m1 11h0m33 9h0m2-29h0m2 26h0m1 0h0m0-37h0m11-12h0m2 44h0m13-36h0m9-9h0m32 58h0m35 51h0m-11-10h0m-1 14h0m-3-21h0m-3 13h0m-12-14h0m-1 7h0m-3 17h0m-2 1h0m0 2h0m-3-15h0m-2 11h0m-1-17h0m-2 22h0m-11-14h0m-4 0h0m-9-28h0m-9-13h0m-3 9h0m-12 44h0m-4-7h0m-4-42h0m-3 6h0m-2-14h0m-5 44h0m-100 11h0m-854-12h0m-10 3h0m-5 12h0m-4-20h0m-1-10h0m-1 8h0m-11-15h0m-6 20h0m-19 5h0m-7-17h0m-1 13h0m0-29h0m-1 40h0m-1-13h0m-1-13h0m-3 23h0m-4-21h0m-1 0h0m-11-12h0m-7 17h0m-12-2h0m-6-19h0m-7 12h0m-4-16h0m-3 16h0m-9 9h0m-8 4h0m25 34h0m8 13h0m0-21h0m15 3h0m1 23h0m2-26h0m8 16h0m3-8h0m3-5h0m6 3h0m22-6h0m700 55h0m33-10h0m28-28h0m5 30h0m8-27h0m9 17h0m5-5h0m1 23h0m4-37h0m11 20h0m0-13h0m45 23h0m13-44h0m3 2h0m11-4h0m93 15h0m25 5h0m3 22h0m6-3h0m6 4h0m8 10h0m6-30h0m9 4h0m22 14h0m1-30h0m9-13h0m4 55h0m2-58h0m9 52h0m0-10h0m0-38h0m2 10h0m0 0h0m0-10h0m1 14h0m7-12h0m8 1h0m2-5h0m7 2h0m7 7h0m2-5h0m7-6h0m-86 70h0m-22-9h0m-32 48h0m0-12h0m-2-23h0m-3-5h0m-9 6h0m-61 20h0m-9 1h0m-31-22h0m-7-3h0m-3 9h0m-7-18h0m-18 15h0m-5 41h0m-23-14h0m-8 3h0m-5 0h0m-3-8h0m-1 16h0m0-23h0m-1-10h0m-6 34h0m-10-46h0m-4 16h0m-3-11h0m-10 22h0m-6 21h0m-6-56h0m0 12h0m-6 10h0m-11 17h0m-1-41h0m-6 8h0m-20 1h0m-4-6h0m55 74h0m6-3h0m5 14h0m1-1h0m1-19h0m3 3h0m2 16h0m15-7h0m224 25h0m11-18h0m0 3h0m6-5h0m15 31h0m11-46h0m62 55h0m-2 6h0m-26 16h0m-10 6h0m-34-31h0m-13 55h0m-15-32h0m0-8h0m-124-8h0m-2 1h0m-19 34h0m-11 8h0m-41 5h0m-62-32h0m17 76h0m9-12h0m14 3h0m2 7h0m8-15h0m4-4h0m7-11h0m20 35h0m12-9h0m7-15h0m27 16h0m12 16h0m33-29h0m4 4h0m4 20h0m13-47h0m76-1h0m8 11h0m11 4h0m-5 95h0m-5-34h0m-13 23h0m-71-36h0m-11 13h0m-4-2h0m-3-11h0m-44 48h0m-3-39h0m-6 12h0m-6 7h0m-38-3h0m-2 16h0m-7-5h0m-17 6h0m0 14h0m-43-13h0m-16-19h0m-8-11h0m-27 5h0m-26 13h0m-13 4h0m-65 22h0m43 43h0m12-3h0m0 18h0m10-18h0m5-23h0m9 1h0m2-5h0m0 16h0m27 24h0m5-10h0m4 14h0m0-26h0m5-3h0m11 4h0m5 25h0m34-46h0m1-5h0m2 48h0m0-50h0m9 3h0m1 26h0m0 6h0m0 5h0m5-27h0m0 6h0m1-9h0m4 26h0m5-22h0m8 38h0m6-38h0m172-18h0m-159 68h0m-3-5h0m-7 11h0m-44 13h0m-4-4h0m-15-7h0m-5 6h0m-27 29h0m-3-30h0m-3 3h0m-31 7h0m-2 8h0m-12 3h0m-32-41h0m87 89h0m3-21h0m7 6h0" stroke="#F27A7C" stroke-width="16"/>
<path d="M6109 5579h0m7-8h0m279 59h0m-72 9h0m-20-6h0m-107-10h0m-42-25h0m-13-7h0m-2 1h0m-11 41h0m-2-23h0m-2-17h0m-3-8h0m-1 13h0m0 37h0m-42-14h0m-4-30h0m-7 27h0m-15 11h0m-7-17h0m-3 20h0m-31-37h0m-71 38h0m-91 52h0m1-13h0m24 26h0m14-18h0m3-14h0m2-7h0m7 23h0m2-35h0m3 26h0m2-17h0m5 12h0m20 6h0m9 3h0m7 15h0m4-5h0m3 9h0m3-21h0m8 20h0m5-29h0m6 3h0m9-7h0m3-5h0m1 17h0m6-20h0m3 4h0m1 21h0m13-8h0m6 18h0m0-36h0m7 22h0m9-24h0m10 6h0m21-11h0m4 48h0m9 0h0m1 4h0m193-19h0m5-6h0m2 18h0m5-33h0m22 0h0m3 41h0m11-56h0m29 1h0m18-3h0m15 24h0m27-15h0m7 3h0m8 19h0m2-9h0m129 31h0m66 48h0m-3-26h0m-13 4h0m-8 6h0m-10-7h0m-21 2h0m0-16h0m-1 52h0m-4-15h0m-2 5h0m-3-26h0m0-5h0m-9 17h0m-5 2h0m-12 7h0m-1-22h0m-2 7h0m-12 10h0m-12 22h0m-88-44h0m-1-1h0m-7 13h0m-95-1h0m-1-20h0m-7 50h0m-18-2h0m-5-7h0m-18-5h0m-8 1h0m-40-2h0m-95-28h0m-23-2h0m-11 44h0m-30-54h0m-9 0h0m-15 12h0m-14-7h0m-9 9h0m-6-3h0m-11-3h0m-3 1h0m-3 9h0m-4-3h0m-3 39h0m-4-9h0m-2-28h0m-1 25h0m0-23h0m-3 31h0m-7-13h0m0 6h0m-5-15h0m-5 20h0m-1 5h0m-4-53h0m-2 7h0m-1 12h0m0 28h0m-2-25h0m0 8h0m-2-16h0m-4 2h0m-1 24h0m-10-18h0m-6-2h0m-17-4h0m-19-6h0m-3-11h0m15 98h0m3-9h0m2 5h0m11 11h0m8 5h0m27-18h0m22-11h0m7 10h0m3-14h0m23-13h0m16 52h0m7-11h0m18-5h0m13-9h0m8-15h0m16-12h0m7 4h0m233-8h0m181 57h0m10 0h0m4-3h0m5-10h0m1-15h0m7 7h0m22-34h0m7 30h0m6-24h0m4-8h0m2 28h0m4-20h0m10 7h0m0-4h0m22-3h0m14 27h0m5-21h0m4 23h0m12 8h0m17-13h0m6-21h0m13-9h0m-163 116h0m-1-12h0m-3-8h0m-5 5h0m0-40h0m-1 40h0m-18-17h0m0 1h0m-5 31h0m-6-15h0m0-8h0m-13 3h0m-14-16h0m-25-4h0m-4-9h0m-5 6h0m-93 25h0m-2-6h0m-2-9h0m-6-3h0m-1 20h0m-2-14h0m-15 22h0m-4-29h0m-14 19h0m-11 14h0m-210-36h0m-6 9h0m-10 10h0m-10-19h0m-8 8h0m-14 6h0m-5-26h0m-4 46h0m-2-10h0m-4 11h0m-13-10h0m-7-7h0m-5 14h0m-25-19h0m-11-14h0m-93 24h0m-10-6h0m-4-11h0m-5 4h0m23 67h0m1 2h0m2 22h0m418-27h0m2 15h0m3-41h0m4 10h0m29 8h0m149 2h0m2-22h0m5 28h0m2-25h0m3-4h0m0 15h0m32-18h0m31 56h0m184-22h0m7 20h0m4-40h0m4 7h0m17 25h0m6 12h0m25 26h0m-3 9h0m-3 16h0m-3-2h0m-1-4h0m-2-24h0m-2 36h0m-3-52h0m-5 48h0m-24-3h0m-1-24h0m0 15h0m-5-36h0m-2 18h0m-6-19h0m-5 11h0m-6 45h0m-9-14h0m-1-8h0m-2 23h0m-4-25h0m-139 7h0m-10 3h0m-1-3h0m-4-33h0m-1 35h0m-5-36h0m-30 42h0m-12-2h0m-7-15h0m-21-6h0m-5-11h0m-10 41h0m-64-7h0m-30 10h0m-8-4h0m-80-13h0m-2 2h0m-213 8h0m-4-3h0m-33-29h0m-2 12h0m-2-11h0m-1-11h0m-14-4h0m-34 51h0m-13-36h0m-3 7h0m-2 16h0m-5-9h0m329 26h0m1-1h0m15 22h0m0-9h0m3 14h0m71-20h0m9 39h0m85-43h0m37 23h0m6-12h0m8 16h0m15-5h0m7-13h0m155 4h0m20 3h0m6 9h0m19-25h0m7 13h0m14 23h0m16-37h0m33 47h0m25 6h0m14-7h0m4-8h0m7-6h0m-8 28h0m-11 44h0m0-14h0m-2 11h0m-26-6h0m-5-14h0m-277-10h0m-5 0h0m-1 4h0m-3 19h0m-14 19h0m0-29h0m-3 5h0m-8 4h0m-5 17h0m-65 3h0m-1 2h0m-13-12h0m0-11h0m-19-11h0m-640 4h0m-3 17h0m-4 6h0m-28 43h0m23-8h0m50 32h0m590-39h0m5 16h0m11-5h0m16-4h0m6-25h0m75 2h0m20 11h0m22-2h0m4 5h0m20 18h0m211-6h0m8 9h0m24 14h0m2 7h0m2-44h0m65 44h0m45 53h0m-5 4h0m-4-1h0m-8 3h0m-5-23h0m-12-23h0m-2-8h0m-7 17h0m-4 0h0m-2-7h0m-1 30h0m-8 12h0m-1-34h0m0 22h0m-11 2h0m-9-16h0m-24-27h0m-3 56h0m-1-49h0m-14 45h0m-6-41h0m0 8h0m-112 3h0m-5-5h0m-9-2h0m-811 34h0m-35-3h0m-14 10h0m-4-43h0m-1-1h0m-14 4h0m-1 39h0m-5-35h0m-11 15h0m-1 3h0m-15 14h0m-2-34h0m-5-2h0m-1 19h0m-8-10h0m-7-14h0m-4 5h0m-13 14h0m-2-31h0m0 4h0m-7 1h0m31 84h0m2-12h0m8-4h0m5 20h0m1-23h0m21-5h0m6 0h0m786 33h0m12 15h0m0 0h0m0-22h0m9 7h0m4 5h0m4 13h0m10-4h0m13-1h0m55-49h0m3 13h0m62 3h0m43-4h0m2 11h0m13 12h0m0-32h0m2 19h0m8 27h0m4-38h0m7-4h0m1 11h0m4 13h0m8 24h0m8-44h0m5-8h0m3 39h0m2-26h0m1 20h0m2-10h0m3 20h0m11 0h0m6-24h0m0-3h0m4-15h0m6 4h0m3-10h0m9 2h0m0-1h0m27 5h0m1-7h0m-68 68h0m-11 47h0m-31 3h0m-2-49h0m-13-1h0m-2 41h0m-2-43h0m-3 11h0m-11-7h0m-5 43h0m-10-10h0m-3-10h0m-16-15h0m-62 28h0m-17-4h0m-4-1h0m-34-26h0m-16-10h0m-6 9h0m-5 35h0m-19-3h0m-5-32h0m0 16h0m-5 16h0m-3 5h0m-24-10h0m-1-17h0m-1 26h0m0-18h0m-8 16h0m-11 3h0m-23-16h0m-12 9h0m-3-9h0m-16-2h0m-6-6h0m71 34h0m8 17h0m1-15h0m4 10h0m3 41h0m8-42h0m1 15h0m18-20h0m201 3h0m17 1h0m4 43h0m1-50h0m10 6h0m1-7h0m8 4h0m10 0h0m70 68h0m-5 12h0m-43-15h0m-5-7h0m-44 43h0m-4-27h0m-12-1h0m-5 16h0m-1-12h0m-2 9h0m-62 21h0m-10 4h0m-1-5h0m-44-11h0m-56-3h0m-12 1h0m-62-18h0m12 70h0m11 4h0m1 8h0m14-12h0m1 6h0m3 9h0m11-22h0m5-4h0m13-9h0m25 0h0m6-8h0m25 24h0m18 27h0m23 1h0m4-51h0m4 40h0m3-26h0m8 16h0m5 18h0m7-17h0m0 1h0m5-25h0m55 46h0m45-40h0m-12 91h0m-3 6h0m-10-13h0m-3-34h0m-1 42h0m-16-3h0m-69-47h0m-2 0h0m0 3h0m-13 44h0m-6-10h0m-12 10h0m-2-45h0m-3 4h0m-2 9h0m-2 32h0m-12 7h0m-5 1h0m-1-21h0m-36 9h0m-5-35h0m-1-4h0m-1 37h0m-4-3h0m-5-10h0m0 19h0m0-36h0m-5 27h0m-56 12h0m-8-12h0m-24-21h0m-31 3h0m-4 6h0m-7 1h0m-17 8h0m-40 23h0m-4 1h0m-5-11h0m14 57h0m9-14h0m5 10h0m7 7h0m13-24h0m8 7h0m17-9h0m8 7h0m7 0h0m7 3h0m6-8h0m15 22h0m11 10h0m32-49h0m1 35h0m2-8h0m3 13h0m0-23h0m5 12h0m8-19h0m2-9h0m1 39h0m9 11h0m4-55h0m5 56h0m26-43h0m17 1h0m3-5h0m11-12h0m-50 63h0m-52 14h0m-27 7h0m-3-8h0m-6 14h0m-4 17h0m-2-13h0m-34 3h0m0-7h0m-23 9h0m19 50h0m6-1h0m5-3h0m11 7h0m11-27h0m5-1h0m4 12h0m3-4h0m3 29h0m28-25h0m9-6h0" stroke="#F27A7C" stroke-width="16"/>
<path d="M6327 5635h0m-3-27h0m-19 22h0m-468 22h0m3 32h0m8-13h0m3 12h0m4 4h0m5 4h0m3 7h0m5-24h0m15 6h0m23 15h0m4-23h0m7-10h0m50 37h0m321-1h0m12-35h0m17-18h0m168 26h0m47 19h0m-4 10h0m-76 16h0m-5 8h0m-12 4h0m-89-11h0m-12 38h0m-2-13h0m-4 13h0m-4-6h0m-10-2h0m-20-30h0m-5-7h0m-9 24h0m-4 21h0m-11-1h0m0 3h0m-14-17h0m-7-18h0m-6 32h0m-10 0h0m-8-4h0m-4 6h0m0-7h0m-17 3h0m-43 6h0m-141 1h0m-4-9h0m-4-29h0m0-11h0m-9 47h0m-15-53h0m-7-2h0m-11 27h0m-4-13h0m-1-2h0m-3 26h0m0-35h0m-6 53h0m-38-33h0m-14-10h0m-4-2h0m-19-8h0m-1 0h0m-2 5h0m-43 20h0m-5-7h0m-14-23h0m-16 50h0m-4-26h0m-3 26h0m-2-30h0m-2-7h0m-87 102h0m33-14h0m19-16h0m53-5h0m11 11h0m0-10h0m30 25h0m26 12h0m12-13h0m79 13h0m48-18h0m4-6h0m8-19h0m1 6h0m2-12h0m9 45h0m2-17h0m6 4h0m8 15h0m1 3h0m50-40h0m5 35h0m13-26h0m17 11h0m2-9h0m8-17h0m5 35h0m7-1h0m12-15h0m53 23h0m3-3h0m0-31h0m14 14h0m10 20h0m4-17h0m3 5h0m3 4h0m0 12h0m7-1h0m1-26h0m0 14h0m1-24h0m1-22h0m3 37h0m4-5h0m8-27h0m53 1h0m0 19h0m18-2h0m6 12h0m2-3h0m4 14h0m2 8h0m1-6h0m11-2h0m26-41h0m0 4h0m198 53h0m-28 7h0m-10 35h0m-134-17h0m-2-8h0m-17 3h0m-5-13h0m-15-3h0m-9-5h0m-13 36h0m-9-22h0m-5 42h0m0-11h0m-3-42h0m-1 16h0m0-6h0m-3 28h0m-2-17h0m-5-19h0m-3 49h0m-7-43h0m-39 27h0m-4-31h0m-2 37h0m-2-6h0m-2-26h0m-4 36h0m-2-18h0m-4 14h0m-13-30h0m-9 44h0m0-1h0m-29-48h0m-6 10h0m-55 37h0m-1-23h0m-23 25h0m-18-15h0m-11-43h0m-5 4h0m-8 46h0m-1-40h0m-5 3h0m-6 18h0m-8-30h0m-2 40h0m-9 1h0m-1-9h0m-5 9h0m-15-19h0m-16-15h0m-2 27h0m0 9h0m0-31h0m-4 30h0m-3-22h0m-9 12h0m-4 13h0m-1-18h0m-5 22h0m-5-35h0m-1-7h0m-1 18h0m-7-3h0m-3 28h0m-2-52h0m-4 1h0m-9 13h0m-5-5h0m-1-7h0m-4 20h0m-5 36h0m-2-50h0m0 40h0m-5-25h0m-1 14h0m0 12h0m-2-3h0m-11-19h0m-11 21h0m-22-4h0m-4 14h0m-5-12h0m-2-1h0m-16-15h0m-6-16h0m-20 1h0m-125 37h0m-8-12h0m-2-38h0m-5 42h0m-67 43h0m15 30h0m16-4h0m9-25h0m236-26h0m23 28h0m6-15h0m1 21h0m1-7h0m0-9h0m4 11h0m19 0h0m4 7h0m7-15h0m5 24h0m2 0h0m16-42h0m30-1h0m11 0h0m17 17h0m4-4h0m1 20h0m0 6h0m43-42h0m2 11h0m14-3h0m15 47h0m7-50h0m3 23h0m3 3h0m0 8h0m1-36h0m1-1h0m3 52h0m10-21h0m2-3h0m1-18h0m2 31h0m3 5h0m1-2h0m1-36h0m0 14h0m2-7h0m4 20h0m9-22h0m1 2h0m7 13h0m4-15h0m4 41h0m5-1h0m8-32h0m1 34h0m3 0h0m4-42h0m13 6h0m25 33h0m6-5h0m2-22h0m2 5h0m4-30h0m3 10h0m2 3h0m0-8h0m1-8h0m4 4h0m8-4h0m3 35h0m2-26h0m4 4h0m3 32h0m0-23h0m2-10h0m6 10h0m4 22h0m2-39h0m1 6h0m2 6h0m9 41h0m7-44h0m4 37h0m1-32h0m6 26h0m1-22h0m6 32h0m6-25h0m3 0h0m21 10h0m1-10h0m6 21h0m11-14h0m10-14h0m24 15h0m2 6h0m1-26h0m1 25h0m0 2h0m4 2h0m3-20h0m3-21h0m3 30h0m11 9h0m0-29h0m5 14h0m4 17h0m8-16h0m15 21h0m1-13h0m147 47h0m0 29h0m-2-21h0m-3-20h0m-7-1h0m-2 46h0m-12-5h0m0-53h0m-1 57h0m-8 0h0m-3 1h0m-31-28h0m-5-5h0m-28-18h0m-33-7h0m-16 1h0m-1 37h0m-10 9h0m-3-9h0m-12-34h0m-1 42h0m-3-1h0m-6-31h0m0 18h0m-6-11h0m-3-9h0m-12 1h0m-7 22h0m-3 1h0m-6-9h0m-1 30h0m-6-32h0m-20 7h0m-2-27h0m0 20h0m-7-6h0m-9 11h0m-2 2h0m-4-28h0m-5 9h0m-2 22h0m-1-6h0m-5-16h0m-5 14h0m0 21h0m-4-14h0m-13-25h0m-7 46h0m-8-4h0m-2-3h0m-7-13h0m-4 11h0m-1-32h0m-1 25h0m-1-18h0m0 18h0m-17-3h0m-1-6h0m-10 2h0m-1 16h0m-12-24h0m-1-23h0m-1-1h0m-5 9h0m-1 41h0m0-15h0m-4 23h0m-11-50h0m-10 14h0m-4-20h0m-1 39h0m0 12h0m-6 1h0m-3-24h0m-1 4h0m-1 8h0m-2 9h0m-2-12h0m-1 9h0m-3 10h0m-2-6h0m-3-17h0m-11 13h0m-16-14h0m-1-14h0m-3-17h0m-8 15h0m-2-15h0m-2 22h0m0-2h0m-5-21h0m-6 38h0m-7-41h0m-2 16h0m-5-8h0m-1 23h0m-3-19h0m0 12h0m-4-1h0m-1-16h0m-3 22h0m-7-13h0m0 7h0m-5-11h0m0 28h0m-37-12h0m-39 10h0m-16 19h0m-10-38h0m-3-11h0m-14 42h0m-6-13h0m-12 12h0m-5 4h0m-8 4h0m-13-18h0m-3-18h0m-263-18h0m-3 10h0m-5-11h0m-2 1h0m336 109h0m19-45h0m16 16h0m177-15h0m0-1h0m12 12h0m5-17h0m1-1h0m6 4h0m9-5h0m8 13h0m2 16h0m7 10h0m3-11h0m2-16h0m2 29h0m4-35h0m1 44h0m4-34h0m0 14h0m0-12h0m2 24h0m3-18h0m0-18h0m7 3h0m0-7h0m8 38h0m8-25h0m7-9h0m3 9h0m3-15h0m10 3h0m8 3h0m24-4h0m2-1h0m5 17h0m12 37h0m19-21h0m26-6h0m2 25h0m5-19h0m6-11h0m5 36h0m1-16h0m5 13h0m1 0h0m3-47h0m4 44h0m2-6h0m3-38h0m10-1h0m8-1h0m2 19h0m3 2h0m11 28h0m78-56h0m19 49h0m2-47h0m15 45h0m2-18h0m2-20h0m0 23h0m9-28h0m3-2h0m1 20h0m15-4h0m2-6h0m3 24h0m7-9h0m8 10h0m5 8h0m2-16h0m5 2h0m14-1h0m10 15h0m6 6h0m10 8h0m159 60h0m-53-16h0m-6-8h0m-10 20h0m-8 2h0m-10-7h0m-1-9h0m-1-33h0m-2 21h0m-2 1h0m-1 23h0m-2-53h0m-1 42h0m-1 14h0m-5 2h0m-2 1h0m-2-20h0m0-27h0m-4 26h0m-6-34h0m-14 8h0m-9 40h0m-7-40h0m-13 45h0m-3 0h0m-1-40h0m-10 0h0m0-8h0m-7 9h0m-2 14h0m-3-14h0m-10 32h0m-2-29h0m-3-17h0m-10 9h0m-12 31h0m-2 6h0m-5-41h0m-2 50h0m-6-38h0m-1 9h0m0-29h0m-2 18h0m-5-13h0m-9-3h0m-12 12h0m-12-6h0m-1 18h0m0 24h0m-1-39h0m-1 45h0m0-36h0m-9 36h0m-2-57h0m-21 6h0m-15 20h0m-2-1h0m-28 19h0m-1 2h0m-21 11h0m-67-13h0m-5-19h0m-1-25h0m-1 59h0m-4-31h0m0 31h0m-2-2h0m-5-24h0m-2 14h0m0 10h0m-11-20h0m0 5h0m-1-9h0m-1 0h0m-1 25h0m-6-35h0m-12 7h0m-1-25h0m-2 10h0m-15-6h0m-7-2h0m0-3h0m-6 15h0m-8-15h0m-11 78h0m11-17h0m11 4h0m12 11h0m2-5h0m0 18h0m6 12h0m1-37h0m0 22h0m12-18h0m5 15h0m3-5h0m3-22h0m0 26h0m1-17h0m1-2h0m1 29h0m1-25h0m1-1h0m1 16h0m3 10h0m2 11h0m16-41h0m2 32h0m2-34h0m9 3h0m3 51h0m2-53h0m0 20h0m6 20h0m2-23h0m2 26h0m2-29h0m2 37h0m2-12h0m1-30h0m3 16h0m1 15h0m10-9h0m6-14h0m4 6h0m2-12h0m0 31h0m4-35h0m1 18h0m3-30h0m4 30h0m17 4h0m10-12h0m9 9h0m4-23h0m1 11h0m3-1h0m2 13h0m25 4h0m4-33h0m5 1h0m6 56h0m1-27h0m3 26h0m7-36h0m7 22h0m1 9h0m1 1h0m7-22h0m5 2h0m2 8h0m9-22h0m1-12h0m2-2h0m12 6h0m9 9h0m8-14h0m2 3h0m1-2h0m2-7h0m53-1h0m3 10h0m23 30h0m15 11h0m3 0h0m6 5h0m7-3h0m24-1h0m38-20h0m6-4h0m24 8h0m13-22h0m-13 74h0m-4-27h0m-22 37h0m-12-15h0m-6-22h0m-3 45h0m0-12h0m-1-11h0m0-6h0m-16 16h0m-22 20h0m-3-2h0m-68 7h0m-4-4h0m-22-8h0m-51 4h0m-6-31h0m-2 26h0m-2 14h0m-1-27h0m-2-4h0m-1 9h0m-1-21h0m-2 20h0m-2 8h0m-1-30h0m0 27h0m-10-11h0m-4 1h0m-17 4h0m-1 4h0m-6-12h0m-2-12h0m-14-4h0m-2-6h0m-35 22h0m-12 1h0m-6 25h0m-49-52h0m-2 9h0m-3 9h0m-1 12h0m-4 9h0m-3 15h0m-51-47h0m-16-7h0m35 83h0m2-16h0m16 29h0m2-30h0m1 42h0m5-26h0m12 2h0m3-17h0m18 26h0m10-28h0m1 9h0m5 20h0m5-13h0m8-11h0m1 35h0m4-17h0m3 20h0m14-35h0m10 42h0m1-27h0m10-3h0m18 9h0m0 13h0m2-13h0m11 16h0m16 3h0m36-48h0m1-5h0m3-1h0m26 28h0m5-11h0m0-7h0m3 11h0m1-15h0m2 7h0m3 23h0m4-7h0m5 15h0m6-4h0m0-8h0m3 14h0m0-4h0m0 4h0m2-36h0m3 42h0m6-28h0m1 35h0m0-22h0m6-17h0m0-7h0m1 41h0m1-39h0m1 16h0m0-25h0m1 34h0m0-2h0m6-4h0m0 17h0m12-8h0m2-3h0m0 0h0m8-17h0m1-17h0m2 20h0m6 17h0m2-7h0m5 10h0m2-16h0m1 17h0m9-2h0m1 12h0m5-27h0m1 20h0m2-15h0m2 2h0m1-35h0m5 2h0m46 54h0m-6 49h0m-23-14h0m-2-15h0m-3 34h0m-25-38h0m-68-14h0m-1 26h0m-6-1h0m0 12h0m-9-27h0m-3 15h0m-3 5h0m-5 14h0m-1-36h0m-12 11h0m-53 40h0m-5-43h0m-35-12h0m-11 11h0m-25-3h0m-6 5h0m-5 41h0m-2-45h0m-14 7h0m-122 94h0m8 5h0m19-6h0m7-1h0m18-32h0m3 36h0m8-4h0m18-8h0m79-18h0m12 29h0m4-3h0m1-5h0m10-34h0m30 0h0m4-2h0m3 2h0m3 0h0m2 18h0m4-9h0m5 18h0m8 11h0m4-25h0m1-2h0m2-7h0m3 34h0m11-23h0m50-26h0m17 2h0m1 49h0m2-7h0m2-39h0m0 34h0m6-19h0m3 17h0m4-12h0m1-10h0m2 15h0m1-12h0m12 18h0m0-2h0m1 0h0m4 4h0m13 17h0m13-5h0m4-8h0m7-38h0m2 10h0m2-15h0m32 13h0m8 20h0m8 18h0m15 0h0m4 37h0m-2-4h0m0-18h0m-1 51h0m-7-55h0m-7 44h0m-4 12h0m-15-1h0m-1-12h0m-9-4h0m-34-13h0m0 19h0m-11-47h0m0 22h0m0 23h0m-1-17h0m-1 13h0m0 9h0m-4-40h0m-1-5h0m-5 21h0m-1-23h0m-1 3h0m-6 21h0m-23-15h0m-1 22h0m-3-34h0m-10 10h0m-7 34h0m0-18h0m-3-13h0m0-7h0m-1 6h0m0 29h0m-2 1h0m0-34h0m-10 38h0m-1-32h0m-10 6h0m-1-10h0m-1 0h0m0 29h0m-17-27h0m-9-4h0m-5-8h0m-1 13h0m-1 2h0m-4-13h0m-6 26h0m-9 17h0m-91 7h0m-5-42h0m-4 34h0m-6-8h0m0 2h0m-1 7h0m-2-21h0m-32-2h0m-5 8h0m-1 5h0m-1 6h0m-9-28h0m-5 14h0m-1 27h0m-1-14h0m-3-2h0m-3 9h0m-3-46h0m-3 10h0m-3 39h0m-2-34h0m-2-8h0m-3 25h0m0-31h0m-3 4h0m-3 52h0m-3-55h0m-1 44h0m-4 0h0m-2 3h0m-13-22h0m-8 8h0m-4-16h0m-9-6h0m-10-8h0m-2 28h0m0-14h0m-1 7h0m-1-10h0m-1 35h0m0-11h0m-4-23h0m0 10h0m-2-15h0m-1 35h0m-2-33h0m-4-14h0m0 50h0m-4-2h0m-1-31h0m-1 32h0m-8-24h0m-2 14h0m-1-7h0m0 11h0m-5 3h0m-1 8h0m-17-2h0m-29 55h0m55-9h0m3-22h0m12 14h0m41-12h0m5-17h0m24 45h0m10-26h0m13 27h0m6-9h0m2-22h0m3-1h0m9-5h0m15 12h0m24-22h0m21 55h0m11-4h0m6-27h0m2 5h0m13-31h0m25 58h0m10-31h0m8 28h0m3-4h0m1-21h0m2 2h0m7 1h0m12-16h0m3-6h0m6 27h0m0 8h0m6-5h0m31-2h0m4 4h0m1-11h0m13 17h0m2-22h0m1 1h0m1-19h0m4 41h0m5-38h0m2-7h0m10 35h0m0-29h0m1-9h0m9 14h0m4-14h0m0 33h0m0 18h0m6-43h0m1 24h0m6 1h0m44 14h0m4 6h0m5-24h0m25-7h0m9 17h0m3-7h0m1-13h0m4-14h0m5 35h0m0-18h0m-137 52h0m-32-14h0m-13 15h0m-4 12h0m-59-23h0m-9 5h0m-59-5h0m-5 10h0m-19 0h0m0 8h0m-27-3h0m-6-5h0m-5 40h0m-8-5h0m-42-48h0m-76 55h0m-47-53h0m-1 10h0m-5 3h0m-12 9h0m-6-5h0m20 66h0m24-8h0m4 20h0m5-15h0m4 17h0m1-2h0m1 9h0m0 4h0m5-45h0m7 28h0m0-35h0m115 4h0m10 26h0m5 18h0m2-19h0m2-7h0m1-8h0m6 24h0m11-3h0m11 4h0m1 6h0m79-3h0m4-9h0m0-7h0m2-13h0m9 45h0m0-56h0m1 51h0m9-12h0m2-33h0m8 34h0m6 8h0m11-6h0m15-12h0m7-28h0m1 16h0m10-7h0m23 3h0m2 2h0m-70 41h0m-26 3h0m-8 1h0m-8-1h0m-15 8h0m-14-1h0m-1-9h0m-3 20h0m-12-17h0m-3 5h0m-62-6h0m0 30h0m-5-6h0m-1-25h0m-67 6h0m62 64h0m21 9h0" stroke="#4CC0C2" stroke-width="16"/>
<path d="M6311 5619h0m-489 53h0m18-6h0m7-6h0m3 16h0m3-2h0m8-14h0m1 30h0m2-18h0m4-7h0m6 5h0m1-10h0m5 38h0m6-17h0m119 18h0m284-15h0m1 13h0m15-45h0m11-11h0m2 17h0m0-16h0m182 35h0m5-12h0m4 0h0m16 20h0m1-8h0m-96 50h0m-11 14h0m0-9h0m-2 8h0m-6 12h0m-88 3h0m-22-4h0m-5 6h0m-1-25h0m-5 8h0m-4 11h0m-1-2h0m-5-14h0m-23 12h0m-2-23h0m-2 31h0m-2-32h0m-4 5h0m-6 12h0m-8-4h0m-1 12h0m-20 3h0m-5-9h0m-208-34h0m-2 5h0m-30-11h0m-5 20h0m-3-5h0m-2 32h0m-4-12h0m-12-7h0m-18-10h0m-2 6h0m-11-7h0m-9-9h0m-2-7h0m-9 9h0m-10-1h0m-9-7h0m-2 3h0m-18 1h0m-1-8h0m-3 8h0m-3 15h0m-17 13h0m-4-35h0m-24 8h0m-13 34h0m-3-12h0m-47 65h0m8-6h0m33-27h0m1 3h0m15 15h0m4-11h0m25 30h0m0 6h0m5-9h0m4 6h0m12 9h0m5 4h0m32-12h0m139-6h0m14-16h0m6 36h0m1-8h0m1 9h0m20-2h0m7 0h0m2 1h0m2-5h0m38-4h0m2-18h0m6 2h0m1 6h0m6-20h0m7-5h0m9-5h0m6 47h0m0-2h0m3-12h0m4 13h0m13-54h0m5 2h0m4-2h0m56 2h0m8 55h0m5-5h0m1 2h0m3-39h0m7 7h0m7 16h0m8-3h0m3 5h0m4-41h0m1 39h0m3-34h0m1 19h0m10-8h0m4 19h0m8 8h0m37-32h0m4 6h0m4 14h0m14 15h0m11-23h0m4 29h0m7-17h0m4-8h0m182 32h0m12-1h0m11-7h0m-24 52h0m-1-18h0m-7 25h0m-109 7h0m-15-16h0m-12-24h0m-11-8h0m-10 5h0m-33 10h0m-2 18h0m-11-9h0m-1 23h0m-13-48h0m-8 6h0m-16 2h0m-4 22h0m-2-19h0m-2 13h0m-8 22h0m-17-50h0m-7 29h0m-2-4h0m-10 8h0m-1-12h0m0 18h0m-2-19h0m-2-14h0m-8 47h0m-26-10h0m-8-6h0m-17 8h0m-14 5h0m-21-25h0m-6 4h0m-4-31h0m-2 54h0m-4-42h0m-10 42h0m-4-54h0m-11 1h0m-19-1h0m-11-2h0m-6 25h0m-10-18h0m-4 0h0m-1 29h0m-7 0h0m-10 18h0m-8-14h0m-3-22h0m-2 33h0m0-18h0m-6-10h0m-1-9h0m-2 1h0m-1-15h0m-2 48h0m-1-40h0m0 6h0m-1 15h0m-3-8h0m-2 35h0m0-6h0m-10 8h0m-5-4h0m-2-5h0m-5 4h0m-6-7h0m0-11h0m-7-34h0m0 25h0m-19-4h0m-4-21h0m-10 50h0m0-37h0m-6-11h0m-11 31h0m-2 6h0m-1-21h0m-3 5h0m-12 13h0m-25 21h0m0-5h0m-14-12h0m-13-1h0m-4-40h0m-4 24h0m-18-4h0m-1-11h0m-119 30h0m-6 18h0m-2-31h0m-3 6h0m-7-5h0m-8-7h0m-11 8h0m-48 60h0m10 21h0m3-21h0m2 20h0m10-13h0m8 5h0m1-13h0m246-21h0m4 23h0m1-11h0m1 11h0m2-23h0m10 25h0m4-24h0m11 20h0m1-5h0m5 5h0m7-9h0m6 5h0m1-5h0m6 24h0m4-40h0m8 57h0m46-59h0m20 37h0m6-34h0m24 7h0m18 27h0m0-24h0m7 24h0m1-32h0m3 39h0m1-24h0m0-9h0m1-11h0m3 47h0m1-3h0m2 11h0m1-8h0m3-10h0m5 10h0m9-8h0m3-5h0m7 22h0m1-29h0m1-11h0m8 5h0m0 29h0m1-37h0m4 25h0m4-13h0m0 14h0m5-31h0m9-7h0m1 8h0m15 5h0m18 29h0m1-20h0m3 26h0m21-44h0m17 38h0m1 13h0m8-6h0m0-24h0m3-25h0m0 52h0m3-8h0m4-6h0m17-21h0m4 28h0m0-22h0m1 25h0m0-42h0m2 22h0m6 0h0m1 3h0m0 10h0m0-29h0m1 2h0m1 32h0m2-2h0m1-43h0m4 6h0m2 14h0m2-7h0m2 34h0m1 10h0m7-54h0m0 50h0m3-39h0m3 39h0m2-37h0m1 41h0m0-48h0m6 35h0m0-20h0m4-24h0m1 38h0m2-28h0m1 6h0m1-17h0m24 29h0m4 17h0m4-34h0m13 28h0m6-12h0m8 2h0m23-29h0m11 48h0m2-7h0m13-3h0m4-17h0m5 20h0m1-2h0m1-18h0m4 18h0m177 73h0m-17-1h0m-20-18h0m-6-30h0m0 6h0m-9 4h0m-21 43h0m-15-14h0m-1-24h0m-6-7h0m-5 15h0m0-11h0m-20-11h0m-6-3h0m-11 4h0m-18-1h0m-9 6h0m-3 42h0m-5-24h0m-6-15h0m-1 36h0m-5-8h0m-1 0h0m-5 4h0m-15-33h0m-10 9h0m-32 26h0m-10-7h0m-1-3h0m-2-4h0m-5-12h0m0 18h0m-16-31h0m-1 22h0m-6 5h0m-11-12h0m-4-3h0m-1 1h0m-5 27h0m-4 9h0m-6-30h0m-3 22h0m0-18h0m-5-3h0m-12 12h0m-13-8h0m-3-26h0m-3 3h0m-13 24h0m-10-11h0m-5 11h0m0 22h0m-5-40h0m-1 42h0m-8-18h0m0-14h0m-1-12h0m0 21h0m-1-15h0m-2 3h0m-14 12h0m-2-31h0m-2 42h0m-3-28h0m-1 22h0m-3-11h0m0-18h0m-2-6h0m-1 42h0m-2 1h0m-6-48h0m-11 35h0m-6 22h0m-5 0h0m-9-26h0m-10-28h0m-14 5h0m-12 34h0m-4-5h0m-9 0h0m-2-29h0m-3 14h0m-4 13h0m-1-26h0m-1 24h0m-1-3h0m-8-10h0m-1-16h0m-2 10h0m-5 1h0m-46 14h0m-33-18h0m-6 45h0m0-44h0m-2 40h0m-3-7h0m-13 9h0m-6-1h0m-8-1h0m-12-43h0m-3 43h0m-20-49h0m-267-2h0m-1 8h0m324 60h0m1 42h0m13-42h0m4 25h0m3-26h0m4 6h0m1 4h0m4-5h0m183-8h0m13 1h0m24-6h0m1 13h0m1-5h0m10 16h0m1-23h0m7 46h0m5 4h0m2-24h0m2 16h0m2-4h0m1-34h0m2-5h0m2 57h0m1-54h0m11 55h0m4-23h0m2-23h0m5-2h0m2 13h0m3-22h0m39 13h0m17 40h0m2-34h0m2 28h0m0 2h0m0-48h0m3 1h0m5 44h0m2-5h0m2 1h0m1-20h0m1 33h0m7-15h0m2-25h0m6 36h0m1-41h0m3 23h0m13-17h0m12 27h0m0-7h0m3 11h0m2 2h0m1-2h0m10-30h0m1 25h0m1-37h0m5 0h0m8 28h0m10-33h0m1 18h0m25 21h0m71-41h0m1 0h0m4 1h0m2 4h0m11-1h0m0-2h0m15 53h0m2-12h0m12-11h0m5 26h0m10-45h0m0-13h0m8 6h0m1 22h0m0 26h0m8-10h0m6-2h0m6-12h0m3 25h0m6-4h0m5-26h0m4 7h0m7-3h0m10 17h0m86 7h0m44 54h0m-3-21h0m-2 18h0m-34 7h0m-2-19h0m-7 12h0m-6-18h0m-3 13h0m-1 7h0m-3-4h0m-17 0h0m-25-42h0m-10 16h0m0-9h0m0 51h0m-18-5h0m-4 2h0m-3-23h0m-3-32h0m-8 11h0m-3 1h0m-2 35h0m-1-2h0m0-27h0m-2 17h0m-1-14h0m-3 26h0m-6 3h0m-7-19h0m-11-1h0m-2-27h0m-3 44h0m-10 11h0m-2-49h0m-2 31h0m-2 16h0m-2-4h0m-1-7h0m-2-5h0m-8-3h0m-1-33h0m-1 3h0m-3-6h0m-3 17h0m-2-12h0m-2 22h0m-16 24h0m-12 1h0m-1-46h0m-5 52h0m-8 0h0m-8-47h0m-1 37h0m-16-2h0m-10-6h0m-19-28h0m-12 41h0m-11 1h0m-44-45h0m-13 8h0m-1 16h0m-2-24h0m-5 47h0m-11-9h0m-7-23h0m-1 19h0m-1 9h0m-3-42h0m-2 36h0m-10-17h0m0 7h0m-4 10h0m-1-18h0m-1-16h0m-1-7h0m0 12h0m-9-12h0m-13 46h0m-8-45h0m-2 12h0m-1-13h0m-1 25h0m-6 52h0m14-14h0m15 31h0m2-16h0m1-5h0m8-2h0m1 1h0m1 26h0m24-13h0m3-23h0m0-8h0m21 59h0m3-8h0m10-33h0m5-5h0m1 36h0m1-24h0m3 17h0m8 2h0m2 1h0m2-34h0m4-7h0m1 35h0m14-15h0m4-12h0m2 19h0m2-7h0m1 22h0m1-40h0m10 5h0m1-9h0m16 30h0m5-15h0m2 8h0m6-10h0m9 8h0m29-14h0m2-1h0m1 27h0m9 2h0m12-27h0m4 47h0m9-28h0m2 1h0m4 25h0m8-52h0m6 0h0m14 1h0m2 12h0m9-11h0m4 16h0m4-8h0m4 21h0m16 3h0m16 17h0m8-5h0m2-4h0m12 13h0m8-52h0m9 42h0m36-46h0m0-1h0m3 7h0m23 42h0m12-50h0m4 48h0m8 3h0m4-33h0m22 38h0m8-56h0m7 24h0m8-2h0m2-14h0m1 11h0m0-10h0m-24 83h0m-22 0h0m-1 3h0m-7-5h0m-7-1h0m-3-1h0m-6-2h0m-6 14h0m-6-14h0m-5-21h0m-11 50h0m-2-13h0m-56-35h0m-50 35h0m-6 7h0m-1-3h0m-36-35h0m-5 41h0m-3 7h0m0-9h0m-1 8h0m-1-18h0m-5 8h0m-3-22h0m-2-26h0m-7 41h0m-1 16h0m-4-21h0m0-6h0m-1 21h0m-9-1h0m-4-1h0m0-26h0m-10-6h0m-10-2h0m-1 19h0m-43 4h0m-1 11h0m-25-33h0m-36 4h0m0-19h0m-1 5h0m-10 24h0m-2 15h0m-38 31h0m11 19h0m18 6h0m6 3h0m6-4h0m7-21h0m3-1h0m16 14h0m7-6h0m3-2h0m9-18h0m4 9h0m4 33h0m0-34h0m3-9h0m3 15h0m15-4h0m5-2h0m6 6h0m4 5h0m12-1h0m3 13h0m23-12h0m3-11h0m52 14h0m9-23h0m3 10h0m3-11h0m2 1h0m4-1h0m4 22h0m6-9h0m8 20h0m9-17h0m2 5h0m2-1h0m5 5h0m0 3h0m1 9h0m1 16h0m1-9h0m1-26h0m1 24h0m0-41h0m1 27h0m1 27h0m2-43h0m2 25h0m4 17h0m0 1h0m0-51h0m14 2h0m0 38h0m1-6h0m6-42h0m2 36h0m5 15h0m0-46h0m1 11h0m3 29h0m0-6h0m2 10h0m3-11h0m4 10h0m2-22h0m3 17h0m11 10h0m12-26h0m3 26h0m1-35h0m0 24h0m60 12h0m13-3h0m-31 57h0m-6-39h0m-14 38h0m-44-39h0m-8-4h0m-5-3h0m-5 7h0m-21 40h0m-10-26h0m-1-9h0m0 38h0m-7 3h0m-3 2h0m0-21h0m-2-3h0m-5-28h0m-3 47h0m-1-24h0m-5 17h0m-2 6h0m-1-35h0m-1 41h0m-67-19h0m-8 13h0m-3-38h0m-2 33h0m-1-40h0m-3-4h0m-31 9h0m-33-1h0m-6 2h0m-16 41h0m-7-37h0m-83 43h0m-13-3h0m-30 60h0m25-3h0m3 3h0m3 0h0m6 2h0m19-7h0m8-3h0m1 8h0m37-15h0m5-11h0m3-6h0m7 7h0m1 29h0m3-29h0m2 28h0m2 0h0m2-12h0m5 9h0m26-46h0m6-3h0m5-3h0m12 16h0m12 8h0m1 11h0m2 13h0m3-35h0m2 19h0m13-23h0m1 3h0m1 28h0m33-7h0m6-15h0m5 19h0m1 12h0m2-9h0m7 8h0m11-22h0m2 27h0m3-15h0m61 11h0m8-46h0m0 23h0m4 19h0m6-28h0m4 14h0m3-4h0m6-1h0m2 5h0m1 24h0m1-18h0m15 17h0m1-3h0m3-8h0m3-6h0m5 5h0m14-16h0m22-27h0m10 54h0m3 1h0m1-4h0m17-16h0m5 17h0m5-29h0m1 16h0m0 2h0m3 32h0m-2-14h0m-7 0h0m0 24h0m0 34h0m-2-3h0m-1-13h0m-1 15h0m-9-10h0m-3 8h0m-4-8h0m-5 10h0m-1-16h0m-3-9h0m-1 21h0m-1-20h0m-5 7h0m-6 0h0m-8 2h0m-1 2h0m-4 2h0m-11 8h0m-3-34h0m-9 19h0m-1-29h0m-1 16h0m-5-13h0m-3-4h0m-2 4h0m-3 13h0m-3-4h0m-12 19h0m-10 0h0m-1-27h0m-2-4h0m-1 27h0m-1-32h0m-1 42h0m-1-16h0m-3 0h0m-1 11h0m-25-34h0m-2 16h0m-2 17h0m-9-2h0m-1-8h0m-1-25h0m-5 9h0m-3-10h0m-4 21h0m-3-15h0m-18 15h0m-6-21h0m-7 46h0m-13-20h0m-6-18h0m-4 0h0m-10-7h0m-13 0h0m-16 1h0m-32 4h0m-13-3h0m-13 41h0m-22 9h0m-7-41h0m-11-13h0m-15-3h0m-6 25h0m-3-12h0m-1 20h0m-6-27h0m0 28h0m-3-9h0m-7 23h0m-4-4h0m-2-42h0m0 17h0m-1 21h0m-18 8h0m-1-4h0m-22-35h0m-15 39h0m-2-4h0m-4-6h0m0 9h0m-4 9h0m0-29h0m-5 22h0m-6-14h0m-14 22h0m-5-29h0m9 82h0m7-51h0m2 7h0m1 41h0m2-24h0m2 11h0m1 2h0m4-30h0m5-8h0m3 1h0m38 3h0m7 2h0m9 34h0m1-34h0m2 45h0m3-12h0m1-25h0m1-12h0m10 33h0m9 0h0m18-26h0m4-6h0m1 23h0m10 6h0m12-30h0m13 51h0m6-5h0m5 0h0m3-35h0m26-13h0m10 17h0m3-12h0m1-3h0m1 15h0m2-16h0m15 2h0m32 10h0m32 19h0m0 7h0m13 1h0m10 3h0m2-1h0m3 1h0m9-3h0m7-28h0m3 28h0m4 3h0m4-41h0m10 17h0m3 21h0m6-37h0m3-3h0m3 1h0m2 11h0m3-10h0m5 57h0m10-28h0m16 0h0m35-31h0m0 2h0m9 45h0m0-10h0m8 16h0m25-20h0m-153 78h0m-9-36h0m0 32h0m-2-8h0m-2 16h0m-5-31h0m-59 4h0m-7 12h0m-71-17h0m-3-6h0m-18 35h0m-4-41h0m-14 0h0m-6 22h0m-5 25h0m-5-21h0m0 15h0m-7-10h0m-4-8h0m-2-6h0m-7-1h0m-8-1h0m-3-12h0m-2 4h0m0-4h0m-83 35h0m-2-3h0m-2 7h0m-50-50h0m-6 15h0m0 34h0m-9-2h0m-6-21h0m19 32h0m12 9h0m3 19h0m12-1h0m6-7h0m2-9h0m2 26h0m7 8h0m2 11h0m2-41h0m7 32h0m9 5h0m9 1h0m100-27h0m3-1h0m5 10h0m3-23h0m2 26h0m8-31h0m150 34h0m33-32h0m10 9h0m4 4h0m1-23h0m1 4h0m13 15h0m7 5h0m-107 51h0m-2-7h0m-9-4h0m-41 6h0m-25-8h0m-45 27h0m-3 5h0m-2 11h0m-5 4h0m-19-11h0m-19-12h0m-38-23h0m-15-3h0m-35 4h0m132 59h0" stroke="#4CC0C2" stroke-width="16"/>
<path d="M6086 5573h0m110 53h0m-6-6h0m-9-15h0m-4 16h0m-3-26h0m-12-11h0m-21-1h0m-6 8h0m-3 22h0m-2-15h0m-39 6h0m-1 7h0m-7-26h0m-2 49h0m0-45h0m-4-6h0m0 23h0m-21-21h0m-12 8h0m-8 32h0m-2-9h0m-4 21h0m-12-38h0m-44 1h0m-4-15h0m-4 41h0m0-4h0m0-41h0m-51 109h0m1-8h0m110-7h0m1-21h0m1 13h0m2-6h0m4 10h0m3-19h0m48 35h0m11-33h0m1 28h0m22-20h0m8 9h0m11 25h0m6-1h0m54-51h0m109 55h0m86-6h0m29-51h0m4 51h0m4-16h0m10-29h0m198 108h0m0-9h0m0-8h0m-6-4h0m-2 17h0m-1-33h0m-2 25h0m0 8h0m-1-15h0m0 2h0m-5 11h0m0 5h0m-9 2h0m0 0h0m0 0h0m-17-47h0m-10 29h0m-2-27h0m-7 47h0m-3-59h0m-2 29h0m-9-22h0m-4 23h0m-1-5h0m-12 8h0m-1-11h0m-5 24h0m-3-14h0m-5-13h0m-1 30h0m-3 2h0m-2-2h0m-3 5h0m-7-6h0m-1-1h0m-4-1h0m0-4h0m-6 1h0m-84-17h0m-3-15h0m-2 5h0m-2 6h0m-12-18h0m-21 5h0m-2 9h0m-26-9h0m-39 24h0m-27-10h0m-1-19h0m-5 4h0m-7 13h0m-5 7h0m-6 4h0m-3 6h0m-42-17h0m-53 9h0m-1 3h0m-11-10h0m-25 34h0m-39-8h0m-25-4h0m-28-41h0m-6 37h0m-7-10h0m-119 26h0m-3-3h0m-56-15h0m-3 6h0m45 16h0m40 53h0m4-46h0m18 19h0m11-12h0m11 38h0m4-18h0m18 18h0m4-20h0m1 15h0m7-11h0m8-17h0m39-12h0m10 11h0m5 30h0m1-17h0m5-16h0m3 36h0m23-8h0m12-6h0m10-7h0m0-16h0m4 15h0m14-4h0m1-4h0m5 28h0m3 9h0m11-33h0m3 9h0m0 4h0m1-2h0m1-8h0m1 11h0m2-3h0m6-2h0m85-13h0m2-11h0m7 13h0m9 19h0m159-2h0m2-20h0m2 30h0m3-36h0m4 13h0m48 10h0m13-31h0m15 9h0m3-1h0m1-10h0m0 12h0m3-13h0m1 4h0m1 23h0m0-16h0m1-1h0m2 12h0m4-23h0m2 19h0m1 2h0m4 6h0m3 23h0m1-4h0m0-10h0m15 0h0m8-37h0m4 15h0m3 31h0m4 1h0m10-29h0m2 29h0m6-26h0m2 10h0m2-17h0m1 25h0m2-3h0m4-38h0m9 23h0m7-17h0m5 33h0m1 6h0m0 4h0m0-23h0m2 29h0m7-10h0m0 3h0m1 8h0m1-31h0m1 8h0m4-20h0m2 12h0m4 33h0m27-50h0m8 47h0m3-36h0m3 14h0m18 4h0m2 2h0m4 19h0m1-20h0m5 11h0m5 0h0m3 7h0m28 51h0m-5-28h0m-3 19h0m-1-6h0m0-1h0m-7 7h0m-1 12h0m0-9h0m-2-35h0m-1 48h0m-4-12h0m-6-22h0m-2 38h0m-3-24h0m-2 3h0m-6-4h0m-3 0h0m-4 11h0m-1-9h0m-3 12h0m0-25h0m-2-11h0m-15 13h0m-8-6h0m-7 32h0m-7-48h0m-1 7h0m-6 23h0m-6-13h0m0 1h0m-5 19h0m-1-18h0m-9 32h0m-3-3h0m-1-49h0m0 44h0m-2 11h0m-2-24h0m-4 12h0m-6-3h0m-3-22h0m-2 6h0m-2-9h0m-6-3h0m-1 37h0m-1-27h0m-4-15h0m-6 34h0m-3-26h0m-2-13h0m-1 24h0m0-10h0m-11 36h0m-6-53h0m-2 36h0m0-32h0m-11 8h0m-17-8h0m-3 19h0m-11 5h0m-82-13h0m-5-13h0m-169 3h0m-109 13h0m-1 27h0m-5-35h0m-1 37h0m-7-21h0m-3-3h0m0-6h0m-7 5h0m-1-17h0m-16 39h0m-5 2h0m-1-17h0m-2 2h0m-8 26h0m-11-56h0m-13 30h0m-4 9h0m-8-2h0m-78 9h0m-1-43h0m-7 38h0m-6-12h0m-17-12h0m-13 7h0m-1-18h0m-15 19h0m-26-5h0m-1-6h0m-16 10h0m94 80h0m4-40h0m14 52h0m17-12h0m37 9h0m43-35h0m5 11h0m3 27h0m2-17h0m58-28h0m14-2h0m10 6h0m24-15h0m100 55h0m127-40h0m7 11h0m18 30h0m7-9h0m1-1h0m1 3h0m5-11h0m13-8h0m25-14h0m12-3h0m19 10h0m1-5h0m11-16h0m7 4h0m16 25h0m1 5h0m11 4h0m18 11h0m1-12h0m0-32h0m1 33h0m6 9h0m2-30h0m25 14h0m6-6h0m6 13h0m11-41h0m3 53h0m1-20h0m1 8h0m10-11h0m1-6h0m1 32h0m1-20h0m6-11h0m0 23h0m1-7h0m0 8h0m1-20h0m1 8h0m0-4h0m0 15h0m3-38h0m3 19h0m5 14h0m1 3h0m5-13h0m4 23h0m4-55h0m8 51h0m1-27h0m1-8h0m4-12h0m0 16h0m5 24h0m1-6h0m7 11h0m1 1h0m1-5h0m4 1h0m4-40h0m2 35h0m37 64h0m0 1h0m-6-1h0m-8-7h0m0 16h0m-11-16h0m-11-21h0m-21 19h0m-1-27h0m0 41h0m-5-3h0m-22-20h0m-27-18h0m-3-8h0m-14 23h0m-43 10h0m-12-13h0m-13 36h0m-23-23h0m-1-20h0m-1 7h0m-10 21h0m-4-9h0m-2 0h0m-4-4h0m-4 27h0m0-37h0m-4 18h0m-5-11h0m-3 17h0m-4-18h0m-9 2h0m-9 18h0m-11 5h0m-10 3h0m-1-33h0m-8-20h0m-9 0h0m-5 19h0m-8 32h0m-3-28h0m-10 10h0m0-25h0m-3 12h0m-9-15h0m-5 18h0m-3-6h0m-14 4h0m-24-2h0m-46 39h0m-21 0h0m-5-16h0m-6 14h0m-16-28h0m-3 30h0m-15-32h0m-4 3h0m-4 23h0m-7-24h0m-6 7h0m-48 2h0m-1-8h0m-108 12h0m-2-38h0m-10 45h0m-10-8h0m0-13h0m-8 15h0m-6-22h0m-7 26h0m-8-7h0m-1-35h0m-1 43h0m-1-39h0m-2 4h0m-1 31h0m-5 5h0m-2 5h0m-2-14h0m-24-33h0m-1-7h0m-10 14h0m-8 8h0m-2-4h0m0 13h0m-16-26h0m-17 19h0m-140 60h0m23-9h0m4 12h0m19-3h0m48 33h0m136-55h0m227 42h0m8 12h0m16-12h0m2-1h0m6-9h0m7-4h0m14-15h0m0-10h0m7 11h0m24 23h0m5 8h0m11-20h0m1 32h0m2-39h0m15 15h0m12-4h0m1-16h0m1 30h0m0 4h0m3-1h0m1 1h0m27-24h0m8 25h0m31-6h0m6-39h0m1-4h0m0 37h0m2-20h0m9 36h0m12 2h0m10-25h0m2-5h0m8 29h0m12 4h0m3-5h0m58-4h0m3-44h0m78 17h0m1 16h0m8 3h0m26 14h0m16-17h0m7-5h0m21-33h0m86 80h0m-35 6h0m-38 7h0m-8 3h0m-17-32h0m-21 33h0m-11 8h0m-3-5h0m-10-19h0m-68 33h0m-33-26h0m-13-1h0m-4-4h0m-50-20h0m-51 2h0m-9 6h0m-8 15h0m-26-3h0m0-14h0m-28 16h0m-14 15h0m-6 13h0m-14-15h0m-454 3h0m-25 7h0m-12 2h0m-5-17h0m-34 0h0m-6-6h0m-25-2h0m-1 8h0m-19 18h0m-10-34h0m-7 26h0m-16 11h0m0-2h0m-14 4h0m-12 11h0m17-6h0m91 5h0m0-4h0m15 31h0m15-14h0m10 5h0m6-1h0m16 5h0m444 6h0m0 0h0m19-3h0m7-13h0m203-15h0m5 34h0m11 14h0m20-52h0m11 3h0m14 11h0m8 15h0m2-13h0m66 23h0m5-7h0m63 16h0m64 64h0m-35-48h0m-5 46h0m-8-50h0m-154 43h0m-1 5h0m-2-32h0m-2 35h0m-4-25h0m-1 1h0m-14-4h0m-2-14h0m-4-7h0m-2 38h0m-7-28h0m-1-6h0m-4-2h0m-179 39h0m-9 0h0m-19 0h0m37 21h0m29 6h0m8-6h0m9 1h0m117 42h0m6-12h0m6-3h0m0-10h0m5-14h0m23 35h0m5-41h0m97 55h0m0-1h0m17 1h0m35-43h0m13 83h0m-3-14h0m-7-9h0m-8-10h0m-1-3h0m-14 5h0m-25-1h0m-94 24h0m-2 14h0m-1 5h0m-2-12h0m-3-1h0m-3-10h0m0-6h0m-1 17h0m-4 18h0m-17-31h0m0-16h0m-16 20h0m-2-5h0m0 2h0m-6-19h0m-3-3h0m-1 48h0m-7-25h0m-7 11h0m-1-8h0m0-4h0m-1 0h0m-2 19h0m-9-21h0m-4-2h0m-9 23h0m-1-10h0m-1-16h0m-1 20h0m-2-3h0m-2-10h0m-14 0h0m-10-7h0m-6-17h0m-36 50h0m-12-5h0m-8-8h0m-27 12h0m-19 0h0m-1 0h0m-16 1h0m-2-8h0m-12 8h0m105 10h0m52 39h0m8-11h0m10-20h0m9-1h0m6 37h0m3-5h0m6-1h0m11-38h0m3 26h0m8 0h0m5-1h0m10-2h0m5-17h0m0 15h0m1 4h0m8-11h0m4-7h0m1 5h0m11 44h0m25-16h0m31 19h0m150-22h0m12 26h0m-4 20h0m-17-22h0m-1 21h0m-16 4h0m-24 27h0m-12-1h0m-5 1h0m-30 3h0m-5-1h0m-17-8h0m-12 11h0m-10-58h0m-2 54h0m-21-41h0m-1-8h0m-3 12h0m-13-14h0m-2 52h0m-4-15h0m-1-15h0m0-13h0m-3 20h0m-2 16h0m-3 4h0m-1 1h0m-1-10h0m-1-40h0m0 44h0m-1 0h0m-10 0h0m-5 9h0m-2-19h0m-5-5h0m-5 2h0m-5-12h0m-10-2h0m-17 39h0m-22-3h0m-11-11h0m-9 1h0m-3 2h0m-7-47h0m-2 52h0m-31-1h0m-2-34h0m-21 11h0m-1 8h0m-19-11h0m-6-18h0m-2-2h0m-4 28h0m-8-3h0m-17 28h0m-11-16h0m-6-29h0m-9 8h0m-12 15h0m-4-13h0m-25-7h0m-1-1h0m-4 37h0m-3 3h0m-10-47h0m8 83h0m4-24h0m65 18h0m8-25h0m3 8h0m6-8h0m73 49h0m1 7h0m17-52h0m17 28h0m9 16h0m6-45h0m0 3h0m16 14h0m7 34h0m8-37h0m1 16h0m3 25h0m11-31h0m7 2h0m9 10h0m1 8h0m1-16h0m3-5h0m5 9h0m0-32h0m0 30h0m1 18h0m0-26h0m4-3h0m2-11h0m4 46h0m0-31h0m4-8h0m1 4h0m3-15h0m0-2h0m0 11h0m1 9h0m4 7h0m2 10h0m0-11h0m1-29h0m1 16h0m6 12h0m3 15h0m6 3h0m3-8h0m5-5h0m3-13h0m2-12h0m2 9h0m4-1h0m0 1h0m1-11h0m8 17h0m1 0h0m4 20h0m1-28h0m2-14h0m2 42h0m2-19h0m1 29h0m9 3h0m3-56h0m1 45h0m1-7h0m5 0h0m9-35h0m15 50h0m6-16h0m1 16h0m12-25h0m14 3h0m10-23h0m11 34h0m-50 28h0m-3 38h0m-2-49h0m-2 52h0m-14-43h0m-3-2h0m-87 11h0m-1-20h0m-4 12h0m-4-5h0m-9 10h0m-3 6h0m-1-6h0m-3 3h0m-5 17h0m-2-4h0m-5-2h0m-1-10h0m-5 27h0m-6-1h0m-2-28h0m-2 5h0m-45-7h0m0 7h0m-1 25h0m-10-18h0m-6-18h0m-35-9h0m-21 3h0m-17 3h0m-12 13h0m-6 34h0m-4-16h0m-1-18h0m-8 2h0m-7-16h0m-11-6h0m-16 0h0m-20 1h0m-4 13h0m-14 13h0m-19 25h0m-10-15h0m-3-30h0m-6 44h0m-17 4h0m-8-18h0m-8-11h0m11 66h0m2-23h0m0 32h0m3-3h0m13 12h0m15-48h0m8 2h0m2 34h0m5-6h0m8-7h0m6-5h0m59 14h0m10-2h0m2-11h0m13-24h0m88 12h0m5-12h0m13 47h0m2 5h0m21 16h0m-148 20h0m-1 9h0" stroke="#7AA520" stroke-width="16"/>
<path d="M6091 5577h0m10 2h0m1-10h0m4 9h0m2-5h0m14 4h0m2 1h0m1 1h0m263 43h0m-6 14h0m-2-14h0m-4 15h0m-68-4h0m-95-6h0m-23-1h0m-14 8h0m-20-2h0m-1-31h0m-8-11h0m-2 45h0m-8-26h0m-3 7h0m0 15h0m-3-20h0m-1 14h0m-9-32h0m-1 12h0m-42-3h0m-22 18h0m-13 6h0m-6-19h0m0 13h0m-2 5h0m-1-4h0m-2 13h0m-2-11h0m0-23h0m-3 2h0m-20-6h0m-62 39h0m-12-15h0m0-18h0m-14 20h0m-63 36h0m12 33h0m9-32h0m5 5h0m6 22h0m13-8h0m15-32h0m11-6h0m6 19h0m3 9h0m3-20h0m8 45h0m1-22h0m17 13h0m13 10h0m5-20h0m2 8h0m4-19h0m17 0h0m1 16h0m10-2h0m1 20h0m9-29h0m4-24h0m8 16h0m5-20h0m18 1h0m4 10h0m73 32h0m6-41h0m133 39h0m2 8h0m15-20h0m19-8h0m2 11h0m3-15h0m11-8h0m13-7h0m5 4h0m2 17h0m2 1h0m5-8h0m20-7h0m6-3h0m3 10h0m11-7h0m29 15h0m11 22h0m107 1h0m6-5h0m12 3h0m8 3h0m65 50h0m-15 7h0m0-16h0m-2-8h0m-48 1h0m-10-2h0m-2 17h0m-1-27h0m-1 14h0m-5-1h0m-13 7h0m-23-4h0m-15 17h0m-5 9h0m-68-51h0m-1 0h0m-21 21h0m-12 8h0m-58-20h0m-5 6h0m-2 11h0m-12-9h0m-12 31h0m-4-36h0m-60 28h0m-1 3h0m-1 6h0m-116-50h0m-9 16h0m-13-8h0m-7 49h0m-33-44h0m-9 0h0m-30-1h0m-14-8h0m-20 8h0m-24 7h0m-2 3h0m-2 2h0m-1-17h0m-1 36h0m-1-20h0m0-12h0m-1 14h0m-6 24h0m-4-46h0m-2 34h0m-1-10h0m-1 5h0m-1-29h0m-4 15h0m-1 3h0m-8 1h0m-3-9h0m-19 11h0m-22-19h0m52 83h0m1-24h0m3 34h0m0-18h0m1 19h0m0-5h0m8 17h0m15 5h0m2 0h0m10-54h0m1 20h0m23 32h0m0-23h0m9-10h0m8 6h0m3-11h0m21 29h0m249-45h0m22 2h0m179 33h0m11-9h0m9-14h0m2 14h0m13 17h0m1 1h0m2-22h0m8-8h0m2 21h0m1-33h0m2 43h0m0-43h0m5 29h0m8-26h0m5 21h0m12-17h0m9 8h0m39-4h0m5-5h0m10 10h0m9 16h0m11-19h0m2 14h0m15-24h0m10-3h0m8-2h0m-191 67h0m-4 31h0m-10-33h0m-4 29h0m-10 22h0m0 3h0m-13-7h0m-1-36h0m-16 22h0m-4-12h0m-118 14h0m-1-7h0m-3-15h0m-5 3h0m-9 27h0m-4-28h0m-19-2h0m-9 27h0m-7-25h0m-3 34h0m-4-35h0m-1-11h0m-223 23h0m-8 8h0m-4-31h0m-1 39h0m-1-43h0m0 14h0m-1 12h0m-24 26h0m-3-21h0m-9-1h0m-4 15h0m-26 8h0m-4-10h0m-108 9h0m-7-46h0m-20 23h0m31 76h0m2-41h0m3 41h0m402 8h0m10-5h0m12-4h0m1-25h0m37-2h0m139 21h0m5-25h0m2 34h0m20-45h0m29 8h0m198 34h0m17-27h0m3 33h0m7 4h0m0-11h0m26 11h0m-13 7h0m-15 4h0m-4 17h0m-9 31h0m-36-10h0m-138-14h0m-4-9h0m-15-20h0m-21 33h0m-6 0h0m-22-4h0m-10 18h0m-6-45h0m-6 49h0m-73-10h0m-2-5h0m-6 19h0m-41-5h0m-1-11h0m-1 0h0m-75-23h0m-1 36h0m-207-6h0m-11-1h0m-8-7h0m-20-23h0m-8-8h0m-20-1h0m-26 38h0m0-34h0m-5 36h0m-1-24h0m-4-13h0m-1 31h0m-11 0h0m32 25h0m399 43h0m5-45h0m2-6h0m72 15h0m47 1h0m179 7h0m11-15h0m3 3h0m7 30h0m5-21h0m4-19h0m5 10h0m12-9h0m7 33h0m9-5h0m12-13h0m26-2h0m11 0h0m11 20h0m5-14h0m7 14h0m33 19h0m4-14h0m10 38h0m0-7h0m-1 6h0m-14-9h0m0 14h0m-13-11h0m-4-10h0m-4 48h0m-6-15h0m-2 11h0m-7-4h0m-22-24h0m-249 5h0m-2-20h0m-7 9h0m-2-6h0m-27 24h0m-3 10h0m-26 4h0m-63 13h0m-5-18h0m-24-11h0m-639 29h0m-46 45h0m3 14h0m5-17h0m1 3h0m22-28h0m2 9h0m16-17h0m33 47h0m598-34h0m7 18h0m39-28h0m6-7h0m40 48h0m1 8h0m10-15h0m4-35h0m18 8h0m2-5h0m18 1h0m16 12h0m8-6h0m203 19h0m7 0h0m19-11h0m5 24h0m19-45h0m2 42h0m6-18h0m5 6h0m2-10h0m7-15h0m85 96h0m-7 8h0m-3-4h0m-1 0h0m-3-4h0m-1 1h0m-10-8h0m-25-11h0m-5 25h0m-5-5h0m-4-39h0m-2 50h0m-3-8h0m-2-23h0m-12-4h0m-14-15h0m-16 39h0m-5-13h0m-2-13h0m-90 13h0m-7 8h0m-2-2h0m0 8h0m-1-26h0m-2 23h0m-5-13h0m-13-23h0m-31 47h0m-797-7h0m-7-5h0m-23-9h0m-6 17h0m-1-6h0m-20 2h0m-1-22h0m-3-27h0m-6 5h0m-6 46h0m-6-28h0m-2 7h0m-2 6h0m-6-3h0m-5 23h0m-2-30h0m-6-13h0m-3 6h0m-8 4h0m-14 7h0m-9-13h0m-4 16h0m-3-1h0m-12 14h0m43 19h0m4 18h0m9-2h0m2-21h0m2 39h0m1-25h0m5 18h0m1-24h0m10-3h0m1 2h0m1 21h0m28-26h0m0 0h0m714 54h0m27 2h0m12-28h0m2 28h0m54-13h0m13-4h0m9 13h0m20-48h0m23 1h0m6 3h0m68 6h0m16 12h0m8 0h0m13-9h0m2 40h0m1-10h0m2-34h0m2 43h0m6-19h0m11-11h0m5-1h0m0 19h0m2 7h0m5 2h0m13-10h0m8-25h0m15-7h0m15-13h0m3 15h0m11-13h0m19 2h0m10-4h0m5 2h0m-69 110h0m-41-35h0m-1 32h0m-2-44h0m-23 41h0m0-9h0m-2-24h0m-6 9h0m-2 14h0m-19-13h0m-6 20h0m-6-27h0m-84 7h0m-16-5h0m-5-13h0m-7 13h0m-1 29h0m-6 0h0m-7 0h0m-1-39h0m-12 44h0m-14-45h0m-9 44h0m-36-26h0m-1 7h0m-13-14h0m0 22h0m-2-1h0m-9-12h0m-24 3h0m-22 2h0m-3-16h0m-2 19h0m-6-11h0m75 37h0m6 46h0m1-44h0m1 33h0m1-30h0m6 8h0m8 3h0m7-8h0m215-9h0m3 9h0m18 45h0m3-29h0m0-23h0m33-2h0m11 6h0m48 72h0m-17 13h0m-18-11h0m-3-2h0m-23-16h0m-22 4h0m-6 50h0m-3-50h0m-5 9h0m-1 23h0m-8-37h0m-1 46h0m-6-40h0m-1 9h0m-14 9h0m-55 24h0m-51-19h0m-1-5h0m-40 16h0m-11-9h0m-8 1h0m-67-31h0m-4 1h0m12 88h0m12 11h0m19-15h0m3 4h0m2-6h0m9-16h0m10-3h0m0 7h0m6 6h0m12-3h0m0 38h0m6-37h0m27 7h0m22 11h0m18 16h0m16-10h0m2-9h0m15 24h0m9-38h0m0 9h0m4-10h0m63 34h0m11 8h0m14 56h0m-5-4h0m-6-41h0m-3 16h0m-10-24h0m-10 8h0m-9 5h0m-71 6h0m-2 13h0m0-31h0m-1 11h0m-14 13h0m-7 0h0m-4 7h0m-12-26h0m-3-4h0m-2 31h0m-6-23h0m-18 23h0m-22 15h0m-13 3h0m-3 3h0m-18 0h0m-37-20h0m-10 9h0m-10-35h0m-16-7h0m-9 4h0m-6 5h0m-19 12h0m-25 31h0m-7-10h0m-3 9h0m-1-1h0m-15 5h0m-32 0h0m-18 7h0m48 51h0m0-3h0m2-3h0m2-17h0m3 23h0m2 2h0m14-28h0m1-11h0m1 25h0m16-20h0m22-6h0m7 10h0m2-10h0m12 8h0m3 23h0m3-1h0m15 0h0m6-6h0m12 3h0m6-44h0m1 38h0m11-7h0m3 16h0m4-22h0m0-16h0m15 45h0m0-41h0m3 33h0m6-30h0m13 42h0m26-52h0m-19 77h0m-50-23h0m-32 10h0m-8-9h0m-25 26h0m-2 3h0m0 0h0m-53-27h0m71 89h0m18-18h0m2-2h0m15 1h0m9-6h0" stroke="#F27A7C" stroke-width="16"/>
<path d="M6198 5638h0m-8-1h0m-5-23h0m-2 9h0m-1 15h0m0-16h0m-1-14h0m-1 25h0m-8-8h0m-9-45h0m-1 51h0m-1-41h0m-21-6h0m-2-3h0m-6 7h0m-5 13h0m-15 36h0m-10-32h0m-25 14h0m-5-22h0m-6-7h0m-40 11h0m-21 28h0m-9-5h0m-2-1h0m-18-9h0m-6-12h0m-2 16h0m-9 18h0m-28 28h0m3-7h0m81 16h0m5 11h0m4 9h0m11-1h0m5-1h0m15 7h0m11-4h0m8-7h0m12 2h0m13-14h0m4-3h0m7-19h0m6-8h0m49-2h0m21 4h0m14-1h0m3 11h0m182 22h0m12 18h0m13-56h0m4 58h0m15-17h0m15-21h0m142 37h0m2 0h0m66 59h0m-6 2h0m-8-17h0m0-19h0m-1 21h0m-1-8h0m-2 13h0m-3-32h0m-3 36h0m-1-26h0m-3 26h0m-4-1h0m-1-6h0m-11-29h0m-1-3h0m-7-3h0m-23 45h0m-7-45h0m-4-8h0m-1 21h0m-5 9h0m-1-14h0m-5 4h0m-2-17h0m0 6h0m-9 7h0m-10 13h0m-6 0h0m0 26h0m-2-12h0m-2-9h0m0 8h0m-1-5h0m-6-4h0m0-2h0m-1 9h0m0 8h0m-2-8h0m-4 9h0m-12-7h0m-72-31h0m-3 12h0m-14-20h0m-3-3h0m-11 19h0m-17-6h0m-33-4h0m-34-4h0m-5 14h0m-12-13h0m-2 0h0m0 5h0m-99 18h0m-4-1h0m-15 1h0m-34-13h0m-3 34h0m-44-1h0m-13-10h0m-18-7h0m-4 20h0m-6 4h0m-3-7h0m-3 3h0m-1-9h0m-3-36h0m-1 21h0m-8-16h0m-3 21h0m-122 17h0m-8 0h0m-64 9h0m6 3h0m2 4h0m54-8h0m21 53h0m6-43h0m1-7h0m7 21h0m24 5h0m3-18h0m9 30h0m88-15h0m3 15h0m6-14h0m24 31h0m6-49h0m6 0h0m4 48h0m11-20h0m2-14h0m0-1h0m4 8h0m0-7h0m6 30h0m9-39h0m11-1h0m0 29h0m102-37h0m12 41h0m11-10h0m152-22h0m12 29h0m59-33h0m3 16h0m6-24h0m14 27h0m2-17h0m3 11h0m5-19h0m1-5h0m2 0h0m4 6h0m0 6h0m1 13h0m5 21h0m5-37h0m2 22h0m1 6h0m1 10h0m3-40h0m3 36h0m1 16h0m9-10h0m2-22h0m4-10h0m6 36h0m2-45h0m1 36h0m13 15h0m3-12h0m0 2h0m1-46h0m4 16h0m10-9h0m5 28h0m22 20h0m14-49h0m44 48h0m20-15h0m36-2h0m8 72h0m-2-41h0m-9-1h0m0 11h0m-6 11h0m-3-19h0m-2 43h0m-1 1h0m-2 2h0m0-34h0m-2 30h0m-1-25h0m-5-23h0m-5 25h0m-5-8h0m0 19h0m-15-17h0m-3-7h0m0-13h0m-2 14h0m-1 29h0m-1-45h0m-1 19h0m-3-16h0m0 1h0m-5-2h0m-16 43h0m-3-39h0m0 26h0m-1 14h0m-2-40h0m0 19h0m-3-17h0m-2 31h0m-2-27h0m0-1h0m-1 7h0m-1 35h0m-2 0h0m-3-22h0m-1 7h0m-6 6h0m-3 4h0m-3-14h0m0-26h0m-12 47h0m-8-41h0m-4 1h0m-2 9h0m0 3h0m-3-11h0m-2-12h0m-3 2h0m-2 21h0m-1-21h0m0 11h0m0-5h0m-1-9h0m-1 10h0m-1 19h0m-5 19h0m-4-35h0m-2-16h0m0 10h0m-3-14h0m-3 6h0m-2 50h0m-8-21h0m-1 24h0m0-12h0m-14-43h0m-1 1h0m-5 1h0m-9 8h0m-1-9h0m-1 21h0m-6-7h0m-6 11h0m-359 29h0m-3-55h0m-4 52h0m-4-24h0m-1-1h0m-1 22h0m-2-28h0m0 9h0m-1-23h0m-1 34h0m-5-20h0m-6-14h0m-1-1h0m0 46h0m-15-49h0m0 41h0m-1-24h0m-3 25h0m-2-37h0m-4 25h0m-1-6h0m0-30h0m-5 17h0m-8 13h0m-5-28h0m-4 26h0m-13-4h0m-6 21h0m-92-7h0m-2-35h0m-11 26h0m-5-16h0m-29 10h0m-14-13h0m-5-5h0m-2 7h0m-22 13h0m-7 7h0m98 82h0m78-5h0m38-49h0m4 47h0m67-36h0m24-4h0m103 28h0m8 2h0m19 18h0m107-33h0m32 19h0m13-4h0m24-6h0m15-3h0m67-8h0m4 10h0m3-27h0m1 12h0m1 7h0m4 25h0m4-4h0m7-9h0m8-29h0m0 25h0m18-16h0m1 31h0m9-44h0m0 31h0m3-16h0m4 11h0m4-20h0m1 37h0m0 6h0m1-11h0m5-12h0m8 24h0m1 2h0m4-7h0m7-16h0m2-7h0m1 12h0m10 13h0m2-4h0m3 6h0m1-34h0m2 31h0m3-1h0m22-22h0m2-21h0m5 7h0m4-1h0m0 3h0m17 1h0m40 86h0m-20 8h0m-2-16h0m-12 25h0m-8-57h0m-2 30h0m-1 29h0m-2-2h0m0 1h0m-2-44h0m-3 28h0m-2-26h0m0 31h0m-48-45h0m-7 0h0m-4 16h0m-2 27h0m-1-34h0m-7 28h0m-4-36h0m-5 13h0m-16-1h0m-31 15h0m-7 19h0m-5-10h0m-6 7h0m-35 1h0m-6-20h0m-10 14h0m0-18h0m-17 3h0m-10 15h0m-3 4h0m-1-20h0m0 22h0m-16-3h0m-7-34h0m-2-10h0m-2 10h0m0 47h0m-3-16h0m-4-18h0m-3 14h0m-9-36h0m0 15h0m-3 24h0m-13-32h0m0 27h0m0-14h0m-16-1h0m-9 34h0m-3-30h0m-2 24h0m-1-26h0m-3 36h0m-27-39h0m-49 26h0m-3 8h0m-16-26h0m-8 31h0m-12-46h0m-15 2h0m-2 24h0m-12-5h0m-29 7h0m-11-3h0m-40-5h0m-19-6h0m-3-8h0m-75 5h0m-18 3h0m-2 15h0m-5-16h0m-9 21h0m-10 8h0m0 5h0m-6-20h0m-4-39h0m-1 39h0m-1-21h0m-3-15h0m-12 17h0m-2-7h0m0 12h0m-4-21h0m-11 11h0m-1 2h0m-4-8h0m-5-2h0m-8 18h0m-7-13h0m-6 9h0m-19 3h0m-25-10h0m-137 78h0m17-1h0m25 1h0m4-4h0m37-2h0m18 11h0m152-24h0m227 29h0m14 11h0m1 0h0m11-50h0m12 27h0m2-7h0m4-7h0m5-7h0m10 46h0m37-18h0m7-4h0m14-11h0m7 22h0m5-36h0m2 34h0m2-23h0m6-7h0m11 35h0m4-21h0m1-11h0m8 30h0m10-3h0m44-24h0m21 20h0m14-15h0m14-5h0m9-4h0m5 30h0m1-16h0m2-28h0m2 2h0m6 38h0m44-38h0m2 8h0m5 29h0m0-5h0m53-24h0m13 33h0m2-22h0m4-20h0m1 53h0m3-53h0m38 47h0m2-6h0m13-28h0m9 0h0m16-14h0m93 81h0m-31 14h0m-12-1h0m-4-29h0m-7 11h0m0 13h0m-6-4h0m-3-1h0m-7-2h0m-3 17h0m-8 2h0m-22 0h0m-2-4h0m-1-15h0m-17 24h0m-22-8h0m-2-10h0m-4-19h0m-7 28h0m-16-16h0m-3-18h0m-4 5h0m-46 45h0m-36-21h0m-3-5h0m-4-2h0m-28 13h0m-85-36h0m-4 16h0m-39-15h0m-29 24h0m-2 8h0m0-31h0m-7 23h0m-2 27h0m-2-12h0m0-28h0m-21-14h0m-65 1h0m-391 31h0m-6 2h0m0-17h0m-2 30h0m-2-25h0m-57 33h0m-6-5h0m-12 0h0m-6-3h0m-10 3h0m-1-30h0m-13 5h0m-5 23h0m-11-34h0m-2 35h0m-2-8h0m-1-15h0m-3 26h0m-3-4h0m-30 30h0m4-17h0m7 2h0m93-3h0m20 13h0m2 3h0m1 3h0m6 4h0m8 1h0m6 7h0m8 5h0m0-10h0m2 2h0m5 0h0m438 10h0m17 4h0m37-31h0m190 3h0m1 29h0m3-23h0m4 13h0m55 12h0m2-27h0m2-12h0m3 41h0m55-3h0m1-9h0m0-34h0m9 10h0m3 6h0m121 82h0m-16-11h0m-4 27h0m-21-48h0m-5 48h0m-7-50h0m-137 0h0m-12 45h0m-5-32h0m-1 16h0m-3-7h0m-1 31h0m-1-39h0m-9-17h0m-1 15h0m-16-7h0m-152 42h0m0 4h0m-18-6h0m-2 0h0m-10-7h0m-7 5h0m0 2h0m-21 4h0m-2-13h0m-17-2h0m-3 0h0m69 21h0m18 10h0m23 12h0m9 29h0m0-4h0m2 0h0m10 7h0m83-20h0m15-6h0m4-20h0m14-4h0m18-4h0m87 49h0m1 2h0m6 2h0m21 6h0m41-52h0m0 0h0m6 25h0m-2 53h0m-3-7h0m-131-2h0m-3 13h0m-22 21h0m-17-31h0m0-18h0m-11 3h0m-12-2h0m-4 24h0m-16 6h0m-1 16h0m-10 2h0m-6-23h0m-1-14h0m0 39h0m-5-38h0m-3 42h0m-9-25h0m-2-4h0m-53 30h0m-8-6h0m-32-7h0m-25-6h0m-20 17h0m-25 0h0m95 62h0m1-53h0m15 6h0m3 3h0m51 12h0m9-10h0m3-2h0m6 45h0m1 0h0m1-33h0m13 28h0m1 2h0m8-26h0m4 21h0m1-4h0m11-11h0m25-23h0m14-1h0m12 40h0m35 7h0m20 1h0m124-4h0m3-6h0m24 1h0m2-10h0m3 8h0m7 18h0m-48 26h0m-14 7h0m-14 5h0m-53 10h0m-22-1h0m-6 2h0m-3-3h0m0 2h0m-6 4h0m-4-30h0m-1 25h0m-3-12h0m-4 4h0m-3-42h0m-11 23h0m-2-25h0m-3 24h0m-4-6h0m0 38h0m-2-27h0m-9 26h0m-1-36h0m-2 30h0m-1-4h0m-1-13h0m0-17h0m-4 42h0m0-12h0m0 8h0m-2-50h0m-10 48h0m-13-17h0m-2 2h0m-27-32h0m-16 5h0m-2-2h0m-15 40h0m-4-2h0m-4 3h0m-30 0h0m-12-21h0m-18-1h0m-1-6h0m-4 20h0m-50-35h0m-1 5h0m-1 14h0m-9-19h0m-11 28h0m-8-31h0m-1 33h0m0 3h0m-7-8h0m-28-15h0m-6 20h0m-8-23h0m-1 20h0m-10-26h0m-6 98h0m3 14h0m19-29h0m24 27h0m49-38h0m8-8h0m13-4h0m43 28h0m10 1h0m11 22h0m36-14h0m3-3h0m3-34h0m6 6h0m21-1h0m4 32h0m5 5h0m4-14h0m3-24h0m2 4h0m2 16h0m3 6h0m6-2h0m1-5h0m6 5h0m1-15h0m6 24h0m3-39h0m1 54h0m1-24h0m1-17h0m0-4h0m2 6h0m0 26h0m4-22h0m2 34h0m0-7h0m2-44h0m3-5h0m1 54h0m3-46h0m1 16h0m2-1h0m0 13h0m1-35h0m2 18h0m2-15h0m4 18h0m1-9h0m0-4h0m9 17h0m3-23h0m0-1h0m0 29h0m2-16h0m1 26h0m1-5h0m4-32h0m1 1h0m3 42h0m5-15h0m1 20h0m0-6h0m1-5h0m0-38h0m7 38h0m0-21h0m2 0h0m3-14h0m3 8h0m8 17h0m5 23h0m3-15h0m13 18h0m11-33h0m1 19h0m1-3h0m13-13h0m1 2h0m4 5h0m2-1h0m10 1h0m3-11h0m6-23h0m1 42h0m7-4h0m17 0h0m2 5h0m5 11h0m-68 5h0m-1 36h0m-2-9h0m-1-26h0m-17 4h0m-6 10h0m-3-4h0m-8-10h0m-3 12h0m-2-14h0m-69 0h0m-1 3h0m-1 13h0m-4 29h0m-3-38h0m-32 37h0m-3 0h0m-11-13h0m-6 13h0m-9-2h0m-8 2h0m-7-7h0m-6 11h0m-7 7h0m-5-1h0m-12-50h0m-5 55h0m-36-47h0m-7 4h0m-10-9h0m-32 4h0m-3 4h0m-12-8h0m-91 30h0m-2-5h0m-1-27h0m-9 16h0m-39 15h0m13 25h0m12 54h0m8-50h0m7 40h0m17-35h0m8-2h0m63 43h0m122-50h0m2 0h0m9 44h0m2-10h0m6-11h0m16 32h0m3 2h0m7 14h0m-161 25h0m-4-30h0m-4 19h0m-2 11h0" stroke="#7AA520" stroke-width="16"/>
<path d="M6096 7402h0m-4 27h0m-1-20h0m-1 2h0m-9 17h0m0-27h0m-1 37h0m0-3h0m-4-38h0m-3 12h0m-2 4h0m-2 18h0m-1-5h0m-1-19h0m0 23h0m-3-15h0m-1 19h0m-1-13h0m-3 0h0m-3-7h0m-1 14h0m0-24h0m-9 5h0m-11 27h0m-1-19h0m-7 14h0m0-6h0m-5 7h0m-2-8h0m-1 9h0m-2-7h0m-1-1h0m-8-2h0m-3 8h0m-1 7h0m-3-19h0m0 19h0m-1-17h0m-3-1h0m-1 6h0m0-11h0m-2 15h0m-1-11h0m-8-1h0m-19 20h0m-2-14h0m-2 10h0m-2-8h0m0-17h0m-2 15h0m-2-19h0m-33 21h0m-111 70h0m15-20h0m3 14h0m7-6h0m1 11h0m2-2h0m0 3h0m1-13h0m0 15h0m2 0h0m3-3h0m0-13h0m4-6h0m1 8h0m3 12h0m0-9h0m2 2h0m2 0h0m0 9h0m6-4h0m1-10h0m0 0h0m2-1h0m3 15h0m2-10h0m9 2h0m2-7h0m9-12h0m3 26h0m2-17h0m2 0h0m1 16h0m0-12h0m2 8h0m2-1h0m0-4h0m1 11h0m1-28h0m0-14h0m1 30h0m2-40h0m8 18h0m4-15h0m0 39h0m1 10h0m1-54h0m0 39h0m1-2h0m1-40h0m1 51h0m3-20h0m1-15h0m5 2h0m3 36h0m0-20h0m3-10h0m7 34h0m1-39h0m7-10h0m0-4h0m1 49h0m1-53h0m3 52h0m0-4h0m6 3h0m2-42h0m3 41h0m1 6h0m3-12h0m3-5h0m0 6h0m1 11h0m3-9h0m1-42h0m2 31h0m0-30h0m1-6h0m2 40h0m6-29h0m1 34h0m3-6h0m1-36h0m3 50h0m2 2h0m1-9h0m3-11h0m4-31h0m3 53h0m0 0h0m1-21h0m0 14h0m1-1h0m2-6h0m0-24h0m0-14h0m1 21h0m1-5h0m0-5h0m2 37h0m0-55h0m0 5h0m0 6h0m1-2h0m0 26h0m0 24h0m1-50h0m0 17h0m1 10h0m0-7h0m0-25h0m1 29h0m1 11h0m3-28h0m1-6h0m1 14h0m1 17h0m6-31h0m1 3h0m4-9h0m6 21h0m4 5h0m0 5h0m1-33h0m2 16h0m3-17h0m5 2h0m1 2h0m3 13h0m1 30h0m2-31h0m5 21h0m1 9h0m13 9h0m-16 27h0m-1-10h0m-1-2h0m-5 11h0m-6-11h0m-4 7h0m-4 0h0m-3 41h0m-2-31h0m-1 9h0m-3-12h0m-2-3h0m-4-6h0m0 21h0m-1-26h0m-2 14h0m-3 24h0m-1-37h0m-1 22h0m-1 21h0m0-11h0m-2-29h0m-3-12h0m0 31h0m-2-6h0m0-12h0m-1 23h0m-1-2h0m-1-18h0m-2-15h0m0 16h0m-6-3h0m-2 38h0m-1-19h0m-1-34h0m0 6h0m-1 5h0m0 17h0m-1-9h0m-1-20h0m-1 26h0m0 4h0m-6 8h0m-1 15h0m-2-51h0m0 31h0m0 11h0m0-17h0m-2-5h0m-1 13h0m-4-33h0m0 45h0m-1-16h0m-2 5h0m-2-4h0m0 11h0m-1-31h0m-1 20h0m-3 1h0m-3 9h0m0-7h0m-2-30h0m-2 22h0m0 12h0m-5-22h0m-2 8h0m0 23h0m-2-7h0m-1 2h0m-3 14h0m-3-35h0m0 3h0m-1-7h0m-1-11h0m0 45h0m-1-40h0m-1 30h0m-1 3h0m-1 0h0m0-6h0m-1-2h0m-1 3h0m0 7h0m-1-17h0m0 22h0m-1-24h0m-1 6h0m0 12h0m-1-27h0m0 29h0m-3-29h0m0 32h0m0-41h0m-1-4h0m-3 21h0m0-3h0m0-13h0m0 20h0m0-30h0m0 14h0m-1 1h0m0 1h0m-1 14h0m-1-5h0m0 17h0m-1 2h0m-1 1h0m0 8h0m-1-4h0m-1 5h0m0-17h0m0 15h0m0-53h0m-1 26h0m-1 2h0m-2 12h0m-1 1h0m0 9h0m-1 2h0m0-13h0m0 5h0m-8 1h0m0-2h0m-1 3h0m0 5h0m-2-15h0m-1 7h0m-2 6h0m-1-5h0m-4 3h0m0-42h0m-1 0h0m0 8h0m-2 35h0m-1-14h0m-2 8h0m0-33h0m-2 26h0m-2-17h0m0-4h0m-1 33h0m-2-7h0m-2-39h0m0 32h0m-1-28h0m-1 33h0m0-12h0m-3 0h0m0 12h0m-1-2h0m-5-1h0m-2-32h0m0 6h0m-1 2h0m-1-7h0m-1 10h0m0 5h0m-1 15h0m-1-15h0m0 9h0m0-25h0m-2 20h0m-1 11h0m0-13h0m-4 7h0m-1 0h0m-1-7h0m-1 12h0m-2-6h0m-2 3h0m-1-16h0m-5 7h0m-1-8h0m-2 1h0m-1 9h0m0-18h0m-4 19h0m0-14h0m-4 21h0m0-25h0m-1-7h0m0 24h0m-1-15h0m-2 23h0m-1-22h0m-2 37h0m-2-1h0m-2-38h0m-1 1h0m-1 5h0m0 5h0m-8 35h0m-4-28h0m-1 21h0m-2-22h0m-3-16h0m-2 17h0m-7-2h0m-10-4h0m-1 33h0m-1-22h0m0 2h0m-8 15h0m-5-4h0m-1 4h0m-1-11h0m-1 18h0m-15-7h0m-7 45h0m4 5h0m5-4h0m7-7h0m1 3h0m2-8h0m6-15h0m2 7h0m1 5h0m4 26h0m2-31h0m2 20h0m5 10h0m11 1h0m0 10h0m2-54h0m3 56h0m9-57h0m10 26h0m1-7h0m3-10h0m2 20h0m1-26h0m1 30h0m6-1h0m11-8h0m8 4h0m15 16h0m1-19h0m3 20h0m10 8h0m0-28h0m1-7h0m1 40h0m0-41h0m2 4h0m5 35h0m1-39h0m1 0h0m11 10h0m5 8h0m1-7h0m3 4h0m3-30h0m0-1h0m1 45h0m0 3h0m1 3h0m1-47h0m0 23h0m3 16h0m1 14h0m1-57h0m1 20h0m1-20h0m1 54h0m1-43h0m2 44h0m1-5h0m1-38h0m0 13h0m2-4h0m1-4h0m1-5h0m0-12h0m3 11h0m0-10h0m1 5h0m0 6h0m0-9h0m1 50h0m1-15h0m2-3h0m2-28h0m0-7h0m0 1h0m6 14h0m0 29h0m1-30h0m3-8h0m1 52h0m1-33h0m0 24h0m1-40h0m0 36h0m0 9h0m3-14h0m1-22h0m0 0h0m4 3h0m12 35h0m2-36h0m1 34h0m1-29h0m2 2h0m0 29h0m1-6h0m3-5h0m2-13h0m0 12h0m3-31h0m1 44h0m0-14h0m0-38h0m2-4h0m1 21h0m1 28h0m1-15h0m2 4h0m1-1h0m1 6h0m2-12h0m5 10h0m1-38h0m1 54h0m1-59h0m2 4h0m0 42h0m4 7h0m9-43h0m1 9h0m1-14h0m1-5h0m1 47h0m0-31h0m1 16h0m2-9h0m0 2h0m1-5h0m2 35h0m2-4h0m1-32h0m1 9h0m1 15h0m0-30h0m2 22h0m0-26h0m1 31h0m1-9h0m2 25h0m0-4h0m5-12h0m0 0h0m1-9h0m7-3h0m1-20h0m0-2h0m6 26h0m1 26h0m5-41h0m5 51h0m-13 47h0m-1 1h0m0-25h0m-2 19h0m-1-1h0m-1-31h0m0 13h0m-4-5h0m-1-10h0m-3 1h0m-2 5h0m-2-1h0m0 4h0m-2-12h0m-2 45h0m-3-25h0m0-27h0m0 15h0m-5 34h0m-2-30h0m-1 17h0m-1-25h0m-1 25h0m-2 15h0m0-34h0m0 11h0m-1-4h0m0-10h0m-1 31h0m-3-3h0m-1-44h0m0 43h0m-1-28h0m0 40h0m0-21h0m-1-15h0m-1-14h0m0-4h0m0 9h0m0 25h0m-1-17h0m0 2h0m-1 1h0m-1 2h0m-1-13h0m0 24h0m0-6h0m-1 21h0m0 5h0m-1-57h0m-1 33h0m0 23h0m-1-39h0m0 27h0m-2 10h0m-2-22h0m-1 9h0m-1-4h0m-1-29h0m0 43h0m-2 0h0m-1-17h0m-3-33h0m0 48h0m0-4h0m-1-26h0m0 12h0m0 11h0m-2-15h0m0 14h0m-1 12h0m-5 4h0m-1-1h0m-1-53h0m-1 39h0m-2 13h0m0-3h0m-1-52h0m-2 58h0m-2-50h0m0 21h0m0 10h0m-1-22h0m-2-6h0m-2 13h0m0 15h0m0 10h0m-1-22h0m0 5h0m-1 18h0m-1-34h0m0 10h0m-4 32h0m0-9h0m-2-16h0m0 14h0m-1-21h0m-1-19h0m0 40h0m-1-18h0m-2 24h0m0-26h0m0-4h0m-2 34h0m0-10h0m0-17h0m0 4h0m-2-34h0m0 4h0m0 20h0m-1 21h0m0-19h0m-2-4h0m-1 31h0m-1 5h0m0-34h0m-2 29h0m0-37h0m0-11h0m-1 35h0m-1-3h0m-2-9h0m-1 9h0m0-18h0m-1 22h0m-1-9h0m0-13h0m-1 18h0m0-12h0m-2-4h0m-2 24h0m-1 7h0m-1-26h0m-2 21h0m-3 1h0m0-17h0m-1-1h0m-2-16h0m-2 32h0m-1 11h0m-1-4h0m0-19h0m0-4h0m-2-1h0m0 29h0m0-16h0m-1 13h0m0-9h0m-1-44h0m0 52h0m-1-53h0m0 46h0m-3 0h0m0 1h0m-1 1h0m-2-29h0m-1 30h0m-3-10h0m-3-23h0m-1 35h0m-3-18h0m-1-2h0m-1-15h0m0-4h0m-1 11h0m-2 5h0m-1-27h0m-1 34h0m-3-28h0m-3 36h0m-1-6h0m-12-37h0m-3 48h0m-1-1h0m-6 8h0m-5-48h0m-1-1h0m-1 17h0m-7 29h0m-1-30h0m-1 31h0m-1-33h0m0 24h0m-2 2h0m-1-10h0m-1-16h0m-6 18h0m-1-12h0m-5 16h0m-4 0h0m-1-24h0m0 13h0m-1 19h0m-1-13h0m-3-23h0m0-6h0m-8-2h0m-4-1h0m-1 27h0m0 21h0m-3-54h0m-1 58h0m-2-19h0m-2-30h0m0-6h0m0 44h0m-5 4h0m-7 5h0m26 8h0m1 15h0m5-11h0m1 6h0m0 17h0m5-26h0m27-2h0m13 1h0m0 4h0m2 1h0m5 12h0m4-14h0m3 9h0m0 5h0m2-4h0m2 7h0m6-8h0m3 9h0m3-11h0m2-4h0m1 1h0m1 29h0m2-11h0m3-29h0m1 52h0m1-11h0m1 11h0m2-11h0m0-12h0m3 27h0m1-52h0m1 10h0m1 39h0m1-35h0m1-17h0m2 53h0m1-45h0m0-6h0m1 6h0m0 29h0m1-26h0m0-12h0m0 10h0m1 33h0m0 9h0m0-22h0m2-22h0m1 12h0m1 34h0m1-43h0m0 39h0m1-28h0m1-1h0m1-12h0m1 33h0m2 8h0m0-19h0m1 14h0m1-23h0m3-8h0m1 36h0m2-37h0m4 15h0m0 26h0m1-50h0m0 37h0m0-42h0m2 40h0m3-27h0m1 34h0m1-5h0m0-35h0m3 40h0m2-17h0m1-27h0m0 13h0m1-7h0m3-3h0m0 9h0m0 11h0m2-3h0m1 33h0m0-27h0m0-12h0m1 3h0m1 38h0m2-52h0m0 1h0m1 4h0m1 5h0m1 26h0m3-27h0m1 38h0m0-34h0m1-9h0m1 19h0m3-18h0m0 4h0m2 2h0m0-11h0m5 7h0m2 5h0m2-7h0m3 11h0m2-14h0m0-5h0m2 13h0m2-7h0m0-9h0m4 14h0m0 6h0m3 8h0m4-16h0m0-11h0m4 23h0m3 4h0m4-19h0m1 6h0m5-11h0m2 23h0m3-20h0m2 38h0m1-27h0m1 6h0m2-17h0m0 34h0m0-16h0m2 2h0m1-9h0m4-18h0m0 9h0m1-7h0m0-1h0m2 9h0m6-6h0m6 16h0m-6 90h0m-1 2h0m-6-7h0m-4 5h0m-4-49h0m0 6h0m-2 43h0m-2-36h0m0-5h0m-1-8h0m-3 28h0m0-11h0m-2 15h0m-2 4h0m0-4h0m0 16h0m-5-45h0m-4 20h0m-2 18h0m-1 7h0m-2-22h0m-5 11h0m0-2h0m-1-10h0m-2 25h0m-3-14h0m-1 7h0m-1-9h0m-1 2h0m0 12h0m-4-21h0m-1-19h0m-1 22h0m-1-11h0m0 4h0m-1 22h0m-1-9h0m-2 6h0m-3-11h0m-1 7h0m-1-2h0m0 4h0m-1-3h0m-1-34h0m-1-4h0m-1 0h0m0 33h0m-2 11h0m0-23h0m-1 22h0m-1 13h0m-1-25h0m0 15h0m-1-1h0m-1-3h0m0-8h0m0 21h0m0-13h0m-1-10h0m-2-14h0m-1 5h0m0 12h0m-1 1h0m-1 13h0m0-2h0m-2-12h0m0 8h0m0 0h0m-2-13h0m-1 4h0m-1-23h0m-1-2h0m0 27h0m-1-25h0m0 19h0m0 4h0m-1-15h0m-1-7h0m0-6h0m0 28h0m0-5h0m-3 16h0m-1-44h0m-4 33h0m0-20h0m-2-12h0m0 32h0m-2 13h0m-5 1h0m-4-18h0m0-2h0m-1 20h0m0-15h0m-1 6h0m-3 15h0m-5-16h0m-1 7h0m-2-7h0m-2-36h0m-2-2h0m-2 50h0m-4-13h0m-1 8h0m-2-7h0m-4 13h0m-2-11h0m-7 3h0m16 19h0m5 12h0m4-12h0m1 10h0m2 9h0m3-18h0m0 5h0m11 11h0m2 2h0m8-4h0m5-4h0m2 4h0m10-16h0m5 16h0m1-3h0m6-13h0m1 17h0m4-9h0m1 21h0m1-11h0m6-4h0m1 19h0m4-1h0m1-27h0m1 4h0m1 11h0m2-8h0m0 4h0m2 4h0m0 1h0m2-9h0m0 25h0m0 8h0m1-12h0m1-3h0m3-25h0m0 53h0m0-2h0m1-44h0m1 33h0m1-36h0m0 23h0m0 0h0m2-17h0m0-14h0m1 12h0m1 25h0m1-36h0m0 1h0m0 39h0m2-25h0m2-5h0m0 25h0m1-35h0m0 44h0m1-34h0m2 24h0m1-29h0m2 15h0m0-5h0m1 8h0m1-14h0m1 0h0m1-8h0m6 6h0m1 7h0m1-6h0m1 6h0m-47 45h0m-2 14h0m-5 0h0" stroke="#66BDCB" stroke-width="16"/>
<path d="M6314 7432h0m-137 6h0m-2 0h0m-3-7h0m-1-2h0m0 3h0m-7-13h0m-7 8h0m-4-23h0m-1 4h0m-1 6h0m-6 11h0m-1-3h0m-2-2h0m-1-13h0m-1 0h0m-3 7h0m-3 7h0m-3-14h0m0 8h0m-1-9h0m0 2h0m-1 8h0m-1-11h0m-1 28h0m-1-18h0m-1 0h0m-3 22h0m0-31h0m0 6h0m0 0h0m-1 9h0m0 14h0m-1-13h0m-2-21h0m-1 24h0m-1-27h0m0 36h0m-1-31h0m0 3h0m-1-4h0m0 15h0m-2-16h0m-1 16h0m0-8h0m-1 13h0m0 7h0m-1 4h0m-3-38h0m0 37h0m-6-12h0m-1-17h0m-1-6h0m0 16h0m-6-20h0m-1 10h0m0 24h0m-3-2h0m-9-1h0m7 54h0m1 13h0m2 8h0m11-22h0m2-16h0m4 8h0m3 17h0m1-27h0m1-8h0m2-1h0m4 45h0m0-49h0m1 11h0m0-12h0m1 11h0m1 28h0m0-35h0m1 50h0m3-59h0m0 15h0m4 13h0m7-9h0m0 7h0m1 32h0m10-42h0m6-1h0m3 12h0m5-18h0m2 0h0m0-5h0m2 24h0m2-10h0m1-13h0m3 12h0m2 5h0m0-16h0m1 1h0m3 24h0m1-13h0m1-8h0m2-6h0m0 17h0m0-11h0m6 0h0m0-3h0m2 21h0m0-6h0m2 8h0m3 11h0m0-27h0m10-3h0m65 46h0m2-3h0m5-12h0m10 11h0m0 4h0m3-2h0m2-8h0m3-30h0m2 19h0m0-22h0m2 28h0m1-25h0m3-14h0m2 28h0m1 14h0m2 11h0m0-31h0m1 4h0m1 13h0m0-16h0m1 15h0m2-14h0m0-21h0m2 17h0m0-19h0m4 15h0m1 14h0m2 0h0m0 6h0m4-6h0m3-7h0m4 2h0m2-2h0m5 4h0m0 0h0m2-2h0m0 19h0m2 1h0m3-18h0m2 10h0m11-15h0m3 0h0m5-4h0m1 12h0m3-27h0m2 14h0m1 10h0m0 19h0m1 3h0m2-12h0m2 5h0m0-39h0m7 8h0m2 19h0m13 1h0m0-2h0m0-7h0m7 12h0m5-11h0m1 21h0m2 9h0m1-8h0m1-1h0m10-16h0m3 1h0m1 27h0m3-14h0m2-8h0m39 18h0m20-6h0m4 0h0m14 5h0m117 63h0m0-10h0m-3-10h0m-2 7h0m-1 15h0m-1 0h0m0-18h0m-1 18h0m-3-16h0m0 8h0m-2-10h0m-3-11h0m-4 23h0m-1-13h0m0 16h0m-1-11h0m-6 8h0m-1 5h0m-1-17h0m-1-3h0m-3 6h0m-4-9h0m-4 15h0m-3-16h0m-1 8h0m-1-7h0m-3-5h0m-1 13h0m0 0h0m-1 0h0m0-21h0m-2 0h0m-3 14h0m0 7h0m-1 15h0m-5-17h0m0 9h0m-1 1h0m-3-27h0m0-2h0m-1 13h0m-1 18h0m-1-41h0m0 34h0m-2-19h0m-1 21h0m0-19h0m0 16h0m-2-1h0m-2-6h0m-1 16h0m0-23h0m0-27h0m0 5h0m0 48h0m-1-14h0m0 2h0m-1-1h0m-1 10h0m-1 0h0m-1-20h0m0 6h0m0 5h0m0 4h0m-1-2h0m0 1h0m0-30h0m-1 12h0m-1 6h0m0-6h0m-3 17h0m-1-2h0m0-39h0m-1 36h0m-1 15h0m-3-14h0m0 14h0m-1-46h0m0 17h0m0 18h0m-1 13h0m-4-5h0m-1 0h0m-2 2h0m-1 0h0m-3-7h0m0-35h0m-1 29h0m-1 1h0m0-9h0m-1 21h0m-1-5h0m0-27h0m-2-23h0m-1 8h0m-5-9h0m-2 58h0m-3-8h0m-15-49h0m-5 2h0m-43 37h0m-5 8h0m-7-9h0m0-19h0m-3-10h0m-2 42h0m-4-29h0m-1 28h0m0-50h0m-1 5h0m-2 32h0m0-13h0m-1 0h0m0-8h0m-2 33h0m0-13h0m-4 13h0m0-10h0m-1 16h0m-2-21h0m-1 4h0m0-16h0m-1 17h0m0-2h0m-1-15h0m-1 23h0m-2 7h0m-1-23h0m-2 21h0m-1-24h0m-2 19h0m-2-8h0m0 8h0m-2-18h0m-1-7h0m-3 0h0m-1 25h0m-3-36h0m0 7h0m0 37h0m-4-36h0m-4-15h0m-5 30h0m-1-29h0m0 36h0m-1 2h0m-1-39h0m-13 30h0m-5-9h0m-7 9h0m-4 18h0m-2-10h0m0-12h0m0 7h0m-9 10h0m-2 12h0m0-24h0m-2-4h0m-2 17h0m-1 5h0m0-12h0m0-11h0m0-13h0m-2 35h0m-3-26h0m-6 34h0m-1-52h0m-2 35h0m0-20h0m-2-1h0m-1 36h0m0-7h0m-1-18h0m0-2h0m-2 14h0m0-21h0m-2 1h0m-1 22h0m0-23h0m-5 29h0m-1-22h0m-1 7h0m-1 3h0m-4-7h0m0 8h0m0 15h0m-1-15h0m0-10h0m-1 7h0m0-5h0m-3 0h0m0-12h0m0-15h0m-1 18h0m0 10h0m0-26h0m-1 14h0m-2 25h0m-1-19h0m-5 31h0m0-1h0m0-26h0m0-17h0m0-2h0m-1 23h0m-1-31h0m-5 40h0m0-42h0m-5 49h0m-6 4h0m-2-22h0m-4 17h0m-1-3h0m-2-19h0m-2 18h0m-4 5h0m-3 3h0m0-9h0m-27-1h0m-13-1h0m-10 12h0m-4-1h0m-15 1h0m-11-2h0m-1 3h0m-11-10h0m-1 2h0m-1 0h0m-6-30h0m-2 21h0m0-12h0m0-18h0m-1 33h0m-1-35h0m-1-1h0m-1 13h0m-5-7h0m-4 8h0m-7 3h0m-1 13h0m0 0h0m-8 3h0m-13-8h0m-2 3h0m-1-29h0m-4 21h0m-14-9h0m8 61h0m1-6h0m5 8h0m1-5h0m3 18h0m2 9h0m4-9h0m1 25h0m8-4h0m1-4h0m1-14h0m3 15h0m1 5h0m2-2h0m0-8h0m0 1h0m0-9h0m1 11h0m3 4h0m0-6h0m0 7h0m1-12h0m2-22h0m2 15h0m1-3h0m1 24h0m1-19h0m4 16h0m2-37h0m0 33h0m1-11h0m0 7h0m2 11h0m0-24h0m2-9h0m1 13h0m0-10h0m6 11h0m5 0h0m1-16h0m2 28h0m1 5h0m2 4h0m2-6h0m4-28h0m1 31h0m2-34h0m2 37h0m0-32h0m4-2h0m10-11h0m13 2h0m8-10h0m5 9h0m4-10h0m0 8h0m0 7h0m4-6h0m4 31h0m4-38h0m0 11h0m1-5h0m3-1h0m0 16h0m0-1h0m0 27h0m1-54h0m5 14h0m0 4h0m0 41h0m1-51h0m1-3h0m0-1h0m0-2h0m1 2h0m7 12h0m1 24h0m2 1h0m0-37h0m1 26h0m1-11h0m2-4h0m1-8h0m0 40h0m1-1h0m0-35h0m2 24h0m0-33h0m0 24h0m4 0h0m1-20h0m1 15h0m0-3h0m0 38h0m1-8h0m0 8h0m1 3h0m0-13h0m1-22h0m2-24h0m5 56h0m0 0h0m1-37h0m2 5h0m2 34h0m2-47h0m0 18h0m1 0h0m0 19h0m2-35h0m0 3h0m1-1h0m1 3h0m0 17h0m2-11h0m1-20h0m1 8h0m2 28h0m1-19h0m2 0h0m1-5h0m0 43h0m4-44h0m2-15h0m1 13h0m1 7h0m1-12h0m5 18h0m3-15h0m0 23h0m2-8h0m1-20h0m3 18h0m2 14h0m0-32h0m1 13h0m1-6h0m0-7h0m1-6h0m2 4h0m1 15h0m2-10h0m2-3h0m1 33h0m1-20h0m2 11h0m0 19h0m1-32h0m2 27h0m3-9h0m4 6h0m3 10h0m1-17h0m0 21h0m4-8h0m6 12h0m2-3h0m2 1h0m11-10h0m11 12h0m4-8h0m16-10h0m0-8h0m0-4h0m5-13h0m1-6h0m1 10h0m4-16h0m2 1h0m8 34h0m1-19h0m2 4h0m0 8h0m6 13h0m5-6h0m4 13h0m39 1h0m0 0h0m4 3h0m2 3h0m5-43h0m3 19h0m1-26h0m1-2h0m0 10h0m1 1h0m0 33h0m0-1h0m3-43h0m0 16h0m2 8h0m0 28h0m1-47h0m0 15h0m3 9h0m0-6h0m0-24h0m0 4h0m1 6h0m1 34h0m1-15h0m1-24h0m1-4h0m0 5h0m1-11h0m1 6h0m0 8h0m1-15h0m0 8h0m0 12h0m1-6h0m2 26h0m0 14h0m0-1h0m1-35h0m1 27h0m0-8h0m0-23h0m1-10h0m0 35h0m1-3h0m0-35h0m0 8h0m0 6h0m0 26h0m0-12h0m0-16h0m1 35h0m1-38h0m0 5h0m1 31h0m0-18h0m1-6h0m0 10h0m1-19h0m0 26h0m0 16h0m1-17h0m0-32h0m0 23h0m0 20h0m1-25h0m1 26h0m1-26h0m2 14h0m0-17h0m1 6h0m1 3h0m0 6h0m0 23h0m1-49h0m0 16h0m0 23h0m0-3h0m1 9h0m0-7h0m1-22h0m1-21h0m2 53h0m0-57h0m0 53h0m1-23h0m1 24h0m0-30h0m0 8h0m1-9h0m1-6h0m1 15h0m0 9h0m1 15h0m0-31h0m1 29h0m0-2h0m1-38h0m1-13h0m1 27h0m2 2h0m1 25h0m1-55h0m1 21h0m0 28h0m1-39h0m0 12h0m2-17h0m0 18h0m1 8h0m3-11h0m1 3h0m2-7h0m0 35h0m2-19h0m0-7h0m0 25h0m2-19h0m2 9h0m0 0h0m1-12h0m0-6h0m3-3h0m1 21h0m1 12h0m2-14h0m0-4h0m0-3h0m2-29h0m6 5h0m1 36h0m4-7h0m2-7h0m1-2h0m1 19h0m1-20h0m1 30h0m2-17h0m1-8h0m0 11h0m4-12h0m0 14h0m2-21h0m0 24h0m1-27h0m0 0h0m0 0h0m3 13h0m3-31h0m1 56h0m0-22h0m1 10h0m0-38h0m1 1h0m0 4h0m0 5h0m1-13h0m0 10h0m2 22h0m0-6h0m2-15h0m0-14h0m0-2h0m1 15h0m0 14h0m0-22h0m3 9h0m0-1h0m1-9h0m0 0h0m2 43h0m0-34h0m1 26h0m1 13h0m0-53h0m1 11h0m2-2h0m0-8h0m0-3h0m0 20h0m1-12h0m1-2h0m1-2h0m2 54h0m1-19h0m0 10h0m1 8h0m2-15h0m1-19h0m1 14h0m1 6h0m1 6h0m2-13h0m1-15h0m0 18h0m2 14h0m0-20h0m1 23h0m6-21h0m8-6h0m5-3h0m5 0h0m1 6h0m7-8h0m4 19h0m3 14h0m12 1h0m54 37h0m0 5h0m-2 15h0m-3-12h0m-1-39h0m-3 41h0m0-11h0m0 21h0m0 1h0m-5-9h0m-1 9h0m0-3h0m-1 6h0m-2-22h0m0-21h0m-1 14h0m-1 17h0m-3 2h0m-3 5h0m-2-34h0m-2 24h0m-1-31h0m0 18h0m-2 28h0m0-7h0m-2 7h0m0-1h0m-1-45h0m0 43h0m0-51h0m0 47h0m-1-7h0m-4-43h0m0 46h0m-1-26h0m0 13h0m0-29h0m-1 51h0m-3 0h0m0-54h0m-1 24h0m-1-26h0m-2 6h0m-1 52h0m-2-10h0m-1-3h0m-2-11h0m0 15h0m-3-7h0m0-13h0m0 24h0m-2-10h0m-1-23h0m-1 7h0m-1 11h0m0 8h0m-2-11h0m-1-5h0m0 1h0m-4 16h0m0-38h0m-1 20h0m0-11h0m0-11h0m-3 24h0m-2 5h0m0-9h0m-1 10h0m0 10h0m-1-6h0m-7-11h0m0 8h0m-4 1h0m-1-6h0m-2-8h0m-1 27h0m0-19h0m0-1h0m-1 25h0m-2-22h0m0 7h0m-2 3h0m-1 13h0m0-3h0m-1-16h0m0-1h0m-1 7h0m-2-22h0m0 32h0m-2-13h0m0 1h0m-1-22h0m0 34h0m0-22h0m-1 25h0m-2-31h0m-2 17h0m-1 0h0m-2 0h0m-4-25h0m-1 2h0m0-10h0m0-3h0m-1 27h0m-1-27h0m-3 16h0m0 7h0m-1 18h0m-1-31h0m-2-10h0m0 4h0m0 43h0m-1-33h0m0-20h0m-2 19h0m-1-21h0m-1 0h0m-4 40h0m-3 1h0m-1-40h0m0 41h0m-2 6h0m-1-6h0m-1-3h0m-1 12h0m0 3h0m-1-1h0m-2-10h0m-1-14h0m-1 7h0m0-5h0m-2 23h0m0-8h0m-1-13h0m0-32h0m-2 53h0m0-50h0m-1 35h0m0-8h0m0 13h0m0-11h0m0-8h0m-1 5h0m-1-10h0m0 20h0m0 9h0m-2-37h0m0 11h0m0-12h0m0-1h0m-2-2h0m0 38h0m-1-15h0m0-32h0m0 23h0m-2 17h0m0-25h0m-1-2h0m0 28h0m-1-16h0m0 2h0m-1 14h0m0 3h0m0 7h0m-1-11h0m-1-12h0m0 10h0m-2 3h0m-1-17h0m-2 10h0m-1-24h0m0-2h0m0 22h0m0-8h0m-1 0h0m-1-9h0m-1 4h0m-2-4h0m-1-1h0m-1 41h0m-1-31h0m0 11h0m-1 14h0m0-23h0m-1 35h0m0-11h0m-1-20h0m-1-5h0m-2 26h0m-1-44h0m0 8h0m-2 2h0m-3 13h0m-1-25h0m-1 33h0m-2-13h0m-1-16h0m0 21h0m-1 1h0m-1 5h0m-1-33h0m-1 2h0m-1 22h0m-1 5h0m0-19h0m-1-10h0m0 36h0m-2-22h0m-1 17h0m-1-19h0m0-10h0m-1 14h0m-2 11h0m-1 10h0m0-28h0m-1 45h0m0-26h0m-1 21h0m0-3h0m-1-38h0m-5 34h0m-5 9h0m-1 2h0m-2-54h0m-1 1h0m-1 7h0m-1-1h0m-5 1h0m-5 10h0m-4 3h0m-5-19h0m-2 25h0m0 26h0m-3-32h0m-3 10h0m-5-29h0m0 56h0m-4-24h0m-4 16h0m0 1h0m-1-22h0m-2-24h0m-2 48h0m0 5h0m-6 1h0m-18-19h0m-7-1h0m-2 7h0m-3-20h0m-3 20h0m-2-38h0m-1 7h0m-2 35h0m-2-45h0m-2 46h0m-1-4h0m-1-4h0m-3-2h0m-5 1h0m-4-9h0m-2 0h0m-2 10h0m-1-4h0m0 7h0m-5-13h0m-2 5h0m-13-8h0m-4-25h0m-5 20h0m-4-15h0m-1 6h0m-3 2h0m-1-8h0m-2 38h0m-4-36h0m-1 6h0m0 24h0m-2-32h0m-1 4h0m-1-4h0m-2 29h0m-2 18h0m-4-4h0m-2-25h0m-1 16h0m0-6h0m-5 11h0m-2-17h0m-2 13h0m-1-15h0m-2 11h0m-3-3h0m-5-2h0m-11 4h0m-3 0h0m-1 18h0m-1-1h0m-1-14h0m0 6h0m-2 0h0m0 7h0m0-14h0m-1 7h0m-3-3h0m-1-1h0m-1 0h0m-1 7h0m-2-45h0m-6 32h0m-3 5h0m-1-35h0m-5 23h0m-1-4h0m-1 17h0m-4-8h0m-1-34h0m-1 54h0m-2-4h0m-1-21h0m0-29h0m-1 37h0m0 16h0m0-1h0m-1-13h0m-1 17h0m-1-30h0m0-22h0m0-6h0m-1 17h0m0-13h0m-1 8h0m-2-12h0m0-1h0m-2 49h0m-2-1h0m-1-6h0m0-32h0m-1 12h0m0 12h0m-1-23h0m-1 40h0m0-48h0m-1 11h0m-1 25h0m0 5h0m-2 9h0m-1-23h0m0-7h0m0-12h0m-2-11h0m-1 7h0m-1 36h0m-1-11h0m-1-30h0m-4 17h0m-1 17h0m-1-17h0m-1-2h0m0-4h0m-5 9h0m-7-4h0m-2-17h0m-7 15h0m-1 18h0m-2-15h0m-4 25h0m-38-31h0m-3-9h0m-1 19h0m-4 30h0m-2-42h0m-1 17h0m-2-27h0m0 41h0m-1 15h0m-1-53h0m-1 0h0m-1-3h0m-1 2h0m0 23h0m0 32h0m-1-2h0m0-22h0m0 0h0m-1 21h0m-1-2h0m-2-4h0m0 9h0m0-47h0m-1 27h0m0-3h0m-1-27h0m0 11h0m-2 31h0m-2-35h0m0-9h0m0 1h0m-1 34h0m0 8h0m0-2h0m0-35h0m-1 6h0m0-10h0m-1 15h0m0-3h0m0-5h0m0 3h0m-2 30h0m-1-34h0m0 0h0m-1 21h0m-1-1h0m0 12h0m-1-17h0m0-3h0m-1 3h0m0 15h0m-6-41h0m0 22h0m-4-7h0m0 9h0m0 11h0m-2-13h0m-1 6h0m-1 17h0m-1-17h0m-1-3h0m-3 8h0m-1 2h0m-1-35h0m0 50h0m-1-51h0m-1 53h0m-1-30h0m0 30h0m-2-53h0m-2 15h0m-1 25h0m0-16h0m-1-24h0m0 11h0m-1 12h0m-2-3h0m-3-12h0m0-9h0m0 28h0m0-11h0m-1 37h0m-2-33h0m-1 2h0m-2 3h0m0-2h0m-3 19h0m0-9h0m-1 18h0m0-4h0m-2-47h0m0 32h0m-1-11h0m-1 15h0m-4-8h0m-1-6h0m-9-19h0m-2 61h0m5-6h0m5 6h0m7 28h0m5-19h0m0-11h0m0 28h0m3-7h0m1 0h0m1 18h0m5 11h0m3-29h0m0 12h0m0-16h0m1-18h0m1 33h0m1-3h0m2-27h0m2 25h0m1-2h0m0-28h0m1 53h0m2-46h0m0 15h0m0-13h0m1 25h0m0 8h0m0 1h0m1-20h0m1-11h0m2 20h0m0-25h0m2 4h0m2-2h0m9 13h0m4-12h0m0 9h0m1-5h0m2 5h0m2 10h0m2-22h0m0 50h0m1-5h0m3 3h0m1-47h0m0 19h0m1-7h0m0 6h0m2 7h0m0 17h0m1-34h0m0 23h0m1-29h0m0 9h0m1 13h0m0-14h0m2 2h0m0-16h0m1 31h0m1-16h0m0 15h0m1-26h0m1 19h0m0 17h0m1-13h0m0 5h0m0 0h0m1 21h0m1-22h0m1 19h0m1-19h0m0-13h0m0 14h0m4 12h0m2 7h0m1-7h0m0-7h0m0-7h0m2 7h0m0-10h0m3 2h0m6-9h0m1 8h0m2-15h0m1 22h0m0 0h0m1 2h0m0 13h0m1-23h0m4 16h0m0-23h0m2 30h0m3-39h0m1 24h0m0-2h0m1-16h0m0-9h0m1 44h0m5-25h0m2 26h0m1-54h0m2 21h0m5 23h0m0-40h0m1-3h0m1 42h0m6-7h0m1-29h0m9 8h0m1-2h0m2 16h0m0 13h0m4-22h0m1-21h0m0 26h0m2-22h0m2 16h0m0-1h0m5-1h0m1-3h0m3 0h0m0 38h0m2-38h0m0 21h0m1-16h0m0-18h0m2 25h0m2-21h0m0-6h0m1 25h0m0-21h0m1 33h0m0-39h0m1 46h0m2-4h0m0-31h0m1-3h0m0 41h0m0-46h0m2 46h0m0 2h0m1-25h0m0-2h0m1 32h0m0-53h0m2 9h0m0 26h0m1-24h0m1 12h0m1 1h0m1-14h0m1 23h0m1-34h0m0 13h0m1 16h0m0 8h0m1-31h0m0 15h0m1-11h0m2 33h0m1-18h0m0-14h0m2-11h0m2 14h0m1-16h0m0 21h0m1 12h0m0-9h0m1 23h0m1-42h0m0 18h0m0-12h0m1 30h0m0-8h0m2 25h0m1-35h0m1 9h0m0 15h0m1-30h0m0 13h0m1 20h0m1 2h0m0-8h0m1-8h0m0 3h0m0-23h0m0-11h0m3 40h0m2-10h0m0 17h0m1-16h0m0 19h0m1-17h0m0 12h0m2-49h0m0 55h0m0-53h0m2 22h0m0 20h0m0-42h0m4 28h0m0 1h0m0 8h0m2-12h0m0 17h0m1-11h0m1 4h0m0 4h0m1-2h0m1-30h0m0 12h0m0 6h0m8-12h0m0 12h0m2-10h0m1 21h0m4-2h0m1 4h0m1-7h0m3-14h0m0-15h0m0 37h0m3 7h0m4-3h0m0-26h0m0-11h0m0 16h0m2-1h0m0-5h0m1 16h0m1 6h0m1-17h0m3 12h0m4 17h0m2-53h0m0 5h0m1 48h0m1-44h0m13 44h0m8 0h0m0-17h0m19 16h0m8-6h0m0 8h0m2-13h0m8 2h0m1 3h0m5 11h0m0-5h0m0-4h0m2-44h0m1-3h0m4 24h0m0 27h0m0-13h0m4 2h0m0 8h0m1-46h0m1 24h0m1 23h0m1-47h0m0 37h0m1-35h0m0 30h0m1-15h0m1-14h0m0-5h0m0 54h0m1-5h0m1-24h0m0-11h0m0 15h0m2-1h0m0 20h0m1-8h0m0-15h0m1-25h0m1 56h0m1-3h0m0-35h0m0-5h0m7 5h0m0 3h0m3 17h0m1-33h0m0 20h0m0 20h0m0-17h0m3-30h0m1 54h0m2-32h0m1 25h0m9 8h0m2-31h0m2-22h0m2 53h0m1-28h0m2 25h0m2 4h0m2-49h0m0 31h0m1-31h0m4 25h0m1-30h0m3 8h0m1 12h0m3 31h0m4-10h0m1-2h0m12-3h0m8-2h0m11 12h0m1-5h0m2-5h0m5-4h0m2-27h0m1 7h0m1 13h0m2-19h0m3 17h0m2 6h0m0-24h0m2-7h0m0 11h0m0 12h0m8-6h0m1 3h0m1 25h0m4 11h0m0-1h0m3-27h0m1 12h0m1 7h0m3-22h0m1-6h0m1 38h0m1-51h0m1 16h0m2-22h0m6 59h0m2-45h0m6 41h0m0-25h0m2 16h0m1-14h0m3 1h0m2-14h0m0-14h0m1-1h0m3 40h0m2-36h0m0 15h0m4 16h0m2-37h0m0 18h0m2-11h0m0 0h0m1 5h0m0 10h0m2-22h0m1 15h0m0-15h0m0 43h0m2 6h0m0 6h0m0-31h0m1-10h0m0 6h0m1 29h0m1-10h0m1-29h0m0 39h0m3 1h0m1-49h0m0 36h0m1-24h0m0 43h0m1-52h0m1 5h0m0 21h0m1-12h0m2 1h0m1 31h0m1-51h0m0 20h0m2 31h0m1-48h0m1 3h0m7 7h0m0 7h0m1-21h0m0 35h0m3-22h0m1 11h0m1-10h0m2 31h0m1 12h0m2-2h0m2-7h0m4 4h0m3 2h0m1-6h0m3-35h0m0 35h0m5 1h0m1-36h0m0 28h0m1 12h0m1 4h0m1-2h0m2-21h0m2 24h0m1-47h0m0 42h0m4-45h0m6 30h0m0 7h0m1 12h0m2-50h0m1 38h0m1-35h0m0 46h0m2-55h0m2 48h0m0-24h0m2 3h0m1-6h0m2 21h0m2 6h0m0-14h0m2 14h0m1-30h0m0 22h0m1-35h0m0 28h0m0 3h0m0 4h0m1-18h0m0 31h0m2-33h0m0 8h0m0 16h0m1-27h0m0 2h0m3-15h0m0 9h0m1-10h0m0-2h0m0 29h0m0 10h0m1-11h0m0 9h0m3-36h0m3 46h0m1-47h0m0 15h0m1 21h0m3-36h0m4 9h0m0 18h0m1-17h0m1 4h0m0 15h0m2-15h0m0 10h0m4-22h0m3 112h0m-3-8h0m-1 5h0m-2 4h0m0-15h0m-1-36h0m-6 35h0m0-30h0m-1 3h0m-1 29h0m-2-33h0m-1 5h0m0 23h0m-1-24h0m0 8h0m-1 8h0m0-3h0m0-3h0m-2 30h0m-1-41h0m-1 40h0m-1-53h0m-1 3h0m-1 35h0m0-29h0m0-2h0m-1 15h0m0 12h0m-4-5h0m0 3h0m0 8h0m-1 1h0m-1-31h0m0 38h0m-1-40h0m-2 28h0m-1-20h0m-3 29h0m0 11h0m-1-9h0m-3-36h0m0 11h0m0-9h0m-2 20h0m-2-14h0m-1 29h0m0-1h0m0-27h0m-1 30h0m-1-32h0m-2 30h0m-1-21h0m0 25h0m-1-41h0m-1 34h0m-2-27h0m0-8h0m-1-3h0m-3 19h0m-1-1h0m-1-10h0m-1-13h0m-2 35h0m0-26h0m-1 4h0m-2-14h0m0 11h0m0 0h0m-1 0h0m-1-7h0m0 8h0m-1-1h0m0 9h0m0-6h0m-3-6h0m0-7h0m-2 11h0m-1-13h0m0 26h0m0-15h0m-1 9h0m-1 14h0m-3-8h0m-2 0h0m-2-26h0m-1 58h0m-1-16h0m-2-37h0m-1 30h0m-1-18h0m-3 39h0m-1-7h0m0-38h0m-4 7h0m-1 18h0m0-20h0m-1 11h0m-4-22h0m-1 35h0m-1 3h0m-6-34h0m0-5h0m-1 5h0m0 6h0m-2 35h0m-2 8h0m-3-20h0m-1 1h0m-2 10h0m-4-12h0m-6 16h0m-1-43h0m0 4h0m-3 45h0m-2-2h0m-2-32h0m-2-11h0m0 45h0m-6-54h0m0 0h0m0 41h0m0-17h0m0 6h0m-1-31h0m-1 12h0m-1 38h0m-5 1h0m-1-16h0m-4-32h0m-6 1h0m-1-3h0m-3 7h0m-3-10h0m-2 57h0m-3-58h0m-4 54h0m-1 4h0m-1-20h0m-1 7h0m-2 4h0m-2 9h0m0-4h0m-4-11h0m-6 14h0m0-21h0m-2 21h0m-1-20h0m-1-2h0m-1 16h0m0-11h0m-1 13h0m-4-10h0m0 7h0m-6-19h0m-3 19h0m-1-4h0m-5-17h0m-1 20h0m-2 1h0m0 6h0m-3-30h0m-1 21h0m-2-7h0m0 8h0m-1 3h0m-2-2h0m-1-18h0m-4-1h0m-2-11h0m0 11h0m-3-3h0m-2-3h0m-2 24h0m-1 10h0m-8-29h0m-1-27h0m-1 13h0m-3 10h0m-1 19h0m-1-1h0m-1-3h0m-1-16h0m0 11h0m-5-11h0m0 9h0m0-3h0m-1 4h0m-1-11h0m-1 30h0m-1-20h0m-2-14h0m0-17h0m-1 52h0m0-42h0m0 6h0m-1 11h0m0-8h0m0-17h0m-1 34h0m0-14h0m-1-22h0m-1 44h0m0-36h0m-1 43h0m0-30h0m-1-19h0m-1 39h0m0-37h0m-1 7h0m0 45h0m-1-48h0m0-9h0m-1 27h0m0-17h0m-1-11h0m0 12h0m-1 43h0m-1-47h0m0 29h0m-1-10h0m-1 29h0m-1-53h0m0 21h0m0 15h0m-1-32h0m0 13h0m-1 27h0m-1 10h0m-1-55h0m0 36h0m0 18h0m-2-51h0m-2-6h0m-1 24h0m-1-19h0m0 41h0m-2-13h0m0 25h0m-1-51h0m0 31h0m0-1h0m-2-15h0m0-8h0m0 31h0m0-15h0m-1 15h0m0-13h0m0 27h0m0-44h0m-1-4h0m0 39h0m-1-29h0m-3-14h0m0 2h0m-1 23h0m0 7h0m-1-31h0m0 39h0m0-33h0m0-8h0m-1 24h0m-1 8h0m0-36h0m0 54h0m-1-10h0m-3 2h0m-3-4h0m0-2h0m-8 14h0m-1-4h0m-3-4h0m-2-2h0m-1 0h0m-1 5h0m0-1h0m-2 5h0m-6-4h0m-3-50h0m-4 4h0m-5 54h0m0-2h0m-2-7h0m0-6h0m0-4h0m0-10h0m0-15h0m-3 32h0m-1-39h0m-3 35h0m0 1h0m0-40h0m-1 15h0m-2-8h0m0-8h0m-1 8h0m-2 32h0m-3 12h0m0-7h0m-2 9h0m-1-23h0m0 18h0m-1 4h0m-1-30h0m0 33h0m-1-30h0m-3 18h0m-1-17h0m-1 4h0m0 4h0m-3 16h0m-1-27h0m-2 22h0m-2-18h0m0-21h0m0-9h0m0 37h0m-2 11h0m0-30h0m-2-7h0m-1 40h0m-1-6h0m-1 1h0m0-43h0m-1 23h0m-1 32h0m0-50h0m-3 1h0m-4 5h0m-2 8h0m-3 0h0m0-4h0m-1 34h0m0-19h0m-1-19h0m-2 42h0m-2-35h0m0-3h0m-2 37h0m-1-2h0m0-15h0m-1-6h0m-3-10h0m-1-10h0m-1 37h0m-4-30h0m0 31h0m-1-43h0m-1 42h0m-2 4h0m-2-45h0m-2 2h0m0 9h0m-2-14h0m-1 33h0m0 8h0m-1 8h0m0-48h0m-1 39h0m0-37h0m-2 49h0m-2-58h0m-1 32h0m-1-30h0m0 51h0m0-40h0m-1 23h0m0-26h0m-1 25h0m-3 1h0m-3-36h0m-3 28h0m-1 27h0m0-19h0m-3 23h0m-1-21h0m-2 13h0m-3 8h0m-1-56h0m0 54h0m0-3h0m-3-6h0m-1-39h0m-3 8h0m-1 40h0m0 2h0m-2-45h0m0 0h0m-1-9h0m0 48h0m-2-12h0m0 8h0m-1-23h0m0-14h0m-1 13h0m-1-6h0m-1 6h0m-1-5h0m-1-13h0m0 26h0m-1 1h0m0-4h0m0 4h0m0 16h0m-1-39h0m-1 2h0m0 38h0m-1-12h0m-1 6h0m-2 3h0m0-32h0m-2 43h0m-3-5h0m-1-35h0m0 37h0m-1-17h0m0 8h0m-1-14h0m0 11h0m-2-23h0m0 12h0m-2-8h0m-4 4h0m-3 3h0m0 14h0m-1 1h0m-1-4h0m-3 5h0m0-21h0m-1 9h0m0 18h0m-2-24h0m-2 28h0m-2-45h0m-1 9h0m-2 37h0m0-4h0m-1-48h0m0 15h0m0 37h0m-1-34h0m-4 29h0m-4-6h0m0-28h0m-3 31h0m-2-30h0m-13 35h0m-5 0h0m-1 1h0m-5-23h0m-1-32h0m-2 57h0m-1-14h0m0-17h0m-2 22h0m0-38h0m-1 16h0m-1-17h0m0 39h0m0 1h0m-1-38h0m-1-10h0m-1 39h0m-1-34h0m-1 20h0m-1-26h0m0 34h0m-1 7h0m0 9h0m-1-24h0m-1 0h0m-1 5h0m-1 17h0m0-36h0m0 34h0m-2-23h0m-3 2h0m0 25h0m-3-33h0m-2 1h0m-3-16h0m-2 49h0m-2-45h0m-1 16h0m-2 16h0m0-37h0m-5 29h0m0-31h0m-1 54h0m0-35h0m0 13h0m-3 15h0m0-1h0m0-11h0m0-25h0m-3 7h0m0-2h0m-1 31h0m-1-13h0m0-3h0m0-30h0m-1 57h0m-1-3h0m-1-2h0m0-42h0m-1 8h0m-2-11h0m-1 3h0m-3 36h0m0-2h0m0-5h0m-1-11h0m-1-21h0m0-5h0m-1 36h0m-1-14h0m-1 11h0m-1-35h0m-2 37h0m0-10h0m0 12h0m0-18h0m-3-18h0m-1 37h0m-1-40h0m0 20h0m-1 7h0m-4-16h0m-1 37h0m-3 0h0m-1-2h0m-1 8h0m-4-16h0m-6 13h0m-13 0h0m-1-3h0m-6 5h0m5 36h0m2-19h0m1 11h0m3-17h0m1 2h0m8-2h0m2 9h0m0-3h0m0-11h0m3 1h0m3 3h0m2 9h0m12-7h0m7-2h0m16-4h0m1 4h0m8-2h0m7 3h0m2-3h0m4 3h0m0 2h0m17-7h0m5 0h0m9 6h0m3 3h0m5 7h0m4-9h0m0 6h0m2 9h0m1-4h0m1-15h0m0 16h0m3 3h0m3 5h0m1-27h0m0 16h0m2-16h0m1 17h0m2 11h0m0-5h0m3-10h0m1-9h0m1-2h0m1 14h0m2-9h0m4 24h0m0 1h0m1-13h0m1-6h0m0 0h0m2-1h0m0 10h0m1-22h0m0 30h0m2-24h0m0 12h0m1-15h0m1 1h0m1 1h0m0-4h0m2 42h0m0-29h0m2-3h0m3 15h0m1-26h0m0 31h0m0-6h0m1 2h0m2-23h0m2 16h0m1 9h0m1 20h0m2-45h0m1 4h0m1 21h0m1-23h0m1 19h0m1 14h0m0-15h0m1 0h0m0-1h0m2-23h0m1 37h0m0-32h0m1 10h0m0 17h0m0-32h0m2 12h0m2 25h0m0-37h0m1 25h0m0-18h0m1 17h0m0-6h0m0 20h0m0 15h0m1-30h0m0 10h0m1-13h0m0 23h0m0-37h0m1 28h0m1 3h0m0 9h0m2-6h0m1-19h0m0 30h0m2-20h0m1 21h0m0 1h0m1-4h0m0 5h0m0-37h0m1 19h0m0-29h0m0 19h0m2 7h0m0-20h0m3 41h0m1-24h0m0-6h0m1-22h0m3 26h0m1 12h0m0 2h0m0 12h0m1-24h0m2-29h0m0 51h0m1-45h0m1 23h0m0 18h0m1-17h0m0-14h0m1 39h0m1-26h0m1 2h0m0 25h0m1-32h0m1-2h0m1 3h0m0 7h0m1-5h0m0-1h0m1-13h0m4 5h0m1-3h0m1-12h0m1 0h0m2 7h0m0 19h0m0 28h0m2-4h0m0-32h0m2-22h0m0 47h0m1-8h0m2-2h0m0-16h0m0 33h0m1-48h0m0 47h0m0-13h0m1-28h0m1 2h0m0-7h0m1 6h0m0-6h0m1 28h0m0-5h0m0-12h0m1-11h0m0 26h0m0 26h0m0-43h0m1 32h0m0-5h0m1 4h0m0-8h0m2-13h0m0 16h0m1-18h0m0-1h0m3-3h0m0 25h0m0-6h0m0-10h0m0-10h0m1 0h0m1-10h0m0 0h0m2 17h0m0-11h0m1 2h0m2 23h0m0-13h0m0 7h0m1-25h0m0 14h0m3 12h0m0-4h0m2-8h0m1-16h0m1 23h0m2-16h0m1 9h0m3-20h0m1 22h0m1-3h0m1-9h0m3 18h0m2-6h0m3-2h0m1 6h0m2 10h0m0-39h0m3 1h0m0 12h0m0-9h0m1 22h0m1-17h0m1 16h0m5 32h0m0-15h0m1 9h0m3-7h0m4 1h0m0-16h0m2-2h0m3 1h0m1 18h0m1-41h0m1 53h0m3 1h0m0-15h0m1-22h0m2-19h0m1 3h0m0 9h0m0 33h0m3-16h0m1 20h0m1 5h0m2-14h0m1 12h0m0-9h0m0-38h0m0 50h0m1-19h0m1-26h0m0 28h0m2-32h0m1 27h0m2-14h0m1 4h0m1 10h0m1-32h0m1 8h0m1 47h0m2-48h0m1 11h0m1-4h0m0 33h0m3 0h0m1-15h0m0 14h0m1-11h0m1-38h0m1 34h0m1 5h0m1 2h0m0-22h0m0-20h0m1 52h0m0 4h0m2-29h0m3 19h0m2 12h0m0-9h0m3-30h0m2 8h0m1 20h0m9-32h0m4 5h0m1 23h0m1-39h0m0 29h0m1-2h0m3-15h0m1-4h0m0-2h0m0 1h0m1 20h0m2-20h0m1 22h0m1-26h0m1 43h0m0-43h0m1 0h0m0-6h0m1 54h0m1-44h0m0 48h0m2-34h0m0-10h0m1 23h0m0 3h0m1 5h0m1-41h0m0 15h0m0 12h0m1-9h0m0 31h0m1-51h0m1 18h0m0 27h0m1-35h0m0 23h0m1-7h0m0-17h0m0 14h0m1-1h0m0 29h0m0-10h0m1-31h0m0-12h0m1 41h0m0-1h0m0-10h0m1-13h0m0 6h0m1 18h0m0 8h0m1-5h0m2-44h0m0 51h0m1-2h0m0-42h0m1-5h0m1 15h0m5 31h0m2-47h0m3 13h0m2 21h0m2-25h0m1-2h0m3-4h0m3 5h0m2 45h0m0-48h0m2 43h0m1-46h0m0 3h0m0 3h0m3 37h0m2-42h0m1 3h0m3 2h0m7-5h0m1 3h0m0 34h0m2-37h0m6-3h0m0 2h0m1 34h0m3-17h0m3 31h0m2-21h0m0-7h0m1-23h0m0 10h0m0 5h0m1 10h0m5 2h0m2-21h0m3 1h0m0 2h0m11 5h0m3 9h0m0 0h0m1-2h0m0 2h0m3-21h0m1 22h0m2 4h0m2-11h0m1-8h0m6-7h0m2 19h0m0 4h0m0 2h0m3-15h0m0 13h0m2 4h0m3-4h0m1-3h0m1 20h0m0-9h0m0-32h0m0 23h0m0 1h0m2-4h0m3 36h0m5-5h0m0-31h0m1-4h0m1 38h0m0-23h0m2 9h0m0-34h0m2 28h0m3 20h0m2-28h0m2-2h0m0-3h0m1 3h0m1 20h0m1-14h0m3-15h0m3 26h0m0-30h0m1-3h0m1 27h0m0-13h0m3-5h0m3 23h0m0 8h0m2-14h0m0-6h0m1 22h0m3-34h0m1 12h0m0 18h0m5 3h0m1-26h0m0 15h0m3-37h0m0 24h0m1-15h0m1 22h0m0 3h0m0-7h0m0 3h0m3 23h0m0-32h0m0-13h0m0 25h0m2 18h0m1-4h0m0-41h0m1 14h0m2 30h0m0-23h0m1 15h0m2 2h0m0-30h0m0 21h0m1-15h0m1 14h0m0 18h0m0-22h0m1 22h0m0-12h0m0 2h0m0 2h0m0-2h0m0-45h0m1 8h0m3 45h0m0-4h0m0-24h0m0 1h0m1 16h0m0 14h0m1-4h0m2 4h0m0-33h0m0 2h0m1 11h0m1-14h0m1 32h0m2 0h0m1 5h0m1-6h0m4 3h0m2-29h0m1-5h0m2 3h0m0-4h0m1 6h0m3 12h0m2-16h0m2 17h0m2-37h0m0 30h0m1-21h0m2 5h0m0 38h0m3-3h0m9-10h0m2-30h0m1-1h0m2-5h0m1 42h0m1-33h0m0 44h0m1-58h0m1 57h0m1-43h0m0 7h0m0-1h0m2 2h0m0 15h0m1-12h0m0 1h0m3 21h0m2-29h0m3 19h0m1-31h0m0 40h0m1-36h0m0 10h0m3 19h0m0-27h0m3-3h0m1 15h0m7 15h0m0-16h0m0-12h0m3-9h0m5 44h0m0-32h0m4-11h0m0 2h0m2 13h0m0-16h0m2 43h0m1-38h0m3-4h0m2 6h0m5 5h0m1-5h0m0 1h0m25 45h0m6 2h0m34 47h0m-3-4h0m-6 15h0m-3-14h0m-2 3h0m-9-9h0m0 7h0m-1-1h0m-2 14h0m-1-6h0m-1 4h0m-3 5h0m-2-54h0m-4 14h0m-1 28h0m0-14h0m-2 26h0m-1-34h0m0-21h0m-1 22h0m-1 32h0m-2-46h0m0 21h0m-1 7h0m0-5h0m-1-6h0m0 28h0m-2-6h0m-2-11h0m0-4h0m-1-27h0m-1 47h0m-1-16h0m0 13h0m-1-27h0m-4-7h0m-1 30h0m-1-17h0m-2 16h0m-2-25h0m0 36h0m0-3h0m-3 0h0m0-39h0m-1 10h0m-1-27h0m0 46h0m0-14h0m-2 21h0m0 3h0m-2-2h0m-2-21h0m-1-9h0m-1 26h0m-1-36h0m-2 27h0m-1-41h0m-1 41h0m-1-28h0m-2 34h0m-1 11h0m0-3h0m-1-19h0m0-10h0m-8 16h0m0 12h0m-2-26h0m-4 1h0m-1 23h0m-3 3h0m0-9h0m-4-10h0m-2-7h0m0 7h0m-4 1h0m-8-4h0m-3-9h0m-1 12h0m0-33h0m-3 44h0m0-41h0m-1 53h0m-1-47h0m0-9h0m-4 37h0m0-9h0m-2-8h0m-1 0h0m-1 35h0m-3-38h0m-1 21h0m-1 3h0m-1 8h0m0-38h0m-3 1h0m-1 18h0m0 6h0m0-39h0m-1 4h0m0 47h0m-2-41h0m-1 23h0m0 8h0m0 2h0m-1-34h0m0 41h0m-1-4h0m-1-37h0m-2 48h0m-2-1h0m0-14h0m-1-28h0m-1 42h0m0-55h0m-1 23h0m-2 18h0m-3-36h0m-2 24h0m-1 5h0m-1-17h0m0-4h0m0 31h0m-2-9h0m-1-9h0m-1-24h0m-1 39h0m0 3h0m-1-3h0m0-27h0m-1 44h0m0-52h0m0 25h0m-1-13h0m0 9h0m0 17h0m-1-14h0m-1-25h0m-2 13h0m-1-10h0m-5-2h0m0 30h0m0-36h0m-3 5h0m-1-3h0m-2 52h0m-1-53h0m-2 6h0m-3 8h0m-3 36h0m0-52h0m-1 51h0m-1 3h0m0-36h0m-1 0h0m-1 9h0m0 6h0m0 4h0m-8 8h0m-1 9h0m0-29h0m-2 18h0m-4-10h0m-1 26h0m0 0h0m0-29h0m-1-8h0m-8 5h0m-8-16h0m0 17h0m-1-21h0m0 0h0m0 24h0m-1-22h0m0 22h0m-1-12h0m0-1h0m0-15h0m-1 22h0m0 14h0m-2 11h0m-1-40h0m0 32h0m-2-12h0m0-19h0m-2 41h0m-1-40h0m-1 42h0m-1-1h0m-1-22h0m0 3h0m-1-1h0m0-19h0m-1-1h0m0 38h0m-1-15h0m-1 9h0m0 11h0m-3-5h0m-4-2h0m-1 3h0m-3-28h0m-1 24h0m-9-17h0m-4-11h0m0 13h0m-2 20h0m0-1h0m-5-22h0m-3-26h0m-7 32h0m0-28h0m-1 40h0m-3-40h0m-1 42h0m-2-1h0m0 8h0m-6-39h0m-3 5h0m-1 32h0m-3-27h0m-6-8h0m-2-1h0m-12 28h0m-2-20h0m-2-3h0m-2-19h0m0 32h0m0-35h0m-2 18h0m-1 16h0m-2-6h0m0-11h0m-2 1h0m-1 1h0m-4 16h0m-2-19h0m-3 20h0m0-1h0m-1 4h0m-5-24h0m-2 13h0m0-28h0m0 12h0m-4 25h0m0 8h0m-3 7h0m0-46h0m0 18h0m-2 10h0m-1 14h0m-1-8h0m-2 13h0m-4-4h0m0-51h0m-2 11h0m-2 48h0m0-42h0m-4-9h0m-1 42h0m-2-30h0m-1 0h0m0-1h0m-5-12h0m-1 16h0m-1 29h0m0-39h0m-1 2h0m-1-1h0m-1-1h0m-1-7h0m0 11h0m-2-15h0m0 56h0m0-49h0m0 25h0m-1 14h0m0-11h0m0-3h0m0-24h0m-1-10h0m0 44h0m-6-35h0m0 18h0m-1-4h0m0-6h0m-1-17h0m-3 42h0m-1 16h0m-2-24h0m0 15h0m-1-25h0m0 18h0m-1-13h0m-3-18h0m-1 41h0m-5 4h0m-2-6h0m0-33h0m0 40h0m0-7h0m-2-37h0m0-13h0m-1 12h0m0 9h0m0 17h0m-3-29h0m0 4h0m0 24h0m-2 14h0m0-45h0m-1 6h0m-1 47h0m0-12h0m0-19h0m0 21h0m-1-43h0m-1 24h0m0-28h0m-1 37h0m-1 18h0m-1-36h0m0 9h0m0 27h0m0-22h0m-2 16h0m0-45h0m0 2h0m-1 0h0m-1-1h0m-2 31h0m0-26h0m-1 35h0m0-5h0m-2 13h0m-1-10h0m-2-21h0m0 30h0m0-35h0m-1 14h0m-1-20h0m0 2h0m-1 14h0m-2 18h0m0 6h0m-1-16h0m0-18h0m-1 39h0m0-16h0m0-12h0m0 24h0m-1-25h0m-2-6h0m0 16h0m-5-15h0m-1 6h0m-3-29h0m-2 49h0m-1-39h0m-3 22h0m-1 14h0m-1-44h0m-3 49h0m-2-24h0m0 3h0m-4-15h0m-1 15h0m-1-21h0m0 31h0m0 2h0m-1-14h0m0 14h0m-1-13h0m0 1h0m-1 7h0m0 17h0m-1-27h0m-4 0h0m-10-9h0m-12-2h0m-6-17h0m-4 23h0m-2 2h0m-1-22h0m-1 12h0m0-11h0m-1 23h0m0-22h0m-2 2h0m-2 1h0m-3 14h0m-5-18h0m-1 13h0m0 0h0m-1-9h0m-3 9h0m0-11h0m-1 11h0m0-1h0m-2 4h0m-3-6h0m0-2h0m-2 5h0m-1 3h0m-2-12h0m0-3h0m-4 1h0m-3-3h0m61 103h0m3-4h0m2-3h0m5 8h0m1-18h0m2 11h0m2-37h0m4 39h0m1-9h0m2 10h0m0-12h0m0 2h0m2 26h0m0 0h0m0-1h0m0-25h0m4-17h0m2 21h0m4 7h0m1 9h0m1-14h0m0 18h0m5 1h0m0-10h0m1-16h0m0 11h0m1 13h0m0-12h0m0 10h0m0-22h0m1-6h0m2-9h0m2-6h0m2 32h0m0-40h0m0 6h0m0 32h0m1-38h0m0 46h0m0-7h0m2-31h0m1 37h0m1-10h0m0-2h0m1-15h0m1 17h0m0-14h0m0-23h0m1 46h0m2 4h0m3-45h0m0 15h0m0 25h0m1-28h0m0 1h0m0 22h0m0-2h0m1-21h0m0 27h0m1-30h0m0 35h0m0-26h0m1-19h0m0 28h0m0-22h0m1 24h0m0-2h0m0-2h0m0-9h0m1 0h0m0 8h0m0 1h0m1-26h0m0 46h0m0-16h0m1-34h0m0 5h0m0 28h0m1-17h0m0 8h0m0 25h0m1-42h0m0 32h0m1-14h0m2-5h0m0 34h0m2-29h0m1-2h0m0 8h0m2-20h0m1-1h0m0 10h0m2 24h0m3-28h0m2 4h0m2 2h0m1-2h0m1 9h0m2-7h0m2 5h0m5-20h0m0 12h0m3 25h0m1-14h0m5-2h0m0 20h0m2-7h0m0 11h0m5-16h0m1-29h0m0 38h0m1 3h0m0-45h0m0 41h0m3-2h0m5 15h0m0-20h0m1-31h0m0 9h0m0 16h0m0 3h0m1-4h0m0 24h0m1-1h0m0-12h0m1-23h0m0 7h0m0 9h0m3 0h0m1 16h0m3-23h0m2-9h0m2 20h0m2-20h0m0-15h0m2 53h0m0-17h0m1 6h0m1 10h0m0-21h0m3 17h0m0-15h0m2 3h0m0 8h0m3-29h0m1 17h0m0 0h0m1 18h0m0-54h0m1 55h0m2-31h0m0 24h0m2-18h0m2 24h0m0-32h0m1 14h0m1-18h0m0 15h0m1-12h0m4 5h0m1 9h0m0 0h0m1-9h0m3 27h0m0 0h0m0-13h0m2-27h0m3 39h0m0-4h0m0 10h0m4-9h0m3-39h0m1 32h0m0 14h0m0-48h0m2 38h0m3-37h0m0 32h0m2 17h0m0-9h0m1-44h0m3 50h0m2-16h0m2-7h0m1 11h0m1-18h0m1-14h0m0 5h0m1 26h0m2 13h0m1-8h0m12-34h0m1 10h0m2-4h0m2 30h0m3-47h0m0 25h0m1-8h0m0 4h0m3 36h0m4-33h0m1 7h0m0-10h0m2 9h0m1 27h0m1-32h0m2-10h0m5 11h0m0 28h0m3-18h0m2 0h0m1-17h0m1-5h0m1-9h0m1 37h0m1 2h0m3-12h0m0 23h0m2-20h0m0-16h0m0 11h0m0 10h0m2-27h0m1-9h0m3 3h0m2 9h0m1 14h0m2 24h0m0-39h0m0 36h0m2 1h0m1-45h0m2 49h0m4-57h0m1 23h0m0 0h0m1 17h0m3-14h0m1-3h0m1 20h0m1-12h0m0-28h0m1 12h0m1-7h0m0 21h0m1-14h0m0 11h0m1 0h0m1-7h0m2-16h0m1 13h0m2 2h0m1 3h0m3 14h0m3-8h0m1 10h0m1 2h0m1-8h0m1-21h0m1 12h0m1-11h0m0 33h0m3 8h0m1-11h0m1-7h0m0 5h0m0-11h0m1-15h0m0 16h0m2-22h0m0 18h0m0 5h0m1 14h0m1-11h0m1-12h0m0 3h0m0 17h0m0-10h0m2 5h0m0-12h0m3-6h0m1 39h0m2-38h0m2-11h0m0 5h0m6-3h0m1 10h0m3 36h0m2-48h0m1 2h0m1 3h0m2-9h0m3 11h0m4-10h0m9 13h0m1-18h0m3 16h0m6 20h0m0-22h0m2-10h0m0 13h0m0 7h0m0 34h0m1-35h0m0 35h0m1-57h0m1 19h0m0-11h0m1 24h0m2-13h0m1 13h0m2 1h0m1-13h0m0 35h0m1-1h0m1-15h0m2-11h0m0-28h0m4 24h0m6-16h0m1 42h0m1-36h0m3-4h0m1-6h0m1 2h0m5 42h0m6-49h0m2 4h0m1 1h0m1 42h0m3-11h0m3-36h0m3 1h0m4-2h0m0 3h0m0 23h0m0-1h0m1 0h0m0 4h0m1 9h0m0-15h0m1-17h0m0 26h0m1-10h0m2-12h0m1-5h0m0-4h0m0 2h0m0 9h0m2 41h0m0-48h0m0 15h0m1-14h0m3 11h0m1 42h0m0-53h0m1-3h0m1 46h0m0-16h0m0-25h0m3-3h0m1 9h0m1-4h0m2 24h0m2-10h0m0-9h0m1-12h0m3 11h0m1 7h0m3-14h0m2 3h0m3 9h0m0 5h0m1-18h0m2 15h0m3-11h0m0 27h0m1-36h0m1 24h0m8-18h0m0 35h0m5-34h0m5 3h0m3-10h0m5 10h0m1 9h0m4 32h0m7-28h0m17 8h0m1 1h0m5-10h0m-104 48h0m-4 6h0m-13-2h0m-12-14h0m-16 0h0m-6 7h0m-1-7h0m-4 21h0m0-19h0m-7 5h0m-5 16h0m0-15h0m-2 4h0m-8 5h0m-1-10h0m-8-3h0m-7-4h0m-10 5h0m-14 5h0m-1 18h0m-6-13h0m0-7h0m-10 41h0m0-16h0m-4 3h0m-3 6h0m-2-2h0m-2-11h0m-3-9h0m-1 14h0m0 3h0m0 9h0m-1-21h0m-1 7h0m0 8h0m0 2h0m-4 15h0m0-32h0m-1 30h0m-1-20h0m-1 16h0m-1-15h0m0-31h0m-1 13h0m0 21h0m-1 1h0m-3-5h0m-1 2h0m0-8h0m-2 4h0m0 16h0m-2-26h0m0 4h0m-2-9h0m-2-1h0m-1-1h0m-1-9h0m0 13h0m0 33h0m-1-38h0m-3 39h0m0-19h0m-7-29h0m0 28h0m-1-33h0m0 3h0m-2 17h0m-2-21h0m-2 22h0m-2 24h0m0-11h0m-1 23h0m-5-18h0m-1-7h0m-1 17h0m-2-10h0m0-2h0m-10 0h0m-1 19h0m-3-23h0m-2-6h0m-35 12h0m0 10h0m-10-14h0m-2 15h0m-5-44h0m-3 22h0m-3-9h0m0 18h0m-3-29h0m-2 1h0m-1 29h0m-6-29h0m-2 21h0m-8-31h0m-1 4h0m-1-5h0m-2 3h0m-5 2h0m-2 11h0m0-7h0m-1 0h0m-1-3h0m0 2h0m-1-2h0m-1 25h0m-2-23h0m-2-1h0m0 12h0m0 2h0m0-1h0m-1 5h0m0 19h0m-1-14h0m0-24h0m-1 19h0m-1-13h0m-1 22h0m-1-21h0m-1 41h0m-1-11h0m0-34h0m-1 46h0m-1-33h0m-1-8h0m0 44h0m-1-4h0m-4-36h0m0 4h0m-6-7h0m-3 8h0m-2-9h0m-3-12h0m-12 9h0m-6-6h0m0 6h0m-2-11h0m-6 0h0m-11 32h0m-6-24h0m-10 1h0m0 16h0m-3-21h0m0 15h0m-8-13h0m-2-5h0m-9 6h0m-1-4h0m-5-1h0m0 3h0m-2 2h0m34 56h0m3 0h0m5 15h0m12-13h0m2 13h0m0-3h0m1-8h0m3 5h0m1 28h0m4 8h0m0-30h0m2 14h0m2-27h0m4 4h0m3 19h0m0-21h0m1 7h0m0-2h0m3 31h0m4-36h0m1 24h0m0-24h0m6 40h0m3-19h0m0-14h0m1 4h0m1-4h0m1 5h0m2-10h0m1-5h0m2 18h0m1 27h0m0-25h0m2-7h0m1 15h0m0-6h0m6 16h0m1-34h0m1 12h0m0-4h0m4 14h0m3-8h0m0 12h0m2 0h0m1 8h0m3-4h0m0 10h0m4-20h0m3 2h0m1 9h0m5-10h0m0 0h0m7 1h0m4 9h0m1 0h0m7-22h0m14-4h0m1-11h0m43 4h0m7 9h0m3-9h0m30-1h0m17-4h0" stroke="#3AA081" stroke-width="16"/>
<path d="M6821 7978h0m5 0h0m5-2h0m6-4h0m21 2h0m1-27h0m2 21h0m8-2h0m3-3h0m2-5h0m7 15h0m-20 7h0m0 52h0m-1 6h0m-2-2h0m-1-31h0m-2 8h0m0-5h0m-6-23h0m-1 30h0m0 21h0m-1 0h0m-1-29h0m0-7h0m-4 31h0m-2-41h0m-1 37h0m0-3h0m-2-22h0m-1-8h0m-1 30h0m-2-41h0m0 34h0m-1 18h0m-2-47h0m-1 35h0m-1 9h0m0 0h0m-1-43h0m0 13h0m0 36h0m-1-2h0m-1 3h0m-2-12h0m0-2h0m-2-23h0m-1-7h0m-2 22h0m0-1h0m0 18h0m-1-29h0m-3 3h0m0 30h0m0-25h0m-1 8h0m0 6h0m-1-35h0m-1 41h0m-3-1h0m-1 0h0m-3-35h0m-1 14h0m0 22h0m-1-3h0m0 9h0m-1-35h0m-4 33h0m-1-43h0m-1 34h0m-1-20h0m0 13h0m-1-25h0m-2 13h0m0 11h0m-1-16h0m0 26h0m-1-26h0m-1-6h0m-3-6h0m0 16h0m0 1h0m-3 8h0m-1-4h0m-2-7h0m-2-5h0m-2 12h0m-2-24h0m-3 13h0m-2-7h0m-6 17h0m0-12h0m-2 39h0m0-45h0m-1 24h0m0-24h0m-1 32h0m-1-22h0m-2 21h0m0-8h0m0-20h0m-2-2h0m-1-1h0m-14-10h0m-4 8h0m-11 2h0m-6 6h0m-1 11h0m-48 28h0m-8-25h0m-2 13h0m-7 10h0m-7-17h0m-1 8h0m-5-5h0m-1-1h0m0 9h0m-1 7h0m-3-7h0m-42 3h0m-191 62h0m11 3h0m37-7h0m0-9h0m7-2h0m4 12h0m4 5h0m4-2h0m7-6h0m3-2h0m1 4h0m1 7h0m4-5h0m0-8h0m1 0h0m2 8h0m0-12h0m6-7h0m2 3h0m3-9h0m0 12h0m0 12h0m0-19h0m3 10h0m3-2h0m6 3h0m5-7h0m0 5h0m1 11h0m0-14h0m5-2h0m2 10h0m3 5h0m1-9h0m4 5h0m1 8h0m1-18h0m3 11h0m5 6h0m1-10h0m1 2h0m10 5h0m0-7h0m1 13h0m2 0h0m11-27h0m2 17h0m3-11h0m2-19h0m2-16h0m0 33h0m2-23h0m4 1h0m6 44h0m3-43h0m1-15h0m4 21h0m5-17h0m2 55h0m0-7h0m1-31h0m3 11h0m1-27h0m0 16h0m1-13h0m0 4h0m0 34h0m0 10h0m0 0h0m2-56h0m0 32h0m1-24h0m2 22h0m0 4h0m0-2h0m0-28h0m1 18h0m1-8h0m0 9h0m0 19h0m0-38h0m0 26h0m2-7h0m1 7h0m0-14h0m1 9h0m0-16h0m1 19h0m1-6h0m0 6h0m1-4h0m1 28h0m1-22h0m0-26h0m3 15h0m0-5h0m4 38h0m1-30h0m0 7h0m3-22h0m0 20h0m0 12h0m1-8h0m1-13h0m1 10h0m0-4h0m0 16h0m2-11h0m1-3h0m1-11h0m0 19h0m0-20h0m2 14h0m2-16h0m1-5h0m1 43h0m0 2h0m4-33h0m1 15h0m0 7h0m1 0h0m2-31h0m0 35h0m1-15h0m2-20h0m0 27h0m0-24h0m0-8h0m1 8h0m1-6h0m1 34h0m2-15h0m2-20h0m0 47h0m0-8h0m5-1h0m1 13h0m1-8h0m2-1h0m1 4h0m1 4h0m1-46h0m2 43h0m0 3h0m2-22h0m1 5h0m1 7h0m1-9h0m0-8h0m0 10h0m1 17h0m1-6h0m0-29h0m2-11h0m0 30h0m2 8h0m4-16h0m3 5h0m0 7h0m2-26h0m0 25h0m0-4h0m1-9h0m0 25h0m3-33h0m3 34h0m1-15h0m0 17h0m1-24h0m1 6h0m1 10h0m2-5h0m1-23h0m2 2h0m1 24h0m0-3h0m6-16h0m1 11h0m1 14h0m1-2h0m4-5h0m1-17h0m2 20h0m1 2h0m4-2h0m3-9h0m1 9h0m1-11h0m2 11h0m2-7h0m1 11h0m2-5h0m2-41h0m0 31h0m6-9h0m2 19h0m1-31h0m3 33h0m0 3h0m1-42h0m1 2h0m1 45h0m1-17h0m2-21h0m0 5h0m1 27h0m0-1h0m1-46h0m0 9h0m0 23h0m2-19h0m1-2h0m0 11h0m1-6h0m0 29h0m3-17h0m1 11h0m0 12h0m4 1h0m4-14h0m2-6h0m1-16h0m3 9h0m0 0h0m2-27h0m2 15h0m2 37h0m0-18h0m3 3h0m0-32h0m1 15h0m0 20h0m1-14h0m2-21h0m2 6h0m0-1h0m1 29h0m2-20h0m0-14h0m0 19h0m1 25h0m1-43h0m3 3h0m1-1h0m0 11h0m0 2h0m1 12h0m1-36h0m1 17h0m2-1h0m0-10h0m0 0h0m1 12h0m0 0h0m2 3h0m0-2h0m1 9h0m1-10h0m1 20h0m0-10h0m0 10h0m1 4h0m0-23h0m1-18h0m1 5h0m1 39h0m0 3h0m1-25h0m1-22h0m2 29h0m0 0h0m0 8h0m6-4h0m0-9h0m1-23h0m0 6h0m1 23h0m1-7h0m1 2h0m1-1h0m1-10h0m1-5h0m0 6h0m1-14h0m2 0h0m1 26h0m1-3h0m0 1h0m6 9h0m1-23h0m1-2h0m0 20h0m1-21h0m1 11h0m2-7h0m0 14h0m1-14h0m2 11h0m1-7h0m2 0h0m4 6h0m0-5h0m1-9h0m4 16h0m0 5h0m0-16h0m1 9h0m-42 51h0m-13 3h0m-1-11h0m0 6h0m0 4h0m-6 5h0m-5-9h0m0 10h0m-1 9h0m-4-29h0m-3 6h0m0 50h0m-4-26h0m-2-22h0m-2 36h0m-2-14h0m0 16h0m-2-40h0m0 18h0m-1 15h0m-2-4h0m-1-16h0m0 35h0m-2-15h0m-5-14h0m-1 7h0m0-10h0m-1-6h0m-5-2h0m-2-7h0m-4 31h0m-1-8h0m-1-3h0m-1-1h0m0-28h0m-1 15h0m0-10h0m-1 11h0m0 0h0m-2 6h0m0-9h0m-2 13h0m-1-1h0m0 12h0m-2-35h0m0 0h0m-1 18h0m-1-19h0m0 30h0m0-23h0m0 20h0m-1-16h0m-2 8h0m-1 9h0m0-8h0m-1 1h0m-1-6h0m-1-8h0m0-5h0m0 37h0m-1-28h0m-1 10h0m0-12h0m0 11h0m-2-5h0m0 14h0m-1-21h0m0 22h0m-1-3h0m0-27h0m0 10h0m-1 25h0m-1-7h0m-1-20h0m-1-3h0m0-7h0m-1 34h0m-1-27h0m-1 39h0m0-26h0m0 1h0m0 7h0m-2-16h0m-3 13h0m-1 6h0m0-14h0m0-15h0m-3 11h0m-1 19h0m0 7h0m-1-36h0m0 6h0m-1 6h0m0-3h0m-1 22h0m0-21h0m-1-9h0m-1 0h0m0 11h0m-1 42h0m0-53h0m0 0h0m-1 2h0m-1 10h0m0-9h0m-2-7h0m-1 47h0m-1-29h0m0 22h0m-4-25h0m-2-9h0m-1 6h0m0 9h0m-1-6h0m-2 27h0m0-33h0m-1 31h0m-1-8h0m-2-30h0m0 2h0m-1 40h0m-2-26h0m-2 28h0m-1-9h0m-1-14h0m0-1h0m-1-4h0m0 6h0m-1 26h0m-1-27h0m0-22h0m-1 4h0m-1 13h0m-3 5h0m0 26h0m-1 10h0m-1-43h0m0-6h0m-1 46h0m0-52h0m-1 8h0m-1 9h0m-1-16h0m-1 5h0m0 0h0m0-4h0m0 48h0m-1-26h0m-1 6h0m-1-30h0m-2 47h0m0-2h0m-1-45h0m-2 50h0m-1-46h0m-2 30h0m-2 1h0m0-38h0m-1 31h0m-2 23h0m0-15h0m-2-40h0m0 1h0m-1 52h0m0-12h0m-3 0h0m-2-7h0m-2 9h0m-3 10h0m-5-16h0m-3 22h0m-1-11h0m-2 1h0m0-6h0m-4-36h0m-5 26h0m-8-15h0m0 25h0m-1-18h0m0 18h0m-1 4h0m-3-16h0m0 16h0m-3-8h0m-4-11h0m-3 8h0m-3 6h0m0 3h0m-3 6h0m-2-5h0m0-17h0m0 19h0m-1-12h0m0-10h0m-1 1h0m0 24h0m-1-35h0m-1-5h0m0 29h0m-1 10h0m-1-21h0m-1-11h0m0 24h0m0-29h0m0 44h0m-2-31h0m-2 13h0m-1-3h0m-3-7h0m-1-24h0m-1 44h0m0-29h0m-1-2h0m0 7h0m-2-9h0m0 26h0m-1 14h0m-1-24h0m-2 23h0m-1-7h0m0 4h0m-1-4h0m-1-19h0m-2-20h0m-4 8h0m0 21h0m-1-23h0m-3 31h0m-1 5h0m-1-23h0m0 9h0m-1 21h0m-1-14h0m-2-23h0m0 33h0m-1-20h0m0-1h0m0 5h0m-1 2h0m0 7h0m-2-35h0m0 2h0m0-6h0m-1-2h0m0 25h0m0 8h0m-1-5h0m-1 5h0m-1-36h0m0 54h0m-1-16h0m-2-7h0m-1-33h0m0 57h0m-1-3h0m-1-7h0m-1 3h0m-2-33h0m0 0h0m-2 20h0m0 16h0m-1-31h0m-1-23h0m-1 57h0m-1-10h0m-2-1h0m-1-41h0m-2 43h0m-1-45h0m-1 35h0m-2-2h0m-1-16h0m-5 21h0m0 0h0m-1-8h0m0 2h0m0-9h0m-1-4h0m0 5h0m-3 24h0m0-36h0m-1 9h0m-1 11h0m0 2h0m-1-12h0m0 15h0m0-26h0m-2 9h0m-2 26h0m-1 7h0m-1-8h0m-1 8h0m0-38h0m-1 4h0m-1 20h0m-2-29h0m-2 31h0m-4-33h0m0 11h0m0-10h0m-1 30h0m0-32h0m-1 5h0m0-4h0m-3 28h0m0-12h0m0 12h0m0-37h0m-1 0h0m-3-1h0m-2 48h0m-1 2h0m-1-38h0m-5 7h0m-5 5h0m-6 8h0m-3 26h0m-1-55h0m-3 50h0m-8-47h0m-1-6h0m-1 22h0m-1 36h0m0-39h0m-2 14h0m-4-30h0m0 24h0m-3-11h0m-2 39h0m-1-48h0m0 8h0m-2 24h0m-2 17h0m0 2h0m-2-54h0m-2 3h0m-2 5h0m0 38h0m0-3h0m-3-47h0m-6 3h0m-1 12h0m-14-11h0m-31 65h0m7 6h0m2 3h0m1-5h0m0-9h0m4 13h0m8-12h0m1 13h0m1-5h0m10 5h0m2 3h0m4 13h0m0-22h0m1 0h0m7 22h0m4 23h0m2-56h0m1 39h0m3 3h0m2 1h0m0-32h0m4-11h0m15 6h0m1 0h0m5 45h0m2-52h0m5 44h0m3-37h0m0 1h0m5 44h0m2-47h0m1 41h0m2-19h0m2-14h0m3 40h0m1-39h0m3 39h0m1-39h0m0 9h0m4-3h0m1 13h0m1-31h0m2 15h0m0-14h0m0 33h0m2-14h0m1-7h0m0 9h0m0-13h0m0 30h0m4-17h0m1-23h0m1 37h0m2 3h0m0-28h0m1 13h0m1-22h0m1 22h0m0 26h0m1-1h0m1-22h0m0 7h0m0-4h0m3 3h0m2-14h0m0 30h0m1-14h0m1-15h0m4 13h0m1-3h0m0 18h0m2-10h0m3-4h0m1-7h0m1-9h0m1 24h0m1-12h0m0-18h0m2 12h0m0 20h0m1-37h0m2 10h0m1 25h0m0 5h0m0-46h0m0 51h0m3-24h0m0-19h0m4-2h0m0 5h0m1 28h0m0-31h0m0 37h0m1 3h0m2-51h0m3 45h0m0-39h0m2 2h0m1 30h0m0-19h0m2 12h0m1 19h0m0-11h0m0-3h0m2-13h0m1 26h0m0-2h0m1 10h0m1-42h0m1 24h0m0-27h0m1 24h0m0-29h0m1 51h0m0-10h0m0-18h0m1-6h0m1-9h0m1-10h0m1 40h0m0-32h0m4-7h0m1-5h0m2 21h0m1-23h0m0 25h0m1 11h0m1 3h0m0-27h0m1-1h0m3 39h0m4 3h0m0-17h0m0-25h0m0-2h0m4 15h0m0-10h0m1 0h0m0 4h0m1-7h0m1 39h0m0-13h0m0-24h0m0 43h0m4-21h0m2-34h0m1 36h0m1 13h0m0-27h0m1 36h0m1-22h0m2 18h0m1-6h0m1 2h0m0-17h0m0-11h0m2 23h0m2 12h0m5-11h0m2-2h0m3 0h0m0-15h0m0-8h0m1 27h0m1-44h0m3 41h0m0 4h0m1-44h0m0 30h0m0 12h0m2-7h0m0-21h0m1 18h0m4-7h0m1 5h0m0-18h0m0 28h0m3-23h0m1-9h0m0-9h0m0-5h0m0 22h0m1 32h0m1-19h0m2-14h0m0 31h0m1-42h0m0 43h0m2-53h0m0 1h0m1 55h0m1-44h0m1-5h0m1 5h0m5-6h0m0-6h0m1 9h0m10 11h0m1-12h0m0 7h0m1-9h0m0 8h0m1-8h0m1 2h0m2 13h0m4-6h0m4 7h0m4 8h0m2-10h0m1-19h0m2 17h0m3-15h0m1 23h0m1-8h0m2-14h0m0 11h0m8 9h0m2-19h0m1 7h0m3 16h0m1-21h0m2 16h0m2 8h0m3 22h0m0-23h0m2 11h0m1 5h0m1-7h0m3-32h0m3 37h0m0 7h0m1-10h0m0 7h0m1-34h0m0-12h0m1 54h0m1-12h0m0 14h0m3-41h0m0 37h0m1-54h0m4 34h0m1 19h0m2 5h0m2-34h0m1-23h0m0 9h0m2 23h0m8-20h0m1 22h0m2 22h0m3-29h0m2 24h0m0 3h0m5-29h0m0 23h0m1 1h0m1-37h0m1 21h0m1-12h0m0 5h0m2 32h0m5-8h0m1-20h0m5-1h0m0 23h0m1-37h0m1 24h0m2-29h0m0 14h0m1 6h0m1-28h0m4 32h0m6-11h0m1-24h0m0 1h0m1 18h0m4 7h0m0-24h0m2 10h0m3 4h0m0 14h0m2 7h0m0-26h0m7 27h0m1 5h0m3 8h0m4 7h0m19-9h0m14 9h0m10 51h0m-2-19h0m-2 4h0m-5-22h0m0 15h0m-3 12h0m0 3h0m0-38h0m-1 43h0m-1-33h0m-1 16h0m-1 23h0m-1-17h0m0 15h0m-1-2h0m0-18h0m-2-15h0m0 23h0m-1-38h0m-1 24h0m-1-18h0m0-2h0m-3 22h0m-2 9h0m-1 19h0m0-30h0m0 24h0m0-31h0m-1 7h0m-1 21h0m-3-45h0m-1 10h0m0 5h0m-1 14h0m0-7h0m-2-10h0m-3 24h0m0-18h0m-1-14h0m-1 47h0m-4-8h0m0 6h0m-3-8h0m0 14h0m0-20h0m-1-19h0m-1 4h0m-1 37h0m-2-38h0m-3 37h0m-2-21h0m0 22h0m-2-18h0m-3-11h0m0 17h0m-8-20h0m-14 1h0m-1-6h0m0 31h0m-6-44h0m-1 22h0m-1 26h0m0-3h0m-2-37h0m0 29h0m-3-36h0m-3 21h0m-1 13h0m0-18h0m-1-21h0m-1 21h0m0 22h0m0-29h0m-1 35h0m0-6h0m0 10h0m0-22h0m-1 16h0m0-12h0m0-29h0m0 3h0m-2 8h0m-1-3h0m0-8h0m0 8h0m-1 27h0m0-24h0m0 14h0m-1-5h0m0 8h0m-1 4h0m0 8h0m0-48h0m-2 32h0m-1-20h0m0 33h0m0-22h0m-1 26h0m0-13h0m0-33h0m-1 23h0m0-18h0m-1 21h0m0-11h0m-1 31h0m-1-20h0m-1-27h0m0 19h0m-1 24h0m0-16h0m0 13h0m-1-4h0m-1 12h0m-1-48h0m0-4h0m-1 0h0m0 22h0m0-20h0m-2 46h0m-2 9h0m-7-8h0m-4-13h0m-2 10h0m-1-45h0m-1 38h0m-1-36h0m-1 34h0m0-2h0m-1 24h0m0-47h0m-1 18h0m-1 12h0m-1-17h0m0 31h0m-1-36h0m-2 36h0m-1-51h0m-2 5h0m-2 14h0m0-7h0m-1-1h0m-1 19h0m-1-12h0m-3 25h0m-3-25h0m0 12h0m0 16h0m-1 1h0m-2-14h0m0-7h0m-1-6h0m0 12h0m-1-16h0m-1 12h0m0-2h0m-4 9h0m-2-13h0m0 6h0m-2 4h0m0-15h0m0 27h0m-1-20h0m-2 10h0m-1 2h0m-2-11h0m-2-13h0m0 37h0m-1-4h0m-1-5h0m-1-20h0m-1 31h0m-1-11h0m0-14h0m-1 18h0m0-14h0m-1 0h0m-2-8h0m0-23h0m-1 36h0m0 3h0m-2 11h0m-1-24h0m-3 6h0m0 13h0m-1 2h0m-1-14h0m-1 19h0m0-51h0m-1 31h0m-2 8h0m-1-7h0m-1 9h0m0-9h0m-2 20h0m0-17h0m-1-25h0m0 12h0m-1-13h0m-3-9h0m-1 23h0m-1 5h0m-1-13h0m0 0h0m-2-2h0m0 27h0m-2-20h0m0 26h0m-1-13h0m-1 2h0m-4-10h0m0-3h0m-2 7h0m-1-19h0m-1 0h0m0 20h0m-2 18h0m0 3h0m-1-9h0m-2 7h0m-1-47h0m0 42h0m-1 9h0m0 1h0m-1-43h0m0 27h0m-1-39h0m-1 11h0m-2 31h0m0-28h0m-1 30h0m-3 8h0m-1-54h0m-1 2h0m-2-4h0m-2 38h0m0 6h0m-2-28h0m-2 22h0m-3-4h0m-7-3h0m0-2h0m-5-19h0m-1 4h0m-7 17h0m0 4h0m-1-9h0m-1-14h0m-1 22h0m-1-32h0m0 5h0m-1 25h0m0-13h0m-1-2h0m-2 39h0m-2-53h0m-1 17h0m-2-12h0m-3 24h0m0 25h0m-3-25h0m-1-10h0m-1-13h0m0 13h0m-1 8h0m-1-29h0m-1 14h0m0-4h0m-1 14h0m-1-23h0m0 26h0m-4-17h0m-1 5h0m-4 3h0m-6 11h0m-1-5h0m-4-22h0m-2 33h0m0-8h0m0-6h0m-3 3h0m-7 10h0m0-20h0m-3 18h0m-4 13h0m-5 6h0m-1-3h0m0-31h0m-4-18h0m-2 11h0m0 31h0m-6 8h0m0-24h0m-1 24h0m-3-23h0m-1-8h0m0 32h0m-1-6h0m-1 1h0m-3-36h0m0 27h0m-2-15h0m0 25h0m-2-25h0m-1 31h0m-4-30h0m-1 19h0m0 5h0m-5 8h0m-1-34h0m-1-11h0m0 24h0m-1 11h0m-2 10h0m-1 2h0m0-28h0m-4-25h0m0 52h0m0-6h0m0-1h0m-1-11h0m-2 13h0m0-25h0m-3 26h0m0-20h0m-1-23h0m0 49h0m-1-50h0m0 22h0m-3-4h0m-1-14h0m0 46h0m-1-18h0m-4 11h0m0-25h0m-2-9h0m-1 19h0m0 3h0m0 16h0m-1 4h0m0-37h0m-2 5h0m-2 14h0m0-20h0m0 9h0m0 28h0m-1-42h0m0 19h0m-1-22h0m0 19h0m0 17h0m0-16h0m-3 25h0m0-31h0m0 10h0m0 14h0m-2-10h0m-1-41h0m0 31h0m-1-11h0m-1 8h0m0 28h0m-1-34h0m0 8h0m-1-11h0m-1-8h0m-1 17h0m-4 0h0m0 17h0m-3-31h0m0 37h0m-1 7h0m-5-11h0m-2-9h0m-1-22h0m0 11h0m-1-15h0m-2 34h0m-1 7h0m-1-24h0m-2-12h0m-1 38h0m0-9h0m-1-4h0m-1-21h0m-1-3h0m-5 27h0m0-26h0m-1-3h0m-2 3h0m-3-3h0m-2 32h0m-1-9h0m-1 4h0m0 13h0m0-33h0m-2 10h0m-2 2h0m-4-17h0m-1 13h0m-1 5h0m0 4h0m-1 5h0m0 14h0m-1-7h0m-1-10h0m-3 11h0m-2-6h0m0 6h0m0-10h0m0-28h0m-2 23h0m0 0h0m-1-19h0m-1 38h0m-1-16h0m0-1h0m-1-3h0m0 2h0m0 1h0m-1 17h0m0-7h0m-2-24h0m-2 24h0m0 3h0m-2-22h0m-1 12h0m-3-12h0m-1 22h0m-3-6h0m-1 12h0m-1-26h0m0 18h0m-3 7h0m-15-4h0m-8 24h0m13 5h0m1-21h0m1-1h0m2 19h0m1-8h0m5-3h0m1-4h0m0 20h0m1 7h0m0-30h0m1 30h0m1-31h0m1 45h0m0-7h0m1 10h0m0-7h0m4-14h0m0-13h0m1 0h0m0 41h0m0-54h0m1 28h0m1-16h0m0 6h0m0 12h0m2-11h0m0 11h0m0-10h0m1-5h0m1-15h0m0 28h0m0-14h0m1 22h0m0 18h0m0-32h0m1-11h0m0 39h0m0-48h0m2 19h0m0 2h0m1 1h0m1-16h0m0 3h0m1 18h0m0-24h0m1 47h0m0-40h0m0-14h0m3 0h0m0 17h0m2-11h0m0 11h0m20-16h0m8 0h0m1 43h0m0-16h0m3-18h0m1 4h0m1 13h0m2 3h0m1 28h0m2-49h0m0-6h0m0-3h0m6 11h0m1 19h0m1-23h0m2 8h0m0 41h0m1-6h0m1-44h0m0 6h0m1 26h0m1 9h0m0-21h0m1-16h0m0 8h0m1-6h0m2 5h0m1-3h0m0 9h0m0 2h0m1-2h0m1 17h0m0-22h0m1 3h0m0 12h0m2 26h0m1-44h0m1 16h0m2-6h0m1 21h0m0-3h0m0-43h0m0 9h0m4 50h0m0-44h0m4 20h0m1-7h0m1-3h0m0 3h0m1 7h0m2-23h0m2 25h0m1-34h0m0-2h0m1 40h0m2-36h0m1 14h0m1 23h0m0-11h0m1 2h0m0-5h0m1-25h0m1 38h0m2-34h0m0 20h0m1 23h0m5-20h0m1 6h0m2-30h0m1-6h0m1 56h0m0-13h0m4-6h0m2-8h0m3-28h0m0 45h0m2 2h0m1-25h0m0 3h0m1 15h0m2-36h0m7 46h0m2-45h0m2-1h0m0 9h0m1 45h0m3-12h0m0 9h0m2-22h0m0-19h0m1 40h0m0-39h0m1-2h0m1 12h0m3-4h0m1-12h0m0 27h0m1-36h0m0 2h0m0 22h0m1 34h0m2-54h0m3 4h0m0-5h0m0 15h0m4-6h0m0 41h0m3-45h0m0 20h0m2-12h0m1 39h0m4-35h0m4-13h0m0 43h0m0 6h0m0-42h0m0 2h0m1 7h0m2 31h0m2-6h0m1 8h0m1-8h0m2 1h0m0-38h0m1 37h0m1-8h0m0 18h0m0-4h0m1-45h0m0 35h0m2-16h0m0 4h0m0 12h0m1-19h0m1 15h0m0-37h0m0 9h0m2 12h0m2-15h0m1-1h0m0 25h0m0-3h0m0-3h0m1-6h0m2-10h0m0 12h0m0 13h0m0-7h0m1 6h0m1-5h0m2-28h0m2 40h0m1 8h0m1-31h0m0 17h0m1-10h0m2-11h0m2 38h0m0-9h0m1-23h0m0 0h0m3-9h0m1 27h0m1-4h0m4-31h0m1 36h0m2-5h0m1 21h0m1-15h0m0-25h0m1 15h0m0 4h0m0-6h0m0 28h0m1-35h0m2 5h0m0 4h0m3 19h0m1-6h0m1-1h0m1 3h0m0-8h0m1-22h0m2 20h0m1 10h0m0 12h0m1-7h0m1-1h0m1-16h0m1 7h0m1 12h0m0-15h0m2 17h0m0-1h0m1-1h0m0-45h0m1 39h0m2-5h0m0-29h0m1 29h0m1-31h0m1 45h0m0-11h0m1 7h0m0-1h0m1-42h0m0 49h0m1-5h0m1-22h0m0-31h0m0 5h0m1 50h0m3-5h0m0 1h0m1 7h0m1-15h0m0-28h0m2 25h0m1 17h0m0-30h0m1 22h0m1-15h0m1-34h0m1 55h0m0 3h0m1-13h0m0-24h0m0 25h0m0-27h0m1 9h0m0-13h0m1 20h0m0-13h0m1 36h0m1-5h0m0-12h0m0-4h0m1-27h0m1 40h0m0-7h0m1 13h0m0-13h0m1-3h0m2 7h0m0-5h0m1 4h0m2-25h0m0-12h0m0 8h0m1 12h0m0 2h0m0-1h0m0 10h0m1-30h0m0 39h0m1-20h0m0-19h0m1-4h0m0 19h0m0-1h0m0 30h0m1-38h0m0-14h0m0 7h0m0 38h0m1-34h0m0 43h0m0-41h0m2 40h0m0-22h0m1 16h0m0-23h0m0-7h0m0-8h0m0-4h0m1 43h0m0-8h0m1 6h0m0-43h0m1 21h0m2 30h0m0-12h0m1-41h0m0 25h0m1 1h0m0 25h0m1-38h0m1 5h0m1-3h0m1 29h0m0-27h0m1 27h0m0-19h0m0 28h0m0-22h0m0 4h0m1 17h0m0-13h0m0 6h0m1-45h0m2 48h0m2-48h0m1 9h0m0 5h0m2 41h0m0-7h0m0-16h0m2 5h0m0 15h0m1 1h0m0-29h0m0 1h0m1-29h0m1 41h0m1-35h0m0 41h0m0-5h0m0-31h0m2 24h0m0 5h0m1-3h0m1-9h0m0 16h0m1-14h0m0-4h0m1-1h0m0 6h0m0 4h0m1-35h0m0 9h0m1 35h0m0-1h0m1 16h0m0-40h0m0 14h0m1 9h0m0 9h0m0-44h0m0 3h0m1 26h0m0 15h0m0-46h0m1 1h0m0 46h0m1-21h0m0 2h0m0 5h0m1 3h0m0 17h0m0-41h0m1 26h0m1-34h0m0 20h0m1-17h0m0 38h0m0-3h0m1 3h0m1-28h0m0 21h0m3-7h0m1 10h0m0-44h0m0 40h0m0-24h0m1 9h0m0 2h0m1-1h0m0-12h0m0 30h0m0-28h0m2 6h0m1-6h0m0 14h0m0-13h0m1-12h0m0 44h0m1-26h0m0 23h0m0-11h0m1 3h0m1-4h0m1-4h0m0-6h0m1-14h0m0 23h0m0-18h0m1 9h0m0 0h0m0-4h0m1-20h0m0 40h0m2 13h0m1 2h0m1-51h0m1 11h0m1 40h0m0-10h0m0-20h0m1-13h0m1 26h0m1-19h0m2-10h0m1 48h0m0-33h0m2-20h0m0 49h0m2-48h0m2 27h0m1 25h0m0-1h0m0-45h0m1 5h0m1-18h0m1 30h0m3 29h0m3-40h0m2 36h0m2-44h0m1 9h0m2 30h0m4-37h0m2-11h0m1 10h0m0-6h0m0 9h0m2-5h0m0-6h0m2 20h0m4 29h0m0-33h0m1 35h0m0-33h0m3 13h0m1-23h0m1 43h0m0-36h0m1 40h0m0-30h0m6-12h0m2 22h0m0-13h0m0-2h0m2-13h0m1 5h0m2 33h0m0 9h0m1-49h0m1-2h0m1 1h0m2 34h0m1 3h0m0-19h0m2 14h0m0 15h0m2-20h0m0-18h0m0-12h0m1 21h0m3-2h0m2-19h0m1-2h0m0 3h0m1 33h0m0-38h0m1 5h0m3 12h0m0-8h0m1 1h0m3-5h0m1 16h0m1-12h0m1-2h0m0 14h0m3-10h0m1 36h0m3-37h0m0 9h0m1 37h0m2-8h0m0-37h0m5 11h0m1 35h0m0-40h0m1 24h0m0 3h0m2-34h0m0 11h0m1-15h0m1 24h0m0-11h0m2 3h0m2-18h0m1 43h0m1-10h0m2-13h0m4-3h0m2-7h0m9 4h0m-18 47h0m-13-1h0m-4 15h0m-5-11h0m-2-5h0m-10 5h0m-7-5h0m-2 13h0m-5-9h0m-3 3h0m0-10h0m-1 18h0m-2-10h0m-2 4h0m-2-13h0m-12 0h0m0 40h0m0-6h0m-3 16h0m0-27h0m-5 9h0m-3-12h0m-1-16h0m-1 22h0m-1-25h0m0 36h0m0-22h0m-1 10h0m-2-17h0m-1 44h0m0-32h0m0-14h0m-1 3h0m0 17h0m0 5h0m0-5h0m-4 8h0m-2-12h0m-3-8h0m-1 33h0m-2-24h0m-1 16h0m-1-22h0m-2 18h0m-1-5h0m-2 3h0m-1-25h0m-2 6h0m-1 26h0m0-35h0m-1 12h0m-1-12h0m-1 31h0m-2-16h0m0-15h0m-1 7h0m-3 11h0m-1 0h0m-1 3h0m-1-10h0m-2 22h0m-1-34h0m-1 20h0m-3-4h0m-3-10h0m-2 31h0m-1-1h0m0-18h0m-1-15h0m-1 3h0m-4-6h0m-1 10h0m-1-7h0m-1 5h0m0 6h0m-4 10h0m-2-15h0m0 0h0m-2 14h0m-1-26h0m0-1h0m-3 30h0m-2-10h0m0-18h0m0 5h0m-1 0h0m-1 10h0m-2 7h0m0-24h0m0 4h0m-1 36h0m0-15h0m-1-1h0m0 3h0m0-20h0m-2 5h0m-1 26h0m0-12h0m0-21h0m-1-2h0m-2 24h0m0-14h0m-1 32h0m0-37h0m-1-4h0m-1 23h0m0 31h0m-1-20h0m-1-33h0m0 29h0m0-16h0m-1-9h0m0 1h0m-2 29h0m-2 2h0m-1-34h0m0 2h0m-2-6h0m0 1h0m-1 16h0m0 33h0m0-47h0m0-4h0m-1 16h0m-1 18h0m0-29h0m-1 41h0m0-41h0m-1 44h0m0-49h0m0 11h0m-2 7h0m-1-5h0m-1 6h0m-1 23h0m-1-20h0m-1 27h0m0-27h0m-1-2h0m0 5h0m0-12h0m0-11h0m-1 22h0m0 14h0m-1-4h0m-1 22h0m0-53h0m0 54h0m-1-29h0m-1-4h0m-1 13h0m0-17h0m0 9h0m0-21h0m-2 21h0m-1-21h0m0-8h0m-1 21h0m0 16h0m-1-20h0m0-2h0m-1-10h0m-1-4h0m-1 5h0m-1 33h0m0-9h0m-1-16h0m-1-16h0m-1 47h0m0-19h0m-1 13h0m0-8h0m-1 26h0m-1-23h0m-1 8h0m-1-43h0m-3 35h0m0-24h0m0 46h0m-1-54h0m0 44h0m-1-43h0m-1 52h0m-1-29h0m-3 27h0m-1-54h0m0 54h0m-1-10h0m-2-22h0m-3-8h0m-1-8h0m-1-1h0m-1 13h0m-1 3h0m0-17h0m0 54h0m-3-44h0m0 15h0m-1 13h0m0-30h0m-2-2h0m0 41h0m0-4h0m-3-40h0m0-3h0m0 14h0m-1 4h0m0 26h0m0 6h0m-2-20h0m-1-35h0m-1 55h0m-3-33h0m0-5h0m-4 42h0m0-58h0m-1 18h0m-1 13h0m-1-4h0m0-10h0m-1-9h0m0 6h0m-2 37h0m-7 0h0m0-17h0m-1-25h0m-8-5h0m-3 3h0m-1 46h0m-4-13h0m0 7h0m0-35h0m-2 42h0m-2-52h0m-7 52h0m-1-38h0m-1-13h0m-4 33h0m-2-9h0m0 14h0m0-31h0m-1 19h0m-2-28h0m-1 19h0m-2 19h0m-2-24h0m-1-4h0m-3 10h0m-2 25h0m-1-41h0m-2 35h0m-1-37h0m0 4h0m-1-2h0m0-6h0m-2 2h0m-2-2h0m-1 12h0m0 9h0m-1 27h0m0-8h0m0-26h0m-4-2h0m-2-11h0m0 27h0m-2 0h0m-2-11h0m-1 30h0m-3-12h0m-2-13h0m0 14h0m-1 15h0m-1-17h0m0 2h0m-1 1h0m-1-4h0m-3 7h0m-2 0h0m-2 5h0m-1-10h0m-1-4h0m-3 10h0m-1-1h0m0-9h0m-1-4h0m0 30h0m-9-26h0m-3 3h0m-3 2h0m-3 9h0m0-14h0m-1-17h0m0-10h0m-2 54h0m-2-6h0m0-14h0m-1 9h0m-1-34h0m-4 31h0m-1 7h0m-1-16h0m-2 15h0m-1-44h0m0 42h0m0-9h0m-1 8h0m-3-18h0m0 21h0m-2 1h0m-1-8h0m0-5h0m-2 11h0m0-11h0m0 4h0m-1 16h0m-2-27h0m-2-19h0m-2 26h0m0-5h0m0-31h0m-4 25h0m-1-24h0m-1 6h0m-1 50h0m0-54h0m-1 10h0m-1 9h0m-2 3h0m0-23h0m-16 23h0m-10-6h0m-10 7h0m-4 13h0m-14 13h0m-12-52h0m-1-2h0m-2 23h0m-2-10h0m-1-9h0m0 5h0m-6 47h0m-1-35h0m0 8h0m-2-13h0m0 28h0m-2-39h0m-3 29h0m-2 11h0m-26-20h0m-2 4h0m-1 10h0m-2-12h0m-3 15h0m-3 11h0m0-11h0m-2-29h0m-7 38h0m-6 2h0m0-7h0m-10 21h0m2-3h0m14 10h0m7-14h0m0 16h0m2 0h0m2 16h0m2-7h0m1 27h0m1-2h0m0 9h0m0 0h0m1-23h0m0-14h0m1-18h0m3 21h0m0 34h0m2-23h0m3-14h0m0 12h0m1 14h0m2 5h0m2 5h0m3-38h0m5 24h0m1-11h0m1-4h0m0 23h0m2-34h0m0 29h0m2-1h0m2-1h0m1 4h0m1-13h0m0 9h0m0 3h0m1 2h0m2-46h0m2 25h0m1 26h0m4-54h0m0 31h0m2-3h0m0 23h0m1-21h0m0-12h0m0 21h0m1-21h0m2 15h0m1 6h0m0-23h0m0 8h0m0-3h0m2-12h0m1 49h0m1-46h0m3 19h0m1-8h0m3 28h0m2-30h0m4 25h0m7-35h0m5 11h0m4-1h0m12 0h0m2 33h0m0 2h0m13-40h0m1 1h0m3-9h0m2 45h0m1-11h0m4-24h0m1 29h0m1-46h0m5 39h0m2 14h0m4-7h0m2 11h0m0-19h0m1 2h0m1 6h0m1-11h0m0 16h0m2-15h0m2-36h0m3 6h0m0-3h0m1 41h0m2-42h0m1 17h0m1 3h0m0-13h0m4 42h0m1-11h0m6 11h0m1-1h0m0-46h0m2 36h0m0-13h0m2 4h0m1-18h0m1 41h0m1-40h0m0-15h0m1 35h0m0 15h0m3-12h0m0 11h0m1 5h0m0-7h0m0-26h0m0 33h0m1-35h0m1 30h0m2-38h0m1 40h0m2 2h0m0-17h0m0-33h0m1 0h0m1 43h0m1-8h0m5 17h0m1 0h0m1-24h0m1-6h0m3-24h0m4 22h0m4-8h0m2-7h0m0-7h0m7 8h0m1 4h0m2-14h0m6 25h0m8 10h0m1-5h0m2 1h0m0-3h0m0 5h0m1 23h0m0-33h0m2 35h0m2-43h0m1 33h0m0-12h0m2-2h0m0 16h0m1-25h0m0 6h0m1 26h0m1-33h0m0 1h0m4 12h0m0 10h0m0-6h0m1-3h0m1-16h0m1-4h0m1 23h0m0 2h0m1-23h0m1 12h0m1 27h0m1-21h0m0-19h0m0 4h0m0-14h0m1 4h0m1 29h0m1-24h0m2 14h0m0 16h0m1-42h0m1 6h0m2-10h0m0 39h0m3-14h0m1-26h0m1 1h0m1 18h0m1 22h0m1-39h0m1 14h0m1-6h0m1-3h0m4 0h0m0-6h0m4 4h0m0-1h0m3 9h0m4-7h0m2 1h0m1-8h0m1 12h0m1-8h0m1 54h0m0-7h0m2-11h0m0-2h0m3 0h0m2-7h0m0-13h0m3-7h0m1 16h0m2-26h0m0 7h0m3 0h0m0 4h0m1-2h0m2 31h0m3-5h0m1-3h0m6-32h0m2 18h0m2 5h0m3-6h0m1-14h0m1 11h0m7-2h0m3-2h0m3-2h0m4 47h0m2-45h0m1 40h0m5 6h0m6-56h0m1 28h0m0-10h0m1 26h0m1-42h0m2 8h0m1 0h0m3 23h0m3 4h0m2-23h0m2 23h0m1-1h0m2 6h0m4 4h0m1-23h0m1 4h0m10 13h0m2 2h0m1 0h0m7 5h0m1-8h0m32-16h0m12-13h0m4 7h0m4-3h0m1-14h0m2 4h0m1-2h0m4 11h0m4-8h0m10 8h0m0 5h0m1-4h0m2-2h0m3 6h0m-143 42h0m-4 8h0m-3-3h0m-8 9h0m-1 9h0m-5-17h0m-10-1h0m-9 12h0m-1 5h0m-1 4h0m-3 12h0m-2-7h0m-1-12h0m-2 8h0m-6 0h0m0 0h0m0-21h0m-1 18h0m-1 2h0m-4 9h0m-2 12h0m0-16h0m-2-7h0m-1 2h0m-2 0h0m0 5h0m0-10h0m-2 1h0m-1-3h0m-1 15h0m-1 3h0m-2-15h0m-4-1h0m-3-2h0m-2 2h0m-2 12h0m-1-9h0m-2-14h0m0 5h0m-1 29h0m-1-34h0m-1 8h0m-1-8h0m-2-2h0m0-5h0m-1 30h0m0-20h0m-6 14h0m0-3h0m-2-25h0m-1 8h0m0-5h0m0 30h0m-4-22h0m-2 1h0m-2 13h0m-1-19h0m-1 12h0m-2 33h0m0-34h0m-3 24h0m-1 6h0m0-21h0m-4-23h0m-2 16h0m-5-10h0m-2 1h0m-1-6h0m-1 36h0m-5 6h0m-3-40h0m-1 29h0m-1-35h0m-1 48h0m0-28h0m-3 20h0m0-28h0m-2 9h0m-1 5h0m-3 28h0m-1-51h0m-1 7h0m-4 48h0m-2-55h0m-1 9h0m-1 41h0m-1 4h0m0-30h0m-1-14h0m0 0h0m-1 45h0m0-58h0m-2 45h0m-1 6h0m-1-30h0m0-21h0m0 26h0m-1 22h0m0-11h0m-1-36h0m-2 6h0m-1 45h0m-2 3h0m0 0h0m-2-38h0m-14 37h0m-9 1h0m-9-5h0m-1 5h0m-1-3h0m0-23h0m-1 29h0m-2-40h0m-3-17h0m-3 45h0m0-42h0m-1 27h0m-2-16h0m-2 35h0m0-42h0m-3 20h0m-2-24h0m0 18h0m-4-10h0m-1 20h0m-1 1h0m-5-28h0m0 17h0m-1-15h0m-1 13h0m-3 5h0m-1 2h0m-1-13h0m-2 6h0m0-3h0m-5-8h0m-7 15h0m-5-4h0m-5-2h0m-7 10h0m-2-11h0m-9-5h0m-2 10h0m-1-22h0m-2 5h0m-2 23h0m-1-8h0m-1 1h0m-2-11h0m-4 3h0m0 4h0m-1-13h0m-1 2h0m-1-4h0m-3 7h0m-3 1h0m0 2h0m-2-8h0m-2-2h0m-2 15h0m-6 2h0m-7-14h0m-3 3h0m109 53h0m10 0h0m3 5h0m0-3h0m2-2h0m3 1h0m7 1h0m7 50h0m4-52h0m1 1h0m0 0h0m1 50h0m5-3h0m5-37h0m6 24h0m0 20h0m2-43h0m2 8h0m3-12h0m1 18h0m0-14h0m2 2h0m1 14h0m3 21h0m0-45h0m0 49h0m2-26h0m0 29h0m1-24h0m1-22h0m2 29h0m1 5h0m2-9h0m1 3h0m10 0h0m2-2h0m15 1h0m3 2h0m6-8h0m3 2h0m-37 31h0" stroke="#2F3380" stroke-width="16"/>
<path d="M5734 7614h0m5-5h0m-13 11h0m-6 5h0m-9 11h0m0 34h0m-3 6h0m0 0h0m-7-30h0m0 25h0m-3-34h0m-5 27h0m-1 15h0m-5-40h0m-5 33h0m-59 55h0m6 4h0m5 1h0m2 5h0m1-7h0m3-3h0m5 5h0m2 0h0m7 3h0m5 4h0m9-8h0m1 1h0m27-44h0m7-4h0m6 11h0m2 1h0m2 5h0m6-18h0m106 41h0m5 15h0m1-14h0m2-18h0m319 77h0m-3 7h0m-1-5h0m-2 1h0m-8-11h0m-9 3h0m-16 12h0m-188 1h0m-7 7h0m-82-46h0m-3 6h0m0 4h0m-2-22h0m0 12h0m-146 13h0m-1 8h0m-5 7h0m-1-14h0m-3 10h0m-5-25h0m0 14h0m-2 1h0m-1-23h0m-1-3h0m0 31h0m-2-18h0m-4 3h0m-2-10h0m-9 5h0m0-11h0m-3 17h0m-2-5h0m0 8h0m-13-11h0m158 106h0m17-1h0m4 3h0m6-10h0m8 1h0m7 7h0m4-4h0m4-13h0m4 12h0m10-9h0m9 6h0m1 2h0m9 0h0m10 7h0m31-56h0m4 7h0m6 0h0m3 1h0m2-1h0m1 14h0m2-6h0m18 17h0m163-27h0m2-2h0m1 1h0m2 10h0m2-5h0m9 10h0m1-12h0m200 110h0m-14-7h0m-312-33h0m-90 38h0m-3-35h0m-3 20h0m0 17h0m-2-28h0m-2 16h0m-10-33h0m-3-12h0m-4 53h0m-2-50h0m-3 54h0m0-4h0m-34 4h0m-6-6h0m-25-2h0m-1 8h0m-4-14h0m-1 12h0m-11-18h0m-1 11h0m-12-7h0m-1 1h0m-3-5h0m-5 12h0m-46 3h0m-13-2h0m-5 0h0m-10 4h0m-20 62h0m17-19h0m2 9h0m4 2h0m0-38h0m4 8h0m1 18h0m0-23h0m4 33h0m0-26h0m0-13h0m3 22h0m10-26h0m9 28h0m4-3h0m0 13h0m4-17h0m2 6h0m2-10h0m0-3h0m3 9h0m2-1h0m1-11h0m7-7h0m1 9h0m0 2h0m5-15h0m3 8h0m3 4h0m4-11h0m1 3h0m1 5h0m13-1h0m0 7h0m3-3h0m16-2h0m2-9h0m8 6h0m1 18h0m2 8h0m3-23h0m12 0h0m5 10h0m0 3h0m0 4h0m1-12h0m14 39h0m5-21h0m2 3h0m1 3h0m6 4h0m1-3h0m7 4h0m1-7h0m1-35h0m0 50h0m1-7h0m1-34h0m2 40h0m3-7h0m2-33h0m3 35h0m2-37h0m0 39h0m5 0h0m1 1h0m1-42h0m2 42h0m9-3h0m0 0h0m7-44h0m347 12h0m1-15h0m0-2h0m0 0h0m4 31h0m0 11h0m3-8h0m9 17h0m4-36h0m2-9h0m16-4h0m5 35h0m1-11h0m0 14h0m3-25h0m0 26h0m1-19h0m3 2h0m11-10h0m1 12h0m541 27h0m0-3h0m9 15h0m-5 9h0m-2-3h0m-2-1h0m-483 38h0m-6-28h0m-1 25h0m0-15h0m-14-18h0m-7 27h0m-2-27h0m-6 8h0m0 6h0m-5 31h0m0-19h0m-6-8h0m-434-29h0m-7-1h0m-8-1h0m-28 1h0m-90 51h0m-12-7h0m-1-6h0m-1-1h0m-8-17h0m-4 30h0m-1-34h0m-1 25h0m-1-18h0m-5 22h0m-1-17h0m-9 24h0m-1-16h0m-2 10h0m-1 4h0m-1 3h0m-6-1h0m-1 0h0m-1 4h0m-6-13h0m-1 6h0m-3-9h0m-1 1h0m-2-5h0m-3 6h0m-1 15h0m-3-7h0m-4-4h0m-3-10h0m-2 19h0m-2-14h0m-4-5h0m-2-32h0m-1 49h0m-4-5h0m-1-43h0m-1 50h0m0-53h0m-2 30h0m0-8h0m0 4h0m-1 12h0m-2 8h0m0-29h0m-2 37h0m-1-51h0m-1 24h0m-1 26h0m-4 2h0m-8 4h0m0 8h0m25 26h0m8-8h0m0 21h0m10-20h0m1 25h0m2-12h0m1 5h0m1-16h0m1 23h0m2-26h0m3-27h0m0 37h0m2 7h0m2-21h0m1 20h0m0 14h0m1-23h0m1-15h0m0 18h0m1-20h0m0 18h0m3-5h0m1 25h0m1-24h0m4 2h0m1-20h0m0-14h0m4 4h0m1 13h0m0 12h0m0-25h0m1 27h0m0-30h0m0 5h0m1 46h0m2-22h0m1-15h0m4-5h0m1 20h0m6-2h0m1-7h0m4-8h0m7-8h0m2 21h0m0 0h0m7-4h0m4-11h0m1 6h0m3-17h0m2 2h0m1-2h0m3 22h0m0-10h0m5-2h0m10-3h0m5 2h0m7 5h0m8 1h0m538-11h0m4 0h0m3-2h0m9-2h0m-657 63h0m753 166h0m-4-5h0m-8-4h0m-12 18h0m0-10h0m-8-3h0m-9 4h0m11 15h0m3-2h0m16 1h0m-106 113h0m-80 39h0m16 3h0m1 14h0m5-35h0m0 42h0m4 0h0m3-47h0m2 20h0m3-32h0m3 7h0m1 36h0m2-9h0m6 25h0m8-12h0m2-19h0m3 13h0m4 17h0m0-12h0m10-42h0m0 34h0m1-36h0m1 18h0m2-17h0m0 14h0m2-16h0m2 13h0m2-8h0m7 29h0m1-5h0m4 3h0m3 9h0m8 2h0m2-3h0m1-13h0m5 14h0m5 0h0m32 15h0m17-1h0m11 1h0m9-9h0m27 10h0m26 33h0m-4 27h0m-11-43h0m-4-8h0m-3 20h0m-5-10h0m-8-8h0m0 33h0m-3-28h0m-3 28h0m-3-16h0m-2 8h0m-14-10h0m-1 25h0m-5-13h0m-5 22h0m-1-45h0m-4 2h0m-9 25h0m-8-30h0m-1 36h0m-4-2h0m-6-31h0m-7 28h0m-1 13h0m0-18h0m-4-8h0m-5 31h0m-8-22h0m-37-37h0m-1 3h0m-4 3h0m62 66h0m10 8h0m8 4h0m8 1h0m0-7h0m4-12h0m8 5h0m4 13h0m2-9h0m1-7h0m31 42h0m1-50h0m5 55h0m8-3h0m4-32h0m4 2h0m3-2h0m12 26h0m5-10h0m0 1h0m0 14h0m1-30h0m2 32h0m-28 25h0m-14-12h0" stroke="#E0453A" stroke-width="16"/>
<path d="M6418 9117h0m-6-7h0m-28 7h0m-7-12h0m-2 13h0m-18-20h0m-19 17h0m-3-7h0m-9-16h0m-3 14h0m-2-30h0m-22 38h0m-1-11h0m-3-1h0m-5-14h0m-10-9h0m-6-2h0m-1 31h0m0-25h0m-2 7h0m0 28h0m-5-26h0m-3 19h0m-5-33h0m-2 14h0m-26 0h0m-2-11h0m-4 14h0m0 4h0m0 20h0m0-28h0m-4 19h0m-1 4h0m-1-32h0m-6 30h0m-2-30h0m-7 10h0m-1-3h0m0 2h0m-11 2h0m-6 3h0m-9-28h0m-1 41h0m-14-41h0m-8 42h0m-4-4h0m-4-2h0m-10 10h0m-5-35h0m-7 24h0m-2-17h0m-11 12h0m-1 21h0m-4-31h0m-28 15h0m-3-6h0m-11 10h0m-23 4h0m-7 8h0m-6-5h0m-59 60h0m6-11h0m1 3h0m4 8h0m23-11h0m3-1h0m6-36h0m1 30h0m1 12h0m3-22h0m0-18h0m10 8h0m1 28h0m3-9h0m3-33h0m0 53h0m4-26h0m1 26h0m2-50h0m9 39h0m0-21h0m3 10h0m3 22h0m5-16h0m16-36h0m6 35h0m1-29h0m3 4h0m1 22h0m1-27h0m2 50h0m2-44h0m8-14h0m2 21h0m7 11h0m2 19h0m10-44h0m1 17h0m3-23h0m9 51h0m1-14h0m1-22h0m7 32h0m1-31h0m3 20h0m2 13h0m0-29h0m4-5h0m1 25h0m2-23h0m1 33h0m2-28h0m0 5h0m11-12h0m9 20h0m0 7h0m4 9h0m8-2h0m9-42h0m1 37h0m1-31h0m2-7h0m8-2h0m1 39h0m14-33h0m7-4h0m7 9h0m8 15h0m11-24h0m14 41h0m6-26h0m10-12h0m1 32h0m8 10h0m5-17h0m17 0h0m4 3h0m4-15h0m1 30h0m8-29h0m1 7h0m0-24h0m3-2h0m2 8h0m7-9h0m3 40h0m6 2h0m0-36h0m2 42h0m9-4h0m0-37h0m6 9h0m2 35h0m2-20h0m2-3h0m1-3h0m3 21h0m2-34h0m16-11h0m5 15h0m2 3h0m4-17h0m6 22h0m10 28h0m2-18h0m1 7h0m0-14h0m5-16h0m2-6h0m4 20h0m2 9h0m8-20h0m2 0h0m6 28h0m1 6h0m11-25h0m3 0h0m24 28h0m49 62h0m-8-24h0m-3 4h0m-2-10h0m0 29h0m-3-7h0m-1-14h0m-10 18h0m-4-51h0m-1-1h0m-3 41h0m-3-9h0m0 11h0m-1-11h0m-7 22h0m-5-39h0m-1 11h0m-2 8h0m-6-25h0m-8 32h0m-2 13h0m-1-29h0m-1 23h0m-11-34h0m-1 11h0m0-23h0m-2 14h0m-1 36h0m-4-49h0m-11 18h0m-1 24h0m-7-37h0m-9 44h0m-1-3h0m-4-23h0m-2-15h0m-2-11h0m-3 47h0m-1-43h0m-4 12h0m-1 19h0m-5 1h0m-3 11h0m-11-33h0m-4 11h0m-4-3h0m-7 3h0m-5-13h0m0 10h0m-4-17h0m-5 49h0m-1-2h0m-3-29h0m0 19h0m-2-42h0m0 23h0m-3 0h0m-5-16h0m-3 24h0m-9-12h0m-3 33h0m0-24h0m-6 0h0m-1-25h0m-4 53h0m-1-20h0m-1 18h0m-1-25h0m-1 22h0m0-43h0m-8 22h0m-11-26h0m0-2h0m-1 11h0m-6 33h0m-2-25h0m-1 6h0m-2 1h0m-15-1h0m-5-23h0m-3 34h0m-1-1h0m-5 20h0m-3-26h0m0-14h0m-7 1h0m-2 25h0m0-7h0m-1 6h0m-1 15h0m-10-47h0m0 11h0m-8-20h0m-3 25h0m-3 21h0m-3-25h0m-1 35h0m-5-28h0m-3 7h0m-7-36h0m-1 10h0m0 21h0m-1-29h0m-9 6h0m0-7h0m-5 35h0m-6-10h0m-17-22h0m-9 45h0m-3-20h0m-7-13h0m0 2h0m0 15h0m-1-2h0m-5 3h0m-5-28h0m0 17h0m-3-23h0m0 28h0m-4-11h0m-3 24h0m0-27h0m-3 25h0m-8-34h0m-1 27h0m-4 3h0m-1 11h0m-4-21h0m-1-1h0m-1 26h0m-2-17h0m-16-32h0m0 54h0m-4-20h0m-12-9h0m-4 12h0m-1 8h0m-2-40h0m-1-6h0m-3 47h0m-3-9h0m-12-7h0m-1-24h0m-16 5h0m-4-7h0m-4 47h0m-2-43h0m-1 34h0m-1-7h0m-7 5h0m-2-13h0m-4 9h0m-7 7h0m-5 4h0m-4-33h0m-14 20h0m-1-23h0m0 29h0m-5-1h0m-4 17h0m-6-49h0m-5 41h0m-2 1h0m0-9h0m-1 16h0m0-27h0m0 26h0m-9-8h0m-3-22h0m-2-8h0m-2 11h0m-9 25h0m-5 45h0m1 16h0m8-38h0m5-15h0m2 2h0m8 21h0m1 15h0m2-37h0m1 18h0m10-19h0m1 9h0m6 33h0m3-34h0m2 18h0m8-19h0m2 38h0m2-39h0m16-5h0m1 40h0m0-6h0m3-31h0m2 29h0m0-27h0m1 27h0m8-14h0m0 23h0m6-5h0m1-14h0m2 19h0m6-12h0m0 25h0m1-54h0m3 33h0m0-22h0m11 41h0m3-50h0m3-6h0m4 54h0m3-21h0m4-11h0m1 8h0m1-17h0m14 0h0m0-12h0m0 54h0m6-28h0m0-22h0m3 20h0m1-21h0m4 43h0m1-11h0m6-6h0m4-29h0m1 56h0m4-16h0m6-36h0m4-5h0m4 26h0m1 30h0m3-35h0m5 3h0m8 12h0m0 12h0m0-45h0m6 6h0m6-2h0m1 48h0m3-1h0m1-35h0m13 11h0m4 25h0m3-36h0m0-2h0m14 31h0m1-22h0m2 25h0m9-35h0m3 14h0m22-27h0m2 26h0m6 18h0m10-41h0m1 5h0m2 39h0m4-18h0m1 25h0m0-2h0m23 0h0m3-36h0m0 4h0m11-21h0m2 17h0m2 23h0m0-19h0m0 5h0m2 1h0m6 28h0m3-5h0m9-15h0m1 21h0m2-30h0m3 28h0m9-11h0m4-2h0m3 6h0m5-40h0m9 29h0m2-6h0m22 23h0m3-10h0m11 0h0m0-44h0m1 48h0m10-10h0m0-31h0m1 47h0m2 4h0m4-58h0m3 33h0m5-6h0m1 22h0m1-31h0m0 5h0m11 30h0m6-23h0m1-6h0m0 2h0m2-22h0m1-3h0m1 42h0m3 14h0m5-6h0m0-42h0m2 23h0m2-28h0m2 6h0m1 27h0m7-20h0m6 28h0m3-38h0m12 42h0m3-18h0m2-12h0m2 1h0m3-5h0m6-6h0m1-6h0m6 47h0m3-18h0m1-15h0m6 25h0m4 4h0m4-13h0m3 23h0m18 2h0m2-46h0m11 8h0m5 36h0m3-33h0m2 13h0m3-4h0m3 13h0m8 36h0m-5 9h0m-1 15h0m-1-30h0m-1-15h0m-5 3h0m-1-4h0m0 38h0m-8-36h0m-4 49h0m-1-36h0m-4-1h0m-1 34h0m-6 4h0m0-2h0m0-5h0m-3-2h0m-3 11h0m-2-13h0m-11-20h0m-6 17h0m-7-24h0m-2 12h0m-7 14h0m-2-20h0m-2-7h0m-3 24h0m-1 13h0m0-30h0m-3 7h0m-6-6h0m-13 26h0m-1 1h0m-2 5h0m-1-51h0m-1 50h0m-2-40h0m-9 26h0m-2-34h0m-1 13h0m-2 21h0m-3-7h0m-1-28h0m0-1h0m-4 0h0m-6 9h0m-2-5h0m-2 16h0m-5 12h0m-5-31h0m-1 10h0m0-13h0m-6 51h0m-3-31h0m-3-9h0m-4 35h0m-4-19h0m-2 17h0m-1-33h0m-2-10h0m-2 46h0m0-47h0m0 9h0m-3-1h0m-1 8h0m-1 32h0m-2-20h0m-6 10h0m-5-24h0m-2 7h0m-13-15h0m-10 39h0m-6-40h0m-4-4h0m-1 2h0m-4 6h0m-2 11h0m-4 27h0m-1-30h0m-1 8h0m-4-9h0m-9-7h0m-2 24h0m-2 2h0m-1-33h0m0 26h0m-1 2h0m0-24h0m-21 29h0m-1 14h0m-4-47h0m-2 4h0m-3 25h0m0 27h0m-1-49h0m-5-3h0m-3 32h0m-3-29h0m-3 21h0m-8-16h0m-10-8h0m-2 35h0m-1 16h0m-3-46h0m0 23h0m-2-7h0m-1 16h0m-15-34h0m-1 39h0m-11-10h0m-2 21h0m-7-28h0m-4 16h0m-1 9h0m-14-46h0m-11 28h0m-11-14h0m-13-17h0m0 7h0m-4 19h0m-2-3h0m0-12h0m-3 13h0m-1 17h0m0 3h0m0-4h0m-3-46h0m-4 22h0m-1 35h0m-17-29h0m0 24h0m-3-32h0m-2 3h0m-10-22h0m-1 14h0m-1 41h0m-1-49h0m-7 36h0m-3 14h0m0-7h0m-15-22h0m-3-6h0m-20 4h0m-2 1h0m-11 11h0m-3-15h0m-1 4h0m-3 23h0m-4-22h0m-7 23h0m-2 4h0m-6 1h0m-2-10h0m-3-43h0m-3 44h0m-1-5h0m-6 11h0m-4 2h0m-2-49h0m-8 30h0m-2-19h0m0-9h0m-2-6h0m-3 46h0m-1-20h0m-2 8h0m-1-27h0m-6 35h0m-10-19h0m-1-6h0m-2-7h0m-1 16h0m-10 8h0m-1-30h0m-5 26h0m-5 0h0m-6-12h0m-1-8h0m-3 15h0m-1 11h0m-1-9h0m-6-27h0m0 49h0m-1-46h0m-2 23h0m-2 3h0m-3 9h0m-5 14h0m0 21h0m7-1h0m2 32h0m1 7h0m1-23h0m0 11h0m1-21h0m1-9h0m1 47h0m2 0h0m2-1h0m5-30h0m4-15h0m2 31h0m0-4h0m2 1h0m6 8h0m1-27h0m7 10h0m5 17h0m3-9h0m5-9h0m1 19h0m1-35h0m4-11h0m2 32h0m5 0h0m2-24h0m1 45h0m0-14h0m2-17h0m7 23h0m3 6h0m5-28h0m25-5h0m10-5h0m3 20h0m3-4h0m3-10h0m6 36h0m1-35h0m1-4h0m8 9h0m3-26h0m9 15h0m2 6h0m1 35h0m14-55h0m21 35h0m1-17h0m2 17h0m5 8h0m13-11h0m5 10h0m3 0h0m0 4h0m3-24h0m5-3h0m4 8h0m3 4h0m5 17h0m1-29h0m1 1h0m1 22h0m2 11h0m1-13h0m2-17h0m4 25h0m3-5h0m1-15h0m0-27h0m2 34h0m6 15h0m0-18h0m1-9h0m7-19h0m1 40h0m3 5h0m4-24h0m2-15h0m0 32h0m1-1h0m1-31h0m0 42h0m3 2h0m1-24h0m1-19h0m2 18h0m5-29h0m17-1h0m6 47h0m1 3h0m4-40h0m5 16h0m0 2h0m2 5h0m12-36h0m5 57h0m2 1h0m3-8h0m0 7h0m1-54h0m0 22h0m1-17h0m1 35h0m0-12h0m5-8h0m1 19h0m1 11h0m1-4h0m8-31h0m0 12h0m3 6h0m0 23h0m10-21h0m0-7h0m2-31h0m1 10h0m1 32h0m0-23h0m7-4h0m9 8h0m5-13h0m0-9h0m3 30h0m7-13h0m2 20h0m2-22h0m4 8h0m3 19h0m0-3h0m5-1h0m0 16h0m15-41h0m0 40h0m2-53h0m2 44h0m0-45h0m6 48h0m1 4h0m1-18h0m2 11h0m5-37h0m5 33h0m10-21h0m8 1h0m2-20h0m1 57h0m5-51h0m13 36h0m17-19h0m7-17h0m1 10h0m2-12h0m2 19h0m9 23h0m5-19h0m3-28h0m11 9h0m0 25h0m1 21h0m13-17h0m2 1h0m1-14h0m0 17h0m2-31h0m0-1h0m3 34h0m3-24h0m0-13h0m2 26h0m0 1h0m5-9h0m5-25h0m1 21h0m15-19h0m1 47h0m5-44h0m6 54h0m2-19h0m21-21h0m1 9h0m4-18h0m1 43h0m5-45h0m-14 56h0m-2-3h0m-14 19h0m-9-9h0m-3 11h0m-12-20h0m-3 32h0m-1-34h0m-20 45h0m0-16h0m0 5h0m-8 8h0m-1-24h0m-7-9h0m-4 6h0m-1-3h0m-13 18h0m0 25h0m-1-5h0m-2-21h0m-5 29h0m-9-12h0m-5-22h0m-3-14h0m-2 3h0m-2 26h0m-4 6h0m-11 6h0m-5-2h0m-5-8h0m-3-7h0m-3-23h0m-6 38h0m-1-46h0m-1 54h0m-8-41h0m-7-8h0m-8 6h0m-3-10h0m-3 52h0m-5-38h0m-3 11h0m-15 21h0m0-45h0m-6 51h0m-8-8h0m-6-5h0m-1-2h0m-3 0h0m-3 6h0m0 1h0m-6-34h0m-5 21h0m-1 18h0m-1-11h0m-6-9h0m-7 3h0m-14 7h0m-6-3h0m-1-23h0m-2-2h0m-2 30h0m-6-13h0m-2-19h0m0 34h0m-5-3h0m-11-16h0m-2-4h0m-1-20h0m-3 22h0m-3 23h0m-5 5h0m-1 2h0m-3-23h0m-1 22h0m0 2h0m-2-54h0m-5 44h0m-2-34h0m-3 21h0m-1 17h0m-5-31h0m-2 11h0m0-26h0m-3 39h0m-3-29h0m-8-3h0m-4-3h0m-8 3h0m-2 38h0m-4-42h0m-5 24h0m-10-9h0m-3-18h0m0 33h0m-1-6h0m-8 8h0m-13-38h0m-3 34h0m-16-16h0m-2 3h0m-1-6h0m-1-14h0m-11 29h0m-8-21h0m-10 7h0m-3-16h0m-5 17h0m-2-3h0m-1 0h0m-4 4h0m-14 35h0m-5-3h0m-1-42h0m0 17h0m-3 13h0m-7-5h0m-1-18h0m-2 17h0m-2-20h0m-9-10h0m-6 19h0m0 0h0m0-19h0m-5 23h0m-2-15h0m-8-5h0m-1-1h0m-9 4h0m-4 0h0m-5-7h0m-2 23h0m-26-13h0m-2 12h0m-14-5h0m71 50h0m29 11h0m2-21h0m3 5h0m1-2h0m1 3h0m0 34h0m5-35h0m1 30h0m20-1h0m1-15h0m1 26h0m2-44h0m1 39h0m0-20h0m4-13h0m1 33h0m0 4h0m1-41h0m1 19h0m5-20h0m25 43h0m6-6h0m4 20h0m5-50h0m6 9h0m6-7h0m4-9h0m3 2h0m2 17h0m4 3h0m1 27h0m0-42h0m1 36h0m7-16h0m1-1h0m0 1h0m3-18h0m0 40h0m5-45h0m0 47h0m4-14h0m3-7h0m3-8h0m3 25h0m13 1h0m2-39h0m4-2h0m8 23h0m2-20h0m1 18h0m2-26h0m0 33h0m10-35h0m0 20h0m2 4h0m3 3h0m1-10h0m1-2h0m21 21h0m4-33h0m2 0h0m1 22h0m6 23h0m3-30h0m8-12h0m3 38h0m0-35h0m3 27h0m0 3h0m5 0h0m4-21h0m0-7h0m2 34h0m2-27h0m7-8h0m6 15h0m5-25h0m3 22h0m13 12h0m4-10h0m1-6h0m0-1h0m1 19h0m7 0h0m11-22h0m10-2h0m0 14h0m5-24h0m10-3h0m0 9h0m5 19h0m6-16h0m4-1h0m13 5h0m13-17h0m14 6h0m1-1h0m5 2h0m16-2h0m-190 63h0m-23 11h0m-7-14h0m-3 3h0m-6-6h0m-3 12h0m-14-13h0m-5 35h0m-5-23h0m-4-3h0m-5 25h0m-5-2h0m-1-27h0m-7 16h0m-2 13h0m-1 2h0m-17 7h0m-2-30h0m-5 27h0m-4-41h0m-4 47h0m-2-15h0m-5-14h0m-4 10h0m-17 25h0m0-42h0m0 41h0m-11-25h0m-8-11h0m-6-13h0" stroke="#2F3380" stroke-width="18"/>
<path d="M6601 9449h0m-8 20h0m-4-11h0m0 21h0m-10-32h0m-1 28h0m0-23h0m-1-21h0m-6 31h0m0-8h0m-7-5h0m-16 15h0m-7-2h0m-6-19h0m-4 6h0m-2 8h0m-55 14h0m-5 7h0m-9-4h0m-1 0h0m-2 5h0m-222 55h0m30-9h0m17 4h0m5 4h0m0-9h0m1-8h0m4-2h0m1 25h0m0-26h0m13 16h0m5 3h0m8-6h0m5 1h0m6 8h0m1-24h0m2 21h0m7 7h0m19-19h0m1-19h0m4 19h0m5 15h0m8-8h0m7-18h0m10-13h0m1 17h0m1-14h0m4 14h0m4 24h0m3-19h0m1-16h0m10-12h0m3 30h0m4-26h0m11 37h0m4-38h0m0 25h0m1-6h0m4-23h0m2 4h0m2-4h0m14 0h0m8 26h0m2-25h0m0 2h0m0 5h0m14 33h0m11-23h0m4 12h0m1-11h0m1 12h0m2-2h0m1-4h0m3 12h0m1-10h0m1-19h0m6-11h0m1 10h0m0 15h0m3-22h0m0 49h0m9-32h0m6 2h0m4 13h0m1-28h0m3 22h0m4-5h0m3 12h0m12-15h0m2 9h0m1 13h0m7-22h0m3-26h0m0 35h0m1-11h0m11 9h0m9-28h0m1 44h0m2-14h0m5 0h0m7-33h0m8 1h0m3 27h0m10 27h0m7-47h0m7 33h0m1 7h0m24 2h0m36 64h0m-3-21h0m-6-2h0m-13-15h0m-2 12h0m-1 0h0m-7-20h0m-3-5h0m-3 0h0m-6 8h0m-8-4h0m-8 32h0m-2-17h0m-7 11h0m-1-11h0m-1 19h0m-1-19h0m-2-4h0m-10-19h0m-1 55h0m0-5h0m0-31h0m-1 28h0m-25-5h0m-5-28h0m0 27h0m-2-6h0m-4-37h0m-4 24h0m-4-1h0m-3 24h0m-5-10h0m-4-23h0m-2 45h0m-15-47h0m-11 27h0m-6 15h0m-7-2h0m-2-32h0m-12-7h0m-2 43h0m-3-36h0m-6-4h0m-3-1h0m-6 30h0m-8-29h0m-2-4h0m-12 2h0m-8-9h0m0 24h0m-3 30h0m-1-48h0m-5 40h0m-3-7h0m-4 0h0m0-27h0m-9 34h0m-18-46h0m-6 36h0m-1-36h0m-5 51h0m-7-50h0m-2 10h0m-3-13h0m-7 6h0m0 39h0m-9-2h0m-1 2h0m-2-37h0m-1-5h0m-3 16h0m-3 12h0m0-24h0m-9 47h0m0-35h0m-1-6h0m-3 16h0m-1-31h0m-1 57h0m-7-48h0m-4 20h0m-1 12h0m-4 6h0m-4-21h0m-17-19h0m-1-5h0m-4 19h0m-2 27h0m-2-44h0m-3 49h0m0-18h0m-2-1h0m-7-7h0m-1 5h0m-1 3h0m-1-14h0m-10 27h0m-1-26h0m-3 2h0m-4-20h0m-2 15h0m-1-11h0m-2 28h0m-1 11h0m-2-47h0m-3 40h0m-3-24h0m-6 19h0m-6-1h0m-2-2h0m-1 13h0m-1-20h0m-3 24h0m-1-19h0m0-27h0m-19 28h0m0 13h0m-5-35h0m-4 33h0m-12-29h0m-4 6h0m-19 21h0m-3-11h0m-3 24h0m0-1h0m-8-13h0m-1-8h0m-2 6h0m-7 9h0m-5 1h0m-4 11h0m-3-6h0m-43 50h0m2-22h0m14 24h0m3-21h0m1 9h0m1-17h0m2-10h0m6 49h0m1-37h0m1 39h0m11-37h0m11 22h0m5-40h0m3 44h0m0-38h0m2 26h0m0-13h0m0 13h0m0-3h0m1-23h0m3 7h0m4 39h0m1-45h0m1 48h0m4-26h0m12-4h0m2-26h0m1-1h0m3 45h0m2-9h0m4-34h0m11 56h0m6-30h0m1-16h0m2 39h0m0 4h0m2-2h0m2-53h0m4 51h0m1 6h0m1-20h0m7 21h0m1-38h0m7-16h0m4 19h0m1-8h0m2 1h0m2 8h0m2 23h0m0-4h0m8 11h0m7-43h0m2 9h0m0 5h0m0 20h0m6 2h0m2-30h0m2 1h0m3 36h0m8-31h0m2-15h0m2 51h0m3-43h0m3 22h0m7-21h0m4 21h0m1 12h0m1-40h0m3 3h0m2 36h0m1-7h0m9-24h0m0-4h0m3 42h0m2-19h0m2-13h0m3 17h0m5-18h0m0 10h0m5 10h0m8 3h0m4-9h0m1-21h0m10 15h0m0-1h0m8 25h0m3-48h0m3 6h0m0 31h0m1-39h0m6 53h0m2-46h0m4 46h0m7-34h0m7 12h0m8 6h0m2-9h0m5-10h0m7-9h0m3 35h0m1-15h0m4 12h0m0-9h0m13-20h0m3 22h0m1 0h0m7-25h0m0 37h0m8-46h0m2 6h0m0 2h0m6 41h0m0-30h0m2-15h0m1 32h0m1-27h0m3 21h0m5-24h0m3-11h0m5 47h0m5-3h0m4-17h0m3-4h0m2 24h0m3-24h0m1-17h0m4 31h0m5-36h0m5 28h0m2-17h0m1 33h0m6-19h0m5-17h0m8 4h0m2 37h0m0-32h0m1-13h0m4-3h0m10 33h0m1 5h0m4-1h0m7-28h0m4 39h0m6-24h0m1-14h0m3-12h0m2 5h0m1 49h0m10-24h0m1 17h0m2-21h0m3-25h0m1 26h0m1 17h0m4-35h0m1 42h0m2-8h0m0-11h0m3-23h0m0 12h0m1 1h0m0-13h0m4 3h0m2 41h0m0-22h0m7 9h0m3 11h0m1-35h0m0 19h0m1-16h0m1-18h0m3 8h0m1 6h0m4 43h0m0-4h0m3-50h0m4 11h0m0 24h0m3-39h0m2 20h0m1-16h0m16-1h0m1 2h0m3 32h0m1-37h0m8 54h0m9-33h0m2-14h0m2 49h0m1-33h0m8-11h0m7 37h0m2 7h0m6-10h0m1-19h0m10 27h0m4-24h0m7 28h0m8-20h0m83 76h0m-14 0h0m-3-8h0m-3-7h0m-1 18h0m-4-18h0m-4 0h0m-1 13h0m-3-14h0m-2-18h0m-6-2h0m-1-6h0m0 12h0m-10-7h0m-3 5h0m0 17h0m-4-35h0m-10 48h0m0-37h0m-9 10h0m0-19h0m-5 21h0m-2-22h0m0-3h0m-1 28h0m0-21h0m-1 50h0m-4-40h0m-14 8h0m-6 16h0m-4-2h0m-1 13h0m-2-1h0m0-45h0m-1 46h0m-3 5h0m-1-51h0m-5 16h0m-8-13h0m0 2h0m-4 6h0m-2 15h0m0-32h0m-1 21h0m-1 17h0m-1 19h0m-15-43h0m-2 28h0m-1-22h0m-15-16h0m-1 28h0m-1-1h0m0-20h0m-1 24h0m-11-33h0m-2 2h0m-4 4h0m-8 0h0m-2 33h0m-1-28h0m0-3h0m-4 11h0m-4 15h0m-3-25h0m-1 33h0m-2-14h0m-7 5h0m-8 3h0m0-11h0m-6-27h0m-2 2h0m-1 52h0m-1-41h0m-5 0h0m-5 32h0m-1-47h0m-5 8h0m-12 11h0m-2 2h0m-5 12h0m-5-3h0m-2 10h0m-4-24h0m-2 41h0m-1-27h0m-5 4h0m-7-2h0m-2-22h0m-7-1h0m-2 39h0m-8-14h0m-7-9h0m-11 27h0m-2-24h0m-2 22h0m-9 7h0m-1-18h0m-2 3h0m-8-37h0m-3 30h0m-1-21h0m-7 40h0m-8-31h0m-8 22h0m-1-22h0m-10 26h0m-3 7h0m-1-14h0m-1-18h0m-2 30h0m-6-45h0m-3 28h0m-3-23h0m0 39h0m-6-46h0m-5-1h0m-5 41h0m-7-42h0m-1 17h0m-1 15h0m-1-5h0m-5 18h0m-3-36h0m0-12h0m-7 48h0m-4-30h0m-4 27h0m-6 5h0m0-37h0m-16 42h0m-1-12h0m-1-43h0m-5 34h0m0-25h0m-6 16h0m-4 11h0m-2-2h0m-9 16h0m0 4h0m0-13h0m-6-5h0m-4-30h0m-31 49h0m-2-23h0m-6 25h0m-1-33h0m-2 8h0m-7 7h0m-4-25h0m-5-10h0m-2 33h0m-2-30h0m-9-3h0m-8 51h0m-2-27h0m-1 12h0m-7-12h0m-5-26h0m-4 24h0m-5 29h0m-2-2h0m-1-40h0m-10-3h0m-1 11h0m-4 27h0m0-41h0m-10 5h0m-6 43h0m0-3h0m-3-10h0m-2-25h0m-8 2h0m-1 37h0m-17-6h0m-4-11h0m-7-7h0m-1-31h0m-6 12h0m-2 27h0m-14 1h0m-4-1h0m-13-39h0m-1 24h0m-3-8h0m-2 17h0m-2-8h0m0 0h0m-13 26h0m-2-42h0m-1-10h0m-2 8h0m-12 7h0m-3 33h0m-8-27h0m-3 10h0m0 18h0m-2-15h0m0 67h0m2 6h0m1-28h0m6 12h0m21 12h0m0-32h0m3 40h0m1-24h0m3-17h0m1 37h0m4-23h0m2 2h0m2 6h0m1-32h0m5 2h0m1 34h0m6-6h0m0 19h0m2-47h0m0 26h0m3 7h0m0 10h0m4-16h0m4-14h0m2 16h0m1 14h0m2 7h0m9-11h0m2-27h0m4-4h0m2 34h0m0-37h0m5-3h0m5 40h0m7-3h0m7 11h0m1-51h0m2 5h0m4-4h0m3 3h0m1 16h0m1-9h0m0 10h0m8 11h0m2-13h0m2 16h0m0-8h0m7-19h0m3-6h0m7 12h0m3 0h0m14 24h0m0-7h0m1-27h0m9-1h0m0 4h0m2 44h0m1 3h0m1-16h0m5-26h0m0 40h0m1-54h0m4 47h0m2-16h0m2-4h0m7 4h0m10-26h0m15 1h0m3 22h0m2-10h0m1 8h0m14 2h0m0 29h0m2-51h0m3 51h0m4-29h0m3-19h0m3 44h0m7-53h0m0 3h0m0 7h0m4 34h0m6-42h0m0 53h0m13-37h0m0 22h0m3 1h0m4 8h0m1-49h0m1 54h0m3-14h0m1-24h0m2 19h0m2-21h0m0-9h0m13 13h0m1-8h0m1 0h0m1 21h0m0-24h0m9 47h0m0-24h0m4 5h0m1-2h0m6 12h0m2-2h0m1-9h0m7-33h0m3 6h0m8 28h0m1 9h0m0-5h0m2-10h0m3 22h0m6-27h0m2 20h0m6 8h0m2-36h0m2 34h0m0-23h0m0-20h0m1 6h0m2 24h0m3-11h0m2-14h0m3 23h0m1-10h0m7 22h0m0-31h0m6-2h0m10 8h0m0-12h0m1 46h0m4-2h0m8-39h0m7 40h0m10-35h0m3 6h0m2 0h0m2 30h0m1-6h0m2-3h0m1-31h0m4-13h0m0 35h0m2-24h0m0-6h0m0-9h0m4 11h0m2 37h0m0-24h0m3-23h0m1 24h0m1-5h0m5-9h0m2 27h0m11 11h0m5-40h0m4 4h0m11 19h0m3-1h0m0 0h0m1-31h0m8 41h0m5-12h0m1-24h0m1 32h0m4 8h0m9-3h0m4-19h0m1 2h0m5 9h0m1 5h0m8 7h0m3-38h0m3 23h0m7-31h0m3 0h0m1 38h0m1 3h0m2-33h0m8 0h0m0 33h0m12-33h0m1 49h0m5-53h0m4 49h0m1-5h0m12-22h0m2-3h0m9 8h0m6 17h0m7-17h0m12-18h0m8 3h0m4 38h0m1-21h0m3 14h0m7 1h0m0 7h0m2-25h0m7 3h0m21 1h0m2-12h0m0-14h0m3 19h0m0 18h0m3-29h0m2 38h0m1-26h0m8 9h0m2 3h0m11-17h0m6 31h0m4-19h0m4-8h0m5 26h0m3-47h0m1 35h0m16 0h0m4 4h0m7-27h0m3-17h0m7 27h0m12 34h0m-2 26h0m-5 11h0m-1-35h0m-1 3h0m-1 22h0m-2 17h0m-1-7h0m-2-28h0m0 2h0m0-9h0m-3 42h0m-1 12h0m-3-6h0m-6-2h0m0-7h0m-1-36h0m-3 48h0m-3-2h0m-5-43h0m-7 28h0m-3-25h0m0 33h0m-5-2h0m-2-35h0m-3 35h0m-1 7h0m-3-5h0m-7-23h0m0 0h0m-14 22h0m-1-6h0m0 4h0m-4-18h0m-2-12h0m-1 17h0m-6-7h0m-1-17h0m-6 4h0m-3 39h0m-1-46h0m-4 51h0m-1 0h0m-1 3h0m-8-31h0m-12-22h0m-1 0h0m0 49h0m-2-17h0m-3-7h0m-4-8h0m-3 13h0m-5-33h0m0 32h0m-8-2h0m-1-25h0m-5 29h0m-21-19h0m-4 21h0m-6-28h0m-2 4h0m-1-11h0m-6 35h0m-2-10h0m-2 18h0m-4 3h0m-1-4h0m0-43h0m-7 16h0m-4 6h0m-2 8h0m-2 16h0m-3 8h0m-2-48h0m-13 46h0m-11-51h0m-1 6h0m-8 18h0m-1 20h0m-3 10h0m-1-20h0m-9-27h0m-8 32h0m-8-26h0m-4 28h0m-3-16h0m-3-3h0m-1 30h0m-8 4h0m-5-25h0m0 23h0m-1-36h0m-1-15h0m-2 42h0m-2-46h0m-1 23h0m-3 33h0m-10-31h0m-2 17h0m0-11h0m-3-3h0m-9-10h0m-1-14h0m-6 16h0m-10 4h0m-1-22h0m-4 34h0m-3 22h0m-14-53h0m0 37h0m-1-16h0m-4 17h0m-1-25h0m-20 4h0m-4 23h0m-6-2h0m-1-1h0m0-37h0m-3 33h0m-3-26h0m-4-9h0m-3 19h0m-6 30h0m-6-22h0m-2-3h0m-3 13h0m-2-17h0m-5 9h0m-1-27h0m-4 29h0m-2-26h0m-4 35h0m-8-16h0m-6 8h0m-8 8h0m-1-12h0m-2 24h0m-3-41h0m-6 26h0m-5 16h0m-4-5h0m-1-27h0m0-3h0m-1-14h0m-3 23h0m-1-4h0m-8 15h0m-2 11h0m-4-4h0m-3-39h0m-8 3h0m-2 18h0m-5-25h0m-10 22h0m-4 31h0m-1-41h0m-1 5h0m0-3h0m-4 25h0m0-44h0m0 2h0m-1 40h0m-5-21h0m-3-8h0m-1 20h0m-1-1h0m0 4h0m-7-18h0m-2 12h0m-4 4h0m-1-16h0m-5 34h0m-1 5h0m-8-24h0m-3 8h0m-3-6h0m-4-9h0m-3-18h0m-2 35h0m-2-11h0m-8 10h0m-2-16h0m-2-14h0m-5-9h0m-1 21h0m-1-21h0m-2 6h0m-2 30h0m-2-40h0m-5 21h0m-5 32h0m0-34h0m-3 5h0m-2-15h0m-11 38h0m-2-11h0m-1-36h0m-1 56h0m-11-32h0m-2 20h0m0-9h0m-4-27h0m0 2h0m-3 29h0m-1-15h0m-3 0h0m-7 2h0m-6 31h0m0-14h0m-3-23h0m-6 18h0m-1-4h0m-2-29h0m-11 16h0m-7 25h0m-8-42h0m-12 44h0m-5 7h0m-14-51h0m-1 49h0m-2-15h0m-1-33h0m-4 17h0m-3-4h0m-3 1h0m-4-13h0m-1 8h0m0 28h0m-1-2h0m-2-7h0m-1-1h0m0 23h0m-3-25h0m-1 21h0m-2-18h0m16 35h0m1-4h0m7 16h0m2 4h0m6 2h0m3-23h0m6 34h0m4 11h0m5-15h0m1-29h0m2 36h0m5-10h0m7-18h0m1-6h0m6 26h0m1 23h0m1-55h0m2 23h0m5-1h0m4 29h0m4 2h0m6-3h0m5-29h0m5 19h0m3-23h0m3 30h0m0-33h0m3-1h0m2 13h0m2 4h0m1-27h0m7 25h0m1-7h0m3 36h0m8-40h0m1-11h0m3-3h0m5 30h0m9-2h0m6 12h0m0 11h0m5-26h0m10-4h0m4 30h0m0-21h0m2-20h0m2 13h0m4 32h0m4-20h0m2-13h0m3-23h0m0 7h0m1 21h0m3 4h0m2-12h0m1-5h0m0 4h0m10 8h0m1 12h0m3-10h0m2-30h0m8 45h0m0-9h0m1-18h0m5-1h0m0 27h0m2-9h0m2-1h0m9 24h0m11-53h0m3-2h0m4-4h0m2 50h0m2 1h0m3-50h0m10 17h0m3 17h0m0 16h0m3 6h0m3-1h0m3-50h0m6 36h0m5-40h0m20 56h0m3 1h0m3-5h0m9-46h0m4 50h0m5-19h0m3-17h0m3 16h0m5-28h0m0 5h0m2 12h0m1 25h0m8-45h0m1 6h0m1 17h0m1-1h0m2 2h0m1 9h0m2 12h0m5-47h0m3 19h0m1 16h0m2 0h0m2-19h0m6 20h0m2 7h0m0-29h0m1 31h0m0-4h0m7-26h0m5-11h0m0-4h0m2 18h0m2 6h0m8-22h0m1 14h0m1 9h0m4-8h0m1-5h0m11 9h0m2-5h0m0 6h0m9 23h0m1-17h0m13 2h0m7 6h0m7-5h0m2-26h0m1 26h0m8 20h0m2-41h0m0 22h0m2-11h0m1 10h0m3-29h0m1 43h0m1-41h0m1 49h0m5-9h0m1 1h0m9-18h0m19-10h0m2-14h0m1 21h0m0-17h0m0-6h0m3 33h0m2-7h0m15 21h0m2-3h0m2-34h0m7-6h0m12-4h0m1 32h0m4-35h0m5 47h0m2-27h0m2 22h0m3 5h0m10-22h0m1-28h0m2 32h0m6-18h0m3 31h0m8-15h0m0 10h0m1-24h0m5-2h0m11 38h0m2-19h0m3-11h0m4 15h0m3 19h0m8-10h0m8-23h0m2 0h0m9 35h0m12-6h0m1-7h0m2-3h0m6-10h0m4-5h0m6-18h0m2 19h0m0-16h0m3 31h0m6-25h0m1 38h0m4 0h0m4-1h0m0-34h0m1-8h0m10 28h0m4-28h0m1-10h0m9 45h0m5-42h0m0-2h0m1 28h0m2 9h0m3-30h0m1 44h0m0-42h0m11-9h0m1 34h0m6-27h0m1 20h0m6-13h0m13 2h0m12-7h0m10-6h0m-89 59h0m-2 9h0m-1-11h0m-4 11h0m-16 28h0m-6-38h0m0 29h0m-3-16h0m-1 19h0m-1 15h0m-1-45h0m-3 13h0m-3 37h0m-5-15h0m-5 11h0m-1-26h0m-1-3h0m-3-24h0m-3 51h0m-2-33h0m0 17h0m-1-17h0m-5 16h0m-10 9h0m-1-37h0m-5 14h0m-3-1h0m-1-16h0m-5 5h0m-1 8h0m-1 38h0m-2-32h0m-4 18h0m-2 0h0m0-40h0m-1 47h0m-1-22h0m-2 22h0m-2-31h0m-7-16h0m-1 55h0m0-43h0m0-2h0m-6 19h0m-12-22h0m-1 13h0m-2-17h0m-6 38h0m-7-13h0m-2-11h0m-5 36h0m-8-23h0m-4 14h0m-3-23h0m-2 32h0m-12-24h0m-1-15h0m-2 16h0m0 25h0m-6-23h0m-3-13h0m-5 38h0m0-25h0m-4 8h0m-5-33h0m-1 51h0m-1-29h0m-1-26h0m-5 37h0m-2 11h0m-6-14h0m-6-27h0m-1 5h0m-2 24h0m-6-33h0m-5 35h0m-10-14h0m-4 19h0m-3-37h0m-1 6h0m-1 18h0m-5-23h0m-3 23h0m-3 22h0m-2-4h0m-9-7h0m-2-20h0m-3 22h0m-6-5h0m-6-22h0m-2 15h0m-2 21h0m-1-40h0m0-13h0m-4 41h0m-1-8h0m0 1h0m-4-12h0m-2-6h0m0-4h0m-7 12h0m-1-5h0m-1 35h0m0-15h0m-1 10h0m-7 1h0m-10-21h0m-4 9h0m-3 16h0m-3-26h0m-15-2h0m-2-25h0m-4 38h0m-2 12h0m-5-22h0m-4 13h0m-5-43h0m-3 21h0m-2-8h0m-3-13h0m0 42h0m-9-9h0m-4-29h0m-9 47h0m-4-40h0m-6 29h0m-3-29h0m-9 45h0m-2-11h0m-3 11h0m-1-48h0m-1 4h0m0 3h0m-5 24h0m-5-36h0m-2-1h0m-2 40h0m-1-20h0m-1-15h0m-2 28h0m-1-31h0m-2 6h0m-3-4h0m0 23h0m-1-12h0m-4 10h0m0-23h0m-10 6h0m-5 14h0m-4 18h0m-4 11h0m0 0h0m-8-24h0m-5 16h0m-4 1h0m-3-34h0m-3 35h0m0-36h0m-5 34h0m-1-29h0m-1 15h0m-2-30h0m-5 45h0m-4 8h0m-1-33h0m-2 33h0m-10-13h0m0 14h0m-4 2h0m-5-23h0m0-28h0m0 3h0m-3 45h0m-3-45h0m-2-9h0m-1 16h0m0 16h0m-10-8h0m0 26h0m-1-45h0m-2-4h0m-4 9h0m-2 24h0m-1 8h0m-2-10h0m-30 0h0m-1-27h0m0 0h0m-1 14h0m-4 10h0m-13 12h0m-2 6h0m0-46h0m0 19h0m-8 21h0m-9-13h0m-1-24h0m-6 3h0m-3-2h0m-3 23h0m165 41h0m7-6h0m2 1h0m10-5h0m10 14h0m7-2h0m8-11h0m2 4h0m15 18h0m1-11h0m3 14h0m14 0h0m1-12h0m2 1h0m2 4h0m3 10h0m1-25h0m4 7h0m27-3h0m8 15h0m0 5h0m7-9h0m3 19h0m2-21h0m7 12h0m5-25h0m19 11h0m1 1h0m7 20h0m1-4h0m3 7h0m13-4h0m4-22h0m0-5h0m7 22h0m2-4h0m2-22h0m0 7h0m7 31h0m3-22h0m4 35h0m7-50h0m1 41h0m5-17h0m1-2h0m3-5h0m5-9h0m4 30h0m7-42h0m1 20h0m8 0h0m2 25h0m1 4h0m3-41h0m2 38h0m1-14h0m11 17h0m12-2h0m2-27h0m5 16h0m3 18h0m13-23h0m6-15h0m14-9h0m6 30h0m2-6h0m0-4h0m6-20h0m1 6h0m0 26h0m2-26h0m9 28h0m1-10h0m1-21h0m6 17h0m2 18h0m10 4h0m2-18h0m0-8h0m0 6h0m2 1h0m3 8h0m2-22h0m9 6h0m10-2h0m1 14h0m4-16h0m0-18h0m3 8h0m3 2h0m3 16h0m1-13h0m1 12h0m0-13h0m35-10h0m-98 75h0m-7 1h0m-3 2h0m-9 0h0m-1 16h0m-3-12h0m0-10h0m-2 3h0m-6 29h0m-1-1h0m-4-23h0m-1-12h0m0 7h0m-1 10h0m-1-8h0m-1-12h0m-3 40h0m-1-14h0m-4-19h0m0 44h0m-2-39h0m-3 28h0m-2-3h0m-1-18h0m-3 8h0m-2-16h0m-1-3h0m-2-8h0m-3 7h0m-9 20h0m-7-25h0m-6 33h0m-2 2h0m0-16h0m-2 25h0m-3-43h0m0 34h0m-2 5h0m-10-5h0m-24-18h0m51 40h0m17 18h0m3-20h0m1-2h0m7-2h0m1 13h0" stroke="#3AA081" stroke-width="18"/>
<path d="M6147 9994h0m4 25h0m12-29h0m11-13h0m8 40h0m13-10h0m4 11h0m5-7h0m1-25h0m2-3h0m2 36h0m3-11h0m5 6h0m12-34h0m8 21h0m1-12h0m3 10h0m2 8h0m1-29h0m7 34h0m2 0h0m2-16h0m2 0h0m5 22h0m19-33h0m1 28h0m1-5h0m0-25h0m6 32h0m1-19h0m8 11h0m3 2h0m4 1h0m6 7h0m6-27h0m8 0h0m0 20h0m5-15h0m7 15h0m43-1h0m7-1h0m2 10h0m15-4h0m2-11h0m15 14h0m8-14h0m91 56h0m-14-12h0m-8-10h0m-9 16h0m-6-15h0m-1 12h0m-18-26h0m-1 27h0m-13-28h0m0 52h0m0-7h0m-4 5h0m-5-28h0m-3-9h0m0 22h0m-7-31h0m-5 16h0m-5 28h0m-2-4h0m-2-36h0m-1 5h0m-6 22h0m-4 13h0m-5-51h0m-13 52h0m0-11h0m-2-37h0m-13 16h0m-15-8h0m-3 1h0m-4-12h0m-1 33h0m-17-22h0m-2-8h0m-15 1h0m-1 23h0m-3-25h0m-5 25h0m-8-10h0m0-1h0m-6 2h0m-12 36h0m-3-19h0m-2 8h0m-8-34h0m-3 34h0m0 11h0m-11-37h0m0 33h0m-6-12h0m0 11h0m-6-8h0m0-5h0m-2 14h0m-3-44h0m0 40h0m-11-13h0m-5 5h0m-2-19h0m-2 19h0m-12 15h0m-1 3h0m-2-34h0m-8-5h0m-4 5h0m-1 21h0m-1-26h0m-1 24h0m-1-4h0m-3 8h0m-2-43h0m-9 45h0m-1-25h0m-7-11h0m-14-12h0m-2 4h0m-4 9h0m-1 35h0m-3-8h0m-6-13h0m-1-18h0m0 9h0m-2 16h0m-7-10h0m-1-1h0m-1-14h0m-6 42h0m-1-20h0m-9 35h0m2 36h0m2-33h0m8 50h0m0-39h0m6 29h0m3-27h0m6-11h0m4 22h0m1 11h0m3-5h0m5-6h0m4 2h0m0-14h0m2 12h0m2 19h0m3-18h0m14 1h0m7-28h0m1 25h0m3 14h0m18-46h0m7 39h0m15 0h0m4-27h0m8-8h0m1 0h0m7 14h0m1 23h0m1 16h0m7-15h0m8-21h0m4 36h0m9-49h0m1 51h0m8-18h0m0-30h0m4 41h0m0-44h0m7 28h0m3 5h0m2-10h0m3 21h0m5-51h0m9 16h0m1-9h0m1 18h0m1-26h0m3 45h0m4-2h0m4-22h0m2-20h0m5 40h0m2-12h0m1-24h0m4 25h0m3 25h0m10-6h0m3 0h0m1-20h0m9 18h0m12-47h0m11 3h0m6 50h0m6-28h0m3 0h0m3 15h0m5-39h0m2 58h0m1-23h0m3-27h0m3 16h0m4 20h0m7 8h0m9-12h0m1-40h0m1 20h0m3 35h0m1-47h0m1-1h0m7 28h0m12-11h0m7 8h0m2 15h0m4-39h0m7-8h0m0 39h0m1-24h0m5 32h0m3-21h0m6-24h0m1 5h0m3 51h0m17-35h0m2-5h0m6 7h0m12-2h0m-37 46h0m-1 1h0m-19 2h0m-1 17h0m-7-8h0m0-13h0m-1 32h0m-10-27h0m-3 22h0m-5-6h0m-2-27h0m-9 11h0m-3 12h0m-2-24h0m-9 49h0m0-10h0m-3-12h0m-20 6h0m-4-32h0m-1 40h0m-2 2h0m-3-17h0m-6 31h0m-4-50h0m0 12h0m-1 13h0m-3 8h0m0-28h0m-13 37h0m-1 8h0m-6-33h0m-1 17h0m-4 5h0m-1-25h0m-1 4h0m-3-16h0m-5-11h0m0 11h0m-3 3h0m-8 8h0m-3-2h0m-6 12h0m-4-26h0m-4 37h0m-13-28h0m0 10h0m-3-14h0m-9 9h0m-3 1h0m-3 28h0m-2-9h0m0-37h0m-1 6h0m-2 1h0m-1-6h0m-1 17h0m-1-13h0m-1 11h0m-7-18h0m-12 42h0m-4 12h0m-4-25h0m-5-21h0m-2-4h0m-6 19h0m-10 7h0m-3 27h0m-8-21h0m-10-7h0m-1-17h0m-1 26h0m-14 11h0m-2-35h0m-4-1h0m-1 1h0m0 20h0m0-16h0m-1 4h0m0 3h0m-10-12h0m-3 13h0m-15-26h0m-1 21h0m-1-6h0m0 5h0m-5-2h0m0 16h0m-7-33h0m0 26h0m-3 0h0m-3 21h0m-2-47h0m-1 47h0m-14-7h0m-3-1h0m0-5h0m0-14h0m0 24h0m-2-46h0m-2 39h0m0-13h0m-2 10h0m-11 1h0m-2-30h0m-1 7h0m-8-8h0m-6-2h0m-2 8h0m31 55h0m2-6h0m1 4h0m3 4h0m3 15h0m5-15h0m2 3h0m2 11h0m21-17h0m5 23h0m2 20h0m5-10h0m7-6h0m4-12h0m3 10h0m0-31h0m11 40h0m2 8h0m1-10h0m0 0h0m3-18h0m2-14h0m13 29h0m1-1h0m16-28h0m3 40h0m2 10h0m4-43h0m13 43h0m5-2h0m4-43h0m4 30h0m4 6h0m8-37h0m4 9h0m4 7h0m7 19h0m10-24h0m1-15h0m1 5h0m2 46h0m1-27h0m3 18h0m5 10h0m0-57h0m2-1h0m7 35h0m9-8h0m6-7h0m3 34h0m3-32h0m3-2h0m6 23h0m0-20h0m1-8h0m2-10h0m7 53h0m12-47h0m0-3h0m2 4h0m2-4h0m5 24h0m5 18h0m5-27h0m2 4h0m3 19h0m10-23h0m20-14h0m0-7h0m-60 58h0m-20 5h0m-16 13h0m0 3h0m-8-6h0m-5 4h0m-3 10h0m-2-23h0m-1 19h0m-1-8h0m-11-14h0m-14 19h0m0 5h0m-4-5h0m-7-7h0m0-12h0m-8 19h0m-4 1h0m-4-6h0m-11-1h0m-22-13h0m-4 16h0" stroke="#66BDCB" stroke-width="18"/>
<path d="M5727 9652h0m31-23h0m13 25h0m19-9h0m3-9h0m4 8h0m10-15h0m1-1h0m4-9h0m4 22h0m5-14h0m5-10h0m7 32h0m1-26h0m0 24h0m6-13h0m9 12h0m6-13h0m5 11h0m11 10h0m9-51h0m3 12h0m9 19h0m8 13h0m1-22h0m5 29h0m1-29h0m0 1h0m2 10h0m7 1h0m5-2h0m5 4h0m1 15h0m2-7h0m24-11h0m25 14h0m27 69h0m-3-36h0m-2 35h0m-22-48h0m-1 15h0m-5-7h0m-1-13h0m-6 44h0m-3-8h0m-6-25h0m-3-13h0m0 16h0m-1 23h0m-11-18h0m-1 14h0m-13 9h0m-3-38h0m-3 5h0m-2 26h0m-4-8h0m-4-8h0m0 27h0m-2-11h0m0-28h0m-3 14h0m-1 12h0m-6 8h0m-2-29h0m-3 39h0m-18-34h0m0 14h0m-2-36h0m-3 31h0m-7 8h0m-5-24h0m-1 9h0m-3 9h0m-10-3h0m-2 24h0m-7-47h0m-2 45h0m-26-51h0m-5 50h0m-2-7h0m-11-7h0m-5 10h0m-3-43h0m-3 45h0m-18-36h0m-7 4h0m-2 40h0m-9-47h0m-13 44h0m0-44h0m0 25h0m-1 24h0m-5-27h0m-2 23h0m-2-27h0m-1-11h0m-10 24h0m-5-19h0m-2 0h0m-3 28h0m-1-23h0m-5 29h0m-6 3h0m-3-2h0m-19 62h0m11-26h0m2 20h0m0-29h0m1-9h0m15 44h0m0-54h0m1 13h0m17-8h0m7 43h0m6-33h0m3 33h0m2-50h0m1-3h0m2 56h0m6-19h0m1 16h0m1-45h0m9 48h0m0-34h0m2 4h0m6-11h0m7 29h0m5-14h0m0-28h0m6 2h0m3 6h0m2 2h0m10 3h0m13 41h0m0-43h0m0-8h0m13 11h0m2 6h0m24 5h0m2-20h0m3-6h0m4 40h0m2-33h0m2 9h0m1 19h0m2-30h0m4 16h0m4-22h0m1 45h0m1-2h0m16 16h0m1-55h0m4 16h0m2-2h0m5-17h0m8 38h0m1 3h0m0-18h0m4-8h0m3-1h0m4 25h0m3 2h0m3 1h0m10 8h0m3-16h0m7-31h0m4 2h0m1 23h0m10 5h0m11-20h0m3-10h0m4 45h0m0-18h0m12-22h0m6 33h0m4 5h0m2-18h0m2 6h0m11-1h0m0 3h0m5-32h0m2-1h0m-2 63h0m-10 36h0m-2-29h0m0 2h0m-10 30h0m-5-30h0m-1-14h0m-3 45h0m-6-11h0m-3 16h0m-3-17h0m-3-14h0m-10 2h0m-1 25h0m0 3h0m-14-3h0m-2-21h0m0 23h0m-3-13h0m-13 14h0m-1-42h0m-2 42h0m-7-33h0m-10 3h0m0-9h0m-3 29h0m-1-16h0m-4 32h0m-6-19h0m-3-23h0m-9 41h0m-6-39h0m-4 10h0m-2 19h0m-15-43h0m-4 23h0m-1-23h0m-1 43h0m-1-12h0m-5-33h0m-3 35h0m0-23h0m-4 24h0m-7 15h0m-1-7h0m-6-41h0m-3 36h0m0 3h0m0 8h0m-1 7h0m-4-6h0m-2 0h0m-1-22h0m0-15h0m-9-6h0m-2 15h0m-5 20h0m-2-9h0m-9-12h0m-17-18h0m-1 21h0m-20 27h0m-2-17h0m-7 2h0m0-4h0m-15-26h0m-1 30h0m-10-25h0m-8 30h0m-1-22h0m-3-5h0m-2 3h0m-10 31h0m-2 9h0m-2-58h0m-1 35h0m-5-17h0m-2 26h0m-2 8h0m-1 6h0m-2-53h0m-5-3h0m-7 37h0m-1-23h0m-5 8h0m-5-19h0m21 89h0m3-17h0m0-5h0m1 41h0m1-38h0m17-2h0m1 26h0m4-10h0m5-20h0m3 4h0m6-8h0m11 52h0m4-57h0m15 32h0m3-13h0m10 17h0m6-12h0m3-9h0m13 17h0m4-13h0m8 4h0m17-20h0m1 1h0m4 22h0m3-16h0m1 47h0m1-52h0m14 17h0m1 2h0m11 19h0m2-32h0m5 18h0m7 0h0m1-10h0m3-5h0m8 9h0m12-23h0m2 49h0m3-13h0m2-19h0m2-5h0m0 17h0m4-18h0m3 45h0m1-21h0m2-20h0m1 39h0m1-42h0m2 10h0m8 26h0m2-36h0m15 28h0m27 14h0m0-55h0m4 27h0m3 32h0m20-22h0m2-25h0m2 9h0m12-21h0m5 7h0m0 15h0m0-9h0m1-7h0m-28 55h0m-9 7h0m-3 8h0m-4 8h0m-5 2h0m-9-2h0m-5 6h0m-6-3h0m-1 12h0m-22-17h0m-9-13h0m-6 43h0m-1-10h0m-3 11h0m-10-40h0m-9-5h0m0 4h0m-17-10h0m-3 23h0m-3 26h0m-8 1h0m-1-17h0m-1-13h0m-12-3h0m-2 37h0m-6-1h0m-1-2h0m-3-38h0m-2 13h0m-9-4h0m-3 17h0m-2-34h0m-6 19h0m-6-13h0m-18 39h0m-2-27h0m-2-15h0m-4 43h0m-2-8h0m-11 4h0m-1-19h0m-5 12h0m-6 6h0m-2-48h0m-5 11h0m-10 19h0m-1 6h0m-3-25h0m-1 4h0m0 8h0m-10-10h0m-8 2h0m-10-2h0m-5-6h0m96 74h0m8-2h0m4-18h0m5 17h0m4-1h0m5 7h0m23-17h0m23 10h0m0-14h0m1 1h0m8 5h0m10 14h0m9-17h0m8-4h0" stroke="#E0453A" stroke-width="18"/>
</g>
</svg>
</body></html>
